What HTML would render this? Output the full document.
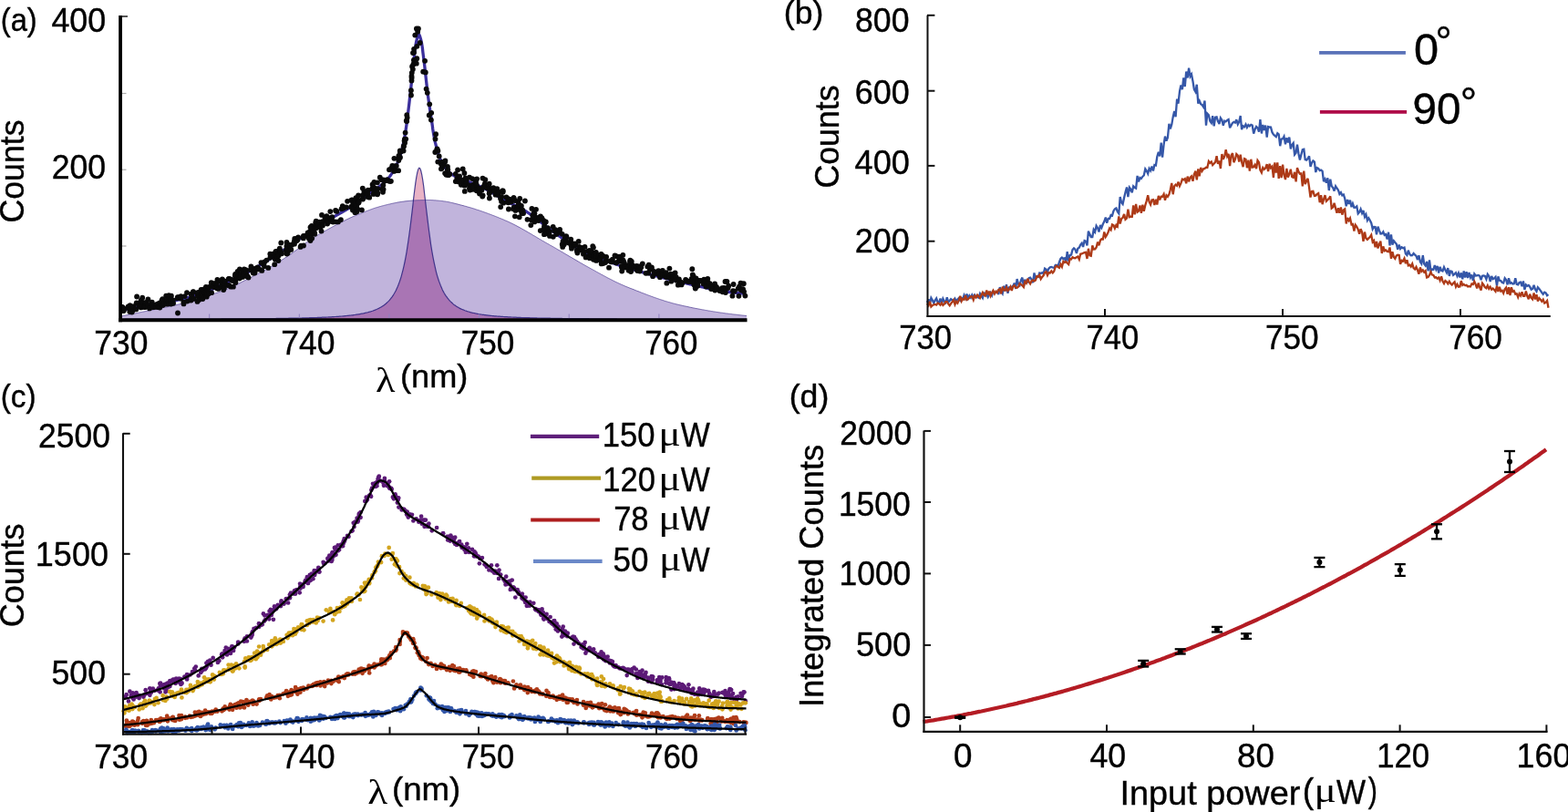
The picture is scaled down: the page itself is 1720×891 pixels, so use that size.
<!DOCTYPE html>
<html><head><meta charset="utf-8"><title>Figure</title>
<style>
html,body{margin:0;padding:0;background:#fff;width:1720px;height:891px;overflow:hidden}
svg{display:block}
text{font-family:'Liberation Sans', Arial, sans-serif;stroke:#000;stroke-width:0.4px;}
</style></head>
<body>
<svg width="1720" height="891" viewBox="0 0 1720 891">
<rect width="1720" height="891" fill="#fff"/>
<path d="M131.0,347.5 L132.0,347.3 L133.0,347.1 L134.0,346.9 L134.9,346.7 L135.9,346.4 L136.9,346.2 L137.9,346.0 L138.9,345.8 L139.9,345.6 L140.8,345.4 L141.8,345.2 L142.8,345.0 L143.8,344.8 L144.8,344.6 L145.8,344.4 L146.7,344.2 L147.7,344.0 L148.7,343.8 L149.7,343.6 L150.7,343.4 L151.7,343.2 L152.7,343.0 L153.6,342.8 L154.6,342.6 L155.6,342.4 L156.6,342.2 L157.6,342.0 L158.6,341.8 L159.5,341.6 L160.5,341.4 L161.5,341.2 L162.5,341.0 L163.5,340.8 L164.5,340.6 L165.4,340.4 L166.4,340.2 L167.4,340.0 L168.4,339.8 L169.4,339.6 L170.4,339.5 L171.4,339.3 L172.3,339.1 L173.3,338.8 L174.3,338.6 L175.3,338.4 L176.3,338.2 L177.3,338.0 L178.2,337.8 L179.2,337.6 L180.2,337.4 L181.2,337.2 L182.2,337.0 L183.2,336.8 L184.2,336.6 L185.1,336.4 L186.1,336.2 L187.1,336.0 L188.1,335.8 L189.1,335.6 L190.1,335.3 L191.0,335.1 L192.0,334.9 L193.0,334.7 L194.0,334.5 L195.0,334.2 L196.0,334.0 L196.9,333.8 L197.9,333.5 L198.9,333.3 L199.9,333.0 L200.9,332.8 L201.9,332.5 L202.9,332.2 L203.8,332.0 L204.8,331.7 L205.8,331.4 L206.8,331.1 L207.8,330.8 L208.8,330.5 L209.7,330.2 L210.7,329.9 L211.7,329.6 L212.7,329.3 L213.7,329.0 L214.7,328.7 L215.6,328.4 L216.6,328.0 L217.6,327.7 L218.6,327.4 L219.6,327.1 L220.6,326.8 L221.6,326.5 L222.5,326.1 L223.5,325.8 L224.5,325.5 L225.5,325.2 L226.5,324.9 L227.5,324.6 L228.4,324.3 L229.4,324.0 L230.4,323.7 L231.4,323.4 L232.4,323.1 L233.4,322.7 L234.3,322.4 L235.3,322.1 L236.3,321.8 L237.3,321.5 L238.3,321.1 L239.3,320.8 L240.3,320.5 L241.2,320.1 L242.2,319.8 L243.2,319.4 L244.2,319.1 L245.2,318.7 L246.2,318.3 L247.1,317.9 L248.1,317.5 L249.1,317.1 L250.1,316.7 L251.1,316.3 L252.1,315.9 L253.0,315.4 L254.0,315.0 L255.0,314.5 L256.0,314.0 L257.0,313.6 L258.0,313.1 L259.0,312.6 L259.9,312.1 L260.9,311.6 L261.9,311.1 L262.9,310.6 L263.9,310.1 L264.9,309.6 L265.8,309.1 L266.8,308.6 L267.8,308.1 L268.8,307.6 L269.8,307.1 L270.8,306.6 L271.7,306.1 L272.7,305.6 L273.7,305.1 L274.7,304.6 L275.7,304.2 L276.7,303.7 L277.7,303.2 L278.6,302.7 L279.6,302.2 L280.6,301.7 L281.6,301.2 L282.6,300.7 L283.6,300.1 L284.5,299.6 L285.5,299.1 L286.5,298.6 L287.5,298.1 L288.5,297.5 L289.5,297.0 L290.5,296.5 L291.4,295.9 L292.4,295.4 L293.4,294.8 L294.4,294.3 L295.4,293.7 L296.4,293.1 L297.3,292.6 L298.3,292.0 L299.3,291.4 L300.3,290.8 L301.3,290.2 L302.3,289.6 L303.2,289.0 L304.2,288.4 L305.2,287.8 L306.2,287.2 L307.2,286.6 L308.2,286.0 L309.2,285.3 L310.1,284.7 L311.1,284.1 L312.1,283.4 L313.1,282.8 L314.1,282.1 L315.1,281.5 L316.0,280.8 L317.0,280.2 L318.0,279.5 L319.0,278.8 L320.0,278.1 L321.0,277.4 L321.9,276.7 L322.9,276.0 L323.9,275.2 L324.9,274.5 L325.9,273.8 L326.9,273.0 L327.9,272.2 L328.8,271.5 L329.8,270.7 L330.8,270.0 L331.8,269.2 L332.8,268.5 L333.8,267.8 L334.7,267.1 L335.7,266.4 L336.7,265.7 L337.7,265.0 L338.7,264.3 L339.7,263.7 L340.6,263.0 L341.6,262.4 L342.6,261.7 L343.6,261.1 L344.6,260.5 L345.6,259.9 L346.6,259.3 L347.5,258.7 L348.5,258.1 L349.5,257.5 L350.5,256.9 L351.5,256.3 L352.5,255.8 L353.4,255.2 L354.4,254.6 L355.4,254.1 L356.4,253.5 L357.4,253.0 L358.4,252.4 L359.3,251.9 L360.3,251.3 L361.3,250.8 L362.3,250.3 L363.3,249.7 L364.3,249.2 L365.3,248.7 L366.2,248.2 L367.2,247.6 L368.2,247.1 L369.2,246.6 L370.2,246.1 L371.2,245.6 L372.1,245.0 L373.1,244.5 L374.1,244.0 L375.1,243.5 L376.1,243.0 L377.1,242.5 L378.1,242.0 L379.0,241.5 L380.0,241.0 L381.0,240.5 L382.0,240.1 L383.0,239.6 L384.0,239.1 L384.9,238.7 L385.9,238.3 L386.9,237.8 L387.9,237.4 L388.9,237.0 L389.9,236.6 L390.8,236.2 L391.8,235.8 L392.8,235.4 L393.8,235.0 L394.8,234.6 L395.8,234.2 L396.8,233.8 L397.7,233.4 L398.7,233.0 L399.7,232.6 L400.7,232.2 L401.7,231.8 L402.7,231.4 L403.6,231.0 L404.6,230.7 L405.6,230.3 L406.6,229.9 L407.6,229.6 L408.6,229.2 L409.5,228.9 L410.5,228.5 L411.5,228.2 L412.5,227.9 L413.5,227.6 L414.5,227.3 L415.5,227.0 L416.4,226.7 L417.4,226.5 L418.4,226.2 L419.4,225.9 L420.4,225.7 L421.4,225.4 L422.3,225.2 L423.3,224.9 L424.3,224.7 L425.3,224.4 L426.3,224.2 L427.3,224.0 L428.2,223.8 L429.2,223.5 L430.2,223.3 L431.2,223.1 L432.2,222.9 L433.2,222.7 L434.2,222.5 L435.1,222.3 L436.1,222.1 L437.1,221.9 L438.1,221.8 L439.1,221.6 L440.1,221.5 L441.0,221.3 L442.0,221.2 L443.0,221.1 L444.0,220.9 L445.0,220.8 L446.0,220.7 L446.9,220.6 L447.9,220.5 L448.9,220.4 L449.9,220.3 L450.9,220.2 L451.9,220.1 L452.9,220.0 L453.8,220.0 L454.8,219.9 L455.8,219.9 L456.8,219.8 L457.8,219.8 L458.8,219.7 L459.7,219.7 L460.7,219.7 L461.7,219.6 L462.7,219.6 L463.7,219.6 L464.7,219.6 L465.6,219.5 L466.6,219.5 L467.6,219.5 L468.6,219.5 L469.6,219.5 L470.6,219.5 L471.6,219.5 L472.5,219.5 L473.5,219.6 L474.5,219.6 L475.5,219.7 L476.5,219.8 L477.5,219.8 L478.4,219.9 L479.4,220.0 L480.4,220.1 L481.4,220.2 L482.4,220.3 L483.4,220.4 L484.4,220.5 L485.3,220.6 L486.3,220.8 L487.3,220.9 L488.3,221.0 L489.3,221.2 L490.3,221.4 L491.2,221.5 L492.2,221.7 L493.2,221.9 L494.2,222.2 L495.2,222.4 L496.2,222.6 L497.1,222.8 L498.1,223.1 L499.1,223.3 L500.1,223.6 L501.1,223.8 L502.1,224.1 L503.1,224.3 L504.0,224.6 L505.0,224.9 L506.0,225.1 L507.0,225.4 L508.0,225.6 L509.0,225.9 L509.9,226.2 L510.9,226.4 L511.9,226.7 L512.9,227.0 L513.9,227.3 L514.9,227.5 L515.8,227.8 L516.8,228.1 L517.8,228.4 L518.8,228.7 L519.8,229.0 L520.8,229.3 L521.8,229.7 L522.7,230.0 L523.7,230.3 L524.7,230.6 L525.7,230.9 L526.7,231.3 L527.7,231.6 L528.6,231.9 L529.6,232.3 L530.6,232.6 L531.6,233.0 L532.6,233.3 L533.6,233.7 L534.5,234.0 L535.5,234.4 L536.5,234.8 L537.5,235.1 L538.5,235.5 L539.5,235.9 L540.5,236.3 L541.4,236.6 L542.4,237.0 L543.4,237.4 L544.4,237.8 L545.4,238.2 L546.4,238.6 L547.3,239.0 L548.3,239.4 L549.3,239.8 L550.3,240.2 L551.3,240.6 L552.3,241.0 L553.2,241.5 L554.2,241.9 L555.2,242.3 L556.2,242.7 L557.2,243.2 L558.2,243.6 L559.2,244.1 L560.1,244.6 L561.1,245.0 L562.1,245.5 L563.1,246.0 L564.1,246.5 L565.1,247.0 L566.0,247.5 L567.0,248.0 L568.0,248.6 L569.0,249.1 L570.0,249.6 L571.0,250.2 L571.9,250.7 L572.9,251.3 L573.9,251.8 L574.9,252.4 L575.9,252.9 L576.9,253.5 L577.9,254.1 L578.8,254.6 L579.8,255.2 L580.8,255.8 L581.8,256.3 L582.8,256.9 L583.8,257.5 L584.7,258.1 L585.7,258.7 L586.7,259.2 L587.7,259.8 L588.7,260.4 L589.7,261.0 L590.7,261.6 L591.6,262.2 L592.6,262.7 L593.6,263.3 L594.6,263.9 L595.6,264.5 L596.6,265.0 L597.5,265.6 L598.5,266.2 L599.5,266.7 L600.5,267.3 L601.5,267.8 L602.5,268.4 L603.4,269.0 L604.4,269.5 L605.4,270.1 L606.4,270.6 L607.4,271.2 L608.4,271.8 L609.4,272.3 L610.3,272.9 L611.3,273.5 L612.3,274.1 L613.3,274.6 L614.3,275.2 L615.3,275.8 L616.2,276.4 L617.2,276.9 L618.2,277.5 L619.2,278.1 L620.2,278.7 L621.2,279.3 L622.1,279.8 L623.1,280.4 L624.1,281.0 L625.1,281.6 L626.1,282.2 L627.1,282.7 L628.1,283.3 L629.0,283.9 L630.0,284.5 L631.0,285.0 L632.0,285.6 L633.0,286.2 L634.0,286.8 L634.9,287.3 L635.9,287.9 L636.9,288.5 L637.9,289.0 L638.9,289.6 L639.9,290.2 L640.8,290.7 L641.8,291.3 L642.8,291.8 L643.8,292.4 L644.8,292.9 L645.8,293.5 L646.8,294.0 L647.7,294.6 L648.7,295.1 L649.7,295.7 L650.7,296.2 L651.7,296.7 L652.7,297.3 L653.6,297.8 L654.6,298.4 L655.6,298.9 L656.6,299.5 L657.6,300.0 L658.6,300.5 L659.5,301.1 L660.5,301.6 L661.5,302.1 L662.5,302.7 L663.5,303.2 L664.5,303.7 L665.5,304.3 L666.4,304.8 L667.4,305.3 L668.4,305.8 L669.4,306.3 L670.4,306.8 L671.4,307.3 L672.3,307.8 L673.3,308.3 L674.3,308.8 L675.3,309.3 L676.3,309.8 L677.3,310.2 L678.3,310.7 L679.2,311.1 L680.2,311.6 L681.2,312.0 L682.2,312.5 L683.2,312.9 L684.2,313.3 L685.1,313.8 L686.1,314.2 L687.1,314.6 L688.1,315.0 L689.1,315.4 L690.1,315.8 L691.0,316.2 L692.0,316.6 L693.0,316.9 L694.0,317.3 L695.0,317.7 L696.0,318.1 L697.0,318.5 L697.9,318.9 L698.9,319.3 L699.9,319.6 L700.9,320.0 L701.9,320.4 L702.9,320.8 L703.8,321.2 L704.8,321.6 L705.8,321.9 L706.8,322.3 L707.8,322.7 L708.8,323.1 L709.7,323.4 L710.7,323.8 L711.7,324.2 L712.7,324.5 L713.7,324.9 L714.7,325.3 L715.7,325.6 L716.6,326.0 L717.6,326.3 L718.6,326.7 L719.6,327.0 L720.6,327.4 L721.6,327.7 L722.5,328.0 L723.5,328.4 L724.5,328.7 L725.5,329.0 L726.5,329.3 L727.5,329.6 L728.4,330.0 L729.4,330.3 L730.4,330.6 L731.4,330.9 L732.4,331.2 L733.4,331.5 L734.4,331.7 L735.3,332.0 L736.3,332.3 L737.3,332.6 L738.3,332.9 L739.3,333.1 L740.3,333.4 L741.2,333.6 L742.2,333.9 L743.2,334.1 L744.2,334.3 L745.2,334.6 L746.2,334.8 L747.1,335.0 L748.1,335.2 L749.1,335.5 L750.1,335.7 L751.1,335.9 L752.1,336.1 L753.1,336.3 L754.0,336.5 L755.0,336.7 L756.0,337.0 L757.0,337.2 L758.0,337.4 L759.0,337.6 L759.9,337.8 L760.9,338.0 L761.9,338.2 L762.9,338.4 L763.9,338.6 L764.9,338.7 L765.8,338.9 L766.8,339.1 L767.8,339.3 L768.8,339.5 L769.8,339.7 L770.8,339.9 L771.8,340.0 L772.7,340.2 L773.7,340.4 L774.7,340.6 L775.7,340.7 L776.7,340.9 L777.7,341.1 L778.6,341.2 L779.6,341.4 L780.6,341.6 L781.6,341.7 L782.6,341.9 L783.6,342.0 L784.6,342.2 L785.5,342.3 L786.5,342.5 L787.5,342.6 L788.5,342.8 L789.5,342.9 L790.5,343.1 L791.4,343.2 L792.4,343.3 L793.4,343.5 L794.4,343.6 L795.4,343.8 L796.4,343.9 L797.3,344.0 L798.3,344.1 L799.3,344.3 L800.3,344.4 L801.3,344.5 L802.3,344.6 L803.3,344.8 L804.2,344.9 L805.2,345.0 L806.2,345.1 L807.2,345.2 L808.2,345.3 L809.2,345.5 L810.1,345.6 L811.1,345.7 L812.1,345.8 L813.1,345.9 L814.1,346.0 L815.1,346.1 L816.0,346.2 L817.0,346.3 L818.0,346.4 L819.0,346.5 L819,350.5 L131,350.5 Z" fill="#c1b4dc" stroke="none"/>
<path d="M131.0,350.3 L132.0,350.3 L133.0,350.3 L134.0,350.3 L134.9,350.3 L135.9,350.3 L136.9,350.3 L137.9,350.2 L138.9,350.2 L139.9,350.2 L140.8,350.2 L141.8,350.2 L142.8,350.2 L143.8,350.2 L144.8,350.2 L145.8,350.2 L146.7,350.2 L147.7,350.2 L148.7,350.2 L149.7,350.2 L150.7,350.2 L151.7,350.2 L152.7,350.2 L153.6,350.2 L154.6,350.2 L155.6,350.2 L156.6,350.2 L157.6,350.2 L158.6,350.2 L159.5,350.2 L160.5,350.2 L161.5,350.2 L162.5,350.2 L163.5,350.2 L164.5,350.2 L165.4,350.2 L166.4,350.2 L167.4,350.2 L168.4,350.2 L169.4,350.2 L170.4,350.2 L171.4,350.2 L172.3,350.2 L173.3,350.2 L174.3,350.2 L175.3,350.2 L176.3,350.2 L177.3,350.2 L178.2,350.2 L179.2,350.2 L180.2,350.2 L181.2,350.2 L182.2,350.2 L183.2,350.2 L184.2,350.2 L185.1,350.2 L186.1,350.2 L187.1,350.2 L188.1,350.1 L189.1,350.1 L190.1,350.1 L191.0,350.1 L192.0,350.1 L193.0,350.1 L194.0,350.1 L195.0,350.1 L196.0,350.1 L196.9,350.1 L197.9,350.1 L198.9,350.1 L199.9,350.1 L200.9,350.1 L201.9,350.1 L202.9,350.1 L203.8,350.1 L204.8,350.1 L205.8,350.1 L206.8,350.1 L207.8,350.1 L208.8,350.1 L209.7,350.1 L210.7,350.1 L211.7,350.1 L212.7,350.1 L213.7,350.1 L214.7,350.1 L215.6,350.1 L216.6,350.1 L217.6,350.1 L218.6,350.1 L219.6,350.1 L220.6,350.0 L221.6,350.0 L222.5,350.0 L223.5,350.0 L224.5,350.0 L225.5,350.0 L226.5,350.0 L227.5,350.0 L228.4,350.0 L229.4,350.0 L230.4,350.0 L231.4,350.0 L232.4,350.0 L233.4,350.0 L234.3,350.0 L235.3,350.0 L236.3,350.0 L237.3,350.0 L238.3,350.0 L239.3,350.0 L240.3,350.0 L241.2,350.0 L242.2,350.0 L243.2,349.9 L244.2,349.9 L245.2,349.9 L246.2,349.9 L247.1,349.9 L248.1,349.9 L249.1,349.9 L250.1,349.9 L251.1,349.9 L252.1,349.9 L253.0,349.9 L254.0,349.9 L255.0,349.9 L256.0,349.9 L257.0,349.9 L258.0,349.9 L259.0,349.9 L259.9,349.9 L260.9,349.8 L261.9,349.8 L262.9,349.8 L263.9,349.8 L264.9,349.8 L265.8,349.8 L266.8,349.8 L267.8,349.8 L268.8,349.8 L269.8,349.8 L270.8,349.8 L271.7,349.8 L272.7,349.8 L273.7,349.8 L274.7,349.7 L275.7,349.7 L276.7,349.7 L277.7,349.7 L278.6,349.7 L279.6,349.7 L280.6,349.7 L281.6,349.7 L282.6,349.7 L283.6,349.7 L284.5,349.7 L285.5,349.7 L286.5,349.6 L287.5,349.6 L288.5,349.6 L289.5,349.6 L290.5,349.6 L291.4,349.6 L292.4,349.6 L293.4,349.6 L294.4,349.6 L295.4,349.5 L296.4,349.5 L297.3,349.5 L298.3,349.5 L299.3,349.5 L300.3,349.5 L301.3,349.5 L302.3,349.5 L303.2,349.4 L304.2,349.4 L305.2,349.4 L306.2,349.4 L307.2,349.4 L308.2,349.4 L309.2,349.4 L310.1,349.4 L311.1,349.3 L312.1,349.3 L313.1,349.3 L314.1,349.3 L315.1,349.3 L316.0,349.3 L317.0,349.2 L318.0,349.2 L319.0,349.2 L320.0,349.2 L321.0,349.2 L321.9,349.1 L322.9,349.1 L323.9,349.1 L324.9,349.1 L325.9,349.1 L326.9,349.0 L327.9,349.0 L328.8,349.0 L329.8,349.0 L330.8,349.0 L331.8,348.9 L332.8,348.9 L333.8,348.9 L334.7,348.9 L335.7,348.8 L336.7,348.8 L337.7,348.8 L338.7,348.8 L339.7,348.7 L340.6,348.7 L341.6,348.7 L342.6,348.6 L343.6,348.6 L344.6,348.6 L345.6,348.5 L346.6,348.5 L347.5,348.5 L348.5,348.4 L349.5,348.4 L350.5,348.4 L351.5,348.3 L352.5,348.3 L353.4,348.2 L354.4,348.2 L355.4,348.2 L356.4,348.1 L357.4,348.1 L358.4,348.0 L359.3,348.0 L360.3,347.9 L361.3,347.9 L362.3,347.8 L363.3,347.8 L364.3,347.7 L365.3,347.7 L366.2,347.6 L367.2,347.5 L368.2,347.5 L369.2,347.4 L370.2,347.3 L371.2,347.3 L372.1,347.2 L373.1,347.1 L374.1,347.0 L375.1,347.0 L376.1,346.9 L377.1,346.8 L378.1,346.7 L379.0,346.6 L380.0,346.5 L381.0,346.4 L382.0,346.3 L383.0,346.2 L384.0,346.1 L384.9,346.0 L385.9,345.9 L386.9,345.8 L387.9,345.6 L388.9,345.5 L389.9,345.4 L390.8,345.2 L391.8,345.1 L392.8,344.9 L393.8,344.8 L394.8,344.6 L395.8,344.4 L396.8,344.2 L397.7,344.1 L398.7,343.9 L399.7,343.6 L400.7,343.4 L401.7,343.2 L402.7,343.0 L403.6,342.7 L404.6,342.4 L405.6,342.2 L406.6,341.9 L407.6,341.5 L408.6,341.2 L409.5,340.9 L410.5,340.5 L411.5,340.1 L412.5,339.7 L413.5,339.3 L414.5,338.8 L415.5,338.4 L416.4,337.8 L417.4,337.3 L418.4,336.7 L419.4,336.1 L420.4,335.4 L421.4,334.7 L422.3,334.0 L423.3,333.2 L424.3,332.3 L425.3,331.4 L426.3,330.4 L427.3,329.3 L428.2,328.2 L429.2,326.9 L430.2,325.6 L431.2,324.1 L432.2,322.5 L433.2,320.8 L434.2,319.0 L435.1,316.9 L436.1,314.7 L437.1,312.3 L438.1,309.6 L439.1,306.7 L440.1,303.6 L441.0,300.1 L442.0,296.3 L443.0,292.1 L444.0,287.5 L445.0,282.4 L446.0,276.9 L446.9,270.9 L447.9,264.4 L448.9,257.3 L449.9,249.8 L450.9,241.9 L451.9,233.6 L452.9,225.1 L453.8,216.6 L454.8,208.5 L455.8,200.9 L456.8,194.4 L457.8,189.2 L458.8,185.7 L459.7,184.2 L460.7,184.7 L461.7,187.2 L462.7,191.5 L463.7,197.4 L464.7,204.4 L465.6,212.3 L466.6,220.7 L467.6,229.2 L468.6,237.6 L469.6,245.7 L470.6,253.5 L471.6,260.8 L472.5,267.6 L473.5,273.8 L474.5,279.6 L475.5,284.9 L476.5,289.7 L477.5,294.1 L478.4,298.1 L479.4,301.8 L480.4,305.1 L481.4,308.2 L482.4,310.9 L483.4,313.5 L484.4,315.8 L485.3,317.9 L486.3,319.9 L487.3,321.7 L488.3,323.3 L489.3,324.8 L490.3,326.2 L491.2,327.5 L492.2,328.7 L493.2,329.8 L494.2,330.9 L495.2,331.8 L496.2,332.7 L497.1,333.6 L498.1,334.4 L499.1,335.1 L500.1,335.8 L501.1,336.4 L502.1,337.0 L503.1,337.6 L504.0,338.1 L505.0,338.6 L506.0,339.1 L507.0,339.5 L508.0,339.9 L509.0,340.3 L509.9,340.7 L510.9,341.0 L511.9,341.4 L512.9,341.7 L513.9,342.0 L514.9,342.3 L515.8,342.6 L516.8,342.8 L517.8,343.1 L518.8,343.3 L519.8,343.5 L520.8,343.7 L521.8,344.0 L522.7,344.1 L523.7,344.3 L524.7,344.5 L525.7,344.7 L526.7,344.8 L527.7,345.0 L528.6,345.2 L529.6,345.3 L530.6,345.4 L531.6,345.6 L532.6,345.7 L533.6,345.8 L534.5,345.9 L535.5,346.1 L536.5,346.2 L537.5,346.3 L538.5,346.4 L539.5,346.5 L540.5,346.6 L541.4,346.7 L542.4,346.8 L543.4,346.8 L544.4,346.9 L545.4,347.0 L546.4,347.1 L547.3,347.2 L548.3,347.2 L549.3,347.3 L550.3,347.4 L551.3,347.4 L552.3,347.5 L553.2,347.6 L554.2,347.6 L555.2,347.7 L556.2,347.7 L557.2,347.8 L558.2,347.8 L559.2,347.9 L560.1,347.9 L561.1,348.0 L562.1,348.0 L563.1,348.1 L564.1,348.1 L565.1,348.2 L566.0,348.2 L567.0,348.3 L568.0,348.3 L569.0,348.3 L570.0,348.4 L571.0,348.4 L571.9,348.5 L572.9,348.5 L573.9,348.5 L574.9,348.6 L575.9,348.6 L576.9,348.6 L577.9,348.6 L578.8,348.7 L579.8,348.7 L580.8,348.7 L581.8,348.8 L582.8,348.8 L583.8,348.8 L584.7,348.8 L585.7,348.9 L586.7,348.9 L587.7,348.9 L588.7,348.9 L589.7,349.0 L590.7,349.0 L591.6,349.0 L592.6,349.0 L593.6,349.1 L594.6,349.1 L595.6,349.1 L596.6,349.1 L597.5,349.1 L598.5,349.2 L599.5,349.2 L600.5,349.2 L601.5,349.2 L602.5,349.2 L603.4,349.2 L604.4,349.3 L605.4,349.3 L606.4,349.3 L607.4,349.3 L608.4,349.3 L609.4,349.3 L610.3,349.4 L611.3,349.4 L612.3,349.4 L613.3,349.4 L614.3,349.4 L615.3,349.4 L616.2,349.4 L617.2,349.5 L618.2,349.5 L619.2,349.5 L620.2,349.5 L621.2,349.5 L622.1,349.5 L623.1,349.5 L624.1,349.5 L625.1,349.6 L626.1,349.6 L627.1,349.6 L628.1,349.6 L629.0,349.6 L630.0,349.6 L631.0,349.6 L632.0,349.6 L633.0,349.6 L634.0,349.6 L634.9,349.7 L635.9,349.7 L636.9,349.7 L637.9,349.7 L638.9,349.7 L639.9,349.7 L640.8,349.7 L641.8,349.7 L642.8,349.7 L643.8,349.7 L644.8,349.7 L645.8,349.7 L646.8,349.8 L647.7,349.8 L648.7,349.8 L649.7,349.8 L650.7,349.8 L651.7,349.8 L652.7,349.8 L653.6,349.8 L654.6,349.8 L655.6,349.8 L656.6,349.8 L657.6,349.8 L658.6,349.8 L659.5,349.8 L660.5,349.9 L661.5,349.9 L662.5,349.9 L663.5,349.9 L664.5,349.9 L665.5,349.9 L666.4,349.9 L667.4,349.9 L668.4,349.9 L669.4,349.9 L670.4,349.9 L671.4,349.9 L672.3,349.9 L673.3,349.9 L674.3,349.9 L675.3,349.9 L676.3,349.9 L677.3,350.0 L678.3,350.0 L679.2,350.0 L680.2,350.0 L681.2,350.0 L682.2,350.0 L683.2,350.0 L684.2,350.0 L685.1,350.0 L686.1,350.0 L687.1,350.0 L688.1,350.0 L689.1,350.0 L690.1,350.0 L691.0,350.0 L692.0,350.0 L693.0,350.0 L694.0,350.0 L695.0,350.0 L696.0,350.0 L697.0,350.0 L697.9,350.0 L698.9,350.0 L699.9,350.0 L700.9,350.1 L701.9,350.1 L702.9,350.1 L703.8,350.1 L704.8,350.1 L705.8,350.1 L706.8,350.1 L707.8,350.1 L708.8,350.1 L709.7,350.1 L710.7,350.1 L711.7,350.1 L712.7,350.1 L713.7,350.1 L714.7,350.1 L715.7,350.1 L716.6,350.1 L717.6,350.1 L718.6,350.1 L719.6,350.1 L720.6,350.1 L721.6,350.1 L722.5,350.1 L723.5,350.1 L724.5,350.1 L725.5,350.1 L726.5,350.1 L727.5,350.1 L728.4,350.1 L729.4,350.1 L730.4,350.1 L731.4,350.1 L732.4,350.2 L733.4,350.2 L734.4,350.2 L735.3,350.2 L736.3,350.2 L737.3,350.2 L738.3,350.2 L739.3,350.2 L740.3,350.2 L741.2,350.2 L742.2,350.2 L743.2,350.2 L744.2,350.2 L745.2,350.2 L746.2,350.2 L747.1,350.2 L748.1,350.2 L749.1,350.2 L750.1,350.2 L751.1,350.2 L752.1,350.2 L753.1,350.2 L754.0,350.2 L755.0,350.2 L756.0,350.2 L757.0,350.2 L758.0,350.2 L759.0,350.2 L759.9,350.2 L760.9,350.2 L761.9,350.2 L762.9,350.2 L763.9,350.2 L764.9,350.2 L765.8,350.2 L766.8,350.2 L767.8,350.2 L768.8,350.2 L769.8,350.2 L770.8,350.2 L771.8,350.2 L772.7,350.2 L773.7,350.2 L774.7,350.2 L775.7,350.2 L776.7,350.2 L777.7,350.2 L778.6,350.2 L779.6,350.2 L780.6,350.2 L781.6,350.2 L782.6,350.3 L783.6,350.3 L784.6,350.3 L785.5,350.3 L786.5,350.3 L787.5,350.3 L788.5,350.3 L789.5,350.3 L790.5,350.3 L791.4,350.3 L792.4,350.3 L793.4,350.3 L794.4,350.3 L795.4,350.3 L796.4,350.3 L797.3,350.3 L798.3,350.3 L799.3,350.3 L800.3,350.3 L801.3,350.3 L802.3,350.3 L803.3,350.3 L804.2,350.3 L805.2,350.3 L806.2,350.3 L807.2,350.3 L808.2,350.3 L809.2,350.3 L810.1,350.3 L811.1,350.3 L812.1,350.3 L813.1,350.3 L814.1,350.3 L815.1,350.3 L816.0,350.3 L817.0,350.3 L818.0,350.3 L819.0,350.3 L819,350.5 L131,350.5 Z" fill="#e9b3c6" stroke="none"/>
<path d="M131.0,350.3 L132.0,350.3 L133.0,350.3 L134.0,350.3 L134.9,350.3 L135.9,350.3 L136.9,350.3 L137.9,350.2 L138.9,350.2 L139.9,350.2 L140.8,350.2 L141.8,350.2 L142.8,350.2 L143.8,350.2 L144.8,350.2 L145.8,350.2 L146.7,350.2 L147.7,350.2 L148.7,350.2 L149.7,350.2 L150.7,350.2 L151.7,350.2 L152.7,350.2 L153.6,350.2 L154.6,350.2 L155.6,350.2 L156.6,350.2 L157.6,350.2 L158.6,350.2 L159.5,350.2 L160.5,350.2 L161.5,350.2 L162.5,350.2 L163.5,350.2 L164.5,350.2 L165.4,350.2 L166.4,350.2 L167.4,350.2 L168.4,350.2 L169.4,350.2 L170.4,350.2 L171.4,350.2 L172.3,350.2 L173.3,350.2 L174.3,350.2 L175.3,350.2 L176.3,350.2 L177.3,350.2 L178.2,350.2 L179.2,350.2 L180.2,350.2 L181.2,350.2 L182.2,350.2 L183.2,350.2 L184.2,350.2 L185.1,350.2 L186.1,350.2 L187.1,350.2 L188.1,350.1 L189.1,350.1 L190.1,350.1 L191.0,350.1 L192.0,350.1 L193.0,350.1 L194.0,350.1 L195.0,350.1 L196.0,350.1 L196.9,350.1 L197.9,350.1 L198.9,350.1 L199.9,350.1 L200.9,350.1 L201.9,350.1 L202.9,350.1 L203.8,350.1 L204.8,350.1 L205.8,350.1 L206.8,350.1 L207.8,350.1 L208.8,350.1 L209.7,350.1 L210.7,350.1 L211.7,350.1 L212.7,350.1 L213.7,350.1 L214.7,350.1 L215.6,350.1 L216.6,350.1 L217.6,350.1 L218.6,350.1 L219.6,350.1 L220.6,350.0 L221.6,350.0 L222.5,350.0 L223.5,350.0 L224.5,350.0 L225.5,350.0 L226.5,350.0 L227.5,350.0 L228.4,350.0 L229.4,350.0 L230.4,350.0 L231.4,350.0 L232.4,350.0 L233.4,350.0 L234.3,350.0 L235.3,350.0 L236.3,350.0 L237.3,350.0 L238.3,350.0 L239.3,350.0 L240.3,350.0 L241.2,350.0 L242.2,350.0 L243.2,349.9 L244.2,349.9 L245.2,349.9 L246.2,349.9 L247.1,349.9 L248.1,349.9 L249.1,349.9 L250.1,349.9 L251.1,349.9 L252.1,349.9 L253.0,349.9 L254.0,349.9 L255.0,349.9 L256.0,349.9 L257.0,349.9 L258.0,349.9 L259.0,349.9 L259.9,349.9 L260.9,349.8 L261.9,349.8 L262.9,349.8 L263.9,349.8 L264.9,349.8 L265.8,349.8 L266.8,349.8 L267.8,349.8 L268.8,349.8 L269.8,349.8 L270.8,349.8 L271.7,349.8 L272.7,349.8 L273.7,349.8 L274.7,349.7 L275.7,349.7 L276.7,349.7 L277.7,349.7 L278.6,349.7 L279.6,349.7 L280.6,349.7 L281.6,349.7 L282.6,349.7 L283.6,349.7 L284.5,349.7 L285.5,349.7 L286.5,349.6 L287.5,349.6 L288.5,349.6 L289.5,349.6 L290.5,349.6 L291.4,349.6 L292.4,349.6 L293.4,349.6 L294.4,349.6 L295.4,349.5 L296.4,349.5 L297.3,349.5 L298.3,349.5 L299.3,349.5 L300.3,349.5 L301.3,349.5 L302.3,349.5 L303.2,349.4 L304.2,349.4 L305.2,349.4 L306.2,349.4 L307.2,349.4 L308.2,349.4 L309.2,349.4 L310.1,349.4 L311.1,349.3 L312.1,349.3 L313.1,349.3 L314.1,349.3 L315.1,349.3 L316.0,349.3 L317.0,349.2 L318.0,349.2 L319.0,349.2 L320.0,349.2 L321.0,349.2 L321.9,349.1 L322.9,349.1 L323.9,349.1 L324.9,349.1 L325.9,349.1 L326.9,349.0 L327.9,349.0 L328.8,349.0 L329.8,349.0 L330.8,349.0 L331.8,348.9 L332.8,348.9 L333.8,348.9 L334.7,348.9 L335.7,348.8 L336.7,348.8 L337.7,348.8 L338.7,348.8 L339.7,348.7 L340.6,348.7 L341.6,348.7 L342.6,348.6 L343.6,348.6 L344.6,348.6 L345.6,348.5 L346.6,348.5 L347.5,348.5 L348.5,348.4 L349.5,348.4 L350.5,348.4 L351.5,348.3 L352.5,348.3 L353.4,348.2 L354.4,348.2 L355.4,348.2 L356.4,348.1 L357.4,348.1 L358.4,348.0 L359.3,348.0 L360.3,347.9 L361.3,347.9 L362.3,347.8 L363.3,347.8 L364.3,347.7 L365.3,347.7 L366.2,347.6 L367.2,347.5 L368.2,347.5 L369.2,347.4 L370.2,347.3 L371.2,347.3 L372.1,347.2 L373.1,347.1 L374.1,347.0 L375.1,347.0 L376.1,346.9 L377.1,346.8 L378.1,346.7 L379.0,346.6 L380.0,346.5 L381.0,346.4 L382.0,346.3 L383.0,346.2 L384.0,346.1 L384.9,346.0 L385.9,345.9 L386.9,345.8 L387.9,345.6 L388.9,345.5 L389.9,345.4 L390.8,345.2 L391.8,345.1 L392.8,344.9 L393.8,344.8 L394.8,344.6 L395.8,344.4 L396.8,344.2 L397.7,344.1 L398.7,343.9 L399.7,343.6 L400.7,343.4 L401.7,343.2 L402.7,343.0 L403.6,342.7 L404.6,342.4 L405.6,342.2 L406.6,341.9 L407.6,341.5 L408.6,341.2 L409.5,340.9 L410.5,340.5 L411.5,340.1 L412.5,339.7 L413.5,339.3 L414.5,338.8 L415.5,338.4 L416.4,337.8 L417.4,337.3 L418.4,336.7 L419.4,336.1 L420.4,335.4 L421.4,334.7 L422.3,334.0 L423.3,333.2 L424.3,332.3 L425.3,331.4 L426.3,330.4 L427.3,329.3 L428.2,328.2 L429.2,326.9 L430.2,325.6 L431.2,324.1 L432.2,322.5 L433.2,320.8 L434.2,319.0 L435.1,316.9 L436.1,314.7 L437.1,312.3 L438.1,309.6 L439.1,306.7 L440.1,303.6 L441.0,300.1 L442.0,296.3 L443.0,292.1 L444.0,287.5 L445.0,282.4 L446.0,276.9 L446.9,270.9 L447.9,264.4 L448.9,257.3 L449.9,249.8 L450.9,241.9 L451.9,233.6 L452.9,225.1 L453.8,220.0 L454.8,219.9 L455.8,219.9 L456.8,219.8 L457.8,219.8 L458.8,219.7 L459.7,219.7 L460.7,219.7 L461.7,219.6 L462.7,219.6 L463.7,219.6 L464.7,219.6 L465.6,219.5 L466.6,220.7 L467.6,229.2 L468.6,237.6 L469.6,245.7 L470.6,253.5 L471.6,260.8 L472.5,267.6 L473.5,273.8 L474.5,279.6 L475.5,284.9 L476.5,289.7 L477.5,294.1 L478.4,298.1 L479.4,301.8 L480.4,305.1 L481.4,308.2 L482.4,310.9 L483.4,313.5 L484.4,315.8 L485.3,317.9 L486.3,319.9 L487.3,321.7 L488.3,323.3 L489.3,324.8 L490.3,326.2 L491.2,327.5 L492.2,328.7 L493.2,329.8 L494.2,330.9 L495.2,331.8 L496.2,332.7 L497.1,333.6 L498.1,334.4 L499.1,335.1 L500.1,335.8 L501.1,336.4 L502.1,337.0 L503.1,337.6 L504.0,338.1 L505.0,338.6 L506.0,339.1 L507.0,339.5 L508.0,339.9 L509.0,340.3 L509.9,340.7 L510.9,341.0 L511.9,341.4 L512.9,341.7 L513.9,342.0 L514.9,342.3 L515.8,342.6 L516.8,342.8 L517.8,343.1 L518.8,343.3 L519.8,343.5 L520.8,343.7 L521.8,344.0 L522.7,344.1 L523.7,344.3 L524.7,344.5 L525.7,344.7 L526.7,344.8 L527.7,345.0 L528.6,345.2 L529.6,345.3 L530.6,345.4 L531.6,345.6 L532.6,345.7 L533.6,345.8 L534.5,345.9 L535.5,346.1 L536.5,346.2 L537.5,346.3 L538.5,346.4 L539.5,346.5 L540.5,346.6 L541.4,346.7 L542.4,346.8 L543.4,346.8 L544.4,346.9 L545.4,347.0 L546.4,347.1 L547.3,347.2 L548.3,347.2 L549.3,347.3 L550.3,347.4 L551.3,347.4 L552.3,347.5 L553.2,347.6 L554.2,347.6 L555.2,347.7 L556.2,347.7 L557.2,347.8 L558.2,347.8 L559.2,347.9 L560.1,347.9 L561.1,348.0 L562.1,348.0 L563.1,348.1 L564.1,348.1 L565.1,348.2 L566.0,348.2 L567.0,348.3 L568.0,348.3 L569.0,348.3 L570.0,348.4 L571.0,348.4 L571.9,348.5 L572.9,348.5 L573.9,348.5 L574.9,348.6 L575.9,348.6 L576.9,348.6 L577.9,348.6 L578.8,348.7 L579.8,348.7 L580.8,348.7 L581.8,348.8 L582.8,348.8 L583.8,348.8 L584.7,348.8 L585.7,348.9 L586.7,348.9 L587.7,348.9 L588.7,348.9 L589.7,349.0 L590.7,349.0 L591.6,349.0 L592.6,349.0 L593.6,349.1 L594.6,349.1 L595.6,349.1 L596.6,349.1 L597.5,349.1 L598.5,349.2 L599.5,349.2 L600.5,349.2 L601.5,349.2 L602.5,349.2 L603.4,349.2 L604.4,349.3 L605.4,349.3 L606.4,349.3 L607.4,349.3 L608.4,349.3 L609.4,349.3 L610.3,349.4 L611.3,349.4 L612.3,349.4 L613.3,349.4 L614.3,349.4 L615.3,349.4 L616.2,349.4 L617.2,349.5 L618.2,349.5 L619.2,349.5 L620.2,349.5 L621.2,349.5 L622.1,349.5 L623.1,349.5 L624.1,349.5 L625.1,349.6 L626.1,349.6 L627.1,349.6 L628.1,349.6 L629.0,349.6 L630.0,349.6 L631.0,349.6 L632.0,349.6 L633.0,349.6 L634.0,349.6 L634.9,349.7 L635.9,349.7 L636.9,349.7 L637.9,349.7 L638.9,349.7 L639.9,349.7 L640.8,349.7 L641.8,349.7 L642.8,349.7 L643.8,349.7 L644.8,349.7 L645.8,349.7 L646.8,349.8 L647.7,349.8 L648.7,349.8 L649.7,349.8 L650.7,349.8 L651.7,349.8 L652.7,349.8 L653.6,349.8 L654.6,349.8 L655.6,349.8 L656.6,349.8 L657.6,349.8 L658.6,349.8 L659.5,349.8 L660.5,349.9 L661.5,349.9 L662.5,349.9 L663.5,349.9 L664.5,349.9 L665.5,349.9 L666.4,349.9 L667.4,349.9 L668.4,349.9 L669.4,349.9 L670.4,349.9 L671.4,349.9 L672.3,349.9 L673.3,349.9 L674.3,349.9 L675.3,349.9 L676.3,349.9 L677.3,350.0 L678.3,350.0 L679.2,350.0 L680.2,350.0 L681.2,350.0 L682.2,350.0 L683.2,350.0 L684.2,350.0 L685.1,350.0 L686.1,350.0 L687.1,350.0 L688.1,350.0 L689.1,350.0 L690.1,350.0 L691.0,350.0 L692.0,350.0 L693.0,350.0 L694.0,350.0 L695.0,350.0 L696.0,350.0 L697.0,350.0 L697.9,350.0 L698.9,350.0 L699.9,350.0 L700.9,350.1 L701.9,350.1 L702.9,350.1 L703.8,350.1 L704.8,350.1 L705.8,350.1 L706.8,350.1 L707.8,350.1 L708.8,350.1 L709.7,350.1 L710.7,350.1 L711.7,350.1 L712.7,350.1 L713.7,350.1 L714.7,350.1 L715.7,350.1 L716.6,350.1 L717.6,350.1 L718.6,350.1 L719.6,350.1 L720.6,350.1 L721.6,350.1 L722.5,350.1 L723.5,350.1 L724.5,350.1 L725.5,350.1 L726.5,350.1 L727.5,350.1 L728.4,350.1 L729.4,350.1 L730.4,350.1 L731.4,350.1 L732.4,350.2 L733.4,350.2 L734.4,350.2 L735.3,350.2 L736.3,350.2 L737.3,350.2 L738.3,350.2 L739.3,350.2 L740.3,350.2 L741.2,350.2 L742.2,350.2 L743.2,350.2 L744.2,350.2 L745.2,350.2 L746.2,350.2 L747.1,350.2 L748.1,350.2 L749.1,350.2 L750.1,350.2 L751.1,350.2 L752.1,350.2 L753.1,350.2 L754.0,350.2 L755.0,350.2 L756.0,350.2 L757.0,350.2 L758.0,350.2 L759.0,350.2 L759.9,350.2 L760.9,350.2 L761.9,350.2 L762.9,350.2 L763.9,350.2 L764.9,350.2 L765.8,350.2 L766.8,350.2 L767.8,350.2 L768.8,350.2 L769.8,350.2 L770.8,350.2 L771.8,350.2 L772.7,350.2 L773.7,350.2 L774.7,350.2 L775.7,350.2 L776.7,350.2 L777.7,350.2 L778.6,350.2 L779.6,350.2 L780.6,350.2 L781.6,350.2 L782.6,350.3 L783.6,350.3 L784.6,350.3 L785.5,350.3 L786.5,350.3 L787.5,350.3 L788.5,350.3 L789.5,350.3 L790.5,350.3 L791.4,350.3 L792.4,350.3 L793.4,350.3 L794.4,350.3 L795.4,350.3 L796.4,350.3 L797.3,350.3 L798.3,350.3 L799.3,350.3 L800.3,350.3 L801.3,350.3 L802.3,350.3 L803.3,350.3 L804.2,350.3 L805.2,350.3 L806.2,350.3 L807.2,350.3 L808.2,350.3 L809.2,350.3 L810.1,350.3 L811.1,350.3 L812.1,350.3 L813.1,350.3 L814.1,350.3 L815.1,350.3 L816.0,350.3 L817.0,350.3 L818.0,350.3 L819.0,350.3 L819,350.5 L131,350.5 Z" fill="#a975b4" stroke="none"/>
<path d="M131.0,347.5 L132.0,347.3 L133.0,347.1 L134.0,346.9 L134.9,346.7 L135.9,346.4 L136.9,346.2 L137.9,346.0 L138.9,345.8 L139.9,345.6 L140.8,345.4 L141.8,345.2 L142.8,345.0 L143.8,344.8 L144.8,344.6 L145.8,344.4 L146.7,344.2 L147.7,344.0 L148.7,343.8 L149.7,343.6 L150.7,343.4 L151.7,343.2 L152.7,343.0 L153.6,342.8 L154.6,342.6 L155.6,342.4 L156.6,342.2 L157.6,342.0 L158.6,341.8 L159.5,341.6 L160.5,341.4 L161.5,341.2 L162.5,341.0 L163.5,340.8 L164.5,340.6 L165.4,340.4 L166.4,340.2 L167.4,340.0 L168.4,339.8 L169.4,339.6 L170.4,339.5 L171.4,339.3 L172.3,339.1 L173.3,338.8 L174.3,338.6 L175.3,338.4 L176.3,338.2 L177.3,338.0 L178.2,337.8 L179.2,337.6 L180.2,337.4 L181.2,337.2 L182.2,337.0 L183.2,336.8 L184.2,336.6 L185.1,336.4 L186.1,336.2 L187.1,336.0 L188.1,335.8 L189.1,335.6 L190.1,335.3 L191.0,335.1 L192.0,334.9 L193.0,334.7 L194.0,334.5 L195.0,334.2 L196.0,334.0 L196.9,333.8 L197.9,333.5 L198.9,333.3 L199.9,333.0 L200.9,332.8 L201.9,332.5 L202.9,332.2 L203.8,332.0 L204.8,331.7 L205.8,331.4 L206.8,331.1 L207.8,330.8 L208.8,330.5 L209.7,330.2 L210.7,329.9 L211.7,329.6 L212.7,329.3 L213.7,329.0 L214.7,328.7 L215.6,328.4 L216.6,328.0 L217.6,327.7 L218.6,327.4 L219.6,327.1 L220.6,326.8 L221.6,326.5 L222.5,326.1 L223.5,325.8 L224.5,325.5 L225.5,325.2 L226.5,324.9 L227.5,324.6 L228.4,324.3 L229.4,324.0 L230.4,323.7 L231.4,323.4 L232.4,323.1 L233.4,322.7 L234.3,322.4 L235.3,322.1 L236.3,321.8 L237.3,321.5 L238.3,321.1 L239.3,320.8 L240.3,320.5 L241.2,320.1 L242.2,319.8 L243.2,319.4 L244.2,319.1 L245.2,318.7 L246.2,318.3 L247.1,317.9 L248.1,317.5 L249.1,317.1 L250.1,316.7 L251.1,316.3 L252.1,315.9 L253.0,315.4 L254.0,315.0 L255.0,314.5 L256.0,314.0 L257.0,313.6 L258.0,313.1 L259.0,312.6 L259.9,312.1 L260.9,311.6 L261.9,311.1 L262.9,310.6 L263.9,310.1 L264.9,309.6 L265.8,309.1 L266.8,308.6 L267.8,308.1 L268.8,307.6 L269.8,307.1 L270.8,306.6 L271.7,306.1 L272.7,305.6 L273.7,305.1 L274.7,304.6 L275.7,304.2 L276.7,303.7 L277.7,303.2 L278.6,302.7 L279.6,302.2 L280.6,301.7 L281.6,301.2 L282.6,300.7 L283.6,300.1 L284.5,299.6 L285.5,299.1 L286.5,298.6 L287.5,298.1 L288.5,297.5 L289.5,297.0 L290.5,296.5 L291.4,295.9 L292.4,295.4 L293.4,294.8 L294.4,294.3 L295.4,293.7 L296.4,293.1 L297.3,292.6 L298.3,292.0 L299.3,291.4 L300.3,290.8 L301.3,290.2 L302.3,289.6 L303.2,289.0 L304.2,288.4 L305.2,287.8 L306.2,287.2 L307.2,286.6 L308.2,286.0 L309.2,285.3 L310.1,284.7 L311.1,284.1 L312.1,283.4 L313.1,282.8 L314.1,282.1 L315.1,281.5 L316.0,280.8 L317.0,280.2 L318.0,279.5 L319.0,278.8 L320.0,278.1 L321.0,277.4 L321.9,276.7 L322.9,276.0 L323.9,275.2 L324.9,274.5 L325.9,273.8 L326.9,273.0 L327.9,272.2 L328.8,271.5 L329.8,270.7 L330.8,270.0 L331.8,269.2 L332.8,268.5 L333.8,267.8 L334.7,267.1 L335.7,266.4 L336.7,265.7 L337.7,265.0 L338.7,264.3 L339.7,263.7 L340.6,263.0 L341.6,262.4 L342.6,261.7 L343.6,261.1 L344.6,260.5 L345.6,259.9 L346.6,259.3 L347.5,258.7 L348.5,258.1 L349.5,257.5 L350.5,256.9 L351.5,256.3 L352.5,255.8 L353.4,255.2 L354.4,254.6 L355.4,254.1 L356.4,253.5 L357.4,253.0 L358.4,252.4 L359.3,251.9 L360.3,251.3 L361.3,250.8 L362.3,250.3 L363.3,249.7 L364.3,249.2 L365.3,248.7 L366.2,248.2 L367.2,247.6 L368.2,247.1 L369.2,246.6 L370.2,246.1 L371.2,245.6 L372.1,245.0 L373.1,244.5 L374.1,244.0 L375.1,243.5 L376.1,243.0 L377.1,242.5 L378.1,242.0 L379.0,241.5 L380.0,241.0 L381.0,240.5 L382.0,240.1 L383.0,239.6 L384.0,239.1 L384.9,238.7 L385.9,238.3 L386.9,237.8 L387.9,237.4 L388.9,237.0 L389.9,236.6 L390.8,236.2 L391.8,235.8 L392.8,235.4 L393.8,235.0 L394.8,234.6 L395.8,234.2 L396.8,233.8 L397.7,233.4 L398.7,233.0 L399.7,232.6 L400.7,232.2 L401.7,231.8 L402.7,231.4 L403.6,231.0 L404.6,230.7 L405.6,230.3 L406.6,229.9 L407.6,229.6 L408.6,229.2 L409.5,228.9 L410.5,228.5 L411.5,228.2 L412.5,227.9 L413.5,227.6 L414.5,227.3 L415.5,227.0 L416.4,226.7 L417.4,226.5 L418.4,226.2 L419.4,225.9 L420.4,225.7 L421.4,225.4 L422.3,225.2 L423.3,224.9 L424.3,224.7 L425.3,224.4 L426.3,224.2 L427.3,224.0 L428.2,223.8 L429.2,223.5 L430.2,223.3 L431.2,223.1 L432.2,222.9 L433.2,222.7 L434.2,222.5 L435.1,222.3 L436.1,222.1 L437.1,221.9 L438.1,221.8 L439.1,221.6 L440.1,221.5 L441.0,221.3 L442.0,221.2 L443.0,221.1 L444.0,220.9 L445.0,220.8 L446.0,220.7 L446.9,220.6 L447.9,220.5 L448.9,220.4 L449.9,220.3 L450.9,220.2 L451.9,220.1 L452.9,220.0 L453.8,220.0 L454.8,219.9 L455.8,219.9 L456.8,219.8 L457.8,219.8 L458.8,219.7 L459.7,219.7 L460.7,219.7 L461.7,219.6 L462.7,219.6 L463.7,219.6 L464.7,219.6 L465.6,219.5 L466.6,219.5 L467.6,219.5 L468.6,219.5 L469.6,219.5 L470.6,219.5 L471.6,219.5 L472.5,219.5 L473.5,219.6 L474.5,219.6 L475.5,219.7 L476.5,219.8 L477.5,219.8 L478.4,219.9 L479.4,220.0 L480.4,220.1 L481.4,220.2 L482.4,220.3 L483.4,220.4 L484.4,220.5 L485.3,220.6 L486.3,220.8 L487.3,220.9 L488.3,221.0 L489.3,221.2 L490.3,221.4 L491.2,221.5 L492.2,221.7 L493.2,221.9 L494.2,222.2 L495.2,222.4 L496.2,222.6 L497.1,222.8 L498.1,223.1 L499.1,223.3 L500.1,223.6 L501.1,223.8 L502.1,224.1 L503.1,224.3 L504.0,224.6 L505.0,224.9 L506.0,225.1 L507.0,225.4 L508.0,225.6 L509.0,225.9 L509.9,226.2 L510.9,226.4 L511.9,226.7 L512.9,227.0 L513.9,227.3 L514.9,227.5 L515.8,227.8 L516.8,228.1 L517.8,228.4 L518.8,228.7 L519.8,229.0 L520.8,229.3 L521.8,229.7 L522.7,230.0 L523.7,230.3 L524.7,230.6 L525.7,230.9 L526.7,231.3 L527.7,231.6 L528.6,231.9 L529.6,232.3 L530.6,232.6 L531.6,233.0 L532.6,233.3 L533.6,233.7 L534.5,234.0 L535.5,234.4 L536.5,234.8 L537.5,235.1 L538.5,235.5 L539.5,235.9 L540.5,236.3 L541.4,236.6 L542.4,237.0 L543.4,237.4 L544.4,237.8 L545.4,238.2 L546.4,238.6 L547.3,239.0 L548.3,239.4 L549.3,239.8 L550.3,240.2 L551.3,240.6 L552.3,241.0 L553.2,241.5 L554.2,241.9 L555.2,242.3 L556.2,242.7 L557.2,243.2 L558.2,243.6 L559.2,244.1 L560.1,244.6 L561.1,245.0 L562.1,245.5 L563.1,246.0 L564.1,246.5 L565.1,247.0 L566.0,247.5 L567.0,248.0 L568.0,248.6 L569.0,249.1 L570.0,249.6 L571.0,250.2 L571.9,250.7 L572.9,251.3 L573.9,251.8 L574.9,252.4 L575.9,252.9 L576.9,253.5 L577.9,254.1 L578.8,254.6 L579.8,255.2 L580.8,255.8 L581.8,256.3 L582.8,256.9 L583.8,257.5 L584.7,258.1 L585.7,258.7 L586.7,259.2 L587.7,259.8 L588.7,260.4 L589.7,261.0 L590.7,261.6 L591.6,262.2 L592.6,262.7 L593.6,263.3 L594.6,263.9 L595.6,264.5 L596.6,265.0 L597.5,265.6 L598.5,266.2 L599.5,266.7 L600.5,267.3 L601.5,267.8 L602.5,268.4 L603.4,269.0 L604.4,269.5 L605.4,270.1 L606.4,270.6 L607.4,271.2 L608.4,271.8 L609.4,272.3 L610.3,272.9 L611.3,273.5 L612.3,274.1 L613.3,274.6 L614.3,275.2 L615.3,275.8 L616.2,276.4 L617.2,276.9 L618.2,277.5 L619.2,278.1 L620.2,278.7 L621.2,279.3 L622.1,279.8 L623.1,280.4 L624.1,281.0 L625.1,281.6 L626.1,282.2 L627.1,282.7 L628.1,283.3 L629.0,283.9 L630.0,284.5 L631.0,285.0 L632.0,285.6 L633.0,286.2 L634.0,286.8 L634.9,287.3 L635.9,287.9 L636.9,288.5 L637.9,289.0 L638.9,289.6 L639.9,290.2 L640.8,290.7 L641.8,291.3 L642.8,291.8 L643.8,292.4 L644.8,292.9 L645.8,293.5 L646.8,294.0 L647.7,294.6 L648.7,295.1 L649.7,295.7 L650.7,296.2 L651.7,296.7 L652.7,297.3 L653.6,297.8 L654.6,298.4 L655.6,298.9 L656.6,299.5 L657.6,300.0 L658.6,300.5 L659.5,301.1 L660.5,301.6 L661.5,302.1 L662.5,302.7 L663.5,303.2 L664.5,303.7 L665.5,304.3 L666.4,304.8 L667.4,305.3 L668.4,305.8 L669.4,306.3 L670.4,306.8 L671.4,307.3 L672.3,307.8 L673.3,308.3 L674.3,308.8 L675.3,309.3 L676.3,309.8 L677.3,310.2 L678.3,310.7 L679.2,311.1 L680.2,311.6 L681.2,312.0 L682.2,312.5 L683.2,312.9 L684.2,313.3 L685.1,313.8 L686.1,314.2 L687.1,314.6 L688.1,315.0 L689.1,315.4 L690.1,315.8 L691.0,316.2 L692.0,316.6 L693.0,316.9 L694.0,317.3 L695.0,317.7 L696.0,318.1 L697.0,318.5 L697.9,318.9 L698.9,319.3 L699.9,319.6 L700.9,320.0 L701.9,320.4 L702.9,320.8 L703.8,321.2 L704.8,321.6 L705.8,321.9 L706.8,322.3 L707.8,322.7 L708.8,323.1 L709.7,323.4 L710.7,323.8 L711.7,324.2 L712.7,324.5 L713.7,324.9 L714.7,325.3 L715.7,325.6 L716.6,326.0 L717.6,326.3 L718.6,326.7 L719.6,327.0 L720.6,327.4 L721.6,327.7 L722.5,328.0 L723.5,328.4 L724.5,328.7 L725.5,329.0 L726.5,329.3 L727.5,329.6 L728.4,330.0 L729.4,330.3 L730.4,330.6 L731.4,330.9 L732.4,331.2 L733.4,331.5 L734.4,331.7 L735.3,332.0 L736.3,332.3 L737.3,332.6 L738.3,332.9 L739.3,333.1 L740.3,333.4 L741.2,333.6 L742.2,333.9 L743.2,334.1 L744.2,334.3 L745.2,334.6 L746.2,334.8 L747.1,335.0 L748.1,335.2 L749.1,335.5 L750.1,335.7 L751.1,335.9 L752.1,336.1 L753.1,336.3 L754.0,336.5 L755.0,336.7 L756.0,337.0 L757.0,337.2 L758.0,337.4 L759.0,337.6 L759.9,337.8 L760.9,338.0 L761.9,338.2 L762.9,338.4 L763.9,338.6 L764.9,338.7 L765.8,338.9 L766.8,339.1 L767.8,339.3 L768.8,339.5 L769.8,339.7 L770.8,339.9 L771.8,340.0 L772.7,340.2 L773.7,340.4 L774.7,340.6 L775.7,340.7 L776.7,340.9 L777.7,341.1 L778.6,341.2 L779.6,341.4 L780.6,341.6 L781.6,341.7 L782.6,341.9 L783.6,342.0 L784.6,342.2 L785.5,342.3 L786.5,342.5 L787.5,342.6 L788.5,342.8 L789.5,342.9 L790.5,343.1 L791.4,343.2 L792.4,343.3 L793.4,343.5 L794.4,343.6 L795.4,343.8 L796.4,343.9 L797.3,344.0 L798.3,344.1 L799.3,344.3 L800.3,344.4 L801.3,344.5 L802.3,344.6 L803.3,344.8 L804.2,344.9 L805.2,345.0 L806.2,345.1 L807.2,345.2 L808.2,345.3 L809.2,345.5 L810.1,345.6 L811.1,345.7 L812.1,345.8 L813.1,345.9 L814.1,346.0 L815.1,346.1 L816.0,346.2 L817.0,346.3 L818.0,346.4 L819.0,346.5" fill="none" stroke="#5a4a9a" stroke-width="1" opacity="0.8"/>
<path d="M131.0,350.3 L132.0,350.3 L133.0,350.3 L134.0,350.3 L134.9,350.3 L135.9,350.3 L136.9,350.3 L137.9,350.2 L138.9,350.2 L139.9,350.2 L140.8,350.2 L141.8,350.2 L142.8,350.2 L143.8,350.2 L144.8,350.2 L145.8,350.2 L146.7,350.2 L147.7,350.2 L148.7,350.2 L149.7,350.2 L150.7,350.2 L151.7,350.2 L152.7,350.2 L153.6,350.2 L154.6,350.2 L155.6,350.2 L156.6,350.2 L157.6,350.2 L158.6,350.2 L159.5,350.2 L160.5,350.2 L161.5,350.2 L162.5,350.2 L163.5,350.2 L164.5,350.2 L165.4,350.2 L166.4,350.2 L167.4,350.2 L168.4,350.2 L169.4,350.2 L170.4,350.2 L171.4,350.2 L172.3,350.2 L173.3,350.2 L174.3,350.2 L175.3,350.2 L176.3,350.2 L177.3,350.2 L178.2,350.2 L179.2,350.2 L180.2,350.2 L181.2,350.2 L182.2,350.2 L183.2,350.2 L184.2,350.2 L185.1,350.2 L186.1,350.2 L187.1,350.2 L188.1,350.1 L189.1,350.1 L190.1,350.1 L191.0,350.1 L192.0,350.1 L193.0,350.1 L194.0,350.1 L195.0,350.1 L196.0,350.1 L196.9,350.1 L197.9,350.1 L198.9,350.1 L199.9,350.1 L200.9,350.1 L201.9,350.1 L202.9,350.1 L203.8,350.1 L204.8,350.1 L205.8,350.1 L206.8,350.1 L207.8,350.1 L208.8,350.1 L209.7,350.1 L210.7,350.1 L211.7,350.1 L212.7,350.1 L213.7,350.1 L214.7,350.1 L215.6,350.1 L216.6,350.1 L217.6,350.1 L218.6,350.1 L219.6,350.1 L220.6,350.0 L221.6,350.0 L222.5,350.0 L223.5,350.0 L224.5,350.0 L225.5,350.0 L226.5,350.0 L227.5,350.0 L228.4,350.0 L229.4,350.0 L230.4,350.0 L231.4,350.0 L232.4,350.0 L233.4,350.0 L234.3,350.0 L235.3,350.0 L236.3,350.0 L237.3,350.0 L238.3,350.0 L239.3,350.0 L240.3,350.0 L241.2,350.0 L242.2,350.0 L243.2,349.9 L244.2,349.9 L245.2,349.9 L246.2,349.9 L247.1,349.9 L248.1,349.9 L249.1,349.9 L250.1,349.9 L251.1,349.9 L252.1,349.9 L253.0,349.9 L254.0,349.9 L255.0,349.9 L256.0,349.9 L257.0,349.9 L258.0,349.9 L259.0,349.9 L259.9,349.9 L260.9,349.8 L261.9,349.8 L262.9,349.8 L263.9,349.8 L264.9,349.8 L265.8,349.8 L266.8,349.8 L267.8,349.8 L268.8,349.8 L269.8,349.8 L270.8,349.8 L271.7,349.8 L272.7,349.8 L273.7,349.8 L274.7,349.7 L275.7,349.7 L276.7,349.7 L277.7,349.7 L278.6,349.7 L279.6,349.7 L280.6,349.7 L281.6,349.7 L282.6,349.7 L283.6,349.7 L284.5,349.7 L285.5,349.7 L286.5,349.6 L287.5,349.6 L288.5,349.6 L289.5,349.6 L290.5,349.6 L291.4,349.6 L292.4,349.6 L293.4,349.6 L294.4,349.6 L295.4,349.5 L296.4,349.5 L297.3,349.5 L298.3,349.5 L299.3,349.5 L300.3,349.5 L301.3,349.5 L302.3,349.5 L303.2,349.4 L304.2,349.4 L305.2,349.4 L306.2,349.4 L307.2,349.4 L308.2,349.4 L309.2,349.4 L310.1,349.4 L311.1,349.3 L312.1,349.3 L313.1,349.3 L314.1,349.3 L315.1,349.3 L316.0,349.3 L317.0,349.2 L318.0,349.2 L319.0,349.2 L320.0,349.2 L321.0,349.2 L321.9,349.1 L322.9,349.1 L323.9,349.1 L324.9,349.1 L325.9,349.1 L326.9,349.0 L327.9,349.0 L328.8,349.0 L329.8,349.0 L330.8,349.0 L331.8,348.9 L332.8,348.9 L333.8,348.9 L334.7,348.9 L335.7,348.8 L336.7,348.8 L337.7,348.8 L338.7,348.8 L339.7,348.7 L340.6,348.7 L341.6,348.7 L342.6,348.6 L343.6,348.6 L344.6,348.6 L345.6,348.5 L346.6,348.5 L347.5,348.5 L348.5,348.4 L349.5,348.4 L350.5,348.4 L351.5,348.3 L352.5,348.3 L353.4,348.2 L354.4,348.2 L355.4,348.2 L356.4,348.1 L357.4,348.1 L358.4,348.0 L359.3,348.0 L360.3,347.9 L361.3,347.9 L362.3,347.8 L363.3,347.8 L364.3,347.7 L365.3,347.7 L366.2,347.6 L367.2,347.5 L368.2,347.5 L369.2,347.4 L370.2,347.3 L371.2,347.3 L372.1,347.2 L373.1,347.1 L374.1,347.0 L375.1,347.0 L376.1,346.9 L377.1,346.8 L378.1,346.7 L379.0,346.6 L380.0,346.5 L381.0,346.4 L382.0,346.3 L383.0,346.2 L384.0,346.1 L384.9,346.0 L385.9,345.9 L386.9,345.8 L387.9,345.6 L388.9,345.5 L389.9,345.4 L390.8,345.2 L391.8,345.1 L392.8,344.9 L393.8,344.8 L394.8,344.6 L395.8,344.4 L396.8,344.2 L397.7,344.1 L398.7,343.9 L399.7,343.6 L400.7,343.4 L401.7,343.2 L402.7,343.0 L403.6,342.7 L404.6,342.4 L405.6,342.2 L406.6,341.9 L407.6,341.5 L408.6,341.2 L409.5,340.9 L410.5,340.5 L411.5,340.1 L412.5,339.7 L413.5,339.3 L414.5,338.8 L415.5,338.4 L416.4,337.8 L417.4,337.3 L418.4,336.7 L419.4,336.1 L420.4,335.4 L421.4,334.7 L422.3,334.0 L423.3,333.2 L424.3,332.3 L425.3,331.4 L426.3,330.4 L427.3,329.3 L428.2,328.2 L429.2,326.9 L430.2,325.6 L431.2,324.1 L432.2,322.5 L433.2,320.8 L434.2,319.0 L435.1,316.9 L436.1,314.7 L437.1,312.3 L438.1,309.6 L439.1,306.7 L440.1,303.6 L441.0,300.1 L442.0,296.3 L443.0,292.1 L444.0,287.5 L445.0,282.4 L446.0,276.9 L446.9,270.9 L447.9,264.4 L448.9,257.3 L449.9,249.8 L450.9,241.9 L451.9,233.6 L452.9,225.1 L453.8,216.6 L454.8,208.5 L455.8,200.9 L456.8,194.4 L457.8,189.2 L458.8,185.7 L459.7,184.2 L460.7,184.7 L461.7,187.2 L462.7,191.5 L463.7,197.4 L464.7,204.4 L465.6,212.3 L466.6,220.7 L467.6,229.2 L468.6,237.6 L469.6,245.7 L470.6,253.5 L471.6,260.8 L472.5,267.6 L473.5,273.8 L474.5,279.6 L475.5,284.9 L476.5,289.7 L477.5,294.1 L478.4,298.1 L479.4,301.8 L480.4,305.1 L481.4,308.2 L482.4,310.9 L483.4,313.5 L484.4,315.8 L485.3,317.9 L486.3,319.9 L487.3,321.7 L488.3,323.3 L489.3,324.8 L490.3,326.2 L491.2,327.5 L492.2,328.7 L493.2,329.8 L494.2,330.9 L495.2,331.8 L496.2,332.7 L497.1,333.6 L498.1,334.4 L499.1,335.1 L500.1,335.8 L501.1,336.4 L502.1,337.0 L503.1,337.6 L504.0,338.1 L505.0,338.6 L506.0,339.1 L507.0,339.5 L508.0,339.9 L509.0,340.3 L509.9,340.7 L510.9,341.0 L511.9,341.4 L512.9,341.7 L513.9,342.0 L514.9,342.3 L515.8,342.6 L516.8,342.8 L517.8,343.1 L518.8,343.3 L519.8,343.5 L520.8,343.7 L521.8,344.0 L522.7,344.1 L523.7,344.3 L524.7,344.5 L525.7,344.7 L526.7,344.8 L527.7,345.0 L528.6,345.2 L529.6,345.3 L530.6,345.4 L531.6,345.6 L532.6,345.7 L533.6,345.8 L534.5,345.9 L535.5,346.1 L536.5,346.2 L537.5,346.3 L538.5,346.4 L539.5,346.5 L540.5,346.6 L541.4,346.7 L542.4,346.8 L543.4,346.8 L544.4,346.9 L545.4,347.0 L546.4,347.1 L547.3,347.2 L548.3,347.2 L549.3,347.3 L550.3,347.4 L551.3,347.4 L552.3,347.5 L553.2,347.6 L554.2,347.6 L555.2,347.7 L556.2,347.7 L557.2,347.8 L558.2,347.8 L559.2,347.9 L560.1,347.9 L561.1,348.0 L562.1,348.0 L563.1,348.1 L564.1,348.1 L565.1,348.2 L566.0,348.2 L567.0,348.3 L568.0,348.3 L569.0,348.3 L570.0,348.4 L571.0,348.4 L571.9,348.5 L572.9,348.5 L573.9,348.5 L574.9,348.6 L575.9,348.6 L576.9,348.6 L577.9,348.6 L578.8,348.7 L579.8,348.7 L580.8,348.7 L581.8,348.8 L582.8,348.8 L583.8,348.8 L584.7,348.8 L585.7,348.9 L586.7,348.9 L587.7,348.9 L588.7,348.9 L589.7,349.0 L590.7,349.0 L591.6,349.0 L592.6,349.0 L593.6,349.1 L594.6,349.1 L595.6,349.1 L596.6,349.1 L597.5,349.1 L598.5,349.2 L599.5,349.2 L600.5,349.2 L601.5,349.2 L602.5,349.2 L603.4,349.2 L604.4,349.3 L605.4,349.3 L606.4,349.3 L607.4,349.3 L608.4,349.3 L609.4,349.3 L610.3,349.4 L611.3,349.4 L612.3,349.4 L613.3,349.4 L614.3,349.4 L615.3,349.4 L616.2,349.4 L617.2,349.5 L618.2,349.5 L619.2,349.5 L620.2,349.5 L621.2,349.5 L622.1,349.5 L623.1,349.5 L624.1,349.5 L625.1,349.6 L626.1,349.6 L627.1,349.6 L628.1,349.6 L629.0,349.6 L630.0,349.6 L631.0,349.6 L632.0,349.6 L633.0,349.6 L634.0,349.6 L634.9,349.7 L635.9,349.7 L636.9,349.7 L637.9,349.7 L638.9,349.7 L639.9,349.7 L640.8,349.7 L641.8,349.7 L642.8,349.7 L643.8,349.7 L644.8,349.7 L645.8,349.7 L646.8,349.8 L647.7,349.8 L648.7,349.8 L649.7,349.8 L650.7,349.8 L651.7,349.8 L652.7,349.8 L653.6,349.8 L654.6,349.8 L655.6,349.8 L656.6,349.8 L657.6,349.8 L658.6,349.8 L659.5,349.8 L660.5,349.9 L661.5,349.9 L662.5,349.9 L663.5,349.9 L664.5,349.9 L665.5,349.9 L666.4,349.9 L667.4,349.9 L668.4,349.9 L669.4,349.9 L670.4,349.9 L671.4,349.9 L672.3,349.9 L673.3,349.9 L674.3,349.9 L675.3,349.9 L676.3,349.9 L677.3,350.0 L678.3,350.0 L679.2,350.0 L680.2,350.0 L681.2,350.0 L682.2,350.0 L683.2,350.0 L684.2,350.0 L685.1,350.0 L686.1,350.0 L687.1,350.0 L688.1,350.0 L689.1,350.0 L690.1,350.0 L691.0,350.0 L692.0,350.0 L693.0,350.0 L694.0,350.0 L695.0,350.0 L696.0,350.0 L697.0,350.0 L697.9,350.0 L698.9,350.0 L699.9,350.0 L700.9,350.1 L701.9,350.1 L702.9,350.1 L703.8,350.1 L704.8,350.1 L705.8,350.1 L706.8,350.1 L707.8,350.1 L708.8,350.1 L709.7,350.1 L710.7,350.1 L711.7,350.1 L712.7,350.1 L713.7,350.1 L714.7,350.1 L715.7,350.1 L716.6,350.1 L717.6,350.1 L718.6,350.1 L719.6,350.1 L720.6,350.1 L721.6,350.1 L722.5,350.1 L723.5,350.1 L724.5,350.1 L725.5,350.1 L726.5,350.1 L727.5,350.1 L728.4,350.1 L729.4,350.1 L730.4,350.1 L731.4,350.1 L732.4,350.2 L733.4,350.2 L734.4,350.2 L735.3,350.2 L736.3,350.2 L737.3,350.2 L738.3,350.2 L739.3,350.2 L740.3,350.2 L741.2,350.2 L742.2,350.2 L743.2,350.2 L744.2,350.2 L745.2,350.2 L746.2,350.2 L747.1,350.2 L748.1,350.2 L749.1,350.2 L750.1,350.2 L751.1,350.2 L752.1,350.2 L753.1,350.2 L754.0,350.2 L755.0,350.2 L756.0,350.2 L757.0,350.2 L758.0,350.2 L759.0,350.2 L759.9,350.2 L760.9,350.2 L761.9,350.2 L762.9,350.2 L763.9,350.2 L764.9,350.2 L765.8,350.2 L766.8,350.2 L767.8,350.2 L768.8,350.2 L769.8,350.2 L770.8,350.2 L771.8,350.2 L772.7,350.2 L773.7,350.2 L774.7,350.2 L775.7,350.2 L776.7,350.2 L777.7,350.2 L778.6,350.2 L779.6,350.2 L780.6,350.2 L781.6,350.2 L782.6,350.3 L783.6,350.3 L784.6,350.3 L785.5,350.3 L786.5,350.3 L787.5,350.3 L788.5,350.3 L789.5,350.3 L790.5,350.3 L791.4,350.3 L792.4,350.3 L793.4,350.3 L794.4,350.3 L795.4,350.3 L796.4,350.3 L797.3,350.3 L798.3,350.3 L799.3,350.3 L800.3,350.3 L801.3,350.3 L802.3,350.3 L803.3,350.3 L804.2,350.3 L805.2,350.3 L806.2,350.3 L807.2,350.3 L808.2,350.3 L809.2,350.3 L810.1,350.3 L811.1,350.3 L812.1,350.3 L813.1,350.3 L814.1,350.3 L815.1,350.3 L816.0,350.3 L817.0,350.3 L818.0,350.3 L819.0,350.3" fill="none" stroke="#2a2280" stroke-width="1.2" opacity="0.85"/>
<line x1="229.7" y1="349.5" x2="229.7" y2="344.5" stroke="#8e80c0" stroke-width="1"/>
<line x1="328.3" y1="349.5" x2="328.3" y2="344.5" stroke="#8e80c0" stroke-width="1"/>
<line x1="426.9" y1="349.5" x2="426.9" y2="344.5" stroke="#8e80c0" stroke-width="1"/>
<line x1="525.6" y1="349.5" x2="525.6" y2="344.5" stroke="#8e80c0" stroke-width="1"/>
<line x1="624.2" y1="349.5" x2="624.2" y2="344.5" stroke="#8e80c0" stroke-width="1"/>
<line x1="722.9" y1="349.5" x2="722.9" y2="344.5" stroke="#8e80c0" stroke-width="1"/>
<path d="M131.0,341.5 L131.5,341.4 L132.0,341.2 L132.5,341.1 L133.0,340.9 L133.5,340.8 L133.9,340.7 L134.4,340.5 L134.9,340.4 L135.4,340.3 L135.9,340.1 L136.4,340.0 L136.9,339.9 L137.4,339.8 L137.9,339.6 L138.4,339.5 L138.9,339.4 L139.3,339.3 L139.8,339.1 L140.3,339.0 L140.8,338.9 L141.3,338.8 L141.8,338.6 L142.3,338.5 L142.8,338.4 L143.3,338.3 L143.8,338.2 L144.3,338.1 L144.7,337.9 L145.2,337.8 L145.7,337.7 L146.2,337.6 L146.7,337.5 L147.2,337.4 L147.7,337.3 L148.2,337.2 L148.7,337.1 L149.2,337.0 L149.7,336.9 L150.2,336.8 L150.6,336.7 L151.1,336.6 L151.6,336.5 L152.1,336.4 L152.6,336.3 L153.1,336.2 L153.6,336.1 L154.1,336.0 L154.6,335.9 L155.1,335.8 L155.6,335.8 L156.0,335.7 L156.5,335.6 L157.0,335.5 L157.5,335.4 L158.0,335.4 L158.5,335.3 L159.0,335.2 L159.5,335.1 L160.0,335.1 L160.5,335.0 L161.0,334.9 L161.4,334.8 L161.9,334.8 L162.4,334.7 L162.9,334.6 L163.4,334.6 L163.9,334.5 L164.4,334.4 L164.9,334.4 L165.4,334.3 L165.9,334.2 L166.4,334.2 L166.8,334.1 L167.3,334.0 L167.8,334.0 L168.3,333.9 L168.8,333.8 L169.3,333.8 L169.8,333.7 L170.3,333.6 L170.8,333.6 L171.3,333.5 L171.8,333.4 L172.2,333.4 L172.7,333.3 L173.2,333.2 L173.7,333.1 L174.2,333.1 L174.7,333.0 L175.2,332.9 L175.7,332.8 L176.2,332.8 L176.7,332.7 L177.2,332.6 L177.7,332.5 L178.1,332.4 L178.6,332.3 L179.1,332.3 L179.6,332.2 L180.1,332.1 L180.6,332.0 L181.1,331.9 L181.6,331.8 L182.1,331.7 L182.6,331.6 L183.1,331.6 L183.5,331.5 L184.0,331.4 L184.5,331.3 L185.0,331.2 L185.5,331.1 L186.0,331.0 L186.5,330.9 L187.0,330.8 L187.5,330.7 L188.0,330.6 L188.5,330.5 L188.9,330.4 L189.4,330.3 L189.9,330.3 L190.4,330.2 L190.9,330.1 L191.4,330.0 L191.9,329.9 L192.4,329.8 L192.9,329.7 L193.4,329.5 L193.9,329.4 L194.3,329.3 L194.8,329.2 L195.3,329.1 L195.8,329.0 L196.3,328.9 L196.8,328.8 L197.3,328.7 L197.8,328.6 L198.3,328.5 L198.8,328.4 L199.3,328.2 L199.7,328.1 L200.2,328.0 L200.7,327.9 L201.2,327.8 L201.7,327.7 L202.2,327.5 L202.7,327.4 L203.2,327.3 L203.7,327.2 L204.2,327.0 L204.7,326.9 L205.2,326.8 L205.6,326.7 L206.1,326.5 L206.6,326.4 L207.1,326.3 L207.6,326.1 L208.1,326.0 L208.6,325.8 L209.1,325.7 L209.6,325.6 L210.1,325.4 L210.6,325.3 L211.0,325.1 L211.5,325.0 L212.0,324.9 L212.5,324.7 L213.0,324.6 L213.5,324.4 L214.0,324.3 L214.5,324.1 L215.0,323.9 L215.5,323.8 L216.0,323.6 L216.4,323.5 L216.9,323.3 L217.4,323.2 L217.9,323.0 L218.4,322.8 L218.9,322.7 L219.4,322.5 L219.9,322.3 L220.4,322.2 L220.9,322.0 L221.4,321.8 L221.8,321.7 L222.3,321.5 L222.8,321.3 L223.3,321.2 L223.8,321.0 L224.3,320.8 L224.8,320.6 L225.3,320.4 L225.8,320.3 L226.3,320.1 L226.8,319.9 L227.2,319.7 L227.7,319.5 L228.2,319.3 L228.7,319.1 L229.2,318.9 L229.7,318.7 L230.2,318.5 L230.7,318.2 L231.2,318.0 L231.7,317.8 L232.2,317.6 L232.7,317.4 L233.1,317.1 L233.6,316.9 L234.1,316.7 L234.6,316.5 L235.1,316.2 L235.6,316.0 L236.1,315.8 L236.6,315.5 L237.1,315.3 L237.6,315.1 L238.1,314.8 L238.5,314.6 L239.0,314.4 L239.5,314.1 L240.0,313.9 L240.5,313.7 L241.0,313.4 L241.5,313.2 L242.0,313.0 L242.5,312.7 L243.0,312.5 L243.5,312.3 L243.9,312.0 L244.4,311.8 L244.9,311.5 L245.4,311.3 L245.9,311.1 L246.4,310.9 L246.9,310.6 L247.4,310.4 L247.9,310.2 L248.4,309.9 L248.9,309.7 L249.3,309.5 L249.8,309.3 L250.3,309.0 L250.8,308.8 L251.3,308.6 L251.8,308.4 L252.3,308.1 L252.8,307.9 L253.3,307.7 L253.8,307.5 L254.3,307.2 L254.7,307.0 L255.2,306.8 L255.7,306.6 L256.2,306.3 L256.7,306.1 L257.2,305.9 L257.7,305.7 L258.2,305.4 L258.7,305.2 L259.2,305.0 L259.7,304.8 L260.2,304.5 L260.6,304.3 L261.1,304.1 L261.6,303.8 L262.1,303.6 L262.6,303.4 L263.1,303.2 L263.6,302.9 L264.1,302.7 L264.6,302.4 L265.1,302.2 L265.6,302.0 L266.0,301.7 L266.5,301.5 L267.0,301.2 L267.5,301.0 L268.0,300.7 L268.5,300.5 L269.0,300.3 L269.5,300.0 L270.0,299.7 L270.5,299.5 L271.0,299.2 L271.4,299.0 L271.9,298.7 L272.4,298.5 L272.9,298.2 L273.4,297.9 L273.9,297.7 L274.4,297.4 L274.9,297.1 L275.4,296.8 L275.9,296.6 L276.4,296.3 L276.8,296.0 L277.3,295.7 L277.8,295.4 L278.3,295.2 L278.8,294.9 L279.3,294.6 L279.8,294.3 L280.3,294.0 L280.8,293.7 L281.3,293.4 L281.8,293.1 L282.2,292.8 L282.7,292.5 L283.2,292.2 L283.7,291.9 L284.2,291.6 L284.7,291.3 L285.2,291.0 L285.7,290.7 L286.2,290.4 L286.7,290.1 L287.2,289.8 L287.6,289.5 L288.1,289.2 L288.6,288.9 L289.1,288.6 L289.6,288.3 L290.1,288.0 L290.6,287.7 L291.1,287.4 L291.6,287.1 L292.1,286.8 L292.6,286.5 L293.1,286.2 L293.5,285.9 L294.0,285.5 L294.5,285.2 L295.0,284.9 L295.5,284.6 L296.0,284.3 L296.5,284.0 L297.0,283.7 L297.5,283.4 L298.0,283.1 L298.5,282.7 L298.9,282.4 L299.4,282.1 L299.9,281.8 L300.4,281.5 L300.9,281.1 L301.4,280.8 L301.9,280.5 L302.4,280.2 L302.9,279.8 L303.4,279.5 L303.9,279.2 L304.3,278.9 L304.8,278.5 L305.3,278.2 L305.8,277.9 L306.3,277.6 L306.8,277.2 L307.3,276.9 L307.8,276.6 L308.3,276.2 L308.8,275.9 L309.3,275.6 L309.7,275.3 L310.2,274.9 L310.7,274.6 L311.2,274.3 L311.7,273.9 L312.2,273.6 L312.7,273.3 L313.2,272.9 L313.7,272.6 L314.2,272.3 L314.7,271.9 L315.1,271.6 L315.6,271.3 L316.1,270.9 L316.6,270.6 L317.1,270.3 L317.6,269.9 L318.1,269.6 L318.6,269.2 L319.1,268.9 L319.6,268.6 L320.1,268.2 L320.6,267.9 L321.0,267.5 L321.5,267.2 L322.0,266.8 L322.5,266.5 L323.0,266.2 L323.5,265.8 L324.0,265.5 L324.5,265.1 L325.0,264.8 L325.5,264.4 L326.0,264.1 L326.4,263.7 L326.9,263.4 L327.4,263.0 L327.9,262.7 L328.4,262.3 L328.9,262.0 L329.4,261.6 L329.9,261.3 L330.4,260.9 L330.9,260.6 L331.4,260.2 L331.8,259.9 L332.3,259.5 L332.8,259.2 L333.3,258.8 L333.8,258.5 L334.3,258.1 L334.8,257.8 L335.3,257.4 L335.8,257.1 L336.3,256.7 L336.8,256.4 L337.2,256.0 L337.7,255.7 L338.2,255.4 L338.7,255.0 L339.2,254.7 L339.7,254.3 L340.2,254.0 L340.7,253.7 L341.2,253.3 L341.7,253.0 L342.2,252.7 L342.6,252.3 L343.1,252.0 L343.6,251.7 L344.1,251.3 L344.6,251.0 L345.1,250.7 L345.6,250.4 L346.1,250.0 L346.6,249.7 L347.1,249.4 L347.6,249.1 L348.1,248.8 L348.5,248.4 L349.0,248.1 L349.5,247.8 L350.0,247.5 L350.5,247.2 L351.0,246.9 L351.5,246.6 L352.0,246.3 L352.5,246.0 L353.0,245.7 L353.5,245.4 L353.9,245.1 L354.4,244.8 L354.9,244.5 L355.4,244.2 L355.9,243.9 L356.4,243.6 L356.9,243.3 L357.4,243.0 L357.9,242.7 L358.4,242.4 L358.9,242.2 L359.3,241.9 L359.8,241.6 L360.3,241.3 L360.8,241.0 L361.3,240.7 L361.8,240.4 L362.3,240.1 L362.8,239.8 L363.3,239.6 L363.8,239.3 L364.3,239.0 L364.7,238.7 L365.2,238.4 L365.7,238.1 L366.2,237.9 L366.7,237.6 L367.2,237.3 L367.7,237.0 L368.2,236.7 L368.7,236.5 L369.2,236.2 L369.7,235.9 L370.1,235.6 L370.6,235.4 L371.1,235.1 L371.6,234.8 L372.1,234.5 L372.6,234.3 L373.1,234.0 L373.6,233.7 L374.1,233.4 L374.6,233.2 L375.1,232.9 L375.6,232.6 L376.0,232.3 L376.5,232.0 L377.0,231.8 L377.5,231.5 L378.0,231.2 L378.5,230.9 L379.0,230.6 L379.5,230.3 L380.0,230.0 L380.5,229.7 L381.0,229.4 L381.4,229.1 L381.9,228.8 L382.4,228.5 L382.9,228.2 L383.4,227.9 L383.9,227.5 L384.4,227.2 L384.9,226.9 L385.4,226.6 L385.9,226.3 L386.4,225.9 L386.8,225.6 L387.3,225.3 L387.8,224.9 L388.3,224.6 L388.8,224.3 L389.3,223.9 L389.8,223.6 L390.3,223.3 L390.8,222.9 L391.3,222.6 L391.8,222.2 L392.2,221.9 L392.7,221.5 L393.2,221.2 L393.7,220.8 L394.2,220.5 L394.7,220.1 L395.2,219.8 L395.7,219.4 L396.2,219.1 L396.7,218.7 L397.2,218.4 L397.6,218.0 L398.1,217.6 L398.6,217.3 L399.1,216.9 L399.6,216.6 L400.1,216.2 L400.6,215.8 L401.1,215.5 L401.6,215.1 L402.1,214.7 L402.6,214.4 L403.1,214.0 L403.5,213.6 L404.0,213.3 L404.5,212.9 L405.0,212.6 L405.5,212.2 L406.0,211.8 L406.5,211.5 L407.0,211.1 L407.5,210.8 L408.0,210.5 L408.5,210.1 L408.9,209.8 L409.4,209.4 L409.9,209.1 L410.4,208.7 L410.9,208.4 L411.4,208.1 L411.9,207.7 L412.4,207.4 L412.9,207.0 L413.4,206.7 L413.9,206.3 L414.3,206.0 L414.8,205.6 L415.3,205.3 L415.8,204.9 L416.3,204.5 L416.8,204.1 L417.3,203.8 L417.8,203.4 L418.3,203.0 L418.8,202.6 L419.3,202.2 L419.7,201.8 L420.2,201.3 L420.7,200.9 L421.2,200.5 L421.7,200.0 L422.2,199.6 L422.7,199.1 L423.2,198.6 L423.7,198.1 L424.2,197.6 L424.7,197.1 L425.1,196.6 L425.6,196.1 L426.1,195.5 L426.6,194.9 L427.1,194.3 L427.6,193.6 L428.1,192.9 L428.6,192.1 L429.1,191.4 L429.6,190.6 L430.1,189.7 L430.5,188.9 L431.0,188.1 L431.5,187.2 L432.0,186.4 L432.5,185.5 L433.0,184.6 L433.5,183.7 L434.0,182.7 L434.5,181.7 L435.0,180.7 L435.5,179.7 L436.0,178.6 L436.4,177.4 L436.9,176.2 L437.4,175.0 L437.9,173.7 L438.4,172.3 L438.9,170.9 L439.4,169.3 L439.9,167.6 L440.4,165.9 L440.9,164.0 L441.4,162.0 L441.8,159.9 L442.3,157.8 L442.8,155.5 L443.3,153.1 L443.8,150.6 L444.3,147.9 L444.8,144.8 L445.3,141.5 L445.8,138.0 L446.3,134.4 L446.8,130.7 L447.2,126.9 L447.7,123.0 L448.2,118.9 L448.7,114.7 L449.2,110.3 L449.7,105.9 L450.2,101.5 L450.7,97.0 L451.2,92.2 L451.7,87.3 L452.2,82.3 L452.6,77.4 L453.1,72.7 L453.6,68.3 L454.1,64.2 L454.6,60.0 L455.1,55.9 L455.6,52.1 L456.1,48.7 L456.6,46.0 L457.1,43.9 L457.6,42.0 L458.0,40.3 L458.5,38.9 L459.0,38.0 L459.5,37.8 L460.0,38.4 L460.5,39.5 L461.0,41.1 L461.5,43.0 L462.0,44.9 L462.5,47.2 L463.0,50.2 L463.5,53.6 L463.9,57.4 L464.4,61.4 L464.9,65.3 L465.4,69.3 L465.9,73.5 L466.4,78.0 L466.9,82.6 L467.4,87.2 L467.9,91.7 L468.4,96.0 L468.9,100.0 L469.3,103.8 L469.8,107.5 L470.3,111.1 L470.8,114.6 L471.3,118.1 L471.8,121.4 L472.3,124.8 L472.8,128.0 L473.3,131.3 L473.8,134.6 L474.3,137.9 L474.7,141.2 L475.2,144.4 L475.7,147.5 L476.2,150.3 L476.7,152.9 L477.2,155.3 L477.7,157.3 L478.2,159.3 L478.7,161.3 L479.2,163.1 L479.7,164.9 L480.1,166.6 L480.6,168.2 L481.1,169.8 L481.6,171.2 L482.1,172.6 L482.6,173.9 L483.1,175.0 L483.6,176.1 L484.1,177.1 L484.6,177.9 L485.1,178.8 L485.5,179.7 L486.0,180.5 L486.5,181.2 L487.0,182.0 L487.5,182.7 L488.0,183.4 L488.5,184.1 L489.0,184.8 L489.5,185.4 L490.0,186.0 L490.5,186.6 L491.0,187.1 L491.4,187.6 L491.9,188.2 L492.4,188.6 L492.9,189.1 L493.4,189.5 L493.9,189.9 L494.4,190.3 L494.9,190.7 L495.4,191.0 L495.9,191.4 L496.4,191.7 L496.8,192.0 L497.3,192.3 L497.8,192.6 L498.3,192.9 L498.8,193.2 L499.3,193.5 L499.8,193.7 L500.3,194.0 L500.8,194.3 L501.3,194.5 L501.8,194.7 L502.2,195.0 L502.7,195.2 L503.2,195.4 L503.7,195.6 L504.2,195.9 L504.7,196.1 L505.2,196.3 L505.7,196.5 L506.2,196.7 L506.7,196.9 L507.2,197.0 L507.6,197.2 L508.1,197.4 L508.6,197.6 L509.1,197.8 L509.6,198.0 L510.1,198.1 L510.6,198.3 L511.1,198.5 L511.6,198.7 L512.1,198.9 L512.6,199.0 L513.0,199.2 L513.5,199.4 L514.0,199.6 L514.5,199.8 L515.0,199.9 L515.5,200.1 L516.0,200.3 L516.5,200.5 L517.0,200.7 L517.5,200.9 L518.0,201.1 L518.5,201.3 L518.9,201.5 L519.4,201.7 L519.9,201.9 L520.4,202.1 L520.9,202.3 L521.4,202.5 L521.9,202.7 L522.4,202.9 L522.9,203.1 L523.4,203.3 L523.9,203.5 L524.3,203.7 L524.8,203.9 L525.3,204.1 L525.8,204.3 L526.3,204.5 L526.8,204.7 L527.3,204.9 L527.8,205.1 L528.3,205.4 L528.8,205.6 L529.3,205.8 L529.7,206.0 L530.2,206.2 L530.7,206.5 L531.2,206.7 L531.7,206.9 L532.2,207.2 L532.7,207.4 L533.2,207.7 L533.7,207.9 L534.2,208.2 L534.7,208.5 L535.1,208.7 L535.6,209.0 L536.1,209.3 L536.6,209.5 L537.1,209.8 L537.6,210.1 L538.1,210.4 L538.6,210.7 L539.1,211.0 L539.6,211.2 L540.1,211.5 L540.5,211.8 L541.0,212.1 L541.5,212.4 L542.0,212.7 L542.5,213.0 L543.0,213.3 L543.5,213.6 L544.0,213.9 L544.5,214.2 L545.0,214.5 L545.5,214.8 L545.9,215.1 L546.4,215.4 L546.9,215.7 L547.4,216.0 L547.9,216.3 L548.4,216.6 L548.9,216.9 L549.4,217.2 L549.9,217.5 L550.4,217.7 L550.9,218.0 L551.4,218.3 L551.8,218.6 L552.3,218.9 L552.8,219.2 L553.3,219.5 L553.8,219.7 L554.3,220.0 L554.8,220.3 L555.3,220.5 L555.8,220.8 L556.3,221.1 L556.8,221.3 L557.2,221.6 L557.7,221.8 L558.2,222.1 L558.7,222.4 L559.2,222.6 L559.7,222.9 L560.2,223.1 L560.7,223.4 L561.2,223.6 L561.7,223.8 L562.2,224.1 L562.6,224.3 L563.1,224.6 L563.6,224.8 L564.1,225.1 L564.6,225.3 L565.1,225.6 L565.6,225.8 L566.1,226.1 L566.6,226.3 L567.1,226.6 L567.6,226.8 L568.0,227.1 L568.5,227.3 L569.0,227.6 L569.5,227.8 L570.0,228.1 L570.5,228.3 L571.0,228.6 L571.5,228.9 L572.0,229.1 L572.5,229.4 L573.0,229.7 L573.4,229.9 L573.9,230.2 L574.4,230.5 L574.9,230.8 L575.4,231.1 L575.9,231.4 L576.4,231.6 L576.9,231.9 L577.4,232.2 L577.9,232.5 L578.4,232.9 L578.9,233.2 L579.3,233.5 L579.8,233.8 L580.3,234.1 L580.8,234.5 L581.3,234.8 L581.8,235.1 L582.3,235.5 L582.8,235.8 L583.3,236.2 L583.8,236.5 L584.3,236.9 L584.7,237.2 L585.2,237.6 L585.7,238.0 L586.2,238.3 L586.7,238.7 L587.2,239.1 L587.7,239.5 L588.2,239.8 L588.7,240.2 L589.2,240.6 L589.7,241.0 L590.1,241.4 L590.6,241.7 L591.1,242.1 L591.6,242.5 L592.1,242.9 L592.6,243.3 L593.1,243.7 L593.6,244.0 L594.1,244.4 L594.6,244.8 L595.1,245.2 L595.5,245.6 L596.0,246.0 L596.5,246.3 L597.0,246.7 L597.5,247.1 L598.0,247.5 L598.5,247.8 L599.0,248.2 L599.5,248.6 L600.0,248.9 L600.5,249.3 L600.9,249.7 L601.4,250.0 L601.9,250.4 L602.4,250.7 L602.9,251.1 L603.4,251.5 L603.9,251.8 L604.4,252.2 L604.9,252.6 L605.4,252.9 L605.9,253.3 L606.4,253.7 L606.8,254.0 L607.3,254.4 L607.8,254.8 L608.3,255.1 L608.8,255.5 L609.3,255.9 L609.8,256.2 L610.3,256.6 L610.8,257.0 L611.3,257.3 L611.8,257.7 L612.2,258.0 L612.7,258.4 L613.2,258.8 L613.7,259.1 L614.2,259.5 L614.7,259.8 L615.2,260.2 L615.7,260.6 L616.2,260.9 L616.7,261.3 L617.2,261.6 L617.6,261.9 L618.1,262.3 L618.6,262.6 L619.1,263.0 L619.6,263.3 L620.1,263.6 L620.6,264.0 L621.1,264.4 L621.6,264.7 L622.1,265.0 L622.6,265.4 L623.0,265.7 L623.5,266.1 L624.0,266.4 L624.5,266.7 L625.0,267.1 L625.5,267.4 L626.0,267.7 L626.5,268.0 L627.0,268.4 L627.5,268.7 L628.0,269.0 L628.4,269.3 L628.9,269.6 L629.4,270.0 L629.9,270.3 L630.4,270.6 L630.9,270.9 L631.4,271.2 L631.9,271.5 L632.4,271.9 L632.9,272.2 L633.4,272.5 L633.9,272.8 L634.3,273.1 L634.8,273.4 L635.3,273.7 L635.8,274.0 L636.3,274.3 L636.8,274.6 L637.3,274.9 L637.8,275.2 L638.3,275.5 L638.8,275.7 L639.3,276.0 L639.7,276.3 L640.2,276.6 L640.7,276.9 L641.2,277.1 L641.7,277.4 L642.2,277.7 L642.7,277.9 L643.2,278.2 L643.7,278.4 L644.2,278.7 L644.7,278.9 L645.1,279.1 L645.6,279.4 L646.1,279.6 L646.6,279.8 L647.1,280.1 L647.6,280.3 L648.1,280.5 L648.6,280.7 L649.1,280.9 L649.6,281.1 L650.1,281.3 L650.5,281.5 L651.0,281.7 L651.5,281.9 L652.0,282.0 L652.5,282.2 L653.0,282.4 L653.5,282.6 L654.0,282.8 L654.5,282.9 L655.0,283.1 L655.5,283.3 L655.9,283.4 L656.4,283.6 L656.9,283.7 L657.4,283.9 L657.9,284.1 L658.4,284.2 L658.9,284.4 L659.4,284.5 L659.9,284.7 L660.4,284.8 L660.9,285.0 L661.4,285.1 L661.8,285.3 L662.3,285.4 L662.8,285.6 L663.3,285.7 L663.8,285.9 L664.3,286.0 L664.8,286.2 L665.3,286.3 L665.8,286.5 L666.3,286.6 L666.8,286.8 L667.2,286.9 L667.7,287.1 L668.2,287.3 L668.7,287.4 L669.2,287.6 L669.7,287.7 L670.2,287.9 L670.7,288.1 L671.2,288.2 L671.7,288.4 L672.2,288.6 L672.6,288.7 L673.1,288.9 L673.6,289.1 L674.1,289.2 L674.6,289.4 L675.1,289.6 L675.6,289.8 L676.1,289.9 L676.6,290.1 L677.1,290.3 L677.6,290.5 L678.0,290.6 L678.5,290.8 L679.0,291.0 L679.5,291.2 L680.0,291.4 L680.5,291.5 L681.0,291.7 L681.5,291.8 L682.0,292.0 L682.5,292.1 L683.0,292.3 L683.4,292.4 L683.9,292.6 L684.4,292.7 L684.9,292.9 L685.4,293.0 L685.9,293.2 L686.4,293.3 L686.9,293.5 L687.4,293.6 L687.9,293.8 L688.4,293.9 L688.8,294.1 L689.3,294.2 L689.8,294.4 L690.3,294.5 L690.8,294.7 L691.3,294.8 L691.8,294.9 L692.3,295.1 L692.8,295.2 L693.3,295.4 L693.8,295.5 L694.3,295.7 L694.7,295.8 L695.2,296.0 L695.7,296.1 L696.2,296.2 L696.7,296.4 L697.2,296.5 L697.7,296.7 L698.2,296.8 L698.7,297.0 L699.2,297.1 L699.7,297.2 L700.1,297.4 L700.6,297.5 L701.1,297.7 L701.6,297.8 L702.1,297.9 L702.6,298.1 L703.1,298.2 L703.6,298.4 L704.1,298.5 L704.6,298.7 L705.1,298.8 L705.5,298.9 L706.0,299.1 L706.5,299.2 L707.0,299.3 L707.5,299.5 L708.0,299.6 L708.5,299.8 L709.0,299.9 L709.5,300.0 L710.0,300.2 L710.5,300.3 L710.9,300.4 L711.4,300.6 L711.9,300.7 L712.4,300.9 L712.9,301.0 L713.4,301.1 L713.9,301.3 L714.4,301.4 L714.9,301.5 L715.4,301.7 L715.9,301.8 L716.3,301.9 L716.8,302.0 L717.3,302.2 L717.8,302.3 L718.3,302.4 L718.8,302.6 L719.3,302.7 L719.8,302.8 L720.3,303.0 L720.8,303.1 L721.3,303.2 L721.8,303.3 L722.2,303.5 L722.7,303.6 L723.2,303.7 L723.7,303.8 L724.2,304.0 L724.7,304.1 L725.2,304.2 L725.7,304.3 L726.2,304.5 L726.7,304.6 L727.2,304.7 L727.6,304.8 L728.1,304.9 L728.6,305.1 L729.1,305.2 L729.6,305.3 L730.1,305.4 L730.6,305.6 L731.1,305.7 L731.6,305.8 L732.1,305.9 L732.6,306.0 L733.0,306.2 L733.5,306.3 L734.0,306.4 L734.5,306.5 L735.0,306.6 L735.5,306.7 L736.0,306.9 L736.5,307.0 L737.0,307.1 L737.5,307.2 L738.0,307.3 L738.4,307.5 L738.9,307.6 L739.4,307.7 L739.9,307.8 L740.4,307.9 L740.9,308.0 L741.4,308.2 L741.9,308.3 L742.4,308.4 L742.9,308.5 L743.4,308.6 L743.8,308.8 L744.3,308.9 L744.8,309.0 L745.3,309.1 L745.8,309.2 L746.3,309.3 L746.8,309.5 L747.3,309.6 L747.8,309.7 L748.3,309.8 L748.8,309.9 L749.3,310.0 L749.7,310.2 L750.2,310.3 L750.7,310.4 L751.2,310.5 L751.7,310.6 L752.2,310.7 L752.7,310.9 L753.2,311.0 L753.7,311.1 L754.2,311.2 L754.7,311.3 L755.1,311.4 L755.6,311.5 L756.1,311.7 L756.6,311.8 L757.1,311.9 L757.6,312.0 L758.1,312.1 L758.6,312.2 L759.1,312.3 L759.6,312.5 L760.1,312.6 L760.5,312.7 L761.0,312.8 L761.5,312.9 L762.0,313.0 L762.5,313.1 L763.0,313.2 L763.5,313.3 L764.0,313.5 L764.5,313.6 L765.0,313.7 L765.5,313.8 L765.9,313.9 L766.4,314.0 L766.9,314.1 L767.4,314.2 L767.9,314.3 L768.4,314.5 L768.9,314.6 L769.4,314.7 L769.9,314.8 L770.4,314.9 L770.9,315.0 L771.3,315.1 L771.8,315.2 L772.3,315.4 L772.8,315.5 L773.3,315.6 L773.8,315.7 L774.3,315.8 L774.8,315.9 L775.3,316.0 L775.8,316.2 L776.3,316.3 L776.8,316.4 L777.2,316.5 L777.7,316.6 L778.2,316.7 L778.7,316.8 L779.2,316.9 L779.7,317.0 L780.2,317.1 L780.7,317.3 L781.2,317.4 L781.7,317.5 L782.2,317.6 L782.6,317.7 L783.1,317.8 L783.6,317.9 L784.1,318.0 L784.6,318.1 L785.1,318.2 L785.6,318.2 L786.1,318.3 L786.6,318.4 L787.1,318.5 L787.6,318.6 L788.0,318.7 L788.5,318.8 L789.0,318.8 L789.5,318.9 L790.0,319.0 L790.5,319.1 L791.0,319.2 L791.5,319.2 L792.0,319.3 L792.5,319.4 L793.0,319.4 L793.4,319.5 L793.9,319.6 L794.4,319.7 L794.9,319.7 L795.4,319.8 L795.9,319.9 L796.4,319.9 L796.9,320.0 L797.4,320.1 L797.9,320.1 L798.4,320.2 L798.8,320.3 L799.3,320.3 L799.8,320.4 L800.3,320.5 L800.8,320.5 L801.3,320.6 L801.8,320.7 L802.3,320.7 L802.8,320.8 L803.3,320.9 L803.8,320.9 L804.3,321.0 L804.7,321.0 L805.2,321.1 L805.7,321.1 L806.2,321.2 L806.7,321.3 L807.2,321.3 L807.7,321.4 L808.2,321.4 L808.7,321.5 L809.2,321.5 L809.7,321.6 L810.1,321.6 L810.6,321.7 L811.1,321.7 L811.6,321.8 L812.1,321.8 L812.6,321.9 L813.1,321.9 L813.6,321.9 L814.1,322.0 L814.6,322.0 L815.1,322.1 L815.5,322.1 L816.0,322.1 L816.5,322.2 L817.0,322.2 L817.5,322.3 L818.0,322.3" fill="none" stroke="#3b2f9c" stroke-width="3.3"/>
<g fill="#0a0a0a"><circle cx="134.2" cy="336.8" r="2.9"/><circle cx="134.6" cy="337.7" r="2.9"/><circle cx="135.6" cy="341.1" r="2.9"/><circle cx="135.6" cy="340.7" r="2.9"/><circle cx="135.9" cy="339.0" r="2.9"/><circle cx="140.1" cy="337.3" r="2.9"/><circle cx="140.7" cy="336.4" r="2.9"/><circle cx="141.8" cy="338.5" r="2.9"/><circle cx="142.3" cy="342.1" r="2.9"/><circle cx="142.6" cy="335.2" r="2.9"/><circle cx="144.8" cy="342.6" r="2.9"/><circle cx="145.9" cy="340.3" r="2.9"/><circle cx="146.5" cy="336.2" r="2.9"/><circle cx="149.3" cy="339.4" r="2.9"/><circle cx="149.7" cy="332.3" r="2.9"/><circle cx="150.1" cy="325.5" r="2.9"/><circle cx="150.3" cy="332.8" r="2.9"/><circle cx="152.8" cy="335.0" r="2.9"/><circle cx="152.8" cy="335.2" r="2.9"/><circle cx="154.3" cy="334.4" r="2.9"/><circle cx="154.3" cy="336.3" r="2.9"/><circle cx="154.7" cy="329.3" r="2.9"/><circle cx="154.7" cy="337.4" r="2.9"/><circle cx="154.9" cy="331.5" r="2.9"/><circle cx="155.3" cy="333.8" r="2.9"/><circle cx="155.4" cy="334.5" r="2.9"/><circle cx="155.6" cy="332.2" r="2.9"/><circle cx="156.2" cy="326.7" r="2.9"/><circle cx="156.5" cy="332.5" r="2.9"/><circle cx="158.1" cy="335.3" r="2.9"/><circle cx="158.7" cy="337.1" r="2.9"/><circle cx="159.2" cy="336.9" r="2.9"/><circle cx="159.2" cy="332.1" r="2.9"/><circle cx="159.8" cy="332.6" r="2.9"/><circle cx="160.6" cy="332.1" r="2.9"/><circle cx="162.1" cy="336.2" r="2.9"/><circle cx="162.4" cy="328.3" r="2.9"/><circle cx="164.0" cy="338.4" r="2.9"/><circle cx="165.9" cy="332.7" r="2.9"/><circle cx="166.8" cy="331.7" r="2.9"/><circle cx="166.8" cy="335.2" r="2.9"/><circle cx="167.9" cy="337.2" r="2.9"/><circle cx="170.9" cy="334.6" r="2.9"/><circle cx="170.9" cy="336.9" r="2.9"/><circle cx="172.6" cy="333.7" r="2.9"/><circle cx="173.9" cy="337.0" r="2.9"/><circle cx="174.4" cy="337.0" r="2.9"/><circle cx="174.8" cy="332.7" r="2.9"/><circle cx="175.3" cy="337.5" r="2.9"/><circle cx="176.0" cy="333.3" r="2.9"/><circle cx="176.8" cy="332.9" r="2.9"/><circle cx="177.5" cy="329.6" r="2.9"/><circle cx="177.7" cy="331.6" r="2.9"/><circle cx="178.0" cy="334.9" r="2.9"/><circle cx="178.3" cy="328.2" r="2.9"/><circle cx="178.4" cy="334.4" r="2.9"/><circle cx="179.1" cy="334.5" r="2.9"/><circle cx="180.1" cy="333.0" r="2.9"/><circle cx="182.2" cy="324.7" r="2.9"/><circle cx="182.3" cy="331.4" r="2.9"/><circle cx="182.9" cy="333.7" r="2.9"/><circle cx="183.5" cy="329.0" r="2.9"/><circle cx="184.8" cy="331.5" r="2.9"/><circle cx="185.2" cy="324.1" r="2.9"/><circle cx="185.2" cy="333.3" r="2.9"/><circle cx="186.9" cy="328.7" r="2.9"/><circle cx="187.7" cy="333.5" r="2.9"/><circle cx="187.9" cy="324.7" r="2.9"/><circle cx="188.2" cy="332.8" r="2.9"/><circle cx="189.9" cy="329.5" r="2.9"/><circle cx="190.1" cy="332.8" r="2.9"/><circle cx="194.8" cy="326.2" r="2.9"/><circle cx="194.8" cy="327.2" r="2.9"/><circle cx="195.0" cy="343.5" r="2.9"/><circle cx="195.6" cy="326.4" r="2.9"/><circle cx="198.0" cy="326.2" r="2.9"/><circle cx="198.3" cy="327.6" r="2.9"/><circle cx="198.4" cy="325.1" r="2.9"/><circle cx="201.4" cy="331.6" r="2.9"/><circle cx="201.5" cy="333.4" r="2.9"/><circle cx="202.7" cy="325.1" r="2.9"/><circle cx="205.0" cy="321.1" r="2.9"/><circle cx="205.4" cy="330.6" r="2.9"/><circle cx="209.1" cy="329.4" r="2.9"/><circle cx="209.3" cy="328.4" r="2.9"/><circle cx="209.6" cy="329.4" r="2.9"/><circle cx="209.7" cy="322.7" r="2.9"/><circle cx="210.4" cy="324.8" r="2.9"/><circle cx="211.8" cy="320.3" r="2.9"/><circle cx="212.1" cy="320.1" r="2.9"/><circle cx="212.7" cy="327.9" r="2.9"/><circle cx="216.3" cy="321.3" r="2.9"/><circle cx="216.5" cy="330.9" r="2.9"/><circle cx="216.6" cy="323.7" r="2.9"/><circle cx="217.7" cy="320.9" r="2.9"/><circle cx="217.7" cy="325.8" r="2.9"/><circle cx="218.3" cy="329.0" r="2.9"/><circle cx="220.4" cy="323.8" r="2.9"/><circle cx="220.6" cy="318.0" r="2.9"/><circle cx="220.9" cy="323.3" r="2.9"/><circle cx="221.3" cy="326.6" r="2.9"/><circle cx="221.6" cy="320.1" r="2.9"/><circle cx="221.9" cy="319.0" r="2.9"/><circle cx="222.3" cy="328.1" r="2.9"/><circle cx="222.4" cy="322.0" r="2.9"/><circle cx="222.7" cy="317.6" r="2.9"/><circle cx="223.4" cy="319.8" r="2.9"/><circle cx="223.7" cy="318.4" r="2.9"/><circle cx="224.7" cy="321.7" r="2.9"/><circle cx="225.1" cy="320.9" r="2.9"/><circle cx="225.5" cy="324.3" r="2.9"/><circle cx="225.8" cy="322.7" r="2.9"/><circle cx="225.9" cy="314.8" r="2.9"/><circle cx="226.5" cy="321.4" r="2.9"/><circle cx="226.7" cy="325.7" r="2.9"/><circle cx="227.4" cy="321.2" r="2.9"/><circle cx="227.7" cy="323.1" r="2.9"/><circle cx="227.9" cy="317.5" r="2.9"/><circle cx="228.8" cy="315.7" r="2.9"/><circle cx="229.2" cy="322.1" r="2.9"/><circle cx="229.7" cy="314.9" r="2.9"/><circle cx="231.8" cy="310.2" r="2.9"/><circle cx="232.1" cy="321.2" r="2.9"/><circle cx="233.5" cy="314.4" r="2.9"/><circle cx="235.0" cy="315.2" r="2.9"/><circle cx="235.4" cy="311.1" r="2.9"/><circle cx="235.6" cy="311.3" r="2.9"/><circle cx="237.2" cy="311.1" r="2.9"/><circle cx="237.8" cy="313.7" r="2.9"/><circle cx="238.0" cy="316.2" r="2.9"/><circle cx="238.4" cy="306.8" r="2.9"/><circle cx="239.5" cy="316.9" r="2.9"/><circle cx="241.9" cy="308.7" r="2.9"/><circle cx="242.4" cy="308.9" r="2.9"/><circle cx="242.8" cy="315.0" r="2.9"/><circle cx="243.3" cy="312.0" r="2.9"/><circle cx="243.8" cy="306.5" r="2.9"/><circle cx="245.2" cy="318.1" r="2.9"/><circle cx="245.5" cy="308.2" r="2.9"/><circle cx="245.8" cy="312.1" r="2.9"/><circle cx="245.8" cy="311.8" r="2.9"/><circle cx="245.9" cy="316.2" r="2.9"/><circle cx="247.0" cy="308.9" r="2.9"/><circle cx="249.5" cy="313.1" r="2.9"/><circle cx="250.7" cy="306.1" r="2.9"/><circle cx="251.1" cy="312.8" r="2.9"/><circle cx="251.2" cy="305.8" r="2.9"/><circle cx="252.9" cy="306.5" r="2.9"/><circle cx="253.3" cy="314.7" r="2.9"/><circle cx="255.0" cy="308.1" r="2.9"/><circle cx="255.1" cy="307.3" r="2.9"/><circle cx="255.9" cy="314.7" r="2.9"/><circle cx="257.9" cy="307.0" r="2.9"/><circle cx="258.0" cy="302.5" r="2.9"/><circle cx="258.0" cy="308.3" r="2.9"/><circle cx="258.1" cy="301.0" r="2.9"/><circle cx="258.3" cy="309.7" r="2.9"/><circle cx="258.4" cy="309.9" r="2.9"/><circle cx="258.4" cy="303.2" r="2.9"/><circle cx="258.5" cy="302.9" r="2.9"/><circle cx="260.0" cy="305.3" r="2.9"/><circle cx="260.4" cy="304.5" r="2.9"/><circle cx="260.6" cy="298.0" r="2.9"/><circle cx="262.7" cy="305.5" r="2.9"/><circle cx="262.9" cy="295.5" r="2.9"/><circle cx="263.2" cy="301.5" r="2.9"/><circle cx="264.0" cy="301.2" r="2.9"/><circle cx="264.0" cy="301.7" r="2.9"/><circle cx="264.1" cy="303.9" r="2.9"/><circle cx="266.1" cy="297.0" r="2.9"/><circle cx="266.2" cy="303.9" r="2.9"/><circle cx="267.3" cy="300.4" r="2.9"/><circle cx="267.7" cy="298.4" r="2.9"/><circle cx="267.8" cy="295.5" r="2.9"/><circle cx="267.9" cy="296.2" r="2.9"/><circle cx="268.2" cy="302.1" r="2.9"/><circle cx="269.6" cy="296.2" r="2.9"/><circle cx="270.1" cy="299.9" r="2.9"/><circle cx="271.2" cy="303.3" r="2.9"/><circle cx="271.4" cy="303.0" r="2.9"/><circle cx="272.5" cy="304.6" r="2.9"/><circle cx="274.6" cy="296.1" r="2.9"/><circle cx="275.4" cy="292.5" r="2.9"/><circle cx="277.7" cy="299.6" r="2.9"/><circle cx="278.1" cy="296.5" r="2.9"/><circle cx="278.7" cy="299.4" r="2.9"/><circle cx="279.1" cy="294.8" r="2.9"/><circle cx="279.3" cy="299.4" r="2.9"/><circle cx="279.5" cy="297.9" r="2.9"/><circle cx="279.5" cy="299.1" r="2.9"/><circle cx="279.7" cy="296.4" r="2.9"/><circle cx="280.5" cy="295.4" r="2.9"/><circle cx="281.0" cy="294.5" r="2.9"/><circle cx="282.6" cy="293.5" r="2.9"/><circle cx="284.4" cy="295.5" r="2.9"/><circle cx="286.5" cy="288.2" r="2.9"/><circle cx="287.3" cy="296.9" r="2.9"/><circle cx="287.8" cy="289.0" r="2.9"/><circle cx="289.9" cy="292.2" r="2.9"/><circle cx="290.2" cy="287.5" r="2.9"/><circle cx="292.4" cy="285.6" r="2.9"/><circle cx="294.3" cy="293.9" r="2.9"/><circle cx="296.3" cy="282.8" r="2.9"/><circle cx="296.3" cy="278.7" r="2.9"/><circle cx="300.4" cy="278.4" r="2.9"/><circle cx="300.9" cy="279.8" r="2.9"/><circle cx="301.2" cy="290.2" r="2.9"/><circle cx="301.7" cy="281.5" r="2.9"/><circle cx="301.8" cy="284.6" r="2.9"/><circle cx="302.5" cy="275.8" r="2.9"/><circle cx="303.2" cy="281.2" r="2.9"/><circle cx="304.2" cy="281.9" r="2.9"/><circle cx="305.4" cy="286.0" r="2.9"/><circle cx="305.4" cy="275.1" r="2.9"/><circle cx="305.6" cy="280.6" r="2.9"/><circle cx="305.8" cy="279.2" r="2.9"/><circle cx="306.8" cy="272.7" r="2.9"/><circle cx="307.5" cy="276.7" r="2.9"/><circle cx="307.8" cy="275.4" r="2.9"/><circle cx="308.3" cy="266.5" r="2.9"/><circle cx="309.1" cy="278.3" r="2.9"/><circle cx="313.7" cy="275.0" r="2.9"/><circle cx="314.4" cy="270.1" r="2.9"/><circle cx="314.5" cy="266.0" r="2.9"/><circle cx="314.6" cy="278.6" r="2.9"/><circle cx="315.1" cy="272.8" r="2.9"/><circle cx="315.6" cy="275.9" r="2.9"/><circle cx="315.6" cy="277.7" r="2.9"/><circle cx="316.2" cy="268.5" r="2.9"/><circle cx="316.7" cy="274.2" r="2.9"/><circle cx="317.0" cy="269.3" r="2.9"/><circle cx="317.3" cy="269.9" r="2.9"/><circle cx="318.0" cy="269.3" r="2.9"/><circle cx="318.3" cy="269.5" r="2.9"/><circle cx="319.3" cy="273.9" r="2.9"/><circle cx="320.1" cy="268.7" r="2.9"/><circle cx="322.6" cy="265.7" r="2.9"/><circle cx="323.0" cy="264.9" r="2.9"/><circle cx="323.0" cy="267.7" r="2.9"/><circle cx="323.2" cy="261.9" r="2.9"/><circle cx="324.7" cy="262.6" r="2.9"/><circle cx="325.4" cy="264.2" r="2.9"/><circle cx="326.1" cy="261.3" r="2.9"/><circle cx="326.4" cy="263.2" r="2.9"/><circle cx="327.2" cy="260.3" r="2.9"/><circle cx="329.6" cy="270.9" r="2.9"/><circle cx="330.3" cy="269.6" r="2.9"/><circle cx="332.8" cy="261.4" r="2.9"/><circle cx="332.9" cy="258.8" r="2.9"/><circle cx="333.0" cy="269.5" r="2.9"/><circle cx="335.3" cy="259.0" r="2.9"/><circle cx="337.6" cy="255.4" r="2.9"/><circle cx="337.9" cy="257.0" r="2.9"/><circle cx="338.1" cy="256.9" r="2.9"/><circle cx="338.9" cy="261.7" r="2.9"/><circle cx="339.9" cy="254.1" r="2.9"/><circle cx="340.5" cy="264.1" r="2.9"/><circle cx="340.5" cy="249.5" r="2.9"/><circle cx="341.6" cy="256.5" r="2.9"/><circle cx="341.9" cy="247.9" r="2.9"/><circle cx="342.2" cy="261.6" r="2.9"/><circle cx="342.4" cy="250.9" r="2.9"/><circle cx="345.0" cy="250.4" r="2.9"/><circle cx="345.1" cy="255.3" r="2.9"/><circle cx="345.3" cy="256.8" r="2.9"/><circle cx="346.2" cy="244.4" r="2.9"/><circle cx="346.6" cy="248.0" r="2.9"/><circle cx="346.7" cy="242.7" r="2.9"/><circle cx="347.2" cy="250.0" r="2.9"/><circle cx="347.3" cy="248.7" r="2.9"/><circle cx="348.2" cy="246.9" r="2.9"/><circle cx="348.3" cy="245.2" r="2.9"/><circle cx="349.2" cy="246.1" r="2.9"/><circle cx="350.2" cy="243.7" r="2.9"/><circle cx="351.4" cy="249.3" r="2.9"/><circle cx="352.5" cy="253.6" r="2.9"/><circle cx="353.0" cy="235.9" r="2.9"/><circle cx="353.6" cy="244.7" r="2.9"/><circle cx="353.7" cy="243.1" r="2.9"/><circle cx="354.0" cy="247.5" r="2.9"/><circle cx="356.4" cy="238.7" r="2.9"/><circle cx="358.0" cy="241.9" r="2.9"/><circle cx="358.3" cy="237.2" r="2.9"/><circle cx="359.1" cy="245.6" r="2.9"/><circle cx="359.4" cy="242.3" r="2.9"/><circle cx="360.0" cy="240.4" r="2.9"/><circle cx="360.2" cy="243.3" r="2.9"/><circle cx="361.9" cy="239.1" r="2.9"/><circle cx="362.3" cy="232.1" r="2.9"/><circle cx="363.0" cy="242.8" r="2.9"/><circle cx="363.9" cy="240.7" r="2.9"/><circle cx="364.3" cy="238.1" r="2.9"/><circle cx="365.3" cy="243.5" r="2.9"/><circle cx="367.9" cy="243.3" r="2.9"/><circle cx="368.1" cy="231.0" r="2.9"/><circle cx="369.4" cy="231.9" r="2.9"/><circle cx="370.9" cy="243.4" r="2.9"/><circle cx="373.9" cy="241.1" r="2.9"/><circle cx="374.6" cy="229.2" r="2.9"/><circle cx="375.8" cy="226.1" r="2.9"/><circle cx="376.6" cy="228.6" r="2.9"/><circle cx="379.8" cy="227.4" r="2.9"/><circle cx="381.1" cy="220.8" r="2.9"/><circle cx="385.1" cy="226.9" r="2.9"/><circle cx="385.5" cy="219.6" r="2.9"/><circle cx="386.3" cy="219.4" r="2.9"/><circle cx="386.9" cy="230.5" r="2.9"/><circle cx="387.0" cy="221.8" r="2.9"/><circle cx="387.3" cy="224.9" r="2.9"/><circle cx="387.4" cy="228.6" r="2.9"/><circle cx="387.8" cy="229.4" r="2.9"/><circle cx="388.1" cy="222.9" r="2.9"/><circle cx="388.7" cy="224.6" r="2.9"/><circle cx="389.1" cy="219.6" r="2.9"/><circle cx="389.5" cy="233.2" r="2.9"/><circle cx="390.1" cy="226.9" r="2.9"/><circle cx="390.4" cy="217.2" r="2.9"/><circle cx="390.5" cy="223.1" r="2.9"/><circle cx="390.7" cy="226.8" r="2.9"/><circle cx="391.4" cy="225.0" r="2.9"/><circle cx="391.5" cy="232.3" r="2.9"/><circle cx="392.2" cy="229.3" r="2.9"/><circle cx="392.3" cy="218.9" r="2.9"/><circle cx="393.0" cy="220.9" r="2.9"/><circle cx="393.1" cy="214.4" r="2.9"/><circle cx="393.3" cy="222.5" r="2.9"/><circle cx="393.7" cy="221.7" r="2.9"/><circle cx="396.9" cy="230.4" r="2.9"/><circle cx="397.8" cy="218.4" r="2.9"/><circle cx="397.8" cy="206.6" r="2.9"/><circle cx="397.8" cy="214.2" r="2.9"/><circle cx="397.9" cy="218.4" r="2.9"/><circle cx="399.4" cy="209.9" r="2.9"/><circle cx="401.0" cy="210.8" r="2.9"/><circle cx="402.4" cy="212.6" r="2.9"/><circle cx="403.0" cy="215.9" r="2.9"/><circle cx="403.4" cy="212.9" r="2.9"/><circle cx="403.7" cy="208.7" r="2.9"/><circle cx="405.2" cy="216.7" r="2.9"/><circle cx="408.1" cy="207.4" r="2.9"/><circle cx="408.5" cy="207.4" r="2.9"/><circle cx="408.6" cy="202.5" r="2.9"/><circle cx="409.4" cy="205.2" r="2.9"/><circle cx="409.5" cy="212.9" r="2.9"/><circle cx="410.4" cy="200.0" r="2.9"/><circle cx="410.6" cy="208.2" r="2.9"/><circle cx="410.7" cy="212.4" r="2.9"/><circle cx="411.0" cy="206.3" r="2.9"/><circle cx="412.6" cy="208.5" r="2.9"/><circle cx="413.9" cy="200.3" r="2.9"/><circle cx="414.0" cy="213.3" r="2.9"/><circle cx="414.3" cy="212.0" r="2.9"/><circle cx="414.4" cy="207.2" r="2.9"/><circle cx="416.8" cy="194.7" r="2.9"/><circle cx="418.5" cy="197.2" r="2.9"/><circle cx="419.4" cy="207.4" r="2.9"/><circle cx="420.0" cy="210.8" r="2.9"/><circle cx="420.3" cy="203.2" r="2.9"/><circle cx="420.6" cy="207.8" r="2.9"/><circle cx="420.8" cy="197.5" r="2.9"/><circle cx="422.1" cy="198.6" r="2.9"/><circle cx="424.7" cy="197.1" r="2.9"/><circle cx="425.8" cy="198.2" r="2.9"/><circle cx="427.0" cy="186.2" r="2.9"/><circle cx="427.5" cy="198.9" r="2.9"/><circle cx="428.9" cy="198.8" r="2.9"/><circle cx="429.4" cy="184.7" r="2.9"/><circle cx="430.3" cy="182.0" r="2.9"/><circle cx="432.2" cy="187.9" r="2.9"/><circle cx="432.3" cy="182.4" r="2.9"/><circle cx="432.4" cy="173.8" r="2.9"/><circle cx="434.1" cy="187.0" r="2.9"/><circle cx="434.8" cy="182.0" r="2.9"/><circle cx="436.9" cy="173.7" r="2.9"/><circle cx="437.1" cy="187.2" r="2.9"/><circle cx="437.3" cy="176.0" r="2.9"/><circle cx="437.4" cy="171.0" r="2.9"/><circle cx="438.1" cy="173.6" r="2.9"/><circle cx="438.8" cy="165.4" r="2.9"/><circle cx="438.9" cy="166.7" r="2.9"/><circle cx="439.0" cy="172.7" r="2.9"/><circle cx="439.4" cy="166.3" r="2.9"/><circle cx="439.5" cy="166.6" r="2.9"/><circle cx="442.6" cy="165.5" r="2.9"/><circle cx="442.7" cy="160.7" r="2.9"/><circle cx="442.9" cy="160.5" r="2.9"/><circle cx="443.6" cy="154.4" r="2.9"/><circle cx="443.9" cy="152.6" r="2.9"/><circle cx="444.1" cy="156.8" r="2.9"/><circle cx="444.6" cy="145.6" r="2.9"/><circle cx="445.2" cy="152.6" r="2.9"/><circle cx="445.8" cy="132.5" r="2.9"/><circle cx="446.2" cy="133.1" r="2.9"/><circle cx="446.3" cy="126.2" r="2.9"/><circle cx="446.7" cy="128.9" r="2.9"/><circle cx="450.9" cy="99.2" r="2.9"/><circle cx="451.0" cy="104.5" r="2.9"/><circle cx="451.5" cy="83.4" r="2.9"/><circle cx="451.5" cy="88.5" r="2.9"/><circle cx="451.6" cy="85.5" r="2.9"/><circle cx="451.8" cy="79.8" r="2.9"/><circle cx="452.1" cy="73.0" r="2.9"/><circle cx="452.9" cy="75.9" r="2.9"/><circle cx="453.0" cy="58.1" r="2.9"/><circle cx="453.5" cy="70.5" r="2.9"/><circle cx="453.9" cy="66.0" r="2.9"/><circle cx="454.1" cy="57.6" r="2.9"/><circle cx="454.1" cy="53.8" r="2.9"/><circle cx="455.3" cy="38.6" r="2.9"/><circle cx="456.8" cy="69.7" r="2.9"/><circle cx="456.9" cy="31.5" r="2.9"/><circle cx="457.3" cy="64.2" r="2.9"/><circle cx="457.4" cy="50.8" r="2.9"/><circle cx="458.2" cy="34.8" r="2.9"/><circle cx="458.9" cy="31.5" r="2.9"/><circle cx="460.7" cy="47.0" r="2.9"/><circle cx="464.2" cy="78.7" r="2.9"/><circle cx="466.1" cy="66.8" r="2.9"/><circle cx="466.8" cy="79.4" r="2.9"/><circle cx="467.6" cy="97.6" r="2.9"/><circle cx="468.8" cy="101.8" r="2.9"/><circle cx="470.8" cy="126.5" r="2.9"/><circle cx="471.2" cy="114.3" r="2.9"/><circle cx="472.9" cy="131.6" r="2.9"/><circle cx="473.2" cy="123.8" r="2.9"/><circle cx="477.3" cy="167.0" r="2.9"/><circle cx="477.5" cy="152.6" r="2.9"/><circle cx="478.1" cy="147.2" r="2.9"/><circle cx="479.4" cy="163.5" r="2.9"/><circle cx="479.6" cy="164.0" r="2.9"/><circle cx="480.3" cy="177.6" r="2.9"/><circle cx="480.4" cy="165.6" r="2.9"/><circle cx="481.7" cy="171.4" r="2.9"/><circle cx="483.8" cy="179.8" r="2.9"/><circle cx="483.9" cy="185.3" r="2.9"/><circle cx="484.7" cy="177.8" r="2.9"/><circle cx="484.9" cy="184.2" r="2.9"/><circle cx="485.2" cy="181.9" r="2.9"/><circle cx="485.6" cy="178.2" r="2.9"/><circle cx="486.0" cy="180.8" r="2.9"/><circle cx="486.1" cy="180.7" r="2.9"/><circle cx="487.9" cy="178.3" r="2.9"/><circle cx="488.1" cy="190.1" r="2.9"/><circle cx="488.4" cy="176.5" r="2.9"/><circle cx="489.5" cy="191.8" r="2.9"/><circle cx="489.9" cy="191.1" r="2.9"/><circle cx="491.0" cy="186.6" r="2.9"/><circle cx="491.0" cy="183.0" r="2.9"/><circle cx="491.3" cy="186.3" r="2.9"/><circle cx="491.5" cy="190.2" r="2.9"/><circle cx="491.9" cy="192.2" r="2.9"/><circle cx="493.5" cy="191.1" r="2.9"/><circle cx="499.8" cy="199.1" r="2.9"/><circle cx="499.8" cy="190.8" r="2.9"/><circle cx="501.3" cy="195.8" r="2.9"/><circle cx="502.1" cy="186.4" r="2.9"/><circle cx="503.2" cy="199.5" r="2.9"/><circle cx="503.6" cy="196.4" r="2.9"/><circle cx="504.1" cy="193.5" r="2.9"/><circle cx="505.8" cy="202.8" r="2.9"/><circle cx="506.5" cy="200.5" r="2.9"/><circle cx="507.7" cy="185.4" r="2.9"/><circle cx="507.9" cy="197.6" r="2.9"/><circle cx="509.4" cy="190.0" r="2.9"/><circle cx="509.6" cy="203.7" r="2.9"/><circle cx="509.8" cy="209.9" r="2.9"/><circle cx="510.5" cy="195.5" r="2.9"/><circle cx="510.9" cy="198.8" r="2.9"/><circle cx="511.7" cy="197.4" r="2.9"/><circle cx="511.7" cy="200.6" r="2.9"/><circle cx="514.7" cy="203.3" r="2.9"/><circle cx="514.9" cy="206.8" r="2.9"/><circle cx="515.0" cy="194.6" r="2.9"/><circle cx="515.6" cy="208.6" r="2.9"/><circle cx="518.1" cy="196.1" r="2.9"/><circle cx="518.7" cy="202.9" r="2.9"/><circle cx="518.9" cy="207.8" r="2.9"/><circle cx="519.2" cy="205.5" r="2.9"/><circle cx="521.0" cy="197.3" r="2.9"/><circle cx="521.6" cy="198.8" r="2.9"/><circle cx="522.1" cy="200.3" r="2.9"/><circle cx="522.8" cy="202.8" r="2.9"/><circle cx="522.8" cy="209.3" r="2.9"/><circle cx="523.1" cy="196.3" r="2.9"/><circle cx="523.8" cy="206.0" r="2.9"/><circle cx="524.6" cy="207.1" r="2.9"/><circle cx="525.3" cy="207.1" r="2.9"/><circle cx="525.5" cy="206.7" r="2.9"/><circle cx="526.0" cy="212.6" r="2.9"/><circle cx="526.4" cy="207.2" r="2.9"/><circle cx="526.7" cy="209.3" r="2.9"/><circle cx="528.5" cy="208.5" r="2.9"/><circle cx="529.2" cy="215.5" r="2.9"/><circle cx="529.5" cy="195.6" r="2.9"/><circle cx="529.6" cy="214.3" r="2.9"/><circle cx="530.3" cy="204.9" r="2.9"/><circle cx="530.9" cy="205.0" r="2.9"/><circle cx="531.8" cy="201.7" r="2.9"/><circle cx="532.3" cy="197.2" r="2.9"/><circle cx="534.6" cy="206.4" r="2.9"/><circle cx="536.2" cy="205.6" r="2.9"/><circle cx="536.7" cy="212.2" r="2.9"/><circle cx="536.7" cy="201.7" r="2.9"/><circle cx="536.9" cy="217.5" r="2.9"/><circle cx="537.0" cy="211.2" r="2.9"/><circle cx="539.0" cy="209.5" r="2.9"/><circle cx="540.0" cy="207.6" r="2.9"/><circle cx="540.0" cy="207.3" r="2.9"/><circle cx="541.3" cy="206.2" r="2.9"/><circle cx="542.4" cy="210.0" r="2.9"/><circle cx="543.6" cy="213.7" r="2.9"/><circle cx="543.8" cy="212.9" r="2.9"/><circle cx="545.3" cy="207.1" r="2.9"/><circle cx="546.2" cy="213.8" r="2.9"/><circle cx="547.1" cy="210.9" r="2.9"/><circle cx="549.0" cy="217.8" r="2.9"/><circle cx="549.2" cy="227.1" r="2.9"/><circle cx="550.0" cy="220.9" r="2.9"/><circle cx="550.2" cy="215.9" r="2.9"/><circle cx="551.0" cy="209.3" r="2.9"/><circle cx="551.6" cy="210.8" r="2.9"/><circle cx="551.8" cy="209.5" r="2.9"/><circle cx="552.2" cy="222.7" r="2.9"/><circle cx="555.4" cy="216.4" r="2.9"/><circle cx="556.7" cy="221.7" r="2.9"/><circle cx="557.3" cy="218.2" r="2.9"/><circle cx="557.6" cy="222.3" r="2.9"/><circle cx="557.9" cy="229.5" r="2.9"/><circle cx="558.8" cy="218.7" r="2.9"/><circle cx="560.8" cy="221.6" r="2.9"/><circle cx="561.9" cy="219.6" r="2.9"/><circle cx="562.9" cy="229.2" r="2.9"/><circle cx="563.1" cy="219.0" r="2.9"/><circle cx="563.2" cy="218.5" r="2.9"/><circle cx="563.4" cy="217.2" r="2.9"/><circle cx="563.6" cy="217.2" r="2.9"/><circle cx="563.9" cy="227.5" r="2.9"/><circle cx="564.9" cy="237.3" r="2.9"/><circle cx="564.9" cy="220.1" r="2.9"/><circle cx="565.5" cy="230.9" r="2.9"/><circle cx="567.8" cy="228.3" r="2.9"/><circle cx="568.1" cy="221.1" r="2.9"/><circle cx="568.3" cy="225.7" r="2.9"/><circle cx="568.5" cy="226.0" r="2.9"/><circle cx="569.1" cy="223.9" r="2.9"/><circle cx="569.7" cy="238.3" r="2.9"/><circle cx="570.2" cy="217.9" r="2.9"/><circle cx="570.8" cy="230.6" r="2.9"/><circle cx="570.9" cy="230.4" r="2.9"/><circle cx="571.9" cy="226.0" r="2.9"/><circle cx="572.1" cy="230.0" r="2.9"/><circle cx="572.3" cy="234.0" r="2.9"/><circle cx="573.3" cy="230.7" r="2.9"/><circle cx="573.6" cy="232.3" r="2.9"/><circle cx="574.1" cy="234.1" r="2.9"/><circle cx="575.9" cy="220.5" r="2.9"/><circle cx="578.5" cy="240.8" r="2.9"/><circle cx="582.3" cy="247.1" r="2.9"/><circle cx="582.9" cy="241.1" r="2.9"/><circle cx="583.2" cy="241.5" r="2.9"/><circle cx="583.4" cy="228.9" r="2.9"/><circle cx="584.3" cy="236.3" r="2.9"/><circle cx="585.6" cy="233.6" r="2.9"/><circle cx="586.0" cy="235.1" r="2.9"/><circle cx="586.3" cy="243.4" r="2.9"/><circle cx="586.4" cy="234.3" r="2.9"/><circle cx="587.0" cy="238.3" r="2.9"/><circle cx="588.0" cy="229.8" r="2.9"/><circle cx="588.9" cy="239.5" r="2.9"/><circle cx="590.5" cy="242.1" r="2.9"/><circle cx="591.4" cy="238.7" r="2.9"/><circle cx="591.5" cy="238.7" r="2.9"/><circle cx="592.8" cy="253.1" r="2.9"/><circle cx="592.9" cy="237.3" r="2.9"/><circle cx="594.5" cy="239.4" r="2.9"/><circle cx="596.0" cy="241.9" r="2.9"/><circle cx="596.1" cy="252.0" r="2.9"/><circle cx="596.9" cy="257.2" r="2.9"/><circle cx="597.0" cy="248.4" r="2.9"/><circle cx="597.2" cy="243.2" r="2.9"/><circle cx="597.4" cy="244.8" r="2.9"/><circle cx="597.5" cy="252.5" r="2.9"/><circle cx="598.8" cy="243.5" r="2.9"/><circle cx="599.5" cy="255.9" r="2.9"/><circle cx="600.5" cy="256.4" r="2.9"/><circle cx="601.0" cy="250.1" r="2.9"/><circle cx="602.3" cy="253.8" r="2.9"/><circle cx="602.8" cy="254.7" r="2.9"/><circle cx="603.0" cy="258.9" r="2.9"/><circle cx="606.7" cy="248.8" r="2.9"/><circle cx="606.8" cy="259.8" r="2.9"/><circle cx="608.0" cy="253.1" r="2.9"/><circle cx="609.3" cy="252.1" r="2.9"/><circle cx="610.2" cy="257.1" r="2.9"/><circle cx="611.1" cy="256.2" r="2.9"/><circle cx="613.9" cy="254.5" r="2.9"/><circle cx="614.1" cy="251.8" r="2.9"/><circle cx="616.7" cy="256.8" r="2.9"/><circle cx="616.7" cy="268.1" r="2.9"/><circle cx="617.2" cy="270.9" r="2.9"/><circle cx="617.5" cy="264.9" r="2.9"/><circle cx="618.8" cy="268.3" r="2.9"/><circle cx="619.7" cy="260.9" r="2.9"/><circle cx="620.7" cy="263.7" r="2.9"/><circle cx="620.9" cy="265.5" r="2.9"/><circle cx="621.0" cy="259.2" r="2.9"/><circle cx="621.5" cy="260.0" r="2.9"/><circle cx="623.9" cy="266.6" r="2.9"/><circle cx="625.7" cy="265.7" r="2.9"/><circle cx="626.2" cy="262.6" r="2.9"/><circle cx="626.6" cy="269.5" r="2.9"/><circle cx="626.8" cy="266.6" r="2.9"/><circle cx="627.0" cy="272.7" r="2.9"/><circle cx="627.3" cy="268.1" r="2.9"/><circle cx="628.8" cy="267.6" r="2.9"/><circle cx="629.3" cy="269.9" r="2.9"/><circle cx="629.9" cy="268.9" r="2.9"/><circle cx="630.9" cy="267.3" r="2.9"/><circle cx="631.3" cy="268.7" r="2.9"/><circle cx="632.8" cy="274.7" r="2.9"/><circle cx="633.3" cy="275.9" r="2.9"/><circle cx="633.4" cy="277.5" r="2.9"/><circle cx="634.7" cy="264.9" r="2.9"/><circle cx="635.3" cy="271.0" r="2.9"/><circle cx="636.7" cy="271.7" r="2.9"/><circle cx="636.9" cy="274.4" r="2.9"/><circle cx="637.7" cy="272.1" r="2.9"/><circle cx="638.8" cy="272.4" r="2.9"/><circle cx="639.9" cy="278.7" r="2.9"/><circle cx="640.9" cy="276.5" r="2.9"/><circle cx="641.5" cy="270.9" r="2.9"/><circle cx="642.6" cy="282.4" r="2.9"/><circle cx="643.4" cy="281.3" r="2.9"/><circle cx="645.4" cy="275.3" r="2.9"/><circle cx="646.7" cy="281.9" r="2.9"/><circle cx="646.7" cy="275.1" r="2.9"/><circle cx="646.8" cy="283.2" r="2.9"/><circle cx="647.0" cy="277.5" r="2.9"/><circle cx="647.4" cy="275.1" r="2.9"/><circle cx="648.0" cy="277.2" r="2.9"/><circle cx="648.4" cy="275.6" r="2.9"/><circle cx="648.5" cy="279.8" r="2.9"/><circle cx="649.2" cy="280.0" r="2.9"/><circle cx="649.9" cy="279.6" r="2.9"/><circle cx="650.1" cy="277.1" r="2.9"/><circle cx="650.2" cy="270.1" r="2.9"/><circle cx="650.3" cy="280.0" r="2.9"/><circle cx="650.9" cy="271.6" r="2.9"/><circle cx="651.0" cy="280.9" r="2.9"/><circle cx="651.0" cy="284.8" r="2.9"/><circle cx="651.6" cy="281.2" r="2.9"/><circle cx="651.8" cy="278.4" r="2.9"/><circle cx="651.8" cy="279.3" r="2.9"/><circle cx="653.0" cy="279.9" r="2.9"/><circle cx="653.4" cy="278.2" r="2.9"/><circle cx="653.6" cy="278.2" r="2.9"/><circle cx="653.8" cy="276.8" r="2.9"/><circle cx="654.0" cy="285.9" r="2.9"/><circle cx="654.1" cy="280.7" r="2.9"/><circle cx="655.5" cy="285.3" r="2.9"/><circle cx="656.1" cy="280.3" r="2.9"/><circle cx="656.6" cy="281.8" r="2.9"/><circle cx="657.0" cy="280.9" r="2.9"/><circle cx="658.1" cy="283.9" r="2.9"/><circle cx="658.6" cy="285.6" r="2.9"/><circle cx="658.8" cy="283.1" r="2.9"/><circle cx="659.0" cy="279.3" r="2.9"/><circle cx="659.6" cy="279.0" r="2.9"/><circle cx="659.7" cy="289.4" r="2.9"/><circle cx="660.6" cy="281.3" r="2.9"/><circle cx="661.5" cy="280.9" r="2.9"/><circle cx="661.7" cy="289.1" r="2.9"/><circle cx="664.1" cy="288.0" r="2.9"/><circle cx="664.7" cy="285.8" r="2.9"/><circle cx="665.1" cy="282.0" r="2.9"/><circle cx="668.0" cy="293.7" r="2.9"/><circle cx="669.3" cy="286.4" r="2.9"/><circle cx="670.7" cy="287.4" r="2.9"/><circle cx="671.9" cy="284.7" r="2.9"/><circle cx="674.5" cy="280.3" r="2.9"/><circle cx="675.6" cy="281.0" r="2.9"/><circle cx="675.8" cy="288.3" r="2.9"/><circle cx="676.0" cy="288.3" r="2.9"/><circle cx="678.8" cy="286.5" r="2.9"/><circle cx="678.8" cy="282.6" r="2.9"/><circle cx="679.1" cy="281.6" r="2.9"/><circle cx="680.5" cy="286.6" r="2.9"/><circle cx="680.5" cy="282.0" r="2.9"/><circle cx="681.9" cy="292.2" r="2.9"/><circle cx="682.0" cy="293.2" r="2.9"/><circle cx="682.2" cy="297.6" r="2.9"/><circle cx="682.4" cy="292.2" r="2.9"/><circle cx="682.7" cy="286.2" r="2.9"/><circle cx="683.2" cy="285.2" r="2.9"/><circle cx="683.3" cy="279.8" r="2.9"/><circle cx="684.0" cy="286.6" r="2.9"/><circle cx="684.9" cy="288.6" r="2.9"/><circle cx="685.6" cy="293.6" r="2.9"/><circle cx="686.4" cy="292.3" r="2.9"/><circle cx="688.0" cy="292.7" r="2.9"/><circle cx="688.7" cy="291.4" r="2.9"/><circle cx="689.5" cy="293.4" r="2.9"/><circle cx="689.6" cy="296.7" r="2.9"/><circle cx="691.1" cy="286.9" r="2.9"/><circle cx="691.2" cy="289.4" r="2.9"/><circle cx="691.3" cy="285.6" r="2.9"/><circle cx="692.0" cy="298.1" r="2.9"/><circle cx="692.4" cy="296.9" r="2.9"/><circle cx="692.4" cy="294.7" r="2.9"/><circle cx="692.8" cy="286.9" r="2.9"/><circle cx="693.1" cy="292.5" r="2.9"/><circle cx="693.8" cy="291.1" r="2.9"/><circle cx="695.4" cy="292.8" r="2.9"/><circle cx="697.2" cy="292.3" r="2.9"/><circle cx="698.2" cy="295.4" r="2.9"/><circle cx="698.5" cy="291.8" r="2.9"/><circle cx="699.2" cy="297.0" r="2.9"/><circle cx="699.7" cy="294.7" r="2.9"/><circle cx="700.0" cy="292.7" r="2.9"/><circle cx="700.7" cy="293.6" r="2.9"/><circle cx="701.4" cy="292.5" r="2.9"/><circle cx="701.8" cy="297.6" r="2.9"/><circle cx="701.8" cy="293.3" r="2.9"/><circle cx="702.0" cy="295.6" r="2.9"/><circle cx="703.3" cy="293.2" r="2.9"/><circle cx="704.8" cy="289.3" r="2.9"/><circle cx="708.4" cy="299.8" r="2.9"/><circle cx="710.3" cy="292.6" r="2.9"/><circle cx="711.2" cy="299.7" r="2.9"/><circle cx="711.5" cy="298.8" r="2.9"/><circle cx="711.7" cy="290.6" r="2.9"/><circle cx="712.8" cy="293.7" r="2.9"/><circle cx="713.1" cy="295.5" r="2.9"/><circle cx="714.5" cy="294.7" r="2.9"/><circle cx="714.9" cy="293.4" r="2.9"/><circle cx="716.1" cy="303.2" r="2.9"/><circle cx="717.5" cy="297.8" r="2.9"/><circle cx="717.9" cy="300.3" r="2.9"/><circle cx="721.9" cy="298.2" r="2.9"/><circle cx="722.2" cy="301.1" r="2.9"/><circle cx="722.3" cy="297.1" r="2.9"/><circle cx="723.6" cy="300.2" r="2.9"/><circle cx="723.9" cy="304.2" r="2.9"/><circle cx="725.6" cy="301.0" r="2.9"/><circle cx="726.5" cy="299.3" r="2.9"/><circle cx="726.8" cy="296.9" r="2.9"/><circle cx="726.9" cy="301.8" r="2.9"/><circle cx="729.7" cy="303.2" r="2.9"/><circle cx="729.7" cy="300.9" r="2.9"/><circle cx="730.7" cy="299.1" r="2.9"/><circle cx="731.2" cy="304.3" r="2.9"/><circle cx="731.3" cy="310.7" r="2.9"/><circle cx="731.6" cy="301.1" r="2.9"/><circle cx="733.1" cy="304.0" r="2.9"/><circle cx="734.1" cy="304.3" r="2.9"/><circle cx="734.4" cy="294.6" r="2.9"/><circle cx="734.8" cy="303.5" r="2.9"/><circle cx="735.9" cy="300.7" r="2.9"/><circle cx="736.3" cy="308.7" r="2.9"/><circle cx="737.5" cy="302.8" r="2.9"/><circle cx="738.4" cy="301.0" r="2.9"/><circle cx="738.5" cy="303.1" r="2.9"/><circle cx="738.7" cy="304.6" r="2.9"/><circle cx="739.0" cy="302.0" r="2.9"/><circle cx="739.9" cy="304.1" r="2.9"/><circle cx="740.6" cy="299.3" r="2.9"/><circle cx="741.6" cy="303.9" r="2.9"/><circle cx="741.9" cy="307.7" r="2.9"/><circle cx="743.8" cy="312.7" r="2.9"/><circle cx="744.6" cy="308.1" r="2.9"/><circle cx="744.9" cy="306.5" r="2.9"/><circle cx="747.0" cy="310.5" r="2.9"/><circle cx="747.1" cy="309.8" r="2.9"/><circle cx="747.5" cy="312.4" r="2.9"/><circle cx="748.4" cy="310.4" r="2.9"/><circle cx="752.1" cy="306.8" r="2.9"/><circle cx="753.3" cy="308.5" r="2.9"/><circle cx="753.8" cy="308.3" r="2.9"/><circle cx="755.7" cy="309.2" r="2.9"/><circle cx="756.5" cy="309.0" r="2.9"/><circle cx="758.6" cy="305.8" r="2.9"/><circle cx="759.3" cy="295.2" r="2.9"/><circle cx="759.7" cy="306.5" r="2.9"/><circle cx="759.8" cy="301.5" r="2.9"/><circle cx="760.0" cy="309.3" r="2.9"/><circle cx="760.1" cy="309.1" r="2.9"/><circle cx="760.6" cy="303.0" r="2.9"/><circle cx="761.2" cy="311.9" r="2.9"/><circle cx="761.8" cy="312.7" r="2.9"/><circle cx="761.9" cy="309.8" r="2.9"/><circle cx="762.7" cy="315.8" r="2.9"/><circle cx="762.8" cy="316.6" r="2.9"/><circle cx="763.5" cy="305.4" r="2.9"/><circle cx="764.2" cy="313.8" r="2.9"/><circle cx="764.9" cy="311.8" r="2.9"/><circle cx="765.0" cy="311.7" r="2.9"/><circle cx="765.3" cy="313.7" r="2.9"/><circle cx="765.7" cy="307.7" r="2.9"/><circle cx="765.8" cy="308.2" r="2.9"/><circle cx="768.5" cy="308.0" r="2.9"/><circle cx="768.6" cy="308.2" r="2.9"/><circle cx="771.4" cy="311.3" r="2.9"/><circle cx="772.3" cy="306.6" r="2.9"/><circle cx="773.8" cy="308.4" r="2.9"/><circle cx="774.5" cy="314.5" r="2.9"/><circle cx="775.4" cy="312.3" r="2.9"/><circle cx="775.7" cy="314.0" r="2.9"/><circle cx="776.3" cy="306.0" r="2.9"/><circle cx="776.3" cy="309.9" r="2.9"/><circle cx="777.0" cy="310.9" r="2.9"/><circle cx="777.9" cy="313.3" r="2.9"/><circle cx="778.7" cy="311.2" r="2.9"/><circle cx="780.1" cy="317.0" r="2.9"/><circle cx="780.2" cy="313.4" r="2.9"/><circle cx="780.8" cy="313.8" r="2.9"/><circle cx="782.3" cy="314.1" r="2.9"/><circle cx="782.4" cy="316.7" r="2.9"/><circle cx="784.1" cy="311.4" r="2.9"/><circle cx="784.3" cy="318.5" r="2.9"/><circle cx="785.1" cy="316.3" r="2.9"/><circle cx="785.4" cy="315.3" r="2.9"/><circle cx="786.0" cy="315.0" r="2.9"/><circle cx="786.2" cy="316.7" r="2.9"/><circle cx="789.4" cy="319.0" r="2.9"/><circle cx="790.6" cy="318.9" r="2.9"/><circle cx="791.5" cy="317.1" r="2.9"/><circle cx="791.7" cy="318.9" r="2.9"/><circle cx="792.0" cy="316.2" r="2.9"/><circle cx="792.6" cy="320.3" r="2.9"/><circle cx="794.3" cy="316.0" r="2.9"/><circle cx="795.5" cy="309.0" r="2.9"/><circle cx="795.9" cy="321.1" r="2.9"/><circle cx="796.4" cy="316.8" r="2.9"/><circle cx="797.4" cy="309.0" r="2.9"/><circle cx="798.5" cy="316.0" r="2.9"/><circle cx="799.2" cy="313.7" r="2.9"/><circle cx="803.4" cy="324.7" r="2.9"/><circle cx="804.0" cy="319.2" r="2.9"/><circle cx="804.6" cy="312.0" r="2.9"/><circle cx="805.7" cy="319.6" r="2.9"/><circle cx="809.7" cy="316.7" r="2.9"/><circle cx="810.4" cy="324.8" r="2.9"/><circle cx="811.0" cy="314.5" r="2.9"/><circle cx="812.5" cy="310.7" r="2.9"/><circle cx="813.2" cy="318.6" r="2.9"/><circle cx="814.8" cy="317.3" r="2.9"/><circle cx="814.9" cy="317.1" r="2.9"/><circle cx="815.8" cy="311.2" r="2.9"/><circle cx="816.1" cy="320.1" r="2.9"/><circle cx="817.4" cy="324.6" r="2.9"/></g>
<line x1="132.1" y1="17" x2="132.1" y2="353.3" stroke="#000" stroke-width="3.8"/>
<line x1="130.2" y1="351.3" x2="819.5" y2="351.3" stroke="#000" stroke-width="4"/>
<line x1="134" y1="18" x2="140" y2="18" stroke="#555" stroke-width="2"/>
<line x1="134" y1="102.5" x2="138.5" y2="102.5" stroke="#aaa" stroke-width="1.2"/>
<line x1="134" y1="186.2" x2="138.5" y2="186.2" stroke="#aaa" stroke-width="1.2"/>
<line x1="134" y1="270" x2="138.5" y2="270" stroke="#aaa" stroke-width="1.2"/>
<path d="M1017.0,332.1 L1018.5,328.4 L1019.9,333.6 L1021.4,326.9 L1022.8,329.4 L1024.3,332.4 L1025.7,329.7 L1027.2,327.4 L1028.6,331.7 L1030.1,331.8 L1031.5,327.5 L1033.0,333.1 L1034.4,327.8 L1035.9,330.8 L1037.3,332.1 L1038.8,326.2 L1040.2,331.6 L1041.7,329.9 L1043.1,328.1 L1044.6,329.3 L1046.0,330.4 L1047.5,327.8 L1048.9,330.7 L1050.4,328.4 L1051.8,327.1 L1053.3,329.5 L1054.7,327.1 L1056.2,327.8 L1057.6,323.8 L1059.1,327.0 L1060.5,322.5 L1062.0,327.4 L1063.4,324.4 L1064.9,326.7 L1066.3,323.5 L1067.8,326.1 L1069.2,323.6 L1070.7,325.6 L1072.1,325.9 L1073.6,326.6 L1075.0,322.1 L1076.5,324.9 L1077.9,326.9 L1079.4,320.7 L1080.8,323.9 L1082.3,323.2 L1083.7,326.0 L1085.2,322.9 L1086.6,321.0 L1088.1,324.1 L1089.5,319.7 L1091.0,321.2 L1092.4,320.9 L1093.9,319.8 L1095.3,323.1 L1096.8,315.2 L1098.2,319.7 L1099.7,322.1 L1101.1,313.8 L1102.6,319.4 L1104.0,312.2 L1105.5,321.8 L1106.9,315.4 L1108.4,315.4 L1109.8,314.9 L1111.3,313.8 L1112.7,310.6 L1114.2,316.9 L1115.6,306.1 L1117.1,311.7 L1118.5,313.2 L1120.0,307.3 L1121.4,304.6 L1122.9,314.4 L1124.3,306.7 L1125.8,309.8 L1127.2,309.6 L1128.7,305.1 L1130.1,304.6 L1131.6,306.7 L1133.0,310.2 L1134.5,299.5 L1135.9,306.0 L1137.4,303.3 L1138.8,303.9 L1140.3,299.5 L1141.7,300.0 L1143.2,299.2 L1144.6,300.3 L1146.1,294.6 L1147.5,295.5 L1149.0,297.8 L1150.4,294.7 L1151.9,293.4 L1153.3,293.0 L1154.8,293.5 L1156.2,293.9 L1157.7,290.9 L1159.1,291.0 L1160.6,292.0 L1162.0,287.5 L1163.5,283.8 L1164.9,282.6 L1166.4,284.0 L1167.8,283.3 L1169.3,287.6 L1170.7,276.2 L1172.2,286.6 L1173.6,280.1 L1175.1,279.6 L1176.5,274.0 L1178.0,272.4 L1179.4,273.6 L1180.9,277.9 L1182.3,272.8 L1183.8,271.7 L1185.2,268.6 L1186.7,266.8 L1188.1,271.0 L1189.6,264.1 L1191.0,264.7 L1192.5,269.5 L1193.9,253.6 L1195.4,257.1 L1196.8,260.1 L1198.3,260.1 L1199.7,252.0 L1201.2,254.4 L1202.6,247.8 L1204.1,250.2 L1205.5,254.5 L1207.0,247.0 L1208.4,249.9 L1209.9,245.8 L1211.3,243.1 L1212.8,238.6 L1214.2,244.7 L1215.7,239.9 L1217.1,239.8 L1218.6,236.0 L1220.0,236.6 L1221.5,231.4 L1222.9,229.4 L1224.4,228.4 L1225.8,232.2 L1227.3,234.3 L1228.7,216.0 L1230.2,222.2 L1231.6,223.9 L1233.1,216.9 L1234.5,211.0 L1236.0,205.5 L1237.4,216.1 L1238.9,205.8 L1240.3,207.7 L1241.8,211.2 L1243.2,204.3 L1244.7,205.8 L1246.1,206.6 L1247.6,193.0 L1249.0,199.3 L1250.5,195.0 L1251.9,195.9 L1253.4,193.7 L1254.8,192.5 L1256.3,185.3 L1257.7,187.3 L1259.2,190.5 L1260.6,184.9 L1262.1,187.3 L1263.5,182.5 L1265.0,187.5 L1266.4,181.0 L1267.9,181.5 L1269.3,172.0 L1270.8,166.8 L1272.2,171.3 L1273.7,156.5 L1275.1,172.7 L1276.6,158.6 L1278.0,149.7 L1279.5,154.6 L1280.9,150.9 L1282.4,135.9 L1283.8,141.3 L1285.3,136.6 L1286.7,128.4 L1288.2,122.0 L1289.6,128.2 L1291.1,108.5 L1292.5,113.7 L1294.0,100.1 L1295.4,93.6 L1296.9,98.1 L1298.3,85.5 L1299.8,95.0 L1301.2,78.5 L1302.7,85.4 L1304.1,74.6 L1305.6,83.9 L1307.0,81.5 L1308.5,89.2 L1309.9,98.2 L1311.4,100.8 L1312.8,92.8 L1314.3,113.6 L1315.7,110.6 L1317.2,114.2 L1318.6,115.1 L1320.1,117.4 L1321.5,110.6 L1323.0,137.7 L1324.4,124.6 L1325.9,126.2 L1327.3,132.7 L1328.8,134.9 L1330.2,127.1 L1331.7,138.4 L1333.1,128.6 L1334.6,128.3 L1336.0,133.0 L1337.5,136.1 L1338.9,129.4 L1340.4,131.6 L1341.8,137.8 L1343.3,132.6 L1344.7,133.4 L1346.2,131.9 L1347.6,131.1 L1349.1,140.2 L1350.5,137.6 L1352.0,134.9 L1353.4,133.8 L1354.9,134.7 L1356.3,131.3 L1357.8,136.4 L1359.2,133.6 L1360.7,127.0 L1362.1,142.2 L1363.6,138.4 L1365.0,139.4 L1366.5,136.4 L1367.9,139.8 L1369.4,137.1 L1370.8,138.4 L1372.3,136.8 L1373.7,137.5 L1375.2,146.6 L1376.6,141.9 L1378.1,138.9 L1379.5,140.3 L1381.0,144.6 L1382.4,131.1 L1383.9,146.5 L1385.3,137.0 L1386.8,142.9 L1388.2,137.6 L1389.7,150.6 L1391.1,139.0 L1392.6,139.5 L1394.0,139.6 L1395.5,145.2 L1396.9,147.5 L1398.4,148.9 L1399.8,150.1 L1401.3,146.2 L1402.7,147.4 L1404.2,160.2 L1405.6,152.6 L1407.1,152.2 L1408.5,149.7 L1410.0,158.4 L1411.4,151.3 L1412.9,156.3 L1414.3,150.6 L1415.8,163.4 L1417.2,159.0 L1418.7,157.0 L1420.1,169.6 L1421.6,167.8 L1423.0,158.6 L1424.5,169.0 L1425.9,175.5 L1427.4,169.4 L1428.8,164.2 L1430.3,163.8 L1431.7,175.2 L1433.2,175.7 L1434.6,173.9 L1436.1,171.3 L1437.5,182.9 L1439.0,178.6 L1440.4,176.5 L1441.9,177.6 L1443.3,189.0 L1444.8,184.2 L1446.2,184.9 L1447.7,187.1 L1449.1,186.5 L1450.6,187.8 L1452.0,199.1 L1453.5,196.5 L1454.9,200.6 L1456.4,195.4 L1457.8,209.0 L1459.3,196.7 L1460.7,204.1 L1462.2,206.1 L1463.6,209.5 L1465.1,204.3 L1466.5,206.5 L1468.0,208.7 L1469.4,212.9 L1470.9,211.2 L1472.3,214.4 L1473.8,213.5 L1475.2,217.8 L1476.7,226.3 L1478.1,219.0 L1479.6,223.8 L1481.0,219.7 L1482.5,227.2 L1483.9,223.4 L1485.4,227.7 L1486.8,227.6 L1488.3,226.4 L1489.7,234.4 L1491.2,232.6 L1492.6,229.4 L1494.1,234.0 L1495.5,231.1 L1497.0,238.0 L1498.4,235.3 L1499.9,241.8 L1501.3,239.3 L1502.8,241.9 L1504.2,244.6 L1505.7,251.3 L1507.1,248.9 L1508.6,249.0 L1510.0,257.2 L1511.5,248.7 L1512.9,252.6 L1514.4,256.5 L1515.8,256.4 L1517.3,254.3 L1518.7,257.9 L1520.2,257.2 L1521.6,262.4 L1523.1,254.8 L1524.5,269.5 L1526.0,257.3 L1527.4,268.6 L1528.9,264.4 L1530.3,266.1 L1531.8,267.7 L1533.2,273.8 L1534.7,268.5 L1536.1,273.0 L1537.6,271.2 L1539.0,272.2 L1540.5,271.6 L1541.9,278.5 L1543.4,280.0 L1544.8,274.7 L1546.3,278.8 L1547.7,280.2 L1549.2,280.1 L1550.6,278.1 L1552.1,279.6 L1553.5,280.8 L1555.0,285.0 L1556.4,280.3 L1557.9,287.2 L1559.3,289.4 L1560.8,280.1 L1562.2,289.5 L1563.7,291.5 L1565.1,287.0 L1566.6,297.3 L1568.0,285.4 L1569.5,297.4 L1570.9,295.6 L1572.4,295.8 L1573.8,291.1 L1575.3,295.6 L1576.7,292.0 L1578.2,299.6 L1579.6,292.8 L1581.1,296.9 L1582.5,297.5 L1584.0,293.1 L1585.4,296.2 L1586.9,299.1 L1588.3,294.1 L1589.8,302.9 L1591.2,297.5 L1592.7,298.0 L1594.1,301.8 L1595.6,300.6 L1597.0,299.2 L1598.5,303.0 L1599.9,299.7 L1601.4,304.5 L1602.8,299.4 L1604.3,306.2 L1605.7,297.5 L1607.2,304.5 L1608.6,298.2 L1610.1,305.0 L1611.5,299.0 L1613.0,304.4 L1614.4,301.4 L1615.9,308.1 L1617.3,300.5 L1618.8,302.5 L1620.2,302.4 L1621.7,302.0 L1623.1,302.8 L1624.6,307.2 L1626.0,302.7 L1627.5,302.4 L1628.9,303.0 L1630.4,306.3 L1631.8,300.9 L1633.3,303.0 L1634.7,309.0 L1636.2,302.9 L1637.6,306.2 L1639.1,305.4 L1640.5,304.0 L1642.0,313.6 L1643.4,303.3 L1644.9,307.8 L1646.3,308.0 L1647.8,310.1 L1649.2,310.6 L1650.7,305.2 L1652.1,307.0 L1653.6,312.4 L1655.0,305.3 L1656.5,310.8 L1657.9,310.1 L1659.4,311.5 L1660.8,311.3 L1662.3,305.3 L1663.7,311.8 L1665.2,312.3 L1666.6,310.0 L1668.1,309.7 L1669.5,314.2 L1671.0,308.5 L1672.4,317.9 L1673.9,312.5 L1675.3,313.9 L1676.8,313.0 L1678.2,314.7 L1679.7,317.7 L1681.1,317.0 L1682.6,312.9 L1684.0,317.4 L1685.5,319.6 L1686.9,315.3 L1688.4,316.9 L1689.8,318.8 L1691.3,321.0 L1692.7,322.8 L1694.2,320.7 L1695.6,321.4 L1697.1,324.2 L1698.5,323.1" fill="none" stroke="#3557a8" stroke-width="2.3" stroke-linejoin="miter" stroke-miterlimit="3"/>
<path d="M1017.0,332.8 L1018.5,335.1 L1019.9,330.8 L1021.4,336.5 L1022.8,335.1 L1024.3,334.3 L1025.7,334.0 L1027.2,334.6 L1028.6,332.6 L1030.1,333.2 L1031.5,334.7 L1033.0,332.4 L1034.4,334.9 L1035.9,333.5 L1037.3,331.1 L1038.8,331.1 L1040.2,333.4 L1041.7,335.3 L1043.1,333.1 L1044.6,331.3 L1046.0,329.2 L1047.5,334.1 L1048.9,330.7 L1050.4,332.6 L1051.8,329.7 L1053.3,324.8 L1054.7,330.5 L1056.2,328.0 L1057.6,328.7 L1059.1,324.2 L1060.5,329.1 L1062.0,328.2 L1063.4,326.7 L1064.9,325.3 L1066.3,325.3 L1067.8,329.0 L1069.2,324.6 L1070.7,326.4 L1072.1,323.7 L1073.6,325.1 L1075.0,327.0 L1076.5,323.8 L1077.9,321.0 L1079.4,323.6 L1080.8,324.6 L1082.3,318.5 L1083.7,323.3 L1085.2,319.6 L1086.6,324.6 L1088.1,321.4 L1089.5,318.9 L1091.0,322.3 L1092.4,319.7 L1093.9,321.0 L1095.3,317.9 L1096.8,317.3 L1098.2,322.4 L1099.7,314.7 L1101.1,318.3 L1102.6,318.6 L1104.0,315.2 L1105.5,318.9 L1106.9,317.6 L1108.4,314.7 L1109.8,318.9 L1111.3,314.4 L1112.7,313.2 L1114.2,315.5 L1115.6,315.7 L1117.1,314.6 L1118.5,311.1 L1120.0,312.2 L1121.4,313.3 L1122.9,315.0 L1124.3,309.1 L1125.8,310.7 L1127.2,305.7 L1128.7,309.3 L1130.1,311.4 L1131.6,308.3 L1133.0,307.4 L1134.5,308.3 L1135.9,307.5 L1137.4,303.2 L1138.8,303.6 L1140.3,301.8 L1141.7,306.2 L1143.2,303.9 L1144.6,302.4 L1146.1,299.0 L1147.5,298.2 L1149.0,302.0 L1150.4,299.0 L1151.9,299.4 L1153.3,297.4 L1154.8,299.4 L1156.2,297.8 L1157.7,293.0 L1159.1,291.8 L1160.6,293.0 L1162.0,293.9 L1163.5,290.1 L1164.9,292.8 L1166.4,286.9 L1167.8,288.1 L1169.3,287.1 L1170.7,288.7 L1172.2,290.1 L1173.6,284.2 L1175.1,284.5 L1176.5,282.2 L1178.0,283.1 L1179.4,283.2 L1180.9,282.2 L1182.3,281.6 L1183.8,284.6 L1185.2,278.8 L1186.7,278.5 L1188.1,277.8 L1189.6,277.1 L1191.0,276.8 L1192.5,283.9 L1193.9,272.8 L1195.4,280.3 L1196.8,280.8 L1198.3,269.5 L1199.7,273.5 L1201.2,273.4 L1202.6,271.5 L1204.1,265.6 L1205.5,269.3 L1207.0,263.7 L1208.4,262.3 L1209.9,262.5 L1211.3,254.5 L1212.8,259.9 L1214.2,257.7 L1215.7,254.5 L1217.1,250.5 L1218.6,252.3 L1220.0,246.5 L1221.5,247.2 L1222.9,250.5 L1224.4,246.9 L1225.8,248.4 L1227.3,237.4 L1228.7,245.5 L1230.2,239.9 L1231.6,238.9 L1233.1,235.0 L1234.5,240.8 L1236.0,239.4 L1237.4,229.7 L1238.9,238.1 L1240.3,237.6 L1241.8,237.7 L1243.2,225.4 L1244.7,235.3 L1246.1,224.0 L1247.6,232.6 L1249.0,231.5 L1250.5,225.4 L1251.9,233.8 L1253.4,224.8 L1254.8,231.7 L1256.3,225.2 L1257.7,220.5 L1259.2,214.3 L1260.6,221.5 L1262.1,224.6 L1263.5,219.5 L1265.0,219.1 L1266.4,224.9 L1267.9,218.8 L1269.3,224.6 L1270.8,214.8 L1272.2,219.4 L1273.7,215.6 L1275.1,215.7 L1276.6,213.0 L1278.0,219.7 L1279.5,214.3 L1280.9,215.8 L1282.4,213.3 L1283.8,208.2 L1285.3,200.9 L1286.7,213.2 L1288.2,204.2 L1289.6,202.6 L1291.1,203.8 L1292.5,199.5 L1294.0,204.2 L1295.4,201.2 L1296.9,196.6 L1298.3,197.2 L1299.8,196.1 L1301.2,201.3 L1302.7,193.6 L1304.1,199.3 L1305.6,194.6 L1307.0,193.4 L1308.5,198.8 L1309.9,191.3 L1311.4,187.6 L1312.8,197.3 L1314.3,185.5 L1315.7,193.3 L1317.2,183.9 L1318.6,187.7 L1320.1,185.3 L1321.5,184.9 L1323.0,183.6 L1324.4,183.8 L1325.9,177.0 L1327.3,178.9 L1328.8,177.5 L1330.2,181.2 L1331.7,179.6 L1333.1,177.9 L1334.6,171.2 L1336.0,179.8 L1337.5,176.4 L1338.9,185.0 L1340.4,169.0 L1341.8,174.8 L1343.3,171.5 L1344.7,164.2 L1346.2,171.5 L1347.6,168.8 L1349.1,182.2 L1350.5,170.7 L1352.0,168.2 L1353.4,178.2 L1354.9,174.8 L1356.3,169.1 L1357.8,170.6 L1359.2,177.6 L1360.7,169.6 L1362.1,177.7 L1363.6,183.1 L1365.0,174.1 L1366.5,174.7 L1367.9,184.2 L1369.4,175.6 L1370.8,187.7 L1372.3,174.8 L1373.7,183.6 L1375.2,183.2 L1376.6,180.9 L1378.1,185.0 L1379.5,176.0 L1381.0,178.2 L1382.4,186.5 L1383.9,189.3 L1385.3,183.9 L1386.8,185.7 L1388.2,184.3 L1389.7,180.1 L1391.1,188.1 L1392.6,179.8 L1394.0,184.3 L1395.5,182.6 L1396.9,194.9 L1398.4,178.4 L1399.8,189.5 L1401.3,178.4 L1402.7,195.9 L1404.2,182.1 L1405.6,195.1 L1407.1,180.6 L1408.5,191.8 L1410.0,197.0 L1411.4,185.0 L1412.9,194.5 L1414.3,191.0 L1415.8,185.7 L1417.2,193.9 L1418.7,194.7 L1420.1,188.8 L1421.6,199.4 L1423.0,184.2 L1424.5,188.4 L1425.9,190.6 L1427.4,190.3 L1428.8,204.5 L1430.3,187.6 L1431.7,202.1 L1433.2,198.6 L1434.6,195.8 L1436.1,205.8 L1437.5,216.6 L1439.0,210.1 L1440.4,209.9 L1441.9,214.9 L1443.3,214.6 L1444.8,212.8 L1446.2,212.0 L1447.7,222.2 L1449.1,214.1 L1450.6,224.2 L1452.0,218.6 L1453.5,214.2 L1454.9,220.7 L1456.4,219.3 L1457.8,217.8 L1459.3,215.3 L1460.7,228.5 L1462.2,227.3 L1463.6,222.9 L1465.1,228.6 L1466.5,233.8 L1468.0,228.3 L1469.4,233.7 L1470.9,227.5 L1472.3,235.6 L1473.8,230.4 L1475.2,229.4 L1476.7,245.5 L1478.1,239.1 L1479.6,242.1 L1481.0,239.5 L1482.5,246.3 L1483.9,245.9 L1485.4,253.4 L1486.8,246.7 L1488.3,248.8 L1489.7,251.7 L1491.2,256.8 L1492.6,251.2 L1494.1,254.7 L1495.5,264.8 L1497.0,254.6 L1498.4,261.4 L1499.9,262.9 L1501.3,261.4 L1502.8,260.1 L1504.2,257.8 L1505.7,265.5 L1507.1,263.9 L1508.6,271.2 L1510.0,264.9 L1511.5,272.4 L1512.9,267.9 L1514.4,264.7 L1515.8,278.0 L1517.3,270.4 L1518.7,275.3 L1520.2,274.5 L1521.6,276.0 L1523.1,276.2 L1524.5,271.5 L1526.0,283.8 L1527.4,276.3 L1528.9,282.0 L1530.3,283.8 L1531.8,280.6 L1533.2,279.7 L1534.7,280.0 L1536.1,289.8 L1537.6,285.8 L1539.0,286.5 L1540.5,283.6 L1541.9,289.2 L1543.4,285.3 L1544.8,291.3 L1546.3,290.6 L1547.7,292.6 L1549.2,289.5 L1550.6,294.1 L1552.1,295.5 L1553.5,292.9 L1555.0,296.5 L1556.4,300.7 L1557.9,293.4 L1559.3,297.8 L1560.8,296.4 L1562.2,298.7 L1563.7,297.2 L1565.1,304.4 L1566.6,303.9 L1568.0,302.0 L1569.5,298.4 L1570.9,301.6 L1572.4,301.9 L1573.8,304.5 L1575.3,304.3 L1576.7,305.7 L1578.2,304.5 L1579.6,307.8 L1581.1,303.4 L1582.5,308.5 L1584.0,311.0 L1585.4,308.1 L1586.9,309.4 L1588.3,311.3 L1589.8,308.7 L1591.2,311.0 L1592.7,312.6 L1594.1,310.8 L1595.6,309.4 L1597.0,314.7 L1598.5,311.9 L1599.9,314.7 L1601.4,314.5 L1602.8,308.2 L1604.3,312.9 L1605.7,312.0 L1607.2,313.3 L1608.6,312.9 L1610.1,314.4 L1611.5,314.1 L1613.0,314.5 L1614.4,311.4 L1615.9,312.0 L1617.3,308.9 L1618.8,312.3 L1620.2,316.5 L1621.7,310.5 L1623.1,315.0 L1624.6,318.6 L1626.0,310.7 L1627.5,312.7 L1628.9,315.3 L1630.4,316.3 L1631.8,313.3 L1633.3,316.8 L1634.7,314.7 L1636.2,317.7 L1637.6,316.6 L1639.1,318.0 L1640.5,319.7 L1642.0,313.7 L1643.4,319.9 L1644.9,314.9 L1646.3,319.6 L1647.8,318.8 L1649.2,321.7 L1650.7,317.2 L1652.1,315.5 L1653.6,322.8 L1655.0,315.3 L1656.5,324.0 L1657.9,315.3 L1659.4,320.0 L1660.8,319.1 L1662.3,322.8 L1663.7,322.2 L1665.2,326.1 L1666.6,322.2 L1668.1,324.4 L1669.5,320.3 L1671.0,324.8 L1672.4,324.9 L1673.9,319.6 L1675.3,324.8 L1676.8,328.2 L1678.2,322.7 L1679.7,326.8 L1681.1,328.3 L1682.6,321.6 L1684.0,328.4 L1685.5,323.3 L1686.9,330.6 L1688.4,327.1 L1689.8,328.6 L1691.3,330.8 L1692.7,328.7 L1694.2,332.7 L1695.6,331.9 L1697.1,330.0 L1698.5,337.8" fill="none" stroke="#ad3a17" stroke-width="2.3" stroke-linejoin="miter" stroke-miterlimit="3"/>
<line x1="1017.5" y1="16.8" x2="1017.5" y2="348" stroke="#111" stroke-width="2"/>
<line x1="1016.5" y1="347" x2="1700.8" y2="347" stroke="#111" stroke-width="2"/>
<line x1="1017" y1="16.8" x2="1025.4" y2="16.8" stroke="#111" stroke-width="2"/>
<line x1="1017" y1="99.7" x2="1025.4" y2="99.7" stroke="#111" stroke-width="2"/>
<line x1="1017" y1="181.9" x2="1025.4" y2="181.9" stroke="#111" stroke-width="2"/>
<line x1="1017" y1="264.7" x2="1025.4" y2="264.7" stroke="#111" stroke-width="2"/>
<line x1="1212" y1="347" x2="1212" y2="339" stroke="#111" stroke-width="2"/>
<line x1="1407" y1="347" x2="1407" y2="339" stroke="#111" stroke-width="2"/>
<line x1="1602" y1="347" x2="1602" y2="339" stroke="#111" stroke-width="2"/>
<line x1="1447.1" y1="57.9" x2="1541.9" y2="57.9" stroke="#5a72b8" stroke-width="3.6"/>
<line x1="1447.9" y1="122.9" x2="1543.1" y2="122.9" stroke="#ae0848" stroke-width="3.6"/>
<g fill="#5c1a77"><circle cx="136.6" cy="765.2" r="2.35"/><circle cx="137.1" cy="765.7" r="2.35"/><circle cx="137.9" cy="764.9" r="2.35"/><circle cx="138.7" cy="762.2" r="2.35"/><circle cx="141.0" cy="769.4" r="2.35"/><circle cx="142.4" cy="758.7" r="2.35"/><circle cx="143.7" cy="763.0" r="2.35"/><circle cx="145.6" cy="765.8" r="2.35"/><circle cx="145.7" cy="760.4" r="2.35"/><circle cx="146.2" cy="765.7" r="2.35"/><circle cx="146.6" cy="767.4" r="2.35"/><circle cx="148.0" cy="761.3" r="2.35"/><circle cx="148.3" cy="764.1" r="2.35"/><circle cx="149.6" cy="760.2" r="2.35"/><circle cx="149.7" cy="764.6" r="2.35"/><circle cx="150.8" cy="763.1" r="2.35"/><circle cx="152.6" cy="763.0" r="2.35"/><circle cx="152.6" cy="766.1" r="2.35"/><circle cx="153.5" cy="763.4" r="2.35"/><circle cx="157.4" cy="764.7" r="2.35"/><circle cx="158.3" cy="762.6" r="2.35"/><circle cx="159.7" cy="757.2" r="2.35"/><circle cx="160.1" cy="761.1" r="2.35"/><circle cx="163.0" cy="760.9" r="2.35"/><circle cx="164.3" cy="755.3" r="2.35"/><circle cx="164.4" cy="762.8" r="2.35"/><circle cx="165.0" cy="759.1" r="2.35"/><circle cx="166.0" cy="759.7" r="2.35"/><circle cx="167.8" cy="755.7" r="2.35"/><circle cx="169.6" cy="757.8" r="2.35"/><circle cx="172.9" cy="757.3" r="2.35"/><circle cx="173.9" cy="755.3" r="2.35"/><circle cx="174.3" cy="756.2" r="2.35"/><circle cx="175.3" cy="750.0" r="2.35"/><circle cx="175.6" cy="759.3" r="2.35"/><circle cx="176.0" cy="752.4" r="2.35"/><circle cx="176.1" cy="749.5" r="2.35"/><circle cx="178.9" cy="751.8" r="2.35"/><circle cx="179.4" cy="752.0" r="2.35"/><circle cx="180.1" cy="755.4" r="2.35"/><circle cx="180.2" cy="751.4" r="2.35"/><circle cx="180.8" cy="754.4" r="2.35"/><circle cx="181.2" cy="750.9" r="2.35"/><circle cx="181.5" cy="759.3" r="2.35"/><circle cx="181.9" cy="754.7" r="2.35"/><circle cx="182.9" cy="758.1" r="2.35"/><circle cx="183.4" cy="749.8" r="2.35"/><circle cx="183.8" cy="754.2" r="2.35"/><circle cx="184.3" cy="749.6" r="2.35"/><circle cx="184.8" cy="753.6" r="2.35"/><circle cx="186.4" cy="753.1" r="2.35"/><circle cx="186.4" cy="747.0" r="2.35"/><circle cx="186.7" cy="748.1" r="2.35"/><circle cx="189.1" cy="746.9" r="2.35"/><circle cx="189.5" cy="745.8" r="2.35"/><circle cx="190.0" cy="747.7" r="2.35"/><circle cx="190.3" cy="746.9" r="2.35"/><circle cx="190.5" cy="745.5" r="2.35"/><circle cx="191.6" cy="749.1" r="2.35"/><circle cx="192.7" cy="749.8" r="2.35"/><circle cx="193.2" cy="744.6" r="2.35"/><circle cx="193.3" cy="746.5" r="2.35"/><circle cx="193.5" cy="748.0" r="2.35"/><circle cx="193.6" cy="747.3" r="2.35"/><circle cx="196.4" cy="744.7" r="2.35"/><circle cx="196.6" cy="748.7" r="2.35"/><circle cx="197.8" cy="748.2" r="2.35"/><circle cx="198.1" cy="747.6" r="2.35"/><circle cx="198.1" cy="745.2" r="2.35"/><circle cx="198.4" cy="750.9" r="2.35"/><circle cx="199.6" cy="749.7" r="2.35"/><circle cx="202.4" cy="742.5" r="2.35"/><circle cx="203.0" cy="742.9" r="2.35"/><circle cx="205.1" cy="745.4" r="2.35"/><circle cx="205.1" cy="740.0" r="2.35"/><circle cx="205.2" cy="743.2" r="2.35"/><circle cx="208.5" cy="740.5" r="2.35"/><circle cx="211.0" cy="737.1" r="2.35"/><circle cx="211.5" cy="738.1" r="2.35"/><circle cx="213.3" cy="733.5" r="2.35"/><circle cx="214.2" cy="735.8" r="2.35"/><circle cx="214.8" cy="731.5" r="2.35"/><circle cx="217.7" cy="741.4" r="2.35"/><circle cx="220.2" cy="737.9" r="2.35"/><circle cx="221.1" cy="736.6" r="2.35"/><circle cx="221.3" cy="733.9" r="2.35"/><circle cx="222.0" cy="735.4" r="2.35"/><circle cx="224.8" cy="734.5" r="2.35"/><circle cx="225.4" cy="733.4" r="2.35"/><circle cx="226.2" cy="732.7" r="2.35"/><circle cx="226.4" cy="727.6" r="2.35"/><circle cx="227.1" cy="730.8" r="2.35"/><circle cx="227.4" cy="728.1" r="2.35"/><circle cx="228.1" cy="725.9" r="2.35"/><circle cx="230.4" cy="724.6" r="2.35"/><circle cx="230.8" cy="728.6" r="2.35"/><circle cx="231.5" cy="729.7" r="2.35"/><circle cx="233.7" cy="721.9" r="2.35"/><circle cx="238.9" cy="726.9" r="2.35"/><circle cx="240.4" cy="725.1" r="2.35"/><circle cx="243.2" cy="718.2" r="2.35"/><circle cx="243.7" cy="717.7" r="2.35"/><circle cx="243.7" cy="718.7" r="2.35"/><circle cx="244.1" cy="721.3" r="2.35"/><circle cx="244.2" cy="717.6" r="2.35"/><circle cx="246.5" cy="714.0" r="2.35"/><circle cx="247.1" cy="717.5" r="2.35"/><circle cx="247.8" cy="710.5" r="2.35"/><circle cx="248.6" cy="716.0" r="2.35"/><circle cx="249.0" cy="718.4" r="2.35"/><circle cx="249.5" cy="715.8" r="2.35"/><circle cx="249.6" cy="716.9" r="2.35"/><circle cx="249.8" cy="716.1" r="2.35"/><circle cx="250.3" cy="716.3" r="2.35"/><circle cx="250.5" cy="714.6" r="2.35"/><circle cx="250.6" cy="711.9" r="2.35"/><circle cx="251.5" cy="713.0" r="2.35"/><circle cx="251.8" cy="713.1" r="2.35"/><circle cx="252.8" cy="716.0" r="2.35"/><circle cx="252.9" cy="717.0" r="2.35"/><circle cx="254.2" cy="712.8" r="2.35"/><circle cx="254.5" cy="709.4" r="2.35"/><circle cx="254.5" cy="709.4" r="2.35"/><circle cx="255.4" cy="710.2" r="2.35"/><circle cx="256.1" cy="714.0" r="2.35"/><circle cx="257.0" cy="710.5" r="2.35"/><circle cx="261.2" cy="706.4" r="2.35"/><circle cx="261.2" cy="704.5" r="2.35"/><circle cx="267.8" cy="703.8" r="2.35"/><circle cx="268.0" cy="702.1" r="2.35"/><circle cx="268.5" cy="700.7" r="2.35"/><circle cx="269.1" cy="700.7" r="2.35"/><circle cx="270.9" cy="703.5" r="2.35"/><circle cx="271.0" cy="698.4" r="2.35"/><circle cx="275.3" cy="699.6" r="2.35"/><circle cx="276.2" cy="697.6" r="2.35"/><circle cx="276.6" cy="694.0" r="2.35"/><circle cx="276.7" cy="696.1" r="2.35"/><circle cx="277.1" cy="693.1" r="2.35"/><circle cx="278.5" cy="689.8" r="2.35"/><circle cx="281.0" cy="688.9" r="2.35"/><circle cx="284.0" cy="684.2" r="2.35"/><circle cx="284.2" cy="687.8" r="2.35"/><circle cx="285.6" cy="685.1" r="2.35"/><circle cx="286.5" cy="685.7" r="2.35"/><circle cx="287.7" cy="685.2" r="2.35"/><circle cx="288.9" cy="673.4" r="2.35"/><circle cx="289.9" cy="681.6" r="2.35"/><circle cx="290.4" cy="675.4" r="2.35"/><circle cx="291.1" cy="680.1" r="2.35"/><circle cx="293.4" cy="674.9" r="2.35"/><circle cx="294.3" cy="676.7" r="2.35"/><circle cx="295.2" cy="679.3" r="2.35"/><circle cx="295.6" cy="670.6" r="2.35"/><circle cx="295.7" cy="675.7" r="2.35"/><circle cx="296.0" cy="674.6" r="2.35"/><circle cx="296.9" cy="668.9" r="2.35"/><circle cx="297.8" cy="674.9" r="2.35"/><circle cx="298.3" cy="672.8" r="2.35"/><circle cx="298.4" cy="671.2" r="2.35"/><circle cx="298.9" cy="670.2" r="2.35"/><circle cx="299.9" cy="679.8" r="2.35"/><circle cx="300.0" cy="670.0" r="2.35"/><circle cx="301.0" cy="665.3" r="2.35"/><circle cx="301.3" cy="667.3" r="2.35"/><circle cx="301.6" cy="668.6" r="2.35"/><circle cx="301.8" cy="668.3" r="2.35"/><circle cx="303.2" cy="667.9" r="2.35"/><circle cx="304.7" cy="663.8" r="2.35"/><circle cx="308.0" cy="665.1" r="2.35"/><circle cx="308.6" cy="661.7" r="2.35"/><circle cx="308.6" cy="659.3" r="2.35"/><circle cx="308.8" cy="660.6" r="2.35"/><circle cx="309.3" cy="661.3" r="2.35"/><circle cx="311.3" cy="662.7" r="2.35"/><circle cx="311.7" cy="661.4" r="2.35"/><circle cx="313.8" cy="657.2" r="2.35"/><circle cx="314.7" cy="657.3" r="2.35"/><circle cx="315.7" cy="656.9" r="2.35"/><circle cx="316.1" cy="661.5" r="2.35"/><circle cx="317.9" cy="652.6" r="2.35"/><circle cx="318.0" cy="655.4" r="2.35"/><circle cx="318.0" cy="656.1" r="2.35"/><circle cx="319.0" cy="650.7" r="2.35"/><circle cx="321.6" cy="651.3" r="2.35"/><circle cx="322.0" cy="650.9" r="2.35"/><circle cx="322.9" cy="648.3" r="2.35"/><circle cx="323.7" cy="650.3" r="2.35"/><circle cx="323.7" cy="651.5" r="2.35"/><circle cx="324.0" cy="651.5" r="2.35"/><circle cx="324.3" cy="647.7" r="2.35"/><circle cx="325.9" cy="647.2" r="2.35"/><circle cx="328.7" cy="650.3" r="2.35"/><circle cx="329.1" cy="640.6" r="2.35"/><circle cx="329.2" cy="644.2" r="2.35"/><circle cx="329.6" cy="645.6" r="2.35"/><circle cx="330.0" cy="643.2" r="2.35"/><circle cx="331.8" cy="642.9" r="2.35"/><circle cx="331.9" cy="641.4" r="2.35"/><circle cx="332.4" cy="642.6" r="2.35"/><circle cx="332.5" cy="643.9" r="2.35"/><circle cx="334.7" cy="637.8" r="2.35"/><circle cx="334.7" cy="638.9" r="2.35"/><circle cx="335.1" cy="637.8" r="2.35"/><circle cx="335.3" cy="636.7" r="2.35"/><circle cx="335.6" cy="637.5" r="2.35"/><circle cx="336.9" cy="633.2" r="2.35"/><circle cx="337.5" cy="637.7" r="2.35"/><circle cx="337.9" cy="639.9" r="2.35"/><circle cx="338.0" cy="639.8" r="2.35"/><circle cx="339.6" cy="637.2" r="2.35"/><circle cx="339.8" cy="630.9" r="2.35"/><circle cx="340.9" cy="636.6" r="2.35"/><circle cx="341.9" cy="629.6" r="2.35"/><circle cx="343.3" cy="630.1" r="2.35"/><circle cx="343.4" cy="635.2" r="2.35"/><circle cx="344.7" cy="626.2" r="2.35"/><circle cx="345.2" cy="630.9" r="2.35"/><circle cx="345.3" cy="629.3" r="2.35"/><circle cx="347.6" cy="626.2" r="2.35"/><circle cx="349.3" cy="622.8" r="2.35"/><circle cx="349.6" cy="626.0" r="2.35"/><circle cx="349.6" cy="623.6" r="2.35"/><circle cx="350.0" cy="627.4" r="2.35"/><circle cx="350.4" cy="627.5" r="2.35"/><circle cx="354.6" cy="616.8" r="2.35"/><circle cx="355.2" cy="618.6" r="2.35"/><circle cx="356.4" cy="618.1" r="2.35"/><circle cx="359.4" cy="612.9" r="2.35"/><circle cx="359.9" cy="612.6" r="2.35"/><circle cx="360.3" cy="615.4" r="2.35"/><circle cx="361.2" cy="613.7" r="2.35"/><circle cx="361.3" cy="609.7" r="2.35"/><circle cx="361.8" cy="612.2" r="2.35"/><circle cx="362.1" cy="614.8" r="2.35"/><circle cx="362.2" cy="610.0" r="2.35"/><circle cx="362.6" cy="610.3" r="2.35"/><circle cx="363.6" cy="616.0" r="2.35"/><circle cx="364.3" cy="614.4" r="2.35"/><circle cx="364.6" cy="606.2" r="2.35"/><circle cx="364.7" cy="606.8" r="2.35"/><circle cx="364.8" cy="611.4" r="2.35"/><circle cx="364.8" cy="607.2" r="2.35"/><circle cx="365.2" cy="609.2" r="2.35"/><circle cx="365.9" cy="607.9" r="2.35"/><circle cx="366.9" cy="609.4" r="2.35"/><circle cx="366.9" cy="601.1" r="2.35"/><circle cx="367.9" cy="600.7" r="2.35"/><circle cx="367.9" cy="603.4" r="2.35"/><circle cx="368.5" cy="608.7" r="2.35"/><circle cx="370.5" cy="603.0" r="2.35"/><circle cx="370.7" cy="598.4" r="2.35"/><circle cx="370.8" cy="604.3" r="2.35"/><circle cx="372.0" cy="603.2" r="2.35"/><circle cx="373.9" cy="598.2" r="2.35"/><circle cx="374.2" cy="597.6" r="2.35"/><circle cx="374.5" cy="599.3" r="2.35"/><circle cx="376.0" cy="599.2" r="2.35"/><circle cx="376.4" cy="595.8" r="2.35"/><circle cx="376.6" cy="596.5" r="2.35"/><circle cx="376.9" cy="594.6" r="2.35"/><circle cx="376.9" cy="593.6" r="2.35"/><circle cx="377.7" cy="591.0" r="2.35"/><circle cx="378.0" cy="593.8" r="2.35"/><circle cx="378.9" cy="591.0" r="2.35"/><circle cx="381.1" cy="587.8" r="2.35"/><circle cx="382.5" cy="588.8" r="2.35"/><circle cx="385.5" cy="583.0" r="2.35"/><circle cx="386.6" cy="582.2" r="2.35"/><circle cx="387.7" cy="573.8" r="2.35"/><circle cx="388.5" cy="578.1" r="2.35"/><circle cx="389.6" cy="573.2" r="2.35"/><circle cx="389.6" cy="572.5" r="2.35"/><circle cx="391.6" cy="568.7" r="2.35"/><circle cx="392.5" cy="572.6" r="2.35"/><circle cx="392.9" cy="570.9" r="2.35"/><circle cx="393.8" cy="565.0" r="2.35"/><circle cx="393.9" cy="563.7" r="2.35"/><circle cx="394.0" cy="566.6" r="2.35"/><circle cx="395.6" cy="562.1" r="2.35"/><circle cx="395.6" cy="567.8" r="2.35"/><circle cx="400.3" cy="549.9" r="2.35"/><circle cx="401.7" cy="545.7" r="2.35"/><circle cx="402.0" cy="549.5" r="2.35"/><circle cx="402.8" cy="548.3" r="2.35"/><circle cx="404.8" cy="544.0" r="2.35"/><circle cx="406.1" cy="543.1" r="2.35"/><circle cx="407.1" cy="544.8" r="2.35"/><circle cx="407.3" cy="537.8" r="2.35"/><circle cx="408.1" cy="535.7" r="2.35"/><circle cx="409.0" cy="530.8" r="2.35"/><circle cx="410.3" cy="533.9" r="2.35"/><circle cx="411.8" cy="533.1" r="2.35"/><circle cx="411.9" cy="530.0" r="2.35"/><circle cx="412.0" cy="533.8" r="2.35"/><circle cx="413.4" cy="529.2" r="2.35"/><circle cx="413.4" cy="533.2" r="2.35"/><circle cx="413.8" cy="529.7" r="2.35"/><circle cx="414.7" cy="525.3" r="2.35"/><circle cx="415.0" cy="526.2" r="2.35"/><circle cx="415.3" cy="523.5" r="2.35"/><circle cx="415.8" cy="522.7" r="2.35"/><circle cx="417.2" cy="527.6" r="2.35"/><circle cx="420.4" cy="529.7" r="2.35"/><circle cx="421.0" cy="532.8" r="2.35"/><circle cx="421.7" cy="527.6" r="2.35"/><circle cx="421.7" cy="527.2" r="2.35"/><circle cx="421.9" cy="524.9" r="2.35"/><circle cx="424.7" cy="532.9" r="2.35"/><circle cx="425.2" cy="531.8" r="2.35"/><circle cx="425.7" cy="529.8" r="2.35"/><circle cx="426.0" cy="533.6" r="2.35"/><circle cx="427.0" cy="534.7" r="2.35"/><circle cx="427.1" cy="528.3" r="2.35"/><circle cx="427.4" cy="535.8" r="2.35"/><circle cx="428.4" cy="535.9" r="2.35"/><circle cx="429.1" cy="535.8" r="2.35"/><circle cx="429.7" cy="536.9" r="2.35"/><circle cx="431.0" cy="545.3" r="2.35"/><circle cx="431.8" cy="546.3" r="2.35"/><circle cx="432.0" cy="547.3" r="2.35"/><circle cx="433.6" cy="542.3" r="2.35"/><circle cx="434.4" cy="545.0" r="2.35"/><circle cx="435.9" cy="551.6" r="2.35"/><circle cx="436.2" cy="546.4" r="2.35"/><circle cx="436.7" cy="548.5" r="2.35"/><circle cx="437.2" cy="546.3" r="2.35"/><circle cx="437.4" cy="556.6" r="2.35"/><circle cx="440.7" cy="559.5" r="2.35"/><circle cx="441.3" cy="558.8" r="2.35"/><circle cx="441.7" cy="558.7" r="2.35"/><circle cx="443.3" cy="558.9" r="2.35"/><circle cx="444.7" cy="560.5" r="2.35"/><circle cx="446.1" cy="564.6" r="2.35"/><circle cx="446.7" cy="561.5" r="2.35"/><circle cx="447.8" cy="567.6" r="2.35"/><circle cx="449.6" cy="564.3" r="2.35"/><circle cx="452.0" cy="564.8" r="2.35"/><circle cx="453.4" cy="571.5" r="2.35"/><circle cx="456.6" cy="569.4" r="2.35"/><circle cx="459.3" cy="572.7" r="2.35"/><circle cx="460.9" cy="570.9" r="2.35"/><circle cx="462.1" cy="566.7" r="2.35"/><circle cx="462.8" cy="574.7" r="2.35"/><circle cx="464.3" cy="570.5" r="2.35"/><circle cx="465.6" cy="577.8" r="2.35"/><circle cx="465.8" cy="570.8" r="2.35"/><circle cx="466.9" cy="570.6" r="2.35"/><circle cx="467.1" cy="576.6" r="2.35"/><circle cx="468.4" cy="577.7" r="2.35"/><circle cx="470.0" cy="577.9" r="2.35"/><circle cx="470.4" cy="574.5" r="2.35"/><circle cx="473.8" cy="582.3" r="2.35"/><circle cx="479.1" cy="579.0" r="2.35"/><circle cx="485.7" cy="585.7" r="2.35"/><circle cx="486.2" cy="585.2" r="2.35"/><circle cx="490.4" cy="588.8" r="2.35"/><circle cx="491.2" cy="592.5" r="2.35"/><circle cx="491.8" cy="588.9" r="2.35"/><circle cx="492.3" cy="592.4" r="2.35"/><circle cx="493.8" cy="593.6" r="2.35"/><circle cx="494.4" cy="587.5" r="2.35"/><circle cx="495.9" cy="589.8" r="2.35"/><circle cx="496.0" cy="592.0" r="2.35"/><circle cx="497.9" cy="592.5" r="2.35"/><circle cx="498.1" cy="595.1" r="2.35"/><circle cx="499.2" cy="589.7" r="2.35"/><circle cx="499.3" cy="596.9" r="2.35"/><circle cx="501.0" cy="597.9" r="2.35"/><circle cx="501.8" cy="595.9" r="2.35"/><circle cx="504.1" cy="594.1" r="2.35"/><circle cx="506.1" cy="599.1" r="2.35"/><circle cx="506.3" cy="597.7" r="2.35"/><circle cx="506.8" cy="601.0" r="2.35"/><circle cx="508.5" cy="600.3" r="2.35"/><circle cx="509.4" cy="603.1" r="2.35"/><circle cx="510.2" cy="600.5" r="2.35"/><circle cx="510.9" cy="606.0" r="2.35"/><circle cx="512.3" cy="596.8" r="2.35"/><circle cx="514.0" cy="601.4" r="2.35"/><circle cx="514.5" cy="605.8" r="2.35"/><circle cx="518.0" cy="602.8" r="2.35"/><circle cx="520.1" cy="610.3" r="2.35"/><circle cx="520.5" cy="605.3" r="2.35"/><circle cx="520.7" cy="609.0" r="2.35"/><circle cx="521.6" cy="606.9" r="2.35"/><circle cx="522.3" cy="608.7" r="2.35"/><circle cx="522.5" cy="610.5" r="2.35"/><circle cx="522.9" cy="610.0" r="2.35"/><circle cx="524.8" cy="610.7" r="2.35"/><circle cx="525.9" cy="618.3" r="2.35"/><circle cx="526.5" cy="612.9" r="2.35"/><circle cx="528.9" cy="612.1" r="2.35"/><circle cx="531.6" cy="619.3" r="2.35"/><circle cx="533.4" cy="620.5" r="2.35"/><circle cx="533.9" cy="621.9" r="2.35"/><circle cx="536.4" cy="625.5" r="2.35"/><circle cx="539.0" cy="620.3" r="2.35"/><circle cx="539.9" cy="626.5" r="2.35"/><circle cx="542.1" cy="628.6" r="2.35"/><circle cx="543.2" cy="626.6" r="2.35"/><circle cx="545.1" cy="628.9" r="2.35"/><circle cx="545.3" cy="620.3" r="2.35"/><circle cx="546.7" cy="628.1" r="2.35"/><circle cx="547.1" cy="634.9" r="2.35"/><circle cx="547.5" cy="625.6" r="2.35"/><circle cx="549.2" cy="630.6" r="2.35"/><circle cx="552.2" cy="635.5" r="2.35"/><circle cx="553.7" cy="637.7" r="2.35"/><circle cx="554.6" cy="641.4" r="2.35"/><circle cx="555.2" cy="632.7" r="2.35"/><circle cx="555.9" cy="638.3" r="2.35"/><circle cx="556.2" cy="640.8" r="2.35"/><circle cx="559.1" cy="637.6" r="2.35"/><circle cx="559.5" cy="641.4" r="2.35"/><circle cx="559.8" cy="646.9" r="2.35"/><circle cx="560.4" cy="646.0" r="2.35"/><circle cx="561.4" cy="644.8" r="2.35"/><circle cx="561.7" cy="636.6" r="2.35"/><circle cx="562.9" cy="644.4" r="2.35"/><circle cx="563.4" cy="646.4" r="2.35"/><circle cx="563.7" cy="644.8" r="2.35"/><circle cx="564.5" cy="646.3" r="2.35"/><circle cx="565.3" cy="655.5" r="2.35"/><circle cx="567.4" cy="648.8" r="2.35"/><circle cx="567.7" cy="647.1" r="2.35"/><circle cx="568.8" cy="651.4" r="2.35"/><circle cx="568.8" cy="649.9" r="2.35"/><circle cx="568.8" cy="650.0" r="2.35"/><circle cx="570.3" cy="652.0" r="2.35"/><circle cx="572.6" cy="656.6" r="2.35"/><circle cx="572.8" cy="655.4" r="2.35"/><circle cx="572.8" cy="651.5" r="2.35"/><circle cx="573.3" cy="654.9" r="2.35"/><circle cx="574.7" cy="657.9" r="2.35"/><circle cx="575.4" cy="656.0" r="2.35"/><circle cx="576.2" cy="661.0" r="2.35"/><circle cx="576.3" cy="660.2" r="2.35"/><circle cx="576.6" cy="655.6" r="2.35"/><circle cx="577.8" cy="660.3" r="2.35"/><circle cx="577.8" cy="664.8" r="2.35"/><circle cx="578.9" cy="664.6" r="2.35"/><circle cx="581.0" cy="662.0" r="2.35"/><circle cx="581.1" cy="664.6" r="2.35"/><circle cx="581.4" cy="660.6" r="2.35"/><circle cx="585.3" cy="661.8" r="2.35"/><circle cx="587.1" cy="668.6" r="2.35"/><circle cx="587.4" cy="668.0" r="2.35"/><circle cx="588.2" cy="669.4" r="2.35"/><circle cx="589.5" cy="669.0" r="2.35"/><circle cx="590.7" cy="671.0" r="2.35"/><circle cx="591.5" cy="669.3" r="2.35"/><circle cx="593.1" cy="673.3" r="2.35"/><circle cx="593.5" cy="674.6" r="2.35"/><circle cx="593.9" cy="672.4" r="2.35"/><circle cx="594.0" cy="674.9" r="2.35"/><circle cx="594.6" cy="668.4" r="2.35"/><circle cx="595.8" cy="672.1" r="2.35"/><circle cx="596.2" cy="678.4" r="2.35"/><circle cx="596.6" cy="679.6" r="2.35"/><circle cx="597.1" cy="675.9" r="2.35"/><circle cx="598.2" cy="675.9" r="2.35"/><circle cx="599.6" cy="673.9" r="2.35"/><circle cx="600.1" cy="678.8" r="2.35"/><circle cx="602.5" cy="682.0" r="2.35"/><circle cx="603.6" cy="677.0" r="2.35"/><circle cx="604.7" cy="683.4" r="2.35"/><circle cx="605.7" cy="684.2" r="2.35"/><circle cx="606.6" cy="684.9" r="2.35"/><circle cx="607.4" cy="681.4" r="2.35"/><circle cx="608.2" cy="686.7" r="2.35"/><circle cx="608.2" cy="681.2" r="2.35"/><circle cx="609.7" cy="690.6" r="2.35"/><circle cx="609.7" cy="687.0" r="2.35"/><circle cx="610.7" cy="684.4" r="2.35"/><circle cx="612.0" cy="692.4" r="2.35"/><circle cx="612.1" cy="692.0" r="2.35"/><circle cx="612.7" cy="687.7" r="2.35"/><circle cx="616.3" cy="698.6" r="2.35"/><circle cx="616.7" cy="690.2" r="2.35"/><circle cx="617.4" cy="694.3" r="2.35"/><circle cx="617.5" cy="696.8" r="2.35"/><circle cx="617.7" cy="687.7" r="2.35"/><circle cx="618.5" cy="697.2" r="2.35"/><circle cx="619.3" cy="694.9" r="2.35"/><circle cx="619.8" cy="695.4" r="2.35"/><circle cx="619.9" cy="692.7" r="2.35"/><circle cx="622.2" cy="698.2" r="2.35"/><circle cx="622.5" cy="694.5" r="2.35"/><circle cx="622.6" cy="695.0" r="2.35"/><circle cx="627.3" cy="699.7" r="2.35"/><circle cx="628.7" cy="698.6" r="2.35"/><circle cx="629.5" cy="706.6" r="2.35"/><circle cx="630.1" cy="699.2" r="2.35"/><circle cx="631.6" cy="701.7" r="2.35"/><circle cx="633.1" cy="703.9" r="2.35"/><circle cx="634.7" cy="705.8" r="2.35"/><circle cx="637.6" cy="710.0" r="2.35"/><circle cx="638.4" cy="710.5" r="2.35"/><circle cx="638.6" cy="707.7" r="2.35"/><circle cx="638.9" cy="707.6" r="2.35"/><circle cx="639.1" cy="708.9" r="2.35"/><circle cx="639.9" cy="711.5" r="2.35"/><circle cx="640.2" cy="711.4" r="2.35"/><circle cx="640.6" cy="708.4" r="2.35"/><circle cx="641.7" cy="704.9" r="2.35"/><circle cx="642.4" cy="716.7" r="2.35"/><circle cx="643.4" cy="714.1" r="2.35"/><circle cx="644.6" cy="713.0" r="2.35"/><circle cx="645.1" cy="713.5" r="2.35"/><circle cx="646.2" cy="711.8" r="2.35"/><circle cx="646.7" cy="710.9" r="2.35"/><circle cx="647.5" cy="713.2" r="2.35"/><circle cx="648.7" cy="714.2" r="2.35"/><circle cx="649.9" cy="713.8" r="2.35"/><circle cx="651.1" cy="712.3" r="2.35"/><circle cx="652.8" cy="716.4" r="2.35"/><circle cx="656.4" cy="720.8" r="2.35"/><circle cx="656.8" cy="718.1" r="2.35"/><circle cx="658.6" cy="720.5" r="2.35"/><circle cx="659.6" cy="715.4" r="2.35"/><circle cx="659.9" cy="720.6" r="2.35"/><circle cx="660.0" cy="720.8" r="2.35"/><circle cx="661.4" cy="718.6" r="2.35"/><circle cx="661.7" cy="717.4" r="2.35"/><circle cx="662.1" cy="723.4" r="2.35"/><circle cx="663.3" cy="720.7" r="2.35"/><circle cx="663.9" cy="724.5" r="2.35"/><circle cx="664.3" cy="722.3" r="2.35"/><circle cx="664.5" cy="725.2" r="2.35"/><circle cx="664.8" cy="722.8" r="2.35"/><circle cx="666.6" cy="720.5" r="2.35"/><circle cx="667.2" cy="724.6" r="2.35"/><circle cx="668.8" cy="724.8" r="2.35"/><circle cx="668.9" cy="727.5" r="2.35"/><circle cx="670.6" cy="725.3" r="2.35"/><circle cx="671.9" cy="726.1" r="2.35"/><circle cx="672.3" cy="729.7" r="2.35"/><circle cx="673.6" cy="731.2" r="2.35"/><circle cx="675.3" cy="730.9" r="2.35"/><circle cx="675.4" cy="731.7" r="2.35"/><circle cx="675.5" cy="730.1" r="2.35"/><circle cx="678.3" cy="732.3" r="2.35"/><circle cx="680.0" cy="733.4" r="2.35"/><circle cx="682.3" cy="733.2" r="2.35"/><circle cx="683.6" cy="732.9" r="2.35"/><circle cx="684.9" cy="733.8" r="2.35"/><circle cx="687.7" cy="741.1" r="2.35"/><circle cx="688.0" cy="734.8" r="2.35"/><circle cx="688.8" cy="734.5" r="2.35"/><circle cx="690.2" cy="734.8" r="2.35"/><circle cx="691.8" cy="736.4" r="2.35"/><circle cx="693.4" cy="737.8" r="2.35"/><circle cx="693.6" cy="734.1" r="2.35"/><circle cx="695.6" cy="732.7" r="2.35"/><circle cx="697.6" cy="739.6" r="2.35"/><circle cx="697.8" cy="734.5" r="2.35"/><circle cx="697.9" cy="739.6" r="2.35"/><circle cx="698.5" cy="739.5" r="2.35"/><circle cx="699.4" cy="742.6" r="2.35"/><circle cx="699.4" cy="744.0" r="2.35"/><circle cx="700.2" cy="740.8" r="2.35"/><circle cx="701.0" cy="738.6" r="2.35"/><circle cx="701.7" cy="737.2" r="2.35"/><circle cx="702.7" cy="738.6" r="2.35"/><circle cx="703.4" cy="741.1" r="2.35"/><circle cx="704.5" cy="735.7" r="2.35"/><circle cx="704.7" cy="741.6" r="2.35"/><circle cx="704.8" cy="741.4" r="2.35"/><circle cx="706.3" cy="743.7" r="2.35"/><circle cx="706.6" cy="741.2" r="2.35"/><circle cx="707.0" cy="742.5" r="2.35"/><circle cx="707.1" cy="740.2" r="2.35"/><circle cx="707.6" cy="741.2" r="2.35"/><circle cx="708.5" cy="737.9" r="2.35"/><circle cx="710.6" cy="743.7" r="2.35"/><circle cx="711.1" cy="747.7" r="2.35"/><circle cx="711.1" cy="744.0" r="2.35"/><circle cx="711.6" cy="744.7" r="2.35"/><circle cx="714.7" cy="742.0" r="2.35"/><circle cx="714.8" cy="748.5" r="2.35"/><circle cx="714.9" cy="742.6" r="2.35"/><circle cx="715.3" cy="747.0" r="2.35"/><circle cx="716.0" cy="745.3" r="2.35"/><circle cx="716.2" cy="742.5" r="2.35"/><circle cx="720.7" cy="749.1" r="2.35"/><circle cx="720.8" cy="746.4" r="2.35"/><circle cx="721.8" cy="747.1" r="2.35"/><circle cx="721.9" cy="747.9" r="2.35"/><circle cx="721.9" cy="746.6" r="2.35"/><circle cx="722.4" cy="745.8" r="2.35"/><circle cx="722.5" cy="748.1" r="2.35"/><circle cx="722.5" cy="745.8" r="2.35"/><circle cx="722.8" cy="747.1" r="2.35"/><circle cx="723.0" cy="745.2" r="2.35"/><circle cx="723.2" cy="743.0" r="2.35"/><circle cx="723.9" cy="745.5" r="2.35"/><circle cx="724.2" cy="746.0" r="2.35"/><circle cx="724.5" cy="747.5" r="2.35"/><circle cx="725.9" cy="751.1" r="2.35"/><circle cx="726.3" cy="743.4" r="2.35"/><circle cx="730.5" cy="749.5" r="2.35"/><circle cx="730.7" cy="743.2" r="2.35"/><circle cx="730.7" cy="746.4" r="2.35"/><circle cx="731.7" cy="748.1" r="2.35"/><circle cx="733.8" cy="744.0" r="2.35"/><circle cx="734.2" cy="745.1" r="2.35"/><circle cx="734.2" cy="750.6" r="2.35"/><circle cx="735.2" cy="750.7" r="2.35"/><circle cx="736.1" cy="750.4" r="2.35"/><circle cx="736.2" cy="748.5" r="2.35"/><circle cx="736.4" cy="756.6" r="2.35"/><circle cx="736.5" cy="750.4" r="2.35"/><circle cx="739.1" cy="749.1" r="2.35"/><circle cx="739.7" cy="756.2" r="2.35"/><circle cx="739.7" cy="753.3" r="2.35"/><circle cx="739.9" cy="750.7" r="2.35"/><circle cx="740.4" cy="755.0" r="2.35"/><circle cx="741.1" cy="752.4" r="2.35"/><circle cx="741.9" cy="753.9" r="2.35"/><circle cx="743.6" cy="753.3" r="2.35"/><circle cx="744.9" cy="750.2" r="2.35"/><circle cx="746.3" cy="755.9" r="2.35"/><circle cx="747.6" cy="754.0" r="2.35"/><circle cx="748.2" cy="751.0" r="2.35"/><circle cx="749.3" cy="752.0" r="2.35"/><circle cx="750.5" cy="756.9" r="2.35"/><circle cx="750.6" cy="753.3" r="2.35"/><circle cx="751.2" cy="754.6" r="2.35"/><circle cx="753.5" cy="756.8" r="2.35"/><circle cx="754.9" cy="755.6" r="2.35"/><circle cx="755.4" cy="751.3" r="2.35"/><circle cx="755.7" cy="757.2" r="2.35"/><circle cx="755.9" cy="758.0" r="2.35"/><circle cx="756.6" cy="758.0" r="2.35"/><circle cx="758.4" cy="760.4" r="2.35"/><circle cx="758.9" cy="757.1" r="2.35"/><circle cx="759.7" cy="758.4" r="2.35"/><circle cx="760.0" cy="760.7" r="2.35"/><circle cx="760.4" cy="755.7" r="2.35"/><circle cx="761.6" cy="761.4" r="2.35"/><circle cx="762.4" cy="761.6" r="2.35"/><circle cx="765.2" cy="759.6" r="2.35"/><circle cx="765.8" cy="762.5" r="2.35"/><circle cx="766.1" cy="759.9" r="2.35"/><circle cx="767.2" cy="755.4" r="2.35"/><circle cx="767.3" cy="760.9" r="2.35"/><circle cx="767.6" cy="758.8" r="2.35"/><circle cx="769.6" cy="759.4" r="2.35"/><circle cx="769.6" cy="758.7" r="2.35"/><circle cx="770.1" cy="762.0" r="2.35"/><circle cx="770.7" cy="759.9" r="2.35"/><circle cx="771.1" cy="756.6" r="2.35"/><circle cx="771.3" cy="759.8" r="2.35"/><circle cx="772.2" cy="760.6" r="2.35"/><circle cx="772.9" cy="756.8" r="2.35"/><circle cx="774.3" cy="757.8" r="2.35"/><circle cx="774.6" cy="758.0" r="2.35"/><circle cx="777.1" cy="757.8" r="2.35"/><circle cx="778.0" cy="760.5" r="2.35"/><circle cx="778.5" cy="762.4" r="2.35"/><circle cx="779.7" cy="764.9" r="2.35"/><circle cx="781.0" cy="763.2" r="2.35"/><circle cx="781.7" cy="762.8" r="2.35"/><circle cx="782.0" cy="763.2" r="2.35"/><circle cx="782.5" cy="763.8" r="2.35"/><circle cx="783.3" cy="759.2" r="2.35"/><circle cx="784.5" cy="762.3" r="2.35"/><circle cx="787.5" cy="761.6" r="2.35"/><circle cx="788.6" cy="760.5" r="2.35"/><circle cx="792.3" cy="760.0" r="2.35"/><circle cx="792.8" cy="759.9" r="2.35"/><circle cx="794.3" cy="760.7" r="2.35"/><circle cx="795.5" cy="758.2" r="2.35"/><circle cx="795.8" cy="762.9" r="2.35"/><circle cx="796.2" cy="761.5" r="2.35"/><circle cx="797.5" cy="762.0" r="2.35"/><circle cx="798.0" cy="762.6" r="2.35"/><circle cx="798.6" cy="763.7" r="2.35"/><circle cx="799.0" cy="760.2" r="2.35"/><circle cx="799.4" cy="761.6" r="2.35"/><circle cx="800.4" cy="757.6" r="2.35"/><circle cx="800.6" cy="756.0" r="2.35"/><circle cx="801.2" cy="756.7" r="2.35"/><circle cx="801.8" cy="766.2" r="2.35"/><circle cx="802.2" cy="757.1" r="2.35"/><circle cx="802.4" cy="763.4" r="2.35"/><circle cx="803.9" cy="766.2" r="2.35"/><circle cx="804.0" cy="761.0" r="2.35"/><circle cx="805.5" cy="766.7" r="2.35"/><circle cx="805.7" cy="767.3" r="2.35"/><circle cx="807.5" cy="765.0" r="2.35"/><circle cx="807.8" cy="768.9" r="2.35"/><circle cx="809.7" cy="764.3" r="2.35"/><circle cx="812.6" cy="760.8" r="2.35"/><circle cx="813.8" cy="764.2" r="2.35"/><circle cx="814.5" cy="761.7" r="2.35"/><circle cx="815.7" cy="759.4" r="2.35"/><circle cx="816.5" cy="759.5" r="2.35"/><circle cx="817.8" cy="769.2" r="2.35"/></g>
<g fill="#d3a51f"><circle cx="135.7" cy="780.3" r="2.35"/><circle cx="136.4" cy="782.5" r="2.35"/><circle cx="137.1" cy="775.3" r="2.35"/><circle cx="138.4" cy="779.1" r="2.35"/><circle cx="138.8" cy="777.2" r="2.35"/><circle cx="140.9" cy="776.5" r="2.35"/><circle cx="141.5" cy="779.7" r="2.35"/><circle cx="141.6" cy="778.9" r="2.35"/><circle cx="142.1" cy="774.2" r="2.35"/><circle cx="142.7" cy="775.9" r="2.35"/><circle cx="143.4" cy="777.0" r="2.35"/><circle cx="144.5" cy="772.6" r="2.35"/><circle cx="145.3" cy="778.1" r="2.35"/><circle cx="146.6" cy="775.4" r="2.35"/><circle cx="147.1" cy="775.9" r="2.35"/><circle cx="147.8" cy="776.1" r="2.35"/><circle cx="152.7" cy="778.4" r="2.35"/><circle cx="152.9" cy="774.0" r="2.35"/><circle cx="154.3" cy="772.6" r="2.35"/><circle cx="156.5" cy="777.2" r="2.35"/><circle cx="157.6" cy="771.4" r="2.35"/><circle cx="158.0" cy="771.2" r="2.35"/><circle cx="159.0" cy="768.8" r="2.35"/><circle cx="159.9" cy="774.6" r="2.35"/><circle cx="161.1" cy="772.2" r="2.35"/><circle cx="161.4" cy="772.7" r="2.35"/><circle cx="163.2" cy="771.4" r="2.35"/><circle cx="163.7" cy="770.5" r="2.35"/><circle cx="163.7" cy="768.8" r="2.35"/><circle cx="164.0" cy="768.8" r="2.35"/><circle cx="165.1" cy="771.5" r="2.35"/><circle cx="166.5" cy="770.2" r="2.35"/><circle cx="169.4" cy="773.1" r="2.35"/><circle cx="169.9" cy="767.0" r="2.35"/><circle cx="170.9" cy="767.4" r="2.35"/><circle cx="171.6" cy="765.9" r="2.35"/><circle cx="173.5" cy="771.2" r="2.35"/><circle cx="178.7" cy="763.2" r="2.35"/><circle cx="178.9" cy="768.1" r="2.35"/><circle cx="181.4" cy="769.0" r="2.35"/><circle cx="182.8" cy="764.7" r="2.35"/><circle cx="183.4" cy="766.7" r="2.35"/><circle cx="186.1" cy="758.9" r="2.35"/><circle cx="188.0" cy="762.7" r="2.35"/><circle cx="188.8" cy="759.3" r="2.35"/><circle cx="189.3" cy="763.7" r="2.35"/><circle cx="189.7" cy="763.2" r="2.35"/><circle cx="189.8" cy="761.2" r="2.35"/><circle cx="191.6" cy="764.9" r="2.35"/><circle cx="191.8" cy="763.4" r="2.35"/><circle cx="194.2" cy="760.5" r="2.35"/><circle cx="196.4" cy="759.8" r="2.35"/><circle cx="199.0" cy="756.6" r="2.35"/><circle cx="199.3" cy="759.7" r="2.35"/><circle cx="199.4" cy="765.4" r="2.35"/><circle cx="199.4" cy="758.3" r="2.35"/><circle cx="202.8" cy="759.9" r="2.35"/><circle cx="204.4" cy="756.9" r="2.35"/><circle cx="204.7" cy="760.1" r="2.35"/><circle cx="206.8" cy="758.3" r="2.35"/><circle cx="207.0" cy="756.6" r="2.35"/><circle cx="208.9" cy="751.9" r="2.35"/><circle cx="209.1" cy="755.0" r="2.35"/><circle cx="211.5" cy="758.1" r="2.35"/><circle cx="211.9" cy="754.4" r="2.35"/><circle cx="212.2" cy="756.4" r="2.35"/><circle cx="214.1" cy="752.8" r="2.35"/><circle cx="216.8" cy="748.1" r="2.35"/><circle cx="216.8" cy="753.7" r="2.35"/><circle cx="216.9" cy="753.4" r="2.35"/><circle cx="217.2" cy="751.0" r="2.35"/><circle cx="217.7" cy="751.3" r="2.35"/><circle cx="218.8" cy="752.4" r="2.35"/><circle cx="220.4" cy="749.5" r="2.35"/><circle cx="221.6" cy="751.2" r="2.35"/><circle cx="223.5" cy="748.9" r="2.35"/><circle cx="224.1" cy="743.3" r="2.35"/><circle cx="224.2" cy="748.7" r="2.35"/><circle cx="224.3" cy="747.5" r="2.35"/><circle cx="226.9" cy="745.6" r="2.35"/><circle cx="228.2" cy="747.9" r="2.35"/><circle cx="229.1" cy="745.3" r="2.35"/><circle cx="230.7" cy="747.0" r="2.35"/><circle cx="230.7" cy="748.3" r="2.35"/><circle cx="233.1" cy="744.6" r="2.35"/><circle cx="233.1" cy="740.4" r="2.35"/><circle cx="234.7" cy="741.6" r="2.35"/><circle cx="234.8" cy="745.6" r="2.35"/><circle cx="235.7" cy="742.2" r="2.35"/><circle cx="240.9" cy="737.8" r="2.35"/><circle cx="242.0" cy="739.0" r="2.35"/><circle cx="242.7" cy="740.0" r="2.35"/><circle cx="244.6" cy="738.4" r="2.35"/><circle cx="244.7" cy="739.3" r="2.35"/><circle cx="245.3" cy="735.3" r="2.35"/><circle cx="246.9" cy="735.9" r="2.35"/><circle cx="247.0" cy="735.9" r="2.35"/><circle cx="250.4" cy="734.7" r="2.35"/><circle cx="250.6" cy="729.5" r="2.35"/><circle cx="251.0" cy="733.8" r="2.35"/><circle cx="253.8" cy="729.7" r="2.35"/><circle cx="254.9" cy="736.0" r="2.35"/><circle cx="254.9" cy="736.3" r="2.35"/><circle cx="255.5" cy="736.4" r="2.35"/><circle cx="255.9" cy="734.0" r="2.35"/><circle cx="256.7" cy="730.4" r="2.35"/><circle cx="258.3" cy="733.3" r="2.35"/><circle cx="258.5" cy="730.3" r="2.35"/><circle cx="258.7" cy="732.2" r="2.35"/><circle cx="259.0" cy="728.3" r="2.35"/><circle cx="259.3" cy="729.0" r="2.35"/><circle cx="259.4" cy="731.5" r="2.35"/><circle cx="262.3" cy="733.3" r="2.35"/><circle cx="267.9" cy="726.1" r="2.35"/><circle cx="268.7" cy="731.4" r="2.35"/><circle cx="268.7" cy="732.6" r="2.35"/><circle cx="269.3" cy="722.3" r="2.35"/><circle cx="271.0" cy="724.5" r="2.35"/><circle cx="272.8" cy="721.3" r="2.35"/><circle cx="273.4" cy="722.9" r="2.35"/><circle cx="273.7" cy="721.7" r="2.35"/><circle cx="273.8" cy="722.8" r="2.35"/><circle cx="274.7" cy="724.9" r="2.35"/><circle cx="275.9" cy="724.1" r="2.35"/><circle cx="276.1" cy="722.3" r="2.35"/><circle cx="276.2" cy="721.6" r="2.35"/><circle cx="276.7" cy="721.6" r="2.35"/><circle cx="277.1" cy="721.4" r="2.35"/><circle cx="277.3" cy="722.4" r="2.35"/><circle cx="277.5" cy="720.9" r="2.35"/><circle cx="278.5" cy="721.5" r="2.35"/><circle cx="279.2" cy="716.6" r="2.35"/><circle cx="279.8" cy="721.5" r="2.35"/><circle cx="280.7" cy="723.2" r="2.35"/><circle cx="282.1" cy="718.5" r="2.35"/><circle cx="282.1" cy="714.6" r="2.35"/><circle cx="282.4" cy="721.2" r="2.35"/><circle cx="283.0" cy="716.7" r="2.35"/><circle cx="284.1" cy="709.5" r="2.35"/><circle cx="284.1" cy="716.3" r="2.35"/><circle cx="284.9" cy="717.9" r="2.35"/><circle cx="285.0" cy="717.2" r="2.35"/><circle cx="286.0" cy="718.7" r="2.35"/><circle cx="286.0" cy="717.2" r="2.35"/><circle cx="288.3" cy="714.5" r="2.35"/><circle cx="288.7" cy="709.1" r="2.35"/><circle cx="289.0" cy="711.1" r="2.35"/><circle cx="289.2" cy="714.1" r="2.35"/><circle cx="293.1" cy="712.9" r="2.35"/><circle cx="295.2" cy="707.4" r="2.35"/><circle cx="297.4" cy="707.2" r="2.35"/><circle cx="298.2" cy="709.3" r="2.35"/><circle cx="298.2" cy="703.4" r="2.35"/><circle cx="298.4" cy="703.3" r="2.35"/><circle cx="300.6" cy="706.2" r="2.35"/><circle cx="301.4" cy="706.9" r="2.35"/><circle cx="301.7" cy="704.9" r="2.35"/><circle cx="301.8" cy="700.4" r="2.35"/><circle cx="302.5" cy="705.6" r="2.35"/><circle cx="302.6" cy="702.3" r="2.35"/><circle cx="303.2" cy="706.8" r="2.35"/><circle cx="304.0" cy="704.5" r="2.35"/><circle cx="304.0" cy="705.4" r="2.35"/><circle cx="304.5" cy="706.0" r="2.35"/><circle cx="307.3" cy="701.5" r="2.35"/><circle cx="307.7" cy="704.6" r="2.35"/><circle cx="307.8" cy="705.6" r="2.35"/><circle cx="310.1" cy="702.0" r="2.35"/><circle cx="310.8" cy="704.0" r="2.35"/><circle cx="314.6" cy="696.8" r="2.35"/><circle cx="315.4" cy="700.2" r="2.35"/><circle cx="316.8" cy="697.7" r="2.35"/><circle cx="316.9" cy="694.6" r="2.35"/><circle cx="317.9" cy="696.2" r="2.35"/><circle cx="318.3" cy="694.9" r="2.35"/><circle cx="318.7" cy="694.6" r="2.35"/><circle cx="320.9" cy="694.9" r="2.35"/><circle cx="320.9" cy="697.2" r="2.35"/><circle cx="321.4" cy="693.5" r="2.35"/><circle cx="321.5" cy="694.6" r="2.35"/><circle cx="322.4" cy="690.0" r="2.35"/><circle cx="323.2" cy="693.5" r="2.35"/><circle cx="323.8" cy="695.7" r="2.35"/><circle cx="324.3" cy="694.5" r="2.35"/><circle cx="325.4" cy="693.0" r="2.35"/><circle cx="326.0" cy="690.1" r="2.35"/><circle cx="327.1" cy="688.4" r="2.35"/><circle cx="330.2" cy="688.6" r="2.35"/><circle cx="330.8" cy="685.1" r="2.35"/><circle cx="330.9" cy="685.4" r="2.35"/><circle cx="330.9" cy="690.8" r="2.35"/><circle cx="331.5" cy="685.7" r="2.35"/><circle cx="333.4" cy="691.3" r="2.35"/><circle cx="336.8" cy="681.3" r="2.35"/><circle cx="336.8" cy="685.9" r="2.35"/><circle cx="339.0" cy="680.7" r="2.35"/><circle cx="339.3" cy="683.9" r="2.35"/><circle cx="340.6" cy="680.2" r="2.35"/><circle cx="342.0" cy="682.1" r="2.35"/><circle cx="343.6" cy="680.8" r="2.35"/><circle cx="343.6" cy="680.0" r="2.35"/><circle cx="343.6" cy="682.4" r="2.35"/><circle cx="346.7" cy="683.4" r="2.35"/><circle cx="348.0" cy="677.6" r="2.35"/><circle cx="348.6" cy="681.0" r="2.35"/><circle cx="348.8" cy="678.9" r="2.35"/><circle cx="350.2" cy="678.0" r="2.35"/><circle cx="354.6" cy="681.6" r="2.35"/><circle cx="357.8" cy="669.3" r="2.35"/><circle cx="361.0" cy="671.4" r="2.35"/><circle cx="362.4" cy="667.9" r="2.35"/><circle cx="362.5" cy="671.5" r="2.35"/><circle cx="363.1" cy="671.4" r="2.35"/><circle cx="365.1" cy="680.4" r="2.35"/><circle cx="366.1" cy="671.3" r="2.35"/><circle cx="367.2" cy="674.2" r="2.35"/><circle cx="369.8" cy="671.6" r="2.35"/><circle cx="369.9" cy="667.2" r="2.35"/><circle cx="370.5" cy="669.1" r="2.35"/><circle cx="372.4" cy="671.0" r="2.35"/><circle cx="373.4" cy="666.7" r="2.35"/><circle cx="373.4" cy="666.8" r="2.35"/><circle cx="373.9" cy="667.2" r="2.35"/><circle cx="375.6" cy="661.3" r="2.35"/><circle cx="376.3" cy="662.5" r="2.35"/><circle cx="376.6" cy="665.2" r="2.35"/><circle cx="376.7" cy="665.7" r="2.35"/><circle cx="376.9" cy="661.9" r="2.35"/><circle cx="377.1" cy="663.2" r="2.35"/><circle cx="377.3" cy="663.6" r="2.35"/><circle cx="378.1" cy="663.0" r="2.35"/><circle cx="378.4" cy="664.9" r="2.35"/><circle cx="378.5" cy="663.4" r="2.35"/><circle cx="379.5" cy="662.9" r="2.35"/><circle cx="380.4" cy="658.4" r="2.35"/><circle cx="380.6" cy="659.2" r="2.35"/><circle cx="381.0" cy="662.4" r="2.35"/><circle cx="383.0" cy="656.3" r="2.35"/><circle cx="384.6" cy="659.7" r="2.35"/><circle cx="384.8" cy="657.3" r="2.35"/><circle cx="385.6" cy="656.4" r="2.35"/><circle cx="385.9" cy="659.8" r="2.35"/><circle cx="391.6" cy="652.3" r="2.35"/><circle cx="391.9" cy="651.6" r="2.35"/><circle cx="392.1" cy="651.9" r="2.35"/><circle cx="393.4" cy="652.7" r="2.35"/><circle cx="394.9" cy="658.0" r="2.35"/><circle cx="396.4" cy="644.4" r="2.35"/><circle cx="397.3" cy="648.8" r="2.35"/><circle cx="397.7" cy="647.8" r="2.35"/><circle cx="399.1" cy="649.2" r="2.35"/><circle cx="399.8" cy="645.0" r="2.35"/><circle cx="400.0" cy="639.6" r="2.35"/><circle cx="400.3" cy="648.6" r="2.35"/><circle cx="400.9" cy="641.8" r="2.35"/><circle cx="401.3" cy="643.8" r="2.35"/><circle cx="401.8" cy="639.7" r="2.35"/><circle cx="404.7" cy="635.9" r="2.35"/><circle cx="404.7" cy="637.3" r="2.35"/><circle cx="404.8" cy="640.5" r="2.35"/><circle cx="405.3" cy="639.7" r="2.35"/><circle cx="405.3" cy="636.1" r="2.35"/><circle cx="408.0" cy="634.2" r="2.35"/><circle cx="408.4" cy="631.2" r="2.35"/><circle cx="410.7" cy="627.9" r="2.35"/><circle cx="411.0" cy="627.2" r="2.35"/><circle cx="411.9" cy="626.5" r="2.35"/><circle cx="412.2" cy="622.9" r="2.35"/><circle cx="413.5" cy="621.3" r="2.35"/><circle cx="413.9" cy="621.3" r="2.35"/><circle cx="414.9" cy="619.1" r="2.35"/><circle cx="415.0" cy="616.6" r="2.35"/><circle cx="418.1" cy="617.1" r="2.35"/><circle cx="418.9" cy="610.2" r="2.35"/><circle cx="421.5" cy="609.9" r="2.35"/><circle cx="422.4" cy="607.7" r="2.35"/><circle cx="425.9" cy="609.0" r="2.35"/><circle cx="426.7" cy="600.9" r="2.35"/><circle cx="429.7" cy="613.7" r="2.35"/><circle cx="430.2" cy="608.7" r="2.35"/><circle cx="430.8" cy="607.0" r="2.35"/><circle cx="432.5" cy="613.2" r="2.35"/><circle cx="432.9" cy="619.3" r="2.35"/><circle cx="434.1" cy="617.0" r="2.35"/><circle cx="434.5" cy="613.4" r="2.35"/><circle cx="434.5" cy="615.4" r="2.35"/><circle cx="435.3" cy="621.1" r="2.35"/><circle cx="435.9" cy="615.4" r="2.35"/><circle cx="437.8" cy="622.1" r="2.35"/><circle cx="438.0" cy="622.2" r="2.35"/><circle cx="438.4" cy="629.1" r="2.35"/><circle cx="440.5" cy="626.9" r="2.35"/><circle cx="442.8" cy="634.5" r="2.35"/><circle cx="442.9" cy="629.6" r="2.35"/><circle cx="445.2" cy="632.0" r="2.35"/><circle cx="445.4" cy="636.7" r="2.35"/><circle cx="449.4" cy="639.5" r="2.35"/><circle cx="449.4" cy="633.7" r="2.35"/><circle cx="449.9" cy="640.0" r="2.35"/><circle cx="451.2" cy="641.1" r="2.35"/><circle cx="453.8" cy="639.9" r="2.35"/><circle cx="453.9" cy="642.0" r="2.35"/><circle cx="456.0" cy="643.4" r="2.35"/><circle cx="457.0" cy="642.1" r="2.35"/><circle cx="457.1" cy="641.9" r="2.35"/><circle cx="457.4" cy="641.8" r="2.35"/><circle cx="457.6" cy="642.9" r="2.35"/><circle cx="463.8" cy="642.8" r="2.35"/><circle cx="464.3" cy="646.2" r="2.35"/><circle cx="465.8" cy="643.1" r="2.35"/><circle cx="465.8" cy="647.0" r="2.35"/><circle cx="466.7" cy="646.9" r="2.35"/><circle cx="467.0" cy="644.6" r="2.35"/><circle cx="467.4" cy="649.4" r="2.35"/><circle cx="467.5" cy="652.1" r="2.35"/><circle cx="468.6" cy="651.0" r="2.35"/><circle cx="469.9" cy="644.7" r="2.35"/><circle cx="473.4" cy="652.5" r="2.35"/><circle cx="478.2" cy="651.8" r="2.35"/><circle cx="478.5" cy="651.3" r="2.35"/><circle cx="478.7" cy="650.0" r="2.35"/><circle cx="479.7" cy="651.9" r="2.35"/><circle cx="480.5" cy="655.7" r="2.35"/><circle cx="480.7" cy="653.7" r="2.35"/><circle cx="481.6" cy="651.7" r="2.35"/><circle cx="481.9" cy="651.2" r="2.35"/><circle cx="482.3" cy="652.0" r="2.35"/><circle cx="482.9" cy="654.7" r="2.35"/><circle cx="483.4" cy="658.1" r="2.35"/><circle cx="485.2" cy="651.7" r="2.35"/><circle cx="485.5" cy="654.5" r="2.35"/><circle cx="486.8" cy="654.1" r="2.35"/><circle cx="488.2" cy="653.8" r="2.35"/><circle cx="488.8" cy="656.9" r="2.35"/><circle cx="488.8" cy="657.3" r="2.35"/><circle cx="489.4" cy="652.7" r="2.35"/><circle cx="490.4" cy="654.1" r="2.35"/><circle cx="492.1" cy="660.4" r="2.35"/><circle cx="492.5" cy="658.4" r="2.35"/><circle cx="493.2" cy="659.3" r="2.35"/><circle cx="494.2" cy="657.2" r="2.35"/><circle cx="494.4" cy="657.6" r="2.35"/><circle cx="495.1" cy="660.0" r="2.35"/><circle cx="496.4" cy="658.2" r="2.35"/><circle cx="496.5" cy="656.8" r="2.35"/><circle cx="498.4" cy="660.4" r="2.35"/><circle cx="500.1" cy="663.5" r="2.35"/><circle cx="500.6" cy="658.9" r="2.35"/><circle cx="500.7" cy="664.2" r="2.35"/><circle cx="504.3" cy="665.0" r="2.35"/><circle cx="505.8" cy="661.9" r="2.35"/><circle cx="512.0" cy="667.1" r="2.35"/><circle cx="512.5" cy="667.2" r="2.35"/><circle cx="514.1" cy="669.8" r="2.35"/><circle cx="514.3" cy="669.9" r="2.35"/><circle cx="515.3" cy="665.5" r="2.35"/><circle cx="515.4" cy="665.5" r="2.35"/><circle cx="515.6" cy="671.5" r="2.35"/><circle cx="515.9" cy="669.4" r="2.35"/><circle cx="516.5" cy="670.4" r="2.35"/><circle cx="516.8" cy="670.4" r="2.35"/><circle cx="516.8" cy="673.3" r="2.35"/><circle cx="517.0" cy="666.7" r="2.35"/><circle cx="519.3" cy="673.5" r="2.35"/><circle cx="519.5" cy="668.9" r="2.35"/><circle cx="519.7" cy="672.9" r="2.35"/><circle cx="519.9" cy="674.5" r="2.35"/><circle cx="519.9" cy="667.7" r="2.35"/><circle cx="520.1" cy="672.3" r="2.35"/><circle cx="521.2" cy="671.2" r="2.35"/><circle cx="521.3" cy="671.2" r="2.35"/><circle cx="521.4" cy="672.1" r="2.35"/><circle cx="521.5" cy="669.4" r="2.35"/><circle cx="521.9" cy="669.9" r="2.35"/><circle cx="522.1" cy="673.9" r="2.35"/><circle cx="522.4" cy="674.6" r="2.35"/><circle cx="522.7" cy="671.2" r="2.35"/><circle cx="522.9" cy="669.2" r="2.35"/><circle cx="523.2" cy="678.6" r="2.35"/><circle cx="523.7" cy="675.9" r="2.35"/><circle cx="524.6" cy="674.6" r="2.35"/><circle cx="525.2" cy="671.5" r="2.35"/><circle cx="525.8" cy="672.9" r="2.35"/><circle cx="526.4" cy="675.3" r="2.35"/><circle cx="531.1" cy="674.9" r="2.35"/><circle cx="531.5" cy="681.5" r="2.35"/><circle cx="533.1" cy="678.8" r="2.35"/><circle cx="536.5" cy="681.3" r="2.35"/><circle cx="536.8" cy="678.0" r="2.35"/><circle cx="539.1" cy="679.6" r="2.35"/><circle cx="539.6" cy="680.2" r="2.35"/><circle cx="539.8" cy="682.9" r="2.35"/><circle cx="540.2" cy="681.8" r="2.35"/><circle cx="540.4" cy="681.9" r="2.35"/><circle cx="541.0" cy="683.7" r="2.35"/><circle cx="542.0" cy="684.1" r="2.35"/><circle cx="543.5" cy="688.1" r="2.35"/><circle cx="544.1" cy="684.3" r="2.35"/><circle cx="544.8" cy="682.6" r="2.35"/><circle cx="544.9" cy="685.2" r="2.35"/><circle cx="549.5" cy="691.6" r="2.35"/><circle cx="550.0" cy="687.0" r="2.35"/><circle cx="550.1" cy="688.5" r="2.35"/><circle cx="550.4" cy="687.7" r="2.35"/><circle cx="550.6" cy="689.7" r="2.35"/><circle cx="550.6" cy="689.3" r="2.35"/><circle cx="551.9" cy="687.5" r="2.35"/><circle cx="552.3" cy="689.2" r="2.35"/><circle cx="552.9" cy="692.4" r="2.35"/><circle cx="553.0" cy="692.9" r="2.35"/><circle cx="554.2" cy="693.2" r="2.35"/><circle cx="554.8" cy="693.4" r="2.35"/><circle cx="555.2" cy="690.8" r="2.35"/><circle cx="555.4" cy="690.7" r="2.35"/><circle cx="555.8" cy="694.2" r="2.35"/><circle cx="555.8" cy="689.0" r="2.35"/><circle cx="557.0" cy="692.5" r="2.35"/><circle cx="557.7" cy="688.5" r="2.35"/><circle cx="558.9" cy="692.9" r="2.35"/><circle cx="560.1" cy="692.8" r="2.35"/><circle cx="562.3" cy="692.9" r="2.35"/><circle cx="562.4" cy="697.3" r="2.35"/><circle cx="564.7" cy="695.4" r="2.35"/><circle cx="566.5" cy="697.4" r="2.35"/><circle cx="567.0" cy="697.9" r="2.35"/><circle cx="569.5" cy="698.1" r="2.35"/><circle cx="569.6" cy="703.5" r="2.35"/><circle cx="569.7" cy="698.8" r="2.35"/><circle cx="571.6" cy="701.6" r="2.35"/><circle cx="571.7" cy="698.0" r="2.35"/><circle cx="571.7" cy="700.0" r="2.35"/><circle cx="572.1" cy="700.6" r="2.35"/><circle cx="572.6" cy="700.9" r="2.35"/><circle cx="573.2" cy="700.6" r="2.35"/><circle cx="573.9" cy="702.7" r="2.35"/><circle cx="575.1" cy="706.9" r="2.35"/><circle cx="577.1" cy="703.8" r="2.35"/><circle cx="577.7" cy="704.1" r="2.35"/><circle cx="578.2" cy="703.7" r="2.35"/><circle cx="578.9" cy="711.3" r="2.35"/><circle cx="578.9" cy="709.1" r="2.35"/><circle cx="579.1" cy="706.6" r="2.35"/><circle cx="580.3" cy="707.6" r="2.35"/><circle cx="580.7" cy="704.3" r="2.35"/><circle cx="581.5" cy="706.1" r="2.35"/><circle cx="581.9" cy="707.2" r="2.35"/><circle cx="581.9" cy="707.0" r="2.35"/><circle cx="582.1" cy="704.7" r="2.35"/><circle cx="582.2" cy="705.0" r="2.35"/><circle cx="582.3" cy="708.2" r="2.35"/><circle cx="582.7" cy="707.9" r="2.35"/><circle cx="584.2" cy="702.8" r="2.35"/><circle cx="584.7" cy="708.4" r="2.35"/><circle cx="585.1" cy="711.6" r="2.35"/><circle cx="586.5" cy="707.6" r="2.35"/><circle cx="587.0" cy="710.1" r="2.35"/><circle cx="587.3" cy="706.1" r="2.35"/><circle cx="588.3" cy="712.2" r="2.35"/><circle cx="591.7" cy="709.3" r="2.35"/><circle cx="592.4" cy="709.3" r="2.35"/><circle cx="592.4" cy="711.6" r="2.35"/><circle cx="592.6" cy="718.3" r="2.35"/><circle cx="592.9" cy="711.2" r="2.35"/><circle cx="592.9" cy="709.6" r="2.35"/><circle cx="594.3" cy="714.6" r="2.35"/><circle cx="595.5" cy="714.7" r="2.35"/><circle cx="596.2" cy="718.5" r="2.35"/><circle cx="596.4" cy="711.5" r="2.35"/><circle cx="596.4" cy="710.7" r="2.35"/><circle cx="596.7" cy="714.0" r="2.35"/><circle cx="598.0" cy="716.4" r="2.35"/><circle cx="598.5" cy="716.6" r="2.35"/><circle cx="600.0" cy="719.2" r="2.35"/><circle cx="601.0" cy="713.5" r="2.35"/><circle cx="601.2" cy="715.2" r="2.35"/><circle cx="601.4" cy="717.0" r="2.35"/><circle cx="602.0" cy="719.7" r="2.35"/><circle cx="603.5" cy="719.6" r="2.35"/><circle cx="604.3" cy="717.9" r="2.35"/><circle cx="605.1" cy="716.9" r="2.35"/><circle cx="605.4" cy="721.7" r="2.35"/><circle cx="607.5" cy="723.0" r="2.35"/><circle cx="608.0" cy="727.6" r="2.35"/><circle cx="609.7" cy="721.5" r="2.35"/><circle cx="610.5" cy="726.3" r="2.35"/><circle cx="610.9" cy="719.6" r="2.35"/><circle cx="611.3" cy="721.5" r="2.35"/><circle cx="611.3" cy="721.2" r="2.35"/><circle cx="612.5" cy="722.4" r="2.35"/><circle cx="613.3" cy="721.8" r="2.35"/><circle cx="613.4" cy="722.7" r="2.35"/><circle cx="613.5" cy="723.9" r="2.35"/><circle cx="614.3" cy="723.4" r="2.35"/><circle cx="614.4" cy="726.2" r="2.35"/><circle cx="618.1" cy="726.4" r="2.35"/><circle cx="618.1" cy="726.7" r="2.35"/><circle cx="618.6" cy="730.5" r="2.35"/><circle cx="619.3" cy="728.1" r="2.35"/><circle cx="619.5" cy="727.9" r="2.35"/><circle cx="619.6" cy="727.5" r="2.35"/><circle cx="619.6" cy="727.7" r="2.35"/><circle cx="621.1" cy="729.8" r="2.35"/><circle cx="623.5" cy="727.9" r="2.35"/><circle cx="623.9" cy="732.9" r="2.35"/><circle cx="624.3" cy="734.2" r="2.35"/><circle cx="624.6" cy="733.4" r="2.35"/><circle cx="624.7" cy="729.4" r="2.35"/><circle cx="624.9" cy="726.9" r="2.35"/><circle cx="625.5" cy="730.0" r="2.35"/><circle cx="626.0" cy="731.8" r="2.35"/><circle cx="626.1" cy="733.5" r="2.35"/><circle cx="626.4" cy="731.2" r="2.35"/><circle cx="627.3" cy="731.4" r="2.35"/><circle cx="627.4" cy="736.0" r="2.35"/><circle cx="627.8" cy="730.9" r="2.35"/><circle cx="629.7" cy="736.3" r="2.35"/><circle cx="631.2" cy="736.9" r="2.35"/><circle cx="631.9" cy="731.8" r="2.35"/><circle cx="634.7" cy="737.4" r="2.35"/><circle cx="634.9" cy="735.5" r="2.35"/><circle cx="635.1" cy="734.7" r="2.35"/><circle cx="635.3" cy="732.6" r="2.35"/><circle cx="635.9" cy="733.6" r="2.35"/><circle cx="637.5" cy="739.4" r="2.35"/><circle cx="641.3" cy="739.4" r="2.35"/><circle cx="644.3" cy="742.5" r="2.35"/><circle cx="644.7" cy="739.4" r="2.35"/><circle cx="646.8" cy="742.2" r="2.35"/><circle cx="648.4" cy="743.1" r="2.35"/><circle cx="648.8" cy="740.2" r="2.35"/><circle cx="649.0" cy="740.0" r="2.35"/><circle cx="649.4" cy="745.3" r="2.35"/><circle cx="650.1" cy="744.9" r="2.35"/><circle cx="650.2" cy="742.3" r="2.35"/><circle cx="652.8" cy="745.5" r="2.35"/><circle cx="654.6" cy="748.2" r="2.35"/><circle cx="654.7" cy="751.1" r="2.35"/><circle cx="655.1" cy="744.6" r="2.35"/><circle cx="655.1" cy="748.3" r="2.35"/><circle cx="655.2" cy="752.0" r="2.35"/><circle cx="658.6" cy="748.4" r="2.35"/><circle cx="659.7" cy="752.3" r="2.35"/><circle cx="659.8" cy="742.4" r="2.35"/><circle cx="660.2" cy="752.4" r="2.35"/><circle cx="660.3" cy="748.9" r="2.35"/><circle cx="662.0" cy="745.0" r="2.35"/><circle cx="662.4" cy="751.7" r="2.35"/><circle cx="662.6" cy="752.4" r="2.35"/><circle cx="663.5" cy="753.1" r="2.35"/><circle cx="663.8" cy="753.2" r="2.35"/><circle cx="664.3" cy="750.4" r="2.35"/><circle cx="669.0" cy="750.4" r="2.35"/><circle cx="669.0" cy="751.1" r="2.35"/><circle cx="669.7" cy="752.4" r="2.35"/><circle cx="672.6" cy="754.5" r="2.35"/><circle cx="672.6" cy="752.3" r="2.35"/><circle cx="677.7" cy="755.3" r="2.35"/><circle cx="677.9" cy="757.3" r="2.35"/><circle cx="678.3" cy="756.1" r="2.35"/><circle cx="680.0" cy="761.5" r="2.35"/><circle cx="680.4" cy="761.2" r="2.35"/><circle cx="680.7" cy="753.2" r="2.35"/><circle cx="683.9" cy="755.5" r="2.35"/><circle cx="684.8" cy="754.0" r="2.35"/><circle cx="689.9" cy="755.7" r="2.35"/><circle cx="689.9" cy="759.9" r="2.35"/><circle cx="691.1" cy="756.4" r="2.35"/><circle cx="691.3" cy="756.3" r="2.35"/><circle cx="692.3" cy="758.5" r="2.35"/><circle cx="692.8" cy="761.2" r="2.35"/><circle cx="693.3" cy="758.5" r="2.35"/><circle cx="693.9" cy="758.6" r="2.35"/><circle cx="695.4" cy="762.2" r="2.35"/><circle cx="697.4" cy="761.5" r="2.35"/><circle cx="697.8" cy="761.6" r="2.35"/><circle cx="698.6" cy="763.0" r="2.35"/><circle cx="701.6" cy="758.8" r="2.35"/><circle cx="704.3" cy="762.4" r="2.35"/><circle cx="704.4" cy="760.4" r="2.35"/><circle cx="704.7" cy="764.5" r="2.35"/><circle cx="706.3" cy="764.4" r="2.35"/><circle cx="707.1" cy="760.0" r="2.35"/><circle cx="707.2" cy="765.8" r="2.35"/><circle cx="707.3" cy="759.7" r="2.35"/><circle cx="707.6" cy="765.5" r="2.35"/><circle cx="710.4" cy="763.7" r="2.35"/><circle cx="711.4" cy="761.3" r="2.35"/><circle cx="712.2" cy="760.8" r="2.35"/><circle cx="714.9" cy="763.3" r="2.35"/><circle cx="716.1" cy="764.2" r="2.35"/><circle cx="716.6" cy="762.6" r="2.35"/><circle cx="716.6" cy="765.8" r="2.35"/><circle cx="717.7" cy="761.2" r="2.35"/><circle cx="718.1" cy="764.7" r="2.35"/><circle cx="719.2" cy="764.9" r="2.35"/><circle cx="721.2" cy="760.7" r="2.35"/><circle cx="721.3" cy="766.0" r="2.35"/><circle cx="723.3" cy="762.6" r="2.35"/><circle cx="723.7" cy="759.6" r="2.35"/><circle cx="724.0" cy="764.3" r="2.35"/><circle cx="724.1" cy="765.3" r="2.35"/><circle cx="724.2" cy="768.1" r="2.35"/><circle cx="724.5" cy="764.7" r="2.35"/><circle cx="725.2" cy="769.7" r="2.35"/><circle cx="725.5" cy="769.7" r="2.35"/><circle cx="725.5" cy="768.8" r="2.35"/><circle cx="726.3" cy="769.5" r="2.35"/><circle cx="732.1" cy="768.2" r="2.35"/><circle cx="734.3" cy="766.4" r="2.35"/><circle cx="735.2" cy="769.5" r="2.35"/><circle cx="735.9" cy="770.4" r="2.35"/><circle cx="739.6" cy="769.2" r="2.35"/><circle cx="744.4" cy="768.8" r="2.35"/><circle cx="745.0" cy="765.6" r="2.35"/><circle cx="746.6" cy="771.4" r="2.35"/><circle cx="746.6" cy="770.6" r="2.35"/><circle cx="748.1" cy="766.7" r="2.35"/><circle cx="748.4" cy="770.2" r="2.35"/><circle cx="749.6" cy="771.9" r="2.35"/><circle cx="750.5" cy="770.0" r="2.35"/><circle cx="750.6" cy="772.2" r="2.35"/><circle cx="751.1" cy="772.2" r="2.35"/><circle cx="753.1" cy="766.9" r="2.35"/><circle cx="756.0" cy="770.2" r="2.35"/><circle cx="756.0" cy="772.1" r="2.35"/><circle cx="757.0" cy="773.3" r="2.35"/><circle cx="757.5" cy="774.6" r="2.35"/><circle cx="758.2" cy="766.4" r="2.35"/><circle cx="758.3" cy="771.0" r="2.35"/><circle cx="758.4" cy="772.9" r="2.35"/><circle cx="758.5" cy="774.2" r="2.35"/><circle cx="759.3" cy="775.4" r="2.35"/><circle cx="759.4" cy="769.0" r="2.35"/><circle cx="759.6" cy="770.4" r="2.35"/><circle cx="761.0" cy="768.9" r="2.35"/><circle cx="761.2" cy="773.5" r="2.35"/><circle cx="762.1" cy="768.3" r="2.35"/><circle cx="762.2" cy="774.5" r="2.35"/><circle cx="763.4" cy="774.0" r="2.35"/><circle cx="764.3" cy="773.0" r="2.35"/><circle cx="765.1" cy="766.5" r="2.35"/><circle cx="765.3" cy="770.2" r="2.35"/><circle cx="765.6" cy="773.8" r="2.35"/><circle cx="766.1" cy="768.4" r="2.35"/><circle cx="767.4" cy="771.5" r="2.35"/><circle cx="767.6" cy="771.8" r="2.35"/><circle cx="768.0" cy="774.3" r="2.35"/><circle cx="770.6" cy="773.0" r="2.35"/><circle cx="771.6" cy="773.1" r="2.35"/><circle cx="771.6" cy="771.3" r="2.35"/><circle cx="772.4" cy="772.5" r="2.35"/><circle cx="774.0" cy="772.3" r="2.35"/><circle cx="774.7" cy="774.4" r="2.35"/><circle cx="775.4" cy="772.3" r="2.35"/><circle cx="776.2" cy="775.3" r="2.35"/><circle cx="777.7" cy="768.7" r="2.35"/><circle cx="778.2" cy="775.9" r="2.35"/><circle cx="781.1" cy="772.7" r="2.35"/><circle cx="781.3" cy="775.9" r="2.35"/><circle cx="781.4" cy="773.3" r="2.35"/><circle cx="781.7" cy="775.3" r="2.35"/><circle cx="782.7" cy="776.9" r="2.35"/><circle cx="782.8" cy="771.8" r="2.35"/><circle cx="783.4" cy="773.4" r="2.35"/><circle cx="783.7" cy="772.8" r="2.35"/><circle cx="784.7" cy="773.8" r="2.35"/><circle cx="785.2" cy="769.3" r="2.35"/><circle cx="785.2" cy="772.9" r="2.35"/><circle cx="785.6" cy="772.8" r="2.35"/><circle cx="785.8" cy="771.4" r="2.35"/><circle cx="787.1" cy="773.0" r="2.35"/><circle cx="788.6" cy="769.7" r="2.35"/><circle cx="789.0" cy="777.0" r="2.35"/><circle cx="792.1" cy="774.8" r="2.35"/><circle cx="792.4" cy="778.3" r="2.35"/><circle cx="793.0" cy="771.5" r="2.35"/><circle cx="797.2" cy="771.0" r="2.35"/><circle cx="797.5" cy="774.6" r="2.35"/><circle cx="797.9" cy="769.8" r="2.35"/><circle cx="798.6" cy="774.5" r="2.35"/><circle cx="798.8" cy="772.2" r="2.35"/><circle cx="799.6" cy="773.1" r="2.35"/><circle cx="799.8" cy="774.6" r="2.35"/><circle cx="800.4" cy="774.1" r="2.35"/><circle cx="801.6" cy="778.6" r="2.35"/><circle cx="802.2" cy="775.6" r="2.35"/><circle cx="802.2" cy="770.8" r="2.35"/><circle cx="803.8" cy="776.5" r="2.35"/><circle cx="805.4" cy="770.8" r="2.35"/><circle cx="807.7" cy="774.4" r="2.35"/><circle cx="808.0" cy="771.1" r="2.35"/><circle cx="808.2" cy="772.1" r="2.35"/><circle cx="809.6" cy="777.4" r="2.35"/><circle cx="810.7" cy="772.8" r="2.35"/><circle cx="810.8" cy="772.6" r="2.35"/><circle cx="811.4" cy="772.8" r="2.35"/><circle cx="812.4" cy="773.5" r="2.35"/><circle cx="813.4" cy="777.8" r="2.35"/><circle cx="815.1" cy="771.4" r="2.35"/><circle cx="817.8" cy="771.3" r="2.35"/></g>
<g fill="#b03d1a"><circle cx="137.9" cy="796.6" r="2.35"/><circle cx="138.6" cy="796.9" r="2.35"/><circle cx="138.6" cy="797.3" r="2.35"/><circle cx="138.9" cy="790.7" r="2.35"/><circle cx="139.1" cy="793.5" r="2.35"/><circle cx="140.2" cy="794.4" r="2.35"/><circle cx="141.2" cy="793.7" r="2.35"/><circle cx="141.7" cy="796.9" r="2.35"/><circle cx="141.8" cy="793.2" r="2.35"/><circle cx="142.5" cy="796.6" r="2.35"/><circle cx="144.7" cy="795.2" r="2.35"/><circle cx="145.2" cy="791.5" r="2.35"/><circle cx="146.3" cy="792.2" r="2.35"/><circle cx="146.6" cy="793.1" r="2.35"/><circle cx="147.2" cy="794.1" r="2.35"/><circle cx="147.6" cy="795.7" r="2.35"/><circle cx="149.8" cy="793.3" r="2.35"/><circle cx="151.1" cy="795.2" r="2.35"/><circle cx="151.2" cy="790.7" r="2.35"/><circle cx="151.7" cy="788.0" r="2.35"/><circle cx="156.0" cy="792.4" r="2.35"/><circle cx="156.1" cy="793.8" r="2.35"/><circle cx="156.3" cy="792.3" r="2.35"/><circle cx="157.3" cy="791.0" r="2.35"/><circle cx="160.0" cy="793.3" r="2.35"/><circle cx="160.1" cy="796.0" r="2.35"/><circle cx="160.3" cy="792.3" r="2.35"/><circle cx="160.6" cy="791.1" r="2.35"/><circle cx="160.9" cy="790.9" r="2.35"/><circle cx="161.7" cy="795.8" r="2.35"/><circle cx="161.7" cy="792.2" r="2.35"/><circle cx="162.5" cy="793.3" r="2.35"/><circle cx="164.0" cy="794.2" r="2.35"/><circle cx="165.5" cy="793.8" r="2.35"/><circle cx="165.8" cy="790.1" r="2.35"/><circle cx="166.4" cy="793.4" r="2.35"/><circle cx="167.3" cy="793.1" r="2.35"/><circle cx="168.1" cy="792.4" r="2.35"/><circle cx="168.8" cy="793.2" r="2.35"/><circle cx="171.1" cy="790.1" r="2.35"/><circle cx="173.0" cy="790.7" r="2.35"/><circle cx="173.9" cy="789.8" r="2.35"/><circle cx="175.0" cy="791.9" r="2.35"/><circle cx="176.4" cy="789.2" r="2.35"/><circle cx="176.4" cy="791.1" r="2.35"/><circle cx="176.4" cy="788.4" r="2.35"/><circle cx="178.1" cy="789.9" r="2.35"/><circle cx="179.3" cy="789.3" r="2.35"/><circle cx="179.5" cy="789.8" r="2.35"/><circle cx="179.9" cy="790.2" r="2.35"/><circle cx="180.3" cy="789.5" r="2.35"/><circle cx="182.6" cy="789.1" r="2.35"/><circle cx="183.2" cy="785.7" r="2.35"/><circle cx="183.9" cy="791.3" r="2.35"/><circle cx="184.3" cy="788.1" r="2.35"/><circle cx="188.1" cy="788.2" r="2.35"/><circle cx="189.4" cy="787.0" r="2.35"/><circle cx="189.5" cy="790.2" r="2.35"/><circle cx="189.7" cy="786.8" r="2.35"/><circle cx="190.1" cy="789.3" r="2.35"/><circle cx="191.6" cy="790.2" r="2.35"/><circle cx="192.1" cy="791.0" r="2.35"/><circle cx="192.5" cy="790.1" r="2.35"/><circle cx="196.2" cy="788.4" r="2.35"/><circle cx="196.5" cy="785.1" r="2.35"/><circle cx="196.7" cy="789.6" r="2.35"/><circle cx="197.1" cy="789.3" r="2.35"/><circle cx="197.3" cy="788.7" r="2.35"/><circle cx="197.9" cy="788.5" r="2.35"/><circle cx="198.2" cy="787.1" r="2.35"/><circle cx="198.3" cy="786.0" r="2.35"/><circle cx="198.7" cy="788.8" r="2.35"/><circle cx="198.8" cy="789.2" r="2.35"/><circle cx="199.0" cy="785.0" r="2.35"/><circle cx="203.1" cy="787.8" r="2.35"/><circle cx="203.2" cy="786.5" r="2.35"/><circle cx="205.5" cy="787.3" r="2.35"/><circle cx="208.0" cy="785.7" r="2.35"/><circle cx="209.4" cy="787.0" r="2.35"/><circle cx="211.4" cy="786.4" r="2.35"/><circle cx="212.5" cy="786.0" r="2.35"/><circle cx="213.9" cy="781.6" r="2.35"/><circle cx="214.2" cy="785.5" r="2.35"/><circle cx="214.3" cy="784.1" r="2.35"/><circle cx="217.0" cy="781.5" r="2.35"/><circle cx="217.6" cy="784.7" r="2.35"/><circle cx="218.3" cy="780.8" r="2.35"/><circle cx="218.4" cy="784.9" r="2.35"/><circle cx="220.0" cy="786.0" r="2.35"/><circle cx="221.3" cy="781.8" r="2.35"/><circle cx="222.1" cy="784.2" r="2.35"/><circle cx="222.3" cy="783.3" r="2.35"/><circle cx="224.4" cy="783.3" r="2.35"/><circle cx="225.1" cy="779.5" r="2.35"/><circle cx="225.2" cy="783.0" r="2.35"/><circle cx="225.3" cy="782.2" r="2.35"/><circle cx="226.2" cy="783.1" r="2.35"/><circle cx="227.9" cy="781.4" r="2.35"/><circle cx="230.4" cy="782.8" r="2.35"/><circle cx="230.7" cy="781.3" r="2.35"/><circle cx="231.6" cy="781.9" r="2.35"/><circle cx="232.0" cy="783.0" r="2.35"/><circle cx="232.7" cy="780.7" r="2.35"/><circle cx="232.8" cy="782.2" r="2.35"/><circle cx="235.9" cy="780.1" r="2.35"/><circle cx="236.1" cy="780.6" r="2.35"/><circle cx="236.7" cy="778.6" r="2.35"/><circle cx="238.5" cy="780.6" r="2.35"/><circle cx="243.4" cy="780.3" r="2.35"/><circle cx="244.7" cy="777.6" r="2.35"/><circle cx="245.1" cy="779.1" r="2.35"/><circle cx="246.4" cy="778.2" r="2.35"/><circle cx="246.7" cy="775.4" r="2.35"/><circle cx="250.0" cy="777.2" r="2.35"/><circle cx="251.6" cy="778.6" r="2.35"/><circle cx="252.1" cy="775.2" r="2.35"/><circle cx="252.8" cy="772.8" r="2.35"/><circle cx="253.1" cy="776.2" r="2.35"/><circle cx="254.4" cy="774.4" r="2.35"/><circle cx="255.1" cy="778.8" r="2.35"/><circle cx="255.9" cy="775.1" r="2.35"/><circle cx="256.7" cy="775.0" r="2.35"/><circle cx="257.1" cy="773.8" r="2.35"/><circle cx="257.7" cy="775.2" r="2.35"/><circle cx="258.0" cy="773.7" r="2.35"/><circle cx="258.1" cy="773.1" r="2.35"/><circle cx="258.9" cy="774.4" r="2.35"/><circle cx="259.1" cy="773.0" r="2.35"/><circle cx="259.4" cy="776.7" r="2.35"/><circle cx="260.3" cy="772.1" r="2.35"/><circle cx="260.5" cy="774.0" r="2.35"/><circle cx="261.3" cy="772.7" r="2.35"/><circle cx="261.8" cy="771.4" r="2.35"/><circle cx="263.2" cy="776.4" r="2.35"/><circle cx="264.2" cy="769.6" r="2.35"/><circle cx="265.9" cy="775.4" r="2.35"/><circle cx="266.7" cy="770.2" r="2.35"/><circle cx="267.5" cy="772.6" r="2.35"/><circle cx="268.0" cy="776.4" r="2.35"/><circle cx="270.4" cy="768.0" r="2.35"/><circle cx="270.7" cy="769.3" r="2.35"/><circle cx="272.2" cy="773.7" r="2.35"/><circle cx="272.3" cy="771.7" r="2.35"/><circle cx="274.5" cy="769.9" r="2.35"/><circle cx="275.6" cy="770.5" r="2.35"/><circle cx="277.0" cy="768.5" r="2.35"/><circle cx="277.4" cy="770.3" r="2.35"/><circle cx="277.6" cy="772.7" r="2.35"/><circle cx="277.9" cy="769.3" r="2.35"/><circle cx="278.4" cy="770.2" r="2.35"/><circle cx="278.5" cy="772.0" r="2.35"/><circle cx="281.6" cy="772.6" r="2.35"/><circle cx="284.1" cy="767.5" r="2.35"/><circle cx="284.3" cy="769.0" r="2.35"/><circle cx="284.7" cy="767.4" r="2.35"/><circle cx="285.7" cy="767.0" r="2.35"/><circle cx="286.0" cy="767.4" r="2.35"/><circle cx="292.3" cy="765.4" r="2.35"/><circle cx="293.2" cy="763.3" r="2.35"/><circle cx="295.6" cy="762.2" r="2.35"/><circle cx="295.8" cy="764.4" r="2.35"/><circle cx="295.9" cy="765.9" r="2.35"/><circle cx="297.3" cy="767.4" r="2.35"/><circle cx="297.9" cy="764.2" r="2.35"/><circle cx="298.5" cy="764.7" r="2.35"/><circle cx="300.7" cy="765.6" r="2.35"/><circle cx="302.8" cy="765.2" r="2.35"/><circle cx="304.7" cy="763.2" r="2.35"/><circle cx="306.6" cy="762.8" r="2.35"/><circle cx="306.8" cy="766.2" r="2.35"/><circle cx="310.6" cy="761.3" r="2.35"/><circle cx="312.8" cy="760.4" r="2.35"/><circle cx="314.1" cy="758.1" r="2.35"/><circle cx="315.8" cy="761.3" r="2.35"/><circle cx="315.9" cy="760.0" r="2.35"/><circle cx="315.9" cy="763.8" r="2.35"/><circle cx="317.3" cy="759.5" r="2.35"/><circle cx="317.4" cy="761.5" r="2.35"/><circle cx="318.5" cy="761.4" r="2.35"/><circle cx="318.5" cy="762.7" r="2.35"/><circle cx="319.6" cy="757.2" r="2.35"/><circle cx="320.0" cy="762.1" r="2.35"/><circle cx="320.4" cy="759.3" r="2.35"/><circle cx="321.1" cy="758.9" r="2.35"/><circle cx="322.2" cy="758.2" r="2.35"/><circle cx="323.9" cy="757.5" r="2.35"/><circle cx="324.0" cy="757.6" r="2.35"/><circle cx="324.1" cy="754.1" r="2.35"/><circle cx="324.2" cy="759.1" r="2.35"/><circle cx="325.6" cy="757.9" r="2.35"/><circle cx="325.8" cy="756.0" r="2.35"/><circle cx="326.3" cy="757.4" r="2.35"/><circle cx="326.4" cy="761.6" r="2.35"/><circle cx="326.9" cy="758.1" r="2.35"/><circle cx="327.8" cy="756.4" r="2.35"/><circle cx="329.4" cy="759.7" r="2.35"/><circle cx="330.2" cy="755.0" r="2.35"/><circle cx="331.2" cy="755.9" r="2.35"/><circle cx="332.7" cy="754.7" r="2.35"/><circle cx="332.9" cy="755.2" r="2.35"/><circle cx="333.2" cy="756.8" r="2.35"/><circle cx="336.7" cy="755.5" r="2.35"/><circle cx="338.4" cy="752.7" r="2.35"/><circle cx="339.0" cy="753.5" r="2.35"/><circle cx="342.1" cy="753.0" r="2.35"/><circle cx="342.4" cy="752.0" r="2.35"/><circle cx="343.2" cy="752.4" r="2.35"/><circle cx="343.9" cy="751.0" r="2.35"/><circle cx="344.5" cy="750.8" r="2.35"/><circle cx="346.3" cy="751.6" r="2.35"/><circle cx="346.6" cy="749.6" r="2.35"/><circle cx="347.3" cy="751.9" r="2.35"/><circle cx="347.9" cy="750.7" r="2.35"/><circle cx="348.6" cy="749.2" r="2.35"/><circle cx="348.7" cy="749.7" r="2.35"/><circle cx="348.8" cy="749.9" r="2.35"/><circle cx="349.2" cy="750.3" r="2.35"/><circle cx="349.4" cy="750.7" r="2.35"/><circle cx="349.4" cy="750.2" r="2.35"/><circle cx="351.4" cy="748.4" r="2.35"/><circle cx="351.5" cy="752.4" r="2.35"/><circle cx="352.2" cy="751.2" r="2.35"/><circle cx="354.2" cy="749.2" r="2.35"/><circle cx="354.4" cy="750.6" r="2.35"/><circle cx="355.4" cy="749.2" r="2.35"/><circle cx="355.4" cy="748.2" r="2.35"/><circle cx="355.6" cy="748.7" r="2.35"/><circle cx="356.2" cy="753.1" r="2.35"/><circle cx="358.3" cy="749.5" r="2.35"/><circle cx="359.3" cy="749.2" r="2.35"/><circle cx="360.0" cy="746.5" r="2.35"/><circle cx="360.4" cy="748.1" r="2.35"/><circle cx="363.4" cy="750.1" r="2.35"/><circle cx="363.4" cy="746.9" r="2.35"/><circle cx="365.1" cy="747.5" r="2.35"/><circle cx="365.7" cy="747.6" r="2.35"/><circle cx="367.8" cy="745.9" r="2.35"/><circle cx="370.2" cy="746.8" r="2.35"/><circle cx="370.6" cy="744.3" r="2.35"/><circle cx="371.2" cy="744.6" r="2.35"/><circle cx="371.3" cy="742.6" r="2.35"/><circle cx="371.8" cy="748.1" r="2.35"/><circle cx="374.6" cy="743.2" r="2.35"/><circle cx="376.7" cy="742.2" r="2.35"/><circle cx="377.8" cy="744.1" r="2.35"/><circle cx="379.6" cy="740.3" r="2.35"/><circle cx="380.5" cy="740.8" r="2.35"/><circle cx="381.0" cy="739.3" r="2.35"/><circle cx="382.1" cy="740.4" r="2.35"/><circle cx="382.6" cy="739.5" r="2.35"/><circle cx="386.9" cy="739.7" r="2.35"/><circle cx="387.5" cy="738.4" r="2.35"/><circle cx="387.6" cy="737.5" r="2.35"/><circle cx="388.0" cy="737.9" r="2.35"/><circle cx="388.4" cy="738.1" r="2.35"/><circle cx="389.5" cy="737.1" r="2.35"/><circle cx="389.5" cy="739.6" r="2.35"/><circle cx="391.5" cy="738.5" r="2.35"/><circle cx="393.4" cy="736.9" r="2.35"/><circle cx="393.7" cy="734.5" r="2.35"/><circle cx="394.3" cy="737.3" r="2.35"/><circle cx="396.0" cy="733.6" r="2.35"/><circle cx="396.1" cy="736.1" r="2.35"/><circle cx="396.2" cy="735.8" r="2.35"/><circle cx="397.0" cy="734.4" r="2.35"/><circle cx="397.1" cy="734.0" r="2.35"/><circle cx="397.3" cy="734.2" r="2.35"/><circle cx="397.6" cy="738.8" r="2.35"/><circle cx="397.7" cy="734.8" r="2.35"/><circle cx="399.2" cy="734.4" r="2.35"/><circle cx="399.8" cy="736.2" r="2.35"/><circle cx="403.3" cy="734.1" r="2.35"/><circle cx="404.7" cy="734.7" r="2.35"/><circle cx="404.7" cy="730.7" r="2.35"/><circle cx="404.8" cy="730.9" r="2.35"/><circle cx="405.2" cy="738.5" r="2.35"/><circle cx="407.2" cy="731.9" r="2.35"/><circle cx="408.6" cy="731.0" r="2.35"/><circle cx="409.8" cy="731.3" r="2.35"/><circle cx="410.6" cy="732.4" r="2.35"/><circle cx="410.6" cy="728.6" r="2.35"/><circle cx="412.2" cy="730.6" r="2.35"/><circle cx="414.1" cy="729.3" r="2.35"/><circle cx="417.5" cy="729.2" r="2.35"/><circle cx="417.8" cy="728.2" r="2.35"/><circle cx="417.8" cy="727.0" r="2.35"/><circle cx="418.3" cy="726.1" r="2.35"/><circle cx="418.3" cy="723.4" r="2.35"/><circle cx="418.7" cy="729.2" r="2.35"/><circle cx="420.9" cy="723.6" r="2.35"/><circle cx="421.8" cy="724.8" r="2.35"/><circle cx="422.3" cy="728.0" r="2.35"/><circle cx="422.7" cy="724.0" r="2.35"/><circle cx="424.2" cy="724.4" r="2.35"/><circle cx="424.7" cy="722.5" r="2.35"/><circle cx="425.1" cy="723.7" r="2.35"/><circle cx="427.0" cy="720.6" r="2.35"/><circle cx="427.2" cy="719.4" r="2.35"/><circle cx="427.8" cy="722.1" r="2.35"/><circle cx="428.9" cy="718.2" r="2.35"/><circle cx="428.9" cy="716.4" r="2.35"/><circle cx="432.0" cy="714.6" r="2.35"/><circle cx="433.8" cy="713.7" r="2.35"/><circle cx="434.2" cy="710.2" r="2.35"/><circle cx="434.2" cy="713.5" r="2.35"/><circle cx="434.7" cy="712.6" r="2.35"/><circle cx="438.6" cy="707.0" r="2.35"/><circle cx="438.6" cy="702.1" r="2.35"/><circle cx="438.8" cy="704.1" r="2.35"/><circle cx="442.0" cy="693.4" r="2.35"/><circle cx="442.0" cy="695.5" r="2.35"/><circle cx="443.4" cy="694.4" r="2.35"/><circle cx="445.1" cy="694.8" r="2.35"/><circle cx="445.7" cy="694.5" r="2.35"/><circle cx="446.4" cy="695.1" r="2.35"/><circle cx="446.8" cy="694.7" r="2.35"/><circle cx="446.8" cy="695.0" r="2.35"/><circle cx="448.1" cy="697.7" r="2.35"/><circle cx="448.3" cy="698.4" r="2.35"/><circle cx="449.8" cy="700.2" r="2.35"/><circle cx="450.8" cy="702.1" r="2.35"/><circle cx="453.0" cy="705.8" r="2.35"/><circle cx="453.3" cy="701.2" r="2.35"/><circle cx="453.5" cy="703.7" r="2.35"/><circle cx="453.8" cy="704.9" r="2.35"/><circle cx="454.6" cy="705.8" r="2.35"/><circle cx="455.7" cy="711.1" r="2.35"/><circle cx="455.7" cy="710.6" r="2.35"/><circle cx="456.3" cy="710.5" r="2.35"/><circle cx="456.5" cy="711.3" r="2.35"/><circle cx="457.9" cy="716.2" r="2.35"/><circle cx="458.8" cy="715.2" r="2.35"/><circle cx="459.3" cy="716.3" r="2.35"/><circle cx="459.6" cy="718.9" r="2.35"/><circle cx="460.5" cy="719.7" r="2.35"/><circle cx="461.3" cy="722.4" r="2.35"/><circle cx="461.9" cy="721.4" r="2.35"/><circle cx="462.9" cy="723.3" r="2.35"/><circle cx="463.0" cy="721.2" r="2.35"/><circle cx="464.3" cy="722.0" r="2.35"/><circle cx="467.2" cy="725.8" r="2.35"/><circle cx="468.6" cy="722.0" r="2.35"/><circle cx="469.9" cy="727.9" r="2.35"/><circle cx="470.3" cy="729.1" r="2.35"/><circle cx="472.5" cy="728.4" r="2.35"/><circle cx="472.5" cy="727.9" r="2.35"/><circle cx="474.6" cy="730.9" r="2.35"/><circle cx="477.3" cy="729.7" r="2.35"/><circle cx="478.9" cy="731.9" r="2.35"/><circle cx="479.0" cy="734.0" r="2.35"/><circle cx="479.3" cy="731.5" r="2.35"/><circle cx="480.0" cy="732.1" r="2.35"/><circle cx="480.2" cy="731.4" r="2.35"/><circle cx="482.1" cy="731.4" r="2.35"/><circle cx="483.3" cy="731.7" r="2.35"/><circle cx="483.6" cy="731.4" r="2.35"/><circle cx="483.7" cy="733.2" r="2.35"/><circle cx="483.8" cy="728.5" r="2.35"/><circle cx="484.5" cy="731.0" r="2.35"/><circle cx="484.6" cy="732.6" r="2.35"/><circle cx="485.1" cy="730.1" r="2.35"/><circle cx="486.8" cy="731.8" r="2.35"/><circle cx="487.1" cy="730.8" r="2.35"/><circle cx="487.7" cy="732.9" r="2.35"/><circle cx="489.9" cy="734.1" r="2.35"/><circle cx="490.1" cy="735.1" r="2.35"/><circle cx="490.8" cy="733.6" r="2.35"/><circle cx="492.9" cy="731.9" r="2.35"/><circle cx="493.6" cy="733.8" r="2.35"/><circle cx="493.7" cy="734.3" r="2.35"/><circle cx="493.7" cy="735.8" r="2.35"/><circle cx="496.3" cy="730.2" r="2.35"/><circle cx="496.4" cy="734.6" r="2.35"/><circle cx="497.9" cy="731.1" r="2.35"/><circle cx="497.9" cy="735.5" r="2.35"/><circle cx="498.3" cy="735.1" r="2.35"/><circle cx="498.6" cy="735.3" r="2.35"/><circle cx="499.5" cy="736.1" r="2.35"/><circle cx="501.3" cy="735.6" r="2.35"/><circle cx="501.7" cy="733.9" r="2.35"/><circle cx="501.9" cy="735.6" r="2.35"/><circle cx="503.2" cy="737.4" r="2.35"/><circle cx="503.8" cy="735.2" r="2.35"/><circle cx="504.0" cy="735.5" r="2.35"/><circle cx="504.2" cy="733.4" r="2.35"/><circle cx="504.4" cy="737.5" r="2.35"/><circle cx="505.5" cy="734.9" r="2.35"/><circle cx="508.0" cy="735.0" r="2.35"/><circle cx="508.2" cy="735.5" r="2.35"/><circle cx="511.3" cy="735.4" r="2.35"/><circle cx="511.6" cy="736.5" r="2.35"/><circle cx="515.2" cy="739.9" r="2.35"/><circle cx="515.2" cy="739.1" r="2.35"/><circle cx="517.1" cy="740.6" r="2.35"/><circle cx="517.5" cy="740.8" r="2.35"/><circle cx="518.2" cy="736.9" r="2.35"/><circle cx="518.4" cy="739.3" r="2.35"/><circle cx="518.6" cy="741.1" r="2.35"/><circle cx="519.4" cy="742.7" r="2.35"/><circle cx="519.7" cy="736.4" r="2.35"/><circle cx="522.0" cy="737.1" r="2.35"/><circle cx="526.6" cy="741.8" r="2.35"/><circle cx="526.8" cy="740.5" r="2.35"/><circle cx="527.8" cy="739.7" r="2.35"/><circle cx="528.2" cy="742.2" r="2.35"/><circle cx="531.5" cy="741.2" r="2.35"/><circle cx="532.4" cy="739.0" r="2.35"/><circle cx="533.1" cy="743.1" r="2.35"/><circle cx="533.4" cy="743.4" r="2.35"/><circle cx="534.8" cy="744.7" r="2.35"/><circle cx="535.2" cy="745.4" r="2.35"/><circle cx="536.0" cy="744.3" r="2.35"/><circle cx="536.9" cy="743.9" r="2.35"/><circle cx="537.1" cy="743.2" r="2.35"/><circle cx="539.2" cy="742.2" r="2.35"/><circle cx="539.8" cy="744.4" r="2.35"/><circle cx="540.2" cy="747.0" r="2.35"/><circle cx="541.2" cy="746.7" r="2.35"/><circle cx="541.4" cy="749.2" r="2.35"/><circle cx="542.5" cy="745.7" r="2.35"/><circle cx="543.3" cy="743.2" r="2.35"/><circle cx="545.1" cy="748.2" r="2.35"/><circle cx="545.3" cy="748.6" r="2.35"/><circle cx="548.0" cy="745.6" r="2.35"/><circle cx="548.7" cy="745.1" r="2.35"/><circle cx="548.9" cy="748.2" r="2.35"/><circle cx="549.1" cy="749.2" r="2.35"/><circle cx="549.9" cy="746.3" r="2.35"/><circle cx="551.0" cy="748.0" r="2.35"/><circle cx="552.2" cy="747.6" r="2.35"/><circle cx="553.0" cy="747.1" r="2.35"/><circle cx="554.0" cy="747.2" r="2.35"/><circle cx="554.1" cy="749.7" r="2.35"/><circle cx="554.8" cy="749.0" r="2.35"/><circle cx="557.4" cy="749.3" r="2.35"/><circle cx="562.9" cy="747.5" r="2.35"/><circle cx="564.1" cy="755.4" r="2.35"/><circle cx="566.5" cy="751.4" r="2.35"/><circle cx="566.6" cy="752.8" r="2.35"/><circle cx="570.4" cy="752.2" r="2.35"/><circle cx="570.5" cy="754.8" r="2.35"/><circle cx="571.0" cy="751.7" r="2.35"/><circle cx="573.2" cy="755.1" r="2.35"/><circle cx="573.6" cy="754.7" r="2.35"/><circle cx="575.3" cy="757.1" r="2.35"/><circle cx="575.3" cy="753.6" r="2.35"/><circle cx="576.1" cy="754.6" r="2.35"/><circle cx="578.0" cy="755.9" r="2.35"/><circle cx="578.8" cy="760.1" r="2.35"/><circle cx="579.1" cy="754.0" r="2.35"/><circle cx="580.1" cy="757.3" r="2.35"/><circle cx="581.9" cy="756.2" r="2.35"/><circle cx="582.9" cy="758.1" r="2.35"/><circle cx="583.3" cy="758.8" r="2.35"/><circle cx="585.7" cy="758.6" r="2.35"/><circle cx="586.3" cy="759.0" r="2.35"/><circle cx="587.0" cy="759.2" r="2.35"/><circle cx="587.2" cy="757.7" r="2.35"/><circle cx="587.6" cy="758.5" r="2.35"/><circle cx="588.9" cy="756.4" r="2.35"/><circle cx="590.2" cy="759.0" r="2.35"/><circle cx="590.5" cy="758.3" r="2.35"/><circle cx="591.7" cy="759.5" r="2.35"/><circle cx="592.2" cy="761.3" r="2.35"/><circle cx="595.2" cy="761.5" r="2.35"/><circle cx="595.3" cy="761.7" r="2.35"/><circle cx="599.2" cy="763.8" r="2.35"/><circle cx="599.5" cy="757.9" r="2.35"/><circle cx="600.3" cy="762.9" r="2.35"/><circle cx="600.8" cy="762.2" r="2.35"/><circle cx="600.8" cy="762.1" r="2.35"/><circle cx="601.5" cy="760.2" r="2.35"/><circle cx="602.9" cy="763.8" r="2.35"/><circle cx="602.9" cy="764.8" r="2.35"/><circle cx="604.2" cy="764.9" r="2.35"/><circle cx="606.6" cy="763.6" r="2.35"/><circle cx="606.9" cy="764.9" r="2.35"/><circle cx="607.8" cy="765.6" r="2.35"/><circle cx="610.7" cy="767.8" r="2.35"/><circle cx="611.3" cy="767.0" r="2.35"/><circle cx="611.5" cy="765.2" r="2.35"/><circle cx="612.5" cy="765.3" r="2.35"/><circle cx="613.2" cy="765.6" r="2.35"/><circle cx="613.3" cy="765.8" r="2.35"/><circle cx="613.8" cy="764.6" r="2.35"/><circle cx="613.8" cy="766.8" r="2.35"/><circle cx="614.0" cy="764.3" r="2.35"/><circle cx="614.1" cy="764.2" r="2.35"/><circle cx="614.8" cy="766.3" r="2.35"/><circle cx="615.5" cy="764.9" r="2.35"/><circle cx="615.7" cy="765.5" r="2.35"/><circle cx="617.1" cy="762.7" r="2.35"/><circle cx="617.5" cy="767.7" r="2.35"/><circle cx="617.5" cy="766.3" r="2.35"/><circle cx="618.0" cy="766.3" r="2.35"/><circle cx="618.4" cy="767.4" r="2.35"/><circle cx="619.0" cy="767.1" r="2.35"/><circle cx="619.9" cy="765.7" r="2.35"/><circle cx="621.7" cy="770.8" r="2.35"/><circle cx="622.0" cy="766.6" r="2.35"/><circle cx="622.4" cy="769.2" r="2.35"/><circle cx="622.9" cy="770.8" r="2.35"/><circle cx="624.9" cy="767.0" r="2.35"/><circle cx="627.1" cy="768.8" r="2.35"/><circle cx="627.8" cy="767.4" r="2.35"/><circle cx="629.5" cy="771.0" r="2.35"/><circle cx="631.8" cy="769.1" r="2.35"/><circle cx="632.9" cy="768.1" r="2.35"/><circle cx="633.5" cy="772.4" r="2.35"/><circle cx="639.9" cy="773.2" r="2.35"/><circle cx="640.0" cy="770.1" r="2.35"/><circle cx="640.1" cy="773.7" r="2.35"/><circle cx="641.7" cy="772.4" r="2.35"/><circle cx="642.7" cy="776.9" r="2.35"/><circle cx="643.1" cy="775.3" r="2.35"/><circle cx="643.7" cy="771.5" r="2.35"/><circle cx="645.0" cy="772.3" r="2.35"/><circle cx="645.0" cy="771.3" r="2.35"/><circle cx="645.9" cy="773.2" r="2.35"/><circle cx="646.3" cy="773.2" r="2.35"/><circle cx="646.8" cy="774.5" r="2.35"/><circle cx="647.7" cy="773.6" r="2.35"/><circle cx="647.9" cy="770.9" r="2.35"/><circle cx="648.2" cy="772.1" r="2.35"/><circle cx="649.8" cy="776.3" r="2.35"/><circle cx="650.4" cy="776.0" r="2.35"/><circle cx="651.2" cy="774.0" r="2.35"/><circle cx="654.0" cy="774.7" r="2.35"/><circle cx="654.1" cy="774.6" r="2.35"/><circle cx="656.2" cy="775.4" r="2.35"/><circle cx="656.6" cy="772.6" r="2.35"/><circle cx="657.3" cy="777.2" r="2.35"/><circle cx="658.3" cy="774.7" r="2.35"/><circle cx="660.2" cy="776.6" r="2.35"/><circle cx="660.2" cy="772.0" r="2.35"/><circle cx="661.4" cy="777.0" r="2.35"/><circle cx="663.3" cy="779.3" r="2.35"/><circle cx="663.9" cy="773.3" r="2.35"/><circle cx="665.6" cy="780.1" r="2.35"/><circle cx="665.6" cy="778.3" r="2.35"/><circle cx="668.2" cy="776.8" r="2.35"/><circle cx="668.9" cy="775.5" r="2.35"/><circle cx="669.3" cy="780.3" r="2.35"/><circle cx="669.3" cy="778.7" r="2.35"/><circle cx="669.9" cy="779.4" r="2.35"/><circle cx="670.4" cy="778.0" r="2.35"/><circle cx="670.9" cy="777.2" r="2.35"/><circle cx="671.7" cy="780.2" r="2.35"/><circle cx="672.9" cy="777.3" r="2.35"/><circle cx="673.0" cy="780.5" r="2.35"/><circle cx="674.4" cy="776.4" r="2.35"/><circle cx="677.1" cy="778.1" r="2.35"/><circle cx="677.7" cy="777.3" r="2.35"/><circle cx="678.0" cy="782.1" r="2.35"/><circle cx="678.9" cy="777.0" r="2.35"/><circle cx="678.9" cy="778.1" r="2.35"/><circle cx="680.2" cy="781.4" r="2.35"/><circle cx="680.5" cy="780.7" r="2.35"/><circle cx="680.6" cy="784.1" r="2.35"/><circle cx="681.2" cy="783.6" r="2.35"/><circle cx="681.8" cy="781.6" r="2.35"/><circle cx="684.5" cy="782.1" r="2.35"/><circle cx="684.7" cy="777.8" r="2.35"/><circle cx="684.9" cy="779.5" r="2.35"/><circle cx="685.5" cy="780.5" r="2.35"/><circle cx="685.6" cy="780.8" r="2.35"/><circle cx="686.4" cy="778.9" r="2.35"/><circle cx="687.3" cy="779.8" r="2.35"/><circle cx="687.6" cy="780.0" r="2.35"/><circle cx="688.8" cy="783.4" r="2.35"/><circle cx="689.4" cy="782.4" r="2.35"/><circle cx="690.2" cy="781.3" r="2.35"/><circle cx="694.4" cy="782.0" r="2.35"/><circle cx="696.3" cy="783.2" r="2.35"/><circle cx="696.5" cy="781.6" r="2.35"/><circle cx="697.3" cy="782.4" r="2.35"/><circle cx="698.1" cy="780.0" r="2.35"/><circle cx="698.2" cy="784.1" r="2.35"/><circle cx="698.4" cy="784.7" r="2.35"/><circle cx="698.5" cy="783.6" r="2.35"/><circle cx="701.6" cy="784.3" r="2.35"/><circle cx="704.0" cy="784.4" r="2.35"/><circle cx="704.5" cy="787.3" r="2.35"/><circle cx="704.5" cy="784.2" r="2.35"/><circle cx="705.7" cy="781.7" r="2.35"/><circle cx="707.8" cy="782.4" r="2.35"/><circle cx="708.1" cy="785.5" r="2.35"/><circle cx="710.4" cy="786.4" r="2.35"/><circle cx="711.7" cy="786.0" r="2.35"/><circle cx="712.4" cy="786.2" r="2.35"/><circle cx="714.3" cy="785.3" r="2.35"/><circle cx="715.0" cy="782.5" r="2.35"/><circle cx="717.7" cy="784.2" r="2.35"/><circle cx="719.7" cy="782.5" r="2.35"/><circle cx="719.7" cy="784.9" r="2.35"/><circle cx="719.9" cy="783.3" r="2.35"/><circle cx="720.2" cy="785.8" r="2.35"/><circle cx="720.4" cy="785.4" r="2.35"/><circle cx="721.1" cy="782.4" r="2.35"/><circle cx="721.8" cy="787.1" r="2.35"/><circle cx="722.1" cy="787.2" r="2.35"/><circle cx="722.3" cy="783.5" r="2.35"/><circle cx="724.3" cy="786.4" r="2.35"/><circle cx="724.7" cy="787.4" r="2.35"/><circle cx="727.5" cy="786.0" r="2.35"/><circle cx="730.5" cy="788.3" r="2.35"/><circle cx="731.6" cy="787.3" r="2.35"/><circle cx="731.8" cy="788.8" r="2.35"/><circle cx="733.8" cy="787.5" r="2.35"/><circle cx="734.2" cy="786.9" r="2.35"/><circle cx="734.3" cy="788.1" r="2.35"/><circle cx="734.5" cy="788.6" r="2.35"/><circle cx="735.6" cy="787.8" r="2.35"/><circle cx="735.9" cy="786.6" r="2.35"/><circle cx="737.5" cy="786.2" r="2.35"/><circle cx="738.3" cy="787.0" r="2.35"/><circle cx="740.5" cy="786.8" r="2.35"/><circle cx="741.9" cy="788.3" r="2.35"/><circle cx="742.2" cy="788.3" r="2.35"/><circle cx="743.6" cy="787.9" r="2.35"/><circle cx="744.7" cy="788.2" r="2.35"/><circle cx="744.7" cy="788.5" r="2.35"/><circle cx="746.1" cy="791.0" r="2.35"/><circle cx="748.2" cy="790.5" r="2.35"/><circle cx="748.5" cy="787.5" r="2.35"/><circle cx="748.9" cy="789.2" r="2.35"/><circle cx="750.6" cy="788.1" r="2.35"/><circle cx="751.3" cy="788.5" r="2.35"/><circle cx="751.6" cy="788.3" r="2.35"/><circle cx="752.4" cy="787.7" r="2.35"/><circle cx="752.5" cy="786.4" r="2.35"/><circle cx="753.9" cy="784.6" r="2.35"/><circle cx="754.3" cy="789.2" r="2.35"/><circle cx="757.1" cy="791.1" r="2.35"/><circle cx="757.2" cy="787.5" r="2.35"/><circle cx="758.0" cy="790.0" r="2.35"/><circle cx="758.5" cy="788.5" r="2.35"/><circle cx="759.0" cy="789.6" r="2.35"/><circle cx="759.1" cy="787.8" r="2.35"/><circle cx="759.2" cy="788.8" r="2.35"/><circle cx="761.7" cy="789.1" r="2.35"/><circle cx="762.0" cy="785.2" r="2.35"/><circle cx="762.2" cy="789.7" r="2.35"/><circle cx="765.2" cy="789.3" r="2.35"/><circle cx="766.8" cy="785.3" r="2.35"/><circle cx="767.1" cy="790.7" r="2.35"/><circle cx="768.4" cy="789.6" r="2.35"/><circle cx="770.0" cy="790.1" r="2.35"/><circle cx="770.0" cy="790.4" r="2.35"/><circle cx="776.2" cy="789.3" r="2.35"/><circle cx="776.3" cy="788.2" r="2.35"/><circle cx="776.4" cy="789.3" r="2.35"/><circle cx="779.6" cy="789.4" r="2.35"/><circle cx="779.6" cy="794.0" r="2.35"/><circle cx="780.4" cy="793.4" r="2.35"/><circle cx="780.6" cy="789.4" r="2.35"/><circle cx="781.8" cy="789.6" r="2.35"/><circle cx="783.1" cy="790.9" r="2.35"/><circle cx="783.4" cy="791.3" r="2.35"/><circle cx="784.0" cy="789.2" r="2.35"/><circle cx="786.1" cy="788.7" r="2.35"/><circle cx="786.1" cy="793.8" r="2.35"/><circle cx="786.3" cy="792.3" r="2.35"/><circle cx="788.1" cy="787.8" r="2.35"/><circle cx="788.5" cy="787.5" r="2.35"/><circle cx="791.0" cy="789.2" r="2.35"/><circle cx="791.2" cy="791.0" r="2.35"/><circle cx="791.5" cy="791.6" r="2.35"/><circle cx="792.0" cy="790.1" r="2.35"/><circle cx="792.2" cy="787.9" r="2.35"/><circle cx="793.8" cy="791.2" r="2.35"/><circle cx="795.6" cy="791.9" r="2.35"/><circle cx="797.6" cy="790.9" r="2.35"/><circle cx="797.7" cy="790.1" r="2.35"/><circle cx="799.1" cy="792.0" r="2.35"/><circle cx="800.5" cy="790.9" r="2.35"/><circle cx="801.5" cy="789.1" r="2.35"/><circle cx="801.5" cy="791.2" r="2.35"/><circle cx="801.7" cy="788.8" r="2.35"/><circle cx="801.7" cy="792.8" r="2.35"/><circle cx="802.0" cy="791.9" r="2.35"/><circle cx="802.7" cy="789.4" r="2.35"/><circle cx="804.0" cy="791.5" r="2.35"/><circle cx="804.3" cy="793.4" r="2.35"/><circle cx="804.5" cy="787.4" r="2.35"/><circle cx="804.6" cy="790.9" r="2.35"/><circle cx="804.8" cy="794.1" r="2.35"/><circle cx="805.0" cy="788.5" r="2.35"/><circle cx="805.3" cy="790.9" r="2.35"/><circle cx="805.9" cy="788.7" r="2.35"/><circle cx="807.2" cy="791.2" r="2.35"/><circle cx="807.4" cy="787.1" r="2.35"/><circle cx="807.9" cy="788.5" r="2.35"/><circle cx="808.4" cy="790.4" r="2.35"/><circle cx="808.9" cy="791.6" r="2.35"/><circle cx="811.2" cy="792.1" r="2.35"/><circle cx="815.6" cy="792.3" r="2.35"/><circle cx="816.1" cy="793.6" r="2.35"/><circle cx="817.2" cy="792.8" r="2.35"/><circle cx="818.4" cy="792.9" r="2.35"/></g>
<g fill="#3357a9"><circle cx="138.4" cy="800.5" r="2.35"/><circle cx="138.6" cy="801.8" r="2.35"/><circle cx="139.7" cy="804.1" r="2.35"/><circle cx="140.3" cy="803.2" r="2.35"/><circle cx="142.4" cy="803.5" r="2.35"/><circle cx="142.4" cy="803.3" r="2.35"/><circle cx="143.0" cy="802.9" r="2.35"/><circle cx="144.1" cy="803.7" r="2.35"/><circle cx="145.2" cy="801.0" r="2.35"/><circle cx="146.3" cy="802.0" r="2.35"/><circle cx="147.5" cy="803.5" r="2.35"/><circle cx="148.1" cy="801.5" r="2.35"/><circle cx="151.9" cy="801.8" r="2.35"/><circle cx="152.8" cy="803.9" r="2.35"/><circle cx="155.3" cy="804.1" r="2.35"/><circle cx="157.1" cy="801.5" r="2.35"/><circle cx="157.1" cy="801.3" r="2.35"/><circle cx="157.3" cy="803.0" r="2.35"/><circle cx="158.0" cy="802.6" r="2.35"/><circle cx="158.6" cy="801.4" r="2.35"/><circle cx="158.8" cy="803.0" r="2.35"/><circle cx="159.0" cy="802.9" r="2.35"/><circle cx="161.2" cy="802.3" r="2.35"/><circle cx="163.0" cy="804.1" r="2.35"/><circle cx="163.9" cy="803.9" r="2.35"/><circle cx="163.9" cy="803.2" r="2.35"/><circle cx="164.5" cy="803.4" r="2.35"/><circle cx="165.6" cy="804.1" r="2.35"/><circle cx="166.6" cy="803.4" r="2.35"/><circle cx="167.0" cy="801.1" r="2.35"/><circle cx="167.6" cy="802.4" r="2.35"/><circle cx="170.2" cy="802.0" r="2.35"/><circle cx="170.4" cy="801.2" r="2.35"/><circle cx="170.8" cy="802.3" r="2.35"/><circle cx="171.3" cy="802.2" r="2.35"/><circle cx="172.5" cy="801.8" r="2.35"/><circle cx="175.7" cy="801.2" r="2.35"/><circle cx="175.9" cy="802.8" r="2.35"/><circle cx="176.0" cy="799.7" r="2.35"/><circle cx="176.2" cy="802.8" r="2.35"/><circle cx="176.2" cy="801.8" r="2.35"/><circle cx="176.3" cy="802.1" r="2.35"/><circle cx="177.5" cy="798.7" r="2.35"/><circle cx="177.7" cy="803.8" r="2.35"/><circle cx="179.5" cy="799.4" r="2.35"/><circle cx="180.1" cy="800.5" r="2.35"/><circle cx="180.8" cy="802.4" r="2.35"/><circle cx="182.1" cy="800.8" r="2.35"/><circle cx="182.6" cy="801.0" r="2.35"/><circle cx="183.7" cy="798.7" r="2.35"/><circle cx="184.1" cy="800.9" r="2.35"/><circle cx="184.1" cy="801.8" r="2.35"/><circle cx="184.3" cy="802.3" r="2.35"/><circle cx="185.3" cy="801.1" r="2.35"/><circle cx="186.0" cy="801.7" r="2.35"/><circle cx="187.5" cy="801.9" r="2.35"/><circle cx="188.0" cy="800.5" r="2.35"/><circle cx="188.0" cy="800.4" r="2.35"/><circle cx="190.0" cy="803.8" r="2.35"/><circle cx="190.7" cy="800.2" r="2.35"/><circle cx="191.6" cy="802.8" r="2.35"/><circle cx="191.7" cy="801.3" r="2.35"/><circle cx="192.6" cy="803.0" r="2.35"/><circle cx="194.3" cy="800.3" r="2.35"/><circle cx="194.3" cy="801.8" r="2.35"/><circle cx="196.0" cy="801.5" r="2.35"/><circle cx="196.2" cy="800.7" r="2.35"/><circle cx="196.6" cy="801.4" r="2.35"/><circle cx="197.9" cy="800.0" r="2.35"/><circle cx="199.1" cy="800.8" r="2.35"/><circle cx="200.0" cy="800.4" r="2.35"/><circle cx="203.5" cy="801.7" r="2.35"/><circle cx="203.7" cy="800.6" r="2.35"/><circle cx="204.8" cy="798.9" r="2.35"/><circle cx="207.6" cy="800.1" r="2.35"/><circle cx="207.9" cy="800.4" r="2.35"/><circle cx="210.2" cy="799.2" r="2.35"/><circle cx="210.3" cy="802.1" r="2.35"/><circle cx="214.1" cy="800.7" r="2.35"/><circle cx="215.0" cy="801.2" r="2.35"/><circle cx="215.8" cy="799.0" r="2.35"/><circle cx="216.0" cy="799.5" r="2.35"/><circle cx="216.1" cy="801.3" r="2.35"/><circle cx="216.8" cy="798.1" r="2.35"/><circle cx="217.4" cy="800.4" r="2.35"/><circle cx="217.9" cy="800.0" r="2.35"/><circle cx="218.3" cy="799.2" r="2.35"/><circle cx="220.3" cy="799.8" r="2.35"/><circle cx="220.7" cy="798.3" r="2.35"/><circle cx="220.8" cy="799.9" r="2.35"/><circle cx="222.9" cy="797.9" r="2.35"/><circle cx="223.4" cy="797.8" r="2.35"/><circle cx="225.5" cy="801.1" r="2.35"/><circle cx="226.7" cy="798.3" r="2.35"/><circle cx="227.3" cy="796.4" r="2.35"/><circle cx="227.7" cy="800.3" r="2.35"/><circle cx="228.0" cy="798.1" r="2.35"/><circle cx="228.1" cy="794.6" r="2.35"/><circle cx="229.1" cy="798.9" r="2.35"/><circle cx="230.0" cy="800.1" r="2.35"/><circle cx="230.3" cy="799.3" r="2.35"/><circle cx="230.7" cy="801.0" r="2.35"/><circle cx="230.7" cy="798.7" r="2.35"/><circle cx="230.8" cy="799.6" r="2.35"/><circle cx="231.9" cy="797.4" r="2.35"/><circle cx="232.0" cy="798.9" r="2.35"/><circle cx="235.7" cy="800.3" r="2.35"/><circle cx="236.1" cy="799.0" r="2.35"/><circle cx="236.6" cy="798.5" r="2.35"/><circle cx="241.8" cy="795.3" r="2.35"/><circle cx="242.1" cy="797.3" r="2.35"/><circle cx="245.9" cy="795.8" r="2.35"/><circle cx="246.7" cy="798.3" r="2.35"/><circle cx="248.5" cy="796.2" r="2.35"/><circle cx="248.6" cy="797.6" r="2.35"/><circle cx="248.8" cy="795.9" r="2.35"/><circle cx="250.3" cy="799.4" r="2.35"/><circle cx="253.1" cy="795.2" r="2.35"/><circle cx="253.4" cy="796.9" r="2.35"/><circle cx="255.2" cy="799.9" r="2.35"/><circle cx="257.6" cy="796.6" r="2.35"/><circle cx="259.9" cy="795.0" r="2.35"/><circle cx="260.6" cy="796.8" r="2.35"/><circle cx="261.4" cy="797.2" r="2.35"/><circle cx="261.5" cy="797.0" r="2.35"/><circle cx="262.2" cy="793.3" r="2.35"/><circle cx="263.1" cy="796.1" r="2.35"/><circle cx="263.8" cy="793.0" r="2.35"/><circle cx="265.0" cy="798.0" r="2.35"/><circle cx="266.2" cy="795.6" r="2.35"/><circle cx="267.1" cy="794.8" r="2.35"/><circle cx="267.2" cy="796.3" r="2.35"/><circle cx="270.2" cy="795.8" r="2.35"/><circle cx="272.9" cy="793.4" r="2.35"/><circle cx="274.2" cy="796.9" r="2.35"/><circle cx="276.4" cy="794.3" r="2.35"/><circle cx="276.7" cy="792.4" r="2.35"/><circle cx="277.3" cy="796.4" r="2.35"/><circle cx="278.6" cy="796.4" r="2.35"/><circle cx="279.5" cy="796.0" r="2.35"/><circle cx="280.6" cy="795.0" r="2.35"/><circle cx="281.5" cy="793.1" r="2.35"/><circle cx="283.0" cy="795.3" r="2.35"/><circle cx="283.2" cy="796.5" r="2.35"/><circle cx="283.9" cy="795.1" r="2.35"/><circle cx="285.1" cy="796.0" r="2.35"/><circle cx="287.9" cy="792.7" r="2.35"/><circle cx="291.4" cy="794.7" r="2.35"/><circle cx="292.0" cy="794.6" r="2.35"/><circle cx="292.4" cy="791.4" r="2.35"/><circle cx="293.1" cy="791.2" r="2.35"/><circle cx="294.2" cy="792.3" r="2.35"/><circle cx="295.2" cy="793.2" r="2.35"/><circle cx="295.6" cy="793.7" r="2.35"/><circle cx="295.9" cy="792.8" r="2.35"/><circle cx="297.8" cy="792.8" r="2.35"/><circle cx="298.5" cy="792.7" r="2.35"/><circle cx="299.7" cy="792.9" r="2.35"/><circle cx="301.0" cy="793.4" r="2.35"/><circle cx="301.8" cy="793.2" r="2.35"/><circle cx="302.3" cy="792.5" r="2.35"/><circle cx="302.9" cy="792.8" r="2.35"/><circle cx="306.4" cy="791.6" r="2.35"/><circle cx="307.5" cy="793.1" r="2.35"/><circle cx="311.8" cy="791.1" r="2.35"/><circle cx="313.4" cy="793.7" r="2.35"/><circle cx="313.8" cy="791.6" r="2.35"/><circle cx="314.6" cy="791.9" r="2.35"/><circle cx="314.7" cy="790.5" r="2.35"/><circle cx="314.7" cy="791.1" r="2.35"/><circle cx="315.2" cy="791.7" r="2.35"/><circle cx="316.0" cy="791.4" r="2.35"/><circle cx="317.1" cy="790.5" r="2.35"/><circle cx="318.5" cy="789.7" r="2.35"/><circle cx="319.6" cy="791.2" r="2.35"/><circle cx="320.0" cy="791.3" r="2.35"/><circle cx="320.1" cy="791.8" r="2.35"/><circle cx="321.3" cy="792.6" r="2.35"/><circle cx="324.5" cy="790.3" r="2.35"/><circle cx="325.7" cy="788.0" r="2.35"/><circle cx="326.3" cy="790.4" r="2.35"/><circle cx="326.5" cy="788.1" r="2.35"/><circle cx="326.7" cy="788.9" r="2.35"/><circle cx="327.4" cy="791.8" r="2.35"/><circle cx="331.0" cy="790.9" r="2.35"/><circle cx="331.2" cy="789.3" r="2.35"/><circle cx="332.1" cy="789.2" r="2.35"/><circle cx="335.7" cy="789.6" r="2.35"/><circle cx="336.4" cy="787.4" r="2.35"/><circle cx="337.5" cy="790.2" r="2.35"/><circle cx="340.0" cy="788.9" r="2.35"/><circle cx="340.8" cy="791.7" r="2.35"/><circle cx="340.8" cy="787.9" r="2.35"/><circle cx="341.0" cy="790.6" r="2.35"/><circle cx="343.2" cy="788.2" r="2.35"/><circle cx="343.7" cy="790.3" r="2.35"/><circle cx="345.1" cy="787.6" r="2.35"/><circle cx="345.2" cy="789.8" r="2.35"/><circle cx="347.4" cy="788.1" r="2.35"/><circle cx="348.4" cy="787.5" r="2.35"/><circle cx="348.5" cy="788.4" r="2.35"/><circle cx="349.3" cy="789.1" r="2.35"/><circle cx="349.8" cy="789.0" r="2.35"/><circle cx="350.2" cy="790.4" r="2.35"/><circle cx="350.9" cy="789.4" r="2.35"/><circle cx="351.0" cy="784.9" r="2.35"/><circle cx="351.1" cy="787.8" r="2.35"/><circle cx="352.5" cy="785.6" r="2.35"/><circle cx="354.2" cy="787.5" r="2.35"/><circle cx="354.7" cy="788.7" r="2.35"/><circle cx="354.7" cy="786.2" r="2.35"/><circle cx="355.8" cy="786.3" r="2.35"/><circle cx="357.7" cy="787.8" r="2.35"/><circle cx="362.4" cy="786.8" r="2.35"/><circle cx="364.1" cy="789.0" r="2.35"/><circle cx="365.7" cy="787.2" r="2.35"/><circle cx="367.3" cy="787.3" r="2.35"/><circle cx="367.3" cy="788.9" r="2.35"/><circle cx="367.7" cy="785.9" r="2.35"/><circle cx="369.0" cy="786.5" r="2.35"/><circle cx="369.2" cy="785.2" r="2.35"/><circle cx="369.2" cy="786.8" r="2.35"/><circle cx="369.8" cy="787.7" r="2.35"/><circle cx="370.4" cy="788.1" r="2.35"/><circle cx="371.0" cy="786.2" r="2.35"/><circle cx="371.7" cy="785.3" r="2.35"/><circle cx="372.1" cy="785.1" r="2.35"/><circle cx="373.2" cy="784.2" r="2.35"/><circle cx="375.7" cy="785.9" r="2.35"/><circle cx="377.2" cy="787.4" r="2.35"/><circle cx="377.3" cy="782.5" r="2.35"/><circle cx="377.4" cy="782.8" r="2.35"/><circle cx="378.2" cy="787.3" r="2.35"/><circle cx="380.4" cy="783.2" r="2.35"/><circle cx="382.6" cy="785.5" r="2.35"/><circle cx="382.9" cy="783.4" r="2.35"/><circle cx="383.0" cy="786.1" r="2.35"/><circle cx="384.6" cy="785.9" r="2.35"/><circle cx="385.3" cy="785.1" r="2.35"/><circle cx="385.6" cy="785.9" r="2.35"/><circle cx="387.2" cy="784.8" r="2.35"/><circle cx="387.2" cy="785.4" r="2.35"/><circle cx="387.3" cy="787.1" r="2.35"/><circle cx="387.4" cy="786.1" r="2.35"/><circle cx="388.1" cy="783.8" r="2.35"/><circle cx="389.6" cy="783.5" r="2.35"/><circle cx="390.1" cy="784.1" r="2.35"/><circle cx="390.7" cy="784.1" r="2.35"/><circle cx="391.3" cy="784.5" r="2.35"/><circle cx="392.5" cy="783.5" r="2.35"/><circle cx="392.8" cy="785.1" r="2.35"/><circle cx="396.2" cy="784.1" r="2.35"/><circle cx="396.4" cy="784.5" r="2.35"/><circle cx="398.0" cy="783.9" r="2.35"/><circle cx="399.9" cy="784.6" r="2.35"/><circle cx="400.6" cy="782.2" r="2.35"/><circle cx="400.9" cy="785.8" r="2.35"/><circle cx="401.6" cy="784.2" r="2.35"/><circle cx="402.3" cy="784.3" r="2.35"/><circle cx="402.9" cy="784.4" r="2.35"/><circle cx="403.0" cy="785.0" r="2.35"/><circle cx="405.0" cy="784.5" r="2.35"/><circle cx="406.1" cy="783.8" r="2.35"/><circle cx="406.6" cy="783.2" r="2.35"/><circle cx="408.0" cy="781.3" r="2.35"/><circle cx="408.3" cy="783.7" r="2.35"/><circle cx="408.8" cy="783.0" r="2.35"/><circle cx="409.1" cy="783.0" r="2.35"/><circle cx="409.3" cy="786.5" r="2.35"/><circle cx="410.0" cy="780.9" r="2.35"/><circle cx="410.4" cy="783.4" r="2.35"/><circle cx="411.0" cy="784.8" r="2.35"/><circle cx="411.5" cy="784.5" r="2.35"/><circle cx="412.5" cy="784.8" r="2.35"/><circle cx="414.2" cy="781.4" r="2.35"/><circle cx="415.4" cy="781.7" r="2.35"/><circle cx="417.4" cy="783.6" r="2.35"/><circle cx="418.7" cy="782.3" r="2.35"/><circle cx="419.0" cy="784.9" r="2.35"/><circle cx="419.4" cy="783.0" r="2.35"/><circle cx="419.8" cy="782.9" r="2.35"/><circle cx="422.0" cy="782.9" r="2.35"/><circle cx="422.6" cy="781.9" r="2.35"/><circle cx="423.9" cy="782.1" r="2.35"/><circle cx="424.3" cy="781.0" r="2.35"/><circle cx="425.4" cy="781.6" r="2.35"/><circle cx="426.4" cy="780.7" r="2.35"/><circle cx="426.9" cy="781.5" r="2.35"/><circle cx="431.5" cy="778.0" r="2.35"/><circle cx="433.6" cy="777.2" r="2.35"/><circle cx="435.4" cy="779.2" r="2.35"/><circle cx="435.7" cy="778.8" r="2.35"/><circle cx="436.8" cy="777.0" r="2.35"/><circle cx="437.8" cy="777.6" r="2.35"/><circle cx="438.2" cy="776.4" r="2.35"/><circle cx="439.1" cy="780.2" r="2.35"/><circle cx="439.7" cy="775.3" r="2.35"/><circle cx="442.9" cy="778.2" r="2.35"/><circle cx="444.7" cy="773.9" r="2.35"/><circle cx="445.5" cy="774.9" r="2.35"/><circle cx="446.7" cy="772.7" r="2.35"/><circle cx="448.8" cy="770.2" r="2.35"/><circle cx="450.0" cy="770.3" r="2.35"/><circle cx="450.0" cy="770.1" r="2.35"/><circle cx="450.4" cy="768.1" r="2.35"/><circle cx="450.5" cy="767.2" r="2.35"/><circle cx="451.1" cy="770.3" r="2.35"/><circle cx="452.3" cy="767.7" r="2.35"/><circle cx="454.1" cy="763.5" r="2.35"/><circle cx="455.9" cy="760.4" r="2.35"/><circle cx="456.2" cy="760.7" r="2.35"/><circle cx="457.2" cy="759.2" r="2.35"/><circle cx="461.3" cy="757.4" r="2.35"/><circle cx="461.4" cy="754.6" r="2.35"/><circle cx="462.3" cy="756.6" r="2.35"/><circle cx="462.5" cy="755.7" r="2.35"/><circle cx="467.8" cy="763.3" r="2.35"/><circle cx="470.5" cy="767.3" r="2.35"/><circle cx="470.8" cy="765.3" r="2.35"/><circle cx="471.1" cy="766.4" r="2.35"/><circle cx="471.7" cy="768.4" r="2.35"/><circle cx="472.0" cy="766.5" r="2.35"/><circle cx="472.1" cy="765.9" r="2.35"/><circle cx="473.3" cy="769.9" r="2.35"/><circle cx="474.1" cy="770.0" r="2.35"/><circle cx="474.7" cy="769.7" r="2.35"/><circle cx="474.9" cy="772.0" r="2.35"/><circle cx="475.3" cy="770.9" r="2.35"/><circle cx="476.0" cy="769.0" r="2.35"/><circle cx="476.6" cy="772.5" r="2.35"/><circle cx="477.5" cy="772.8" r="2.35"/><circle cx="479.8" cy="777.2" r="2.35"/><circle cx="480.1" cy="774.9" r="2.35"/><circle cx="481.1" cy="775.2" r="2.35"/><circle cx="481.5" cy="776.2" r="2.35"/><circle cx="483.3" cy="776.7" r="2.35"/><circle cx="485.0" cy="775.2" r="2.35"/><circle cx="485.5" cy="777.3" r="2.35"/><circle cx="485.5" cy="776.7" r="2.35"/><circle cx="485.8" cy="779.1" r="2.35"/><circle cx="487.5" cy="780.9" r="2.35"/><circle cx="488.0" cy="776.4" r="2.35"/><circle cx="489.0" cy="776.9" r="2.35"/><circle cx="489.1" cy="777.1" r="2.35"/><circle cx="489.7" cy="777.4" r="2.35"/><circle cx="489.7" cy="777.4" r="2.35"/><circle cx="490.0" cy="778.4" r="2.35"/><circle cx="490.0" cy="779.8" r="2.35"/><circle cx="490.2" cy="776.7" r="2.35"/><circle cx="491.4" cy="776.7" r="2.35"/><circle cx="491.9" cy="776.4" r="2.35"/><circle cx="493.7" cy="780.6" r="2.35"/><circle cx="493.9" cy="780.9" r="2.35"/><circle cx="494.1" cy="777.2" r="2.35"/><circle cx="495.1" cy="777.3" r="2.35"/><circle cx="498.7" cy="780.2" r="2.35"/><circle cx="500.5" cy="781.7" r="2.35"/><circle cx="501.0" cy="781.7" r="2.35"/><circle cx="502.1" cy="780.8" r="2.35"/><circle cx="502.1" cy="781.4" r="2.35"/><circle cx="502.6" cy="781.0" r="2.35"/><circle cx="502.7" cy="779.9" r="2.35"/><circle cx="504.4" cy="783.3" r="2.35"/><circle cx="504.5" cy="780.9" r="2.35"/><circle cx="504.7" cy="779.5" r="2.35"/><circle cx="505.3" cy="780.4" r="2.35"/><circle cx="506.2" cy="779.1" r="2.35"/><circle cx="506.8" cy="781.2" r="2.35"/><circle cx="510.9" cy="783.1" r="2.35"/><circle cx="511.0" cy="780.0" r="2.35"/><circle cx="513.6" cy="783.4" r="2.35"/><circle cx="514.6" cy="784.8" r="2.35"/><circle cx="516.7" cy="782.8" r="2.35"/><circle cx="517.4" cy="780.9" r="2.35"/><circle cx="520.2" cy="781.6" r="2.35"/><circle cx="520.4" cy="782.3" r="2.35"/><circle cx="520.5" cy="781.0" r="2.35"/><circle cx="521.0" cy="781.1" r="2.35"/><circle cx="521.9" cy="782.5" r="2.35"/><circle cx="522.1" cy="782.6" r="2.35"/><circle cx="522.3" cy="783.7" r="2.35"/><circle cx="523.5" cy="781.5" r="2.35"/><circle cx="523.9" cy="785.5" r="2.35"/><circle cx="524.1" cy="784.5" r="2.35"/><circle cx="524.8" cy="784.3" r="2.35"/><circle cx="524.9" cy="782.3" r="2.35"/><circle cx="525.2" cy="785.5" r="2.35"/><circle cx="525.3" cy="782.8" r="2.35"/><circle cx="525.9" cy="785.6" r="2.35"/><circle cx="527.7" cy="784.8" r="2.35"/><circle cx="528.2" cy="782.3" r="2.35"/><circle cx="528.5" cy="782.9" r="2.35"/><circle cx="528.8" cy="786.0" r="2.35"/><circle cx="531.0" cy="785.1" r="2.35"/><circle cx="531.5" cy="783.6" r="2.35"/><circle cx="531.9" cy="784.1" r="2.35"/><circle cx="532.7" cy="784.2" r="2.35"/><circle cx="533.2" cy="783.0" r="2.35"/><circle cx="533.4" cy="783.7" r="2.35"/><circle cx="535.8" cy="783.3" r="2.35"/><circle cx="536.1" cy="783.7" r="2.35"/><circle cx="539.0" cy="785.1" r="2.35"/><circle cx="540.2" cy="783.3" r="2.35"/><circle cx="540.5" cy="785.6" r="2.35"/><circle cx="542.4" cy="784.9" r="2.35"/><circle cx="543.4" cy="785.9" r="2.35"/><circle cx="544.1" cy="786.1" r="2.35"/><circle cx="544.4" cy="786.6" r="2.35"/><circle cx="544.7" cy="785.8" r="2.35"/><circle cx="545.7" cy="786.0" r="2.35"/><circle cx="546.9" cy="784.9" r="2.35"/><circle cx="547.0" cy="785.9" r="2.35"/><circle cx="547.5" cy="784.0" r="2.35"/><circle cx="548.4" cy="785.0" r="2.35"/><circle cx="548.5" cy="786.3" r="2.35"/><circle cx="549.2" cy="785.3" r="2.35"/><circle cx="549.5" cy="786.0" r="2.35"/><circle cx="550.3" cy="784.1" r="2.35"/><circle cx="550.4" cy="787.2" r="2.35"/><circle cx="552.0" cy="784.8" r="2.35"/><circle cx="553.2" cy="786.2" r="2.35"/><circle cx="553.3" cy="785.7" r="2.35"/><circle cx="559.1" cy="787.4" r="2.35"/><circle cx="559.2" cy="785.7" r="2.35"/><circle cx="560.4" cy="785.1" r="2.35"/><circle cx="561.5" cy="784.0" r="2.35"/><circle cx="561.6" cy="786.1" r="2.35"/><circle cx="566.4" cy="785.4" r="2.35"/><circle cx="568.2" cy="787.8" r="2.35"/><circle cx="569.1" cy="789.1" r="2.35"/><circle cx="570.3" cy="784.4" r="2.35"/><circle cx="570.5" cy="785.7" r="2.35"/><circle cx="571.0" cy="787.8" r="2.35"/><circle cx="571.2" cy="789.0" r="2.35"/><circle cx="571.6" cy="787.9" r="2.35"/><circle cx="571.7" cy="787.9" r="2.35"/><circle cx="572.1" cy="788.2" r="2.35"/><circle cx="572.1" cy="788.3" r="2.35"/><circle cx="573.3" cy="789.8" r="2.35"/><circle cx="574.6" cy="788.6" r="2.35"/><circle cx="575.1" cy="786.2" r="2.35"/><circle cx="577.8" cy="787.5" r="2.35"/><circle cx="579.1" cy="788.5" r="2.35"/><circle cx="580.2" cy="787.3" r="2.35"/><circle cx="580.3" cy="788.1" r="2.35"/><circle cx="580.7" cy="787.8" r="2.35"/><circle cx="582.1" cy="787.7" r="2.35"/><circle cx="582.3" cy="789.5" r="2.35"/><circle cx="584.7" cy="788.4" r="2.35"/><circle cx="586.1" cy="787.6" r="2.35"/><circle cx="586.6" cy="788.1" r="2.35"/><circle cx="586.8" cy="789.1" r="2.35"/><circle cx="586.9" cy="791.9" r="2.35"/><circle cx="586.9" cy="789.4" r="2.35"/><circle cx="587.0" cy="791.1" r="2.35"/><circle cx="587.1" cy="789.8" r="2.35"/><circle cx="590.5" cy="786.7" r="2.35"/><circle cx="590.5" cy="790.0" r="2.35"/><circle cx="591.0" cy="788.4" r="2.35"/><circle cx="591.7" cy="787.8" r="2.35"/><circle cx="592.1" cy="788.2" r="2.35"/><circle cx="592.8" cy="792.0" r="2.35"/><circle cx="595.7" cy="787.9" r="2.35"/><circle cx="596.8" cy="789.2" r="2.35"/><circle cx="601.2" cy="791.9" r="2.35"/><circle cx="602.1" cy="791.4" r="2.35"/><circle cx="604.9" cy="788.5" r="2.35"/><circle cx="605.2" cy="790.6" r="2.35"/><circle cx="606.1" cy="790.1" r="2.35"/><circle cx="607.8" cy="790.7" r="2.35"/><circle cx="609.5" cy="792.0" r="2.35"/><circle cx="610.7" cy="790.4" r="2.35"/><circle cx="611.0" cy="790.8" r="2.35"/><circle cx="612.0" cy="793.2" r="2.35"/><circle cx="614.6" cy="789.0" r="2.35"/><circle cx="614.9" cy="791.0" r="2.35"/><circle cx="615.1" cy="792.1" r="2.35"/><circle cx="616.0" cy="789.9" r="2.35"/><circle cx="618.3" cy="790.9" r="2.35"/><circle cx="618.8" cy="790.0" r="2.35"/><circle cx="619.0" cy="792.0" r="2.35"/><circle cx="619.9" cy="791.0" r="2.35"/><circle cx="620.4" cy="792.9" r="2.35"/><circle cx="620.6" cy="793.2" r="2.35"/><circle cx="621.4" cy="792.0" r="2.35"/><circle cx="621.7" cy="791.4" r="2.35"/><circle cx="622.8" cy="792.4" r="2.35"/><circle cx="623.3" cy="792.1" r="2.35"/><circle cx="623.4" cy="790.5" r="2.35"/><circle cx="623.5" cy="793.5" r="2.35"/><circle cx="624.6" cy="792.4" r="2.35"/><circle cx="624.6" cy="793.2" r="2.35"/><circle cx="626.3" cy="790.5" r="2.35"/><circle cx="627.2" cy="793.5" r="2.35"/><circle cx="627.9" cy="795.1" r="2.35"/><circle cx="629.5" cy="793.3" r="2.35"/><circle cx="629.8" cy="790.6" r="2.35"/><circle cx="630.4" cy="792.6" r="2.35"/><circle cx="630.6" cy="792.5" r="2.35"/><circle cx="632.1" cy="792.9" r="2.35"/><circle cx="633.5" cy="792.4" r="2.35"/><circle cx="634.5" cy="793.5" r="2.35"/><circle cx="640.3" cy="792.6" r="2.35"/><circle cx="640.5" cy="793.5" r="2.35"/><circle cx="640.5" cy="792.3" r="2.35"/><circle cx="645.2" cy="793.6" r="2.35"/><circle cx="645.9" cy="794.8" r="2.35"/><circle cx="646.8" cy="792.9" r="2.35"/><circle cx="646.9" cy="794.4" r="2.35"/><circle cx="649.0" cy="792.5" r="2.35"/><circle cx="649.9" cy="793.2" r="2.35"/><circle cx="651.2" cy="793.4" r="2.35"/><circle cx="651.2" cy="795.4" r="2.35"/><circle cx="651.5" cy="792.8" r="2.35"/><circle cx="652.1" cy="795.4" r="2.35"/><circle cx="656.0" cy="792.1" r="2.35"/><circle cx="658.0" cy="793.9" r="2.35"/><circle cx="658.4" cy="795.3" r="2.35"/><circle cx="658.8" cy="795.1" r="2.35"/><circle cx="659.0" cy="792.8" r="2.35"/><circle cx="659.2" cy="792.6" r="2.35"/><circle cx="659.9" cy="795.3" r="2.35"/><circle cx="660.0" cy="792.5" r="2.35"/><circle cx="660.5" cy="795.0" r="2.35"/><circle cx="661.6" cy="793.6" r="2.35"/><circle cx="662.8" cy="794.3" r="2.35"/><circle cx="663.6" cy="797.4" r="2.35"/><circle cx="664.1" cy="796.4" r="2.35"/><circle cx="664.4" cy="795.5" r="2.35"/><circle cx="664.9" cy="792.6" r="2.35"/><circle cx="665.2" cy="794.9" r="2.35"/><circle cx="666.5" cy="794.6" r="2.35"/><circle cx="668.1" cy="794.4" r="2.35"/><circle cx="668.1" cy="796.3" r="2.35"/><circle cx="668.3" cy="792.3" r="2.35"/><circle cx="668.5" cy="795.0" r="2.35"/><circle cx="670.5" cy="794.8" r="2.35"/><circle cx="671.1" cy="793.7" r="2.35"/><circle cx="672.4" cy="797.0" r="2.35"/><circle cx="675.7" cy="793.2" r="2.35"/><circle cx="678.5" cy="795.1" r="2.35"/><circle cx="683.7" cy="795.3" r="2.35"/><circle cx="683.9" cy="792.3" r="2.35"/><circle cx="684.0" cy="793.4" r="2.35"/><circle cx="684.0" cy="794.0" r="2.35"/><circle cx="685.9" cy="796.3" r="2.35"/><circle cx="685.9" cy="796.5" r="2.35"/><circle cx="686.2" cy="796.1" r="2.35"/><circle cx="687.8" cy="795.7" r="2.35"/><circle cx="688.4" cy="792.5" r="2.35"/><circle cx="688.5" cy="795.7" r="2.35"/><circle cx="688.8" cy="794.7" r="2.35"/><circle cx="689.2" cy="797.0" r="2.35"/><circle cx="690.3" cy="797.2" r="2.35"/><circle cx="690.8" cy="798.4" r="2.35"/><circle cx="690.9" cy="796.4" r="2.35"/><circle cx="692.7" cy="796.6" r="2.35"/><circle cx="692.8" cy="794.2" r="2.35"/><circle cx="695.2" cy="795.7" r="2.35"/><circle cx="695.3" cy="794.0" r="2.35"/><circle cx="696.9" cy="796.9" r="2.35"/><circle cx="698.2" cy="794.2" r="2.35"/><circle cx="698.8" cy="795.5" r="2.35"/><circle cx="701.6" cy="794.8" r="2.35"/><circle cx="702.8" cy="795.3" r="2.35"/><circle cx="702.8" cy="796.5" r="2.35"/><circle cx="703.6" cy="795.2" r="2.35"/><circle cx="703.8" cy="796.2" r="2.35"/><circle cx="704.3" cy="794.6" r="2.35"/><circle cx="704.9" cy="797.8" r="2.35"/><circle cx="706.1" cy="795.2" r="2.35"/><circle cx="707.8" cy="797.4" r="2.35"/><circle cx="709.0" cy="798.9" r="2.35"/><circle cx="711.6" cy="793.0" r="2.35"/><circle cx="712.0" cy="794.9" r="2.35"/><circle cx="713.7" cy="796.0" r="2.35"/><circle cx="714.2" cy="797.8" r="2.35"/><circle cx="715.7" cy="795.7" r="2.35"/><circle cx="716.7" cy="796.8" r="2.35"/><circle cx="718.2" cy="795.4" r="2.35"/><circle cx="718.3" cy="797.1" r="2.35"/><circle cx="719.4" cy="794.8" r="2.35"/><circle cx="720.8" cy="797.6" r="2.35"/><circle cx="721.4" cy="792.5" r="2.35"/><circle cx="721.6" cy="794.0" r="2.35"/><circle cx="723.5" cy="798.9" r="2.35"/><circle cx="724.2" cy="796.8" r="2.35"/><circle cx="725.1" cy="795.4" r="2.35"/><circle cx="725.5" cy="799.5" r="2.35"/><circle cx="725.5" cy="798.0" r="2.35"/><circle cx="725.8" cy="798.1" r="2.35"/><circle cx="726.7" cy="796.1" r="2.35"/><circle cx="728.5" cy="797.5" r="2.35"/><circle cx="728.9" cy="797.4" r="2.35"/><circle cx="729.8" cy="794.6" r="2.35"/><circle cx="731.8" cy="797.6" r="2.35"/><circle cx="732.2" cy="796.6" r="2.35"/><circle cx="733.1" cy="798.6" r="2.35"/><circle cx="733.6" cy="798.6" r="2.35"/><circle cx="734.8" cy="796.1" r="2.35"/><circle cx="737.1" cy="796.2" r="2.35"/><circle cx="737.3" cy="797.3" r="2.35"/><circle cx="737.4" cy="797.9" r="2.35"/><circle cx="738.2" cy="796.5" r="2.35"/><circle cx="739.3" cy="796.9" r="2.35"/><circle cx="739.7" cy="797.9" r="2.35"/><circle cx="739.8" cy="797.6" r="2.35"/><circle cx="740.2" cy="798.6" r="2.35"/><circle cx="741.2" cy="797.4" r="2.35"/><circle cx="741.4" cy="795.9" r="2.35"/><circle cx="743.0" cy="794.8" r="2.35"/><circle cx="743.2" cy="798.3" r="2.35"/><circle cx="744.3" cy="796.8" r="2.35"/><circle cx="744.5" cy="796.8" r="2.35"/><circle cx="745.2" cy="796.9" r="2.35"/><circle cx="746.5" cy="795.2" r="2.35"/><circle cx="748.4" cy="796.8" r="2.35"/><circle cx="749.4" cy="793.9" r="2.35"/><circle cx="751.8" cy="796.9" r="2.35"/><circle cx="752.0" cy="796.3" r="2.35"/><circle cx="752.9" cy="799.9" r="2.35"/><circle cx="753.4" cy="798.1" r="2.35"/><circle cx="755.0" cy="797.3" r="2.35"/><circle cx="755.1" cy="797.8" r="2.35"/><circle cx="756.7" cy="798.6" r="2.35"/><circle cx="756.7" cy="796.6" r="2.35"/><circle cx="757.0" cy="797.3" r="2.35"/><circle cx="757.1" cy="797.2" r="2.35"/><circle cx="757.5" cy="800.9" r="2.35"/><circle cx="757.6" cy="797.7" r="2.35"/><circle cx="758.9" cy="795.1" r="2.35"/><circle cx="759.6" cy="798.8" r="2.35"/><circle cx="760.6" cy="801.2" r="2.35"/><circle cx="761.4" cy="796.5" r="2.35"/><circle cx="762.4" cy="802.4" r="2.35"/><circle cx="762.7" cy="797.7" r="2.35"/><circle cx="762.7" cy="799.1" r="2.35"/><circle cx="763.0" cy="797.1" r="2.35"/><circle cx="764.0" cy="797.5" r="2.35"/><circle cx="765.0" cy="796.2" r="2.35"/><circle cx="765.1" cy="796.5" r="2.35"/><circle cx="766.2" cy="795.1" r="2.35"/><circle cx="767.1" cy="799.5" r="2.35"/><circle cx="769.4" cy="796.5" r="2.35"/><circle cx="770.0" cy="798.5" r="2.35"/><circle cx="770.3" cy="798.5" r="2.35"/><circle cx="770.6" cy="797.2" r="2.35"/><circle cx="770.7" cy="798.1" r="2.35"/><circle cx="771.1" cy="797.9" r="2.35"/><circle cx="771.2" cy="797.4" r="2.35"/><circle cx="771.3" cy="798.1" r="2.35"/><circle cx="771.7" cy="798.1" r="2.35"/><circle cx="772.8" cy="796.7" r="2.35"/><circle cx="773.4" cy="796.4" r="2.35"/><circle cx="775.1" cy="797.0" r="2.35"/><circle cx="775.2" cy="798.3" r="2.35"/><circle cx="775.8" cy="800.0" r="2.35"/><circle cx="775.9" cy="800.2" r="2.35"/><circle cx="776.9" cy="798.7" r="2.35"/><circle cx="777.3" cy="799.5" r="2.35"/><circle cx="778.4" cy="798.4" r="2.35"/><circle cx="778.5" cy="799.8" r="2.35"/><circle cx="778.6" cy="798.5" r="2.35"/><circle cx="778.8" cy="798.8" r="2.35"/><circle cx="778.9" cy="797.9" r="2.35"/><circle cx="779.5" cy="798.3" r="2.35"/><circle cx="780.4" cy="800.9" r="2.35"/><circle cx="780.7" cy="796.7" r="2.35"/><circle cx="780.8" cy="798.3" r="2.35"/><circle cx="781.7" cy="797.6" r="2.35"/><circle cx="783.1" cy="799.7" r="2.35"/><circle cx="783.6" cy="800.9" r="2.35"/><circle cx="783.9" cy="798.0" r="2.35"/><circle cx="784.1" cy="794.7" r="2.35"/><circle cx="784.5" cy="799.3" r="2.35"/><circle cx="784.7" cy="799.3" r="2.35"/><circle cx="786.0" cy="796.2" r="2.35"/><circle cx="787.5" cy="798.2" r="2.35"/><circle cx="788.8" cy="798.5" r="2.35"/><circle cx="789.2" cy="795.5" r="2.35"/><circle cx="789.8" cy="799.5" r="2.35"/><circle cx="790.0" cy="799.2" r="2.35"/><circle cx="796.7" cy="799.1" r="2.35"/><circle cx="797.9" cy="797.4" r="2.35"/><circle cx="798.5" cy="797.9" r="2.35"/><circle cx="799.5" cy="798.0" r="2.35"/><circle cx="800.5" cy="799.5" r="2.35"/><circle cx="801.3" cy="797.6" r="2.35"/><circle cx="801.3" cy="800.9" r="2.35"/><circle cx="801.4" cy="799.4" r="2.35"/><circle cx="807.0" cy="796.1" r="2.35"/><circle cx="807.7" cy="801.4" r="2.35"/><circle cx="809.6" cy="799.4" r="2.35"/><circle cx="812.6" cy="798.5" r="2.35"/><circle cx="813.2" cy="799.4" r="2.35"/><circle cx="814.9" cy="796.8" r="2.35"/><circle cx="816.4" cy="799.6" r="2.35"/><circle cx="816.9" cy="796.0" r="2.35"/><circle cx="817.2" cy="798.0" r="2.35"/><circle cx="817.5" cy="801.2" r="2.35"/></g>
<path d="M135.0,767.2 L135.8,767.1 L136.5,766.9 L137.3,766.7 L138.0,766.5 L138.8,766.4 L139.6,766.2 L140.3,766.0 L141.1,765.8 L141.8,765.6 L142.6,765.4 L143.4,765.3 L144.1,765.1 L144.9,764.9 L145.6,764.7 L146.4,764.5 L147.2,764.3 L147.9,764.1 L148.7,763.9 L149.4,763.7 L150.2,763.5 L151.0,763.3 L151.7,763.1 L152.5,762.9 L153.2,762.7 L154.0,762.5 L154.8,762.3 L155.5,762.1 L156.3,761.9 L157.0,761.7 L157.8,761.5 L158.6,761.2 L159.3,761.0 L160.1,760.8 L160.8,760.6 L161.6,760.4 L162.4,760.2 L163.1,760.0 L163.9,759.7 L164.7,759.5 L165.4,759.3 L166.2,759.1 L166.9,758.8 L167.7,758.6 L168.5,758.4 L169.2,758.1 L170.0,757.9 L170.7,757.7 L171.5,757.4 L172.3,757.2 L173.0,756.9 L173.8,756.7 L174.5,756.4 L175.3,756.1 L176.1,755.9 L176.8,755.6 L177.6,755.3 L178.3,755.0 L179.1,754.8 L179.9,754.5 L180.6,754.2 L181.4,753.9 L182.1,753.6 L182.9,753.2 L183.7,752.9 L184.4,752.6 L185.2,752.3 L185.9,751.9 L186.7,751.6 L187.5,751.3 L188.2,750.9 L189.0,750.6 L189.7,750.2 L190.5,749.9 L191.3,749.5 L192.0,749.1 L192.8,748.8 L193.5,748.4 L194.3,748.0 L195.1,747.7 L195.8,747.3 L196.6,746.9 L197.3,746.6 L198.1,746.2 L198.9,745.8 L199.6,745.4 L200.4,745.1 L201.1,744.7 L201.9,744.3 L202.7,743.9 L203.4,743.5 L204.2,743.1 L204.9,742.7 L205.7,742.3 L206.5,741.9 L207.2,741.5 L208.0,741.1 L208.7,740.7 L209.5,740.3 L210.3,739.9 L211.0,739.5 L211.8,739.1 L212.5,738.6 L213.3,738.2 L214.1,737.8 L214.8,737.4 L215.6,736.9 L216.4,736.5 L217.1,736.1 L217.9,735.6 L218.6,735.2 L219.4,734.7 L220.2,734.3 L220.9,733.8 L221.7,733.4 L222.4,733.0 L223.2,732.5 L224.0,732.0 L224.7,731.6 L225.5,731.1 L226.2,730.7 L227.0,730.2 L227.8,729.7 L228.5,729.3 L229.3,728.8 L230.0,728.3 L230.8,727.9 L231.6,727.4 L232.3,726.9 L233.1,726.4 L233.8,725.9 L234.6,725.4 L235.4,725.0 L236.1,724.5 L236.9,724.0 L237.6,723.5 L238.4,723.0 L239.2,722.5 L239.9,722.0 L240.7,721.5 L241.4,720.9 L242.2,720.4 L243.0,719.9 L243.7,719.4 L244.5,718.9 L245.2,718.4 L246.0,717.8 L246.8,717.3 L247.5,716.8 L248.3,716.3 L249.0,715.7 L249.8,715.2 L250.6,714.7 L251.3,714.1 L252.1,713.6 L252.8,713.1 L253.6,712.5 L254.4,712.0 L255.1,711.5 L255.9,710.9 L256.6,710.4 L257.4,709.8 L258.2,709.3 L258.9,708.7 L259.7,708.2 L260.4,707.6 L261.2,707.0 L262.0,706.5 L262.7,705.9 L263.5,705.3 L264.2,704.7 L265.0,704.2 L265.8,703.6 L266.5,703.0 L267.3,702.4 L268.1,701.8 L268.8,701.1 L269.6,700.5 L270.3,699.9 L271.1,699.3 L271.9,698.6 L272.6,698.0 L273.4,697.3 L274.1,696.6 L274.9,695.9 L275.7,695.2 L276.4,694.5 L277.2,693.8 L277.9,693.1 L278.7,692.4 L279.5,691.7 L280.2,690.9 L281.0,690.2 L281.7,689.4 L282.5,688.7 L283.3,687.9 L284.0,687.2 L284.8,686.4 L285.5,685.6 L286.3,684.9 L287.1,684.1 L287.8,683.4 L288.6,682.6 L289.3,681.8 L290.1,681.1 L290.9,680.3 L291.6,679.6 L292.4,678.8 L293.1,678.1 L293.9,677.4 L294.7,676.6 L295.4,675.9 L296.2,675.2 L296.9,674.5 L297.7,673.7 L298.5,673.0 L299.2,672.3 L300.0,671.6 L300.7,670.9 L301.5,670.2 L302.3,669.4 L303.0,668.7 L303.8,668.0 L304.5,667.3 L305.3,666.6 L306.1,665.9 L306.8,665.2 L307.6,664.4 L308.3,663.7 L309.1,663.0 L309.9,662.3 L310.6,661.6 L311.4,660.9 L312.1,660.2 L312.9,659.5 L313.7,658.7 L314.4,658.0 L315.2,657.3 L315.9,656.6 L316.7,655.9 L317.5,655.2 L318.2,654.5 L319.0,653.7 L319.8,653.0 L320.5,652.3 L321.3,651.6 L322.0,650.9 L322.8,650.1 L323.6,649.4 L324.3,648.7 L325.1,648.0 L325.8,647.2 L326.6,646.5 L327.4,645.8 L328.1,645.1 L328.9,644.4 L329.6,643.6 L330.4,642.9 L331.2,642.2 L331.9,641.5 L332.7,640.7 L333.4,640.0 L334.2,639.3 L335.0,638.6 L335.7,637.9 L336.5,637.2 L337.2,636.4 L338.0,635.7 L338.8,635.0 L339.5,634.3 L340.3,633.6 L341.0,632.9 L341.8,632.2 L342.6,631.5 L343.3,630.8 L344.1,630.1 L344.8,629.4 L345.6,628.8 L346.4,628.1 L347.1,627.5 L347.9,626.8 L348.6,626.2 L349.4,625.5 L350.2,624.9 L350.9,624.2 L351.7,623.6 L352.4,622.9 L353.2,622.3 L354.0,621.6 L354.7,621.0 L355.5,620.3 L356.2,619.6 L357.0,618.9 L357.8,618.2 L358.5,617.4 L359.3,616.7 L360.0,616.0 L360.8,615.2 L361.6,614.4 L362.3,613.6 L363.1,612.8 L363.8,611.9 L364.6,611.0 L365.4,610.2 L366.1,609.3 L366.9,608.4 L367.6,607.4 L368.4,606.5 L369.2,605.6 L369.9,604.6 L370.7,603.6 L371.4,602.6 L372.2,601.6 L373.0,600.6 L373.7,599.6 L374.5,598.5 L375.3,597.5 L376.0,596.4 L376.8,595.3 L377.5,594.2 L378.3,593.1 L379.1,592.0 L379.8,590.9 L380.6,589.8 L381.3,588.6 L382.1,587.5 L382.9,586.3 L383.6,585.1 L384.4,583.9 L385.1,582.7 L385.9,581.5 L386.7,580.3 L387.4,579.0 L388.2,577.7 L388.9,576.4 L389.7,575.0 L390.5,573.6 L391.2,572.3 L392.0,570.8 L392.7,569.4 L393.5,568.0 L394.3,566.5 L395.0,565.1 L395.8,563.6 L396.5,562.1 L397.3,560.6 L398.1,559.1 L398.8,557.6 L399.6,556.0 L400.3,554.3 L401.1,552.6 L401.9,550.9 L402.6,549.1 L403.4,547.4 L404.1,545.7 L404.9,544.0 L405.7,542.4 L406.4,540.9 L407.2,539.4 L407.9,538.0 L408.7,536.6 L409.5,535.1 L410.2,533.8 L411.0,532.5 L411.7,531.4 L412.5,530.5 L413.3,529.8 L414.0,529.1 L414.8,528.5 L415.5,528.0 L416.3,527.6 L417.1,527.4 L417.8,527.4 L418.6,527.5 L419.3,527.6 L420.1,527.8 L420.9,528.0 L421.6,528.2 L422.4,528.7 L423.1,529.3 L423.9,530.0 L424.7,530.7 L425.4,531.5 L426.2,532.5 L427.0,533.6 L427.7,534.8 L428.5,536.1 L429.2,537.6 L430.0,539.0 L430.8,540.5 L431.5,542.1 L432.3,543.5 L433.0,544.9 L433.8,546.3 L434.6,547.5 L435.3,548.7 L436.1,549.9 L436.8,551.1 L437.6,552.4 L438.4,553.6 L439.1,554.8 L439.9,555.9 L440.6,557.0 L441.4,558.1 L442.2,559.1 L442.9,560.1 L443.7,561.0 L444.4,561.9 L445.2,562.6 L446.0,563.3 L446.7,563.9 L447.5,564.6 L448.2,565.1 L449.0,565.7 L449.8,566.2 L450.5,566.7 L451.3,567.2 L452.0,567.7 L452.8,568.2 L453.6,568.6 L454.3,569.0 L455.1,569.4 L455.8,569.9 L456.6,570.3 L457.4,570.7 L458.1,571.1 L458.9,571.5 L459.6,571.9 L460.4,572.3 L461.2,572.7 L461.9,573.2 L462.7,573.6 L463.4,574.1 L464.2,574.5 L465.0,575.0 L465.7,575.5 L466.5,575.9 L467.2,576.4 L468.0,576.8 L468.8,577.3 L469.5,577.8 L470.3,578.2 L471.0,578.7 L471.8,579.1 L472.6,579.6 L473.3,580.1 L474.1,580.5 L474.8,581.0 L475.6,581.4 L476.4,581.9 L477.1,582.3 L477.9,582.8 L478.7,583.3 L479.4,583.7 L480.2,584.2 L480.9,584.6 L481.7,585.1 L482.5,585.5 L483.2,586.0 L484.0,586.4 L484.7,586.9 L485.5,587.4 L486.3,587.8 L487.0,588.3 L487.8,588.7 L488.5,589.2 L489.3,589.6 L490.1,590.1 L490.8,590.5 L491.6,590.9 L492.3,591.4 L493.1,591.8 L493.9,592.3 L494.6,592.7 L495.4,593.1 L496.1,593.6 L496.9,594.0 L497.7,594.5 L498.4,594.9 L499.2,595.4 L499.9,595.8 L500.7,596.3 L501.5,596.7 L502.2,597.2 L503.0,597.6 L503.7,598.1 L504.5,598.6 L505.3,599.0 L506.0,599.5 L506.8,600.0 L507.5,600.5 L508.3,600.9 L509.1,601.4 L509.8,601.9 L510.6,602.4 L511.3,602.9 L512.1,603.4 L512.9,603.9 L513.6,604.4 L514.4,604.9 L515.1,605.4 L515.9,605.9 L516.7,606.5 L517.4,607.0 L518.2,607.5 L518.9,608.0 L519.7,608.6 L520.5,609.1 L521.2,609.6 L522.0,610.2 L522.7,610.7 L523.5,611.2 L524.3,611.8 L525.0,612.4 L525.8,612.9 L526.5,613.5 L527.3,614.0 L528.1,614.6 L528.8,615.2 L529.6,615.8 L530.4,616.4 L531.1,616.9 L531.9,617.5 L532.6,618.1 L533.4,618.7 L534.2,619.4 L534.9,620.0 L535.7,620.6 L536.4,621.2 L537.2,621.9 L538.0,622.5 L538.7,623.2 L539.5,623.8 L540.2,624.5 L541.0,625.1 L541.8,625.8 L542.5,626.5 L543.3,627.1 L544.0,627.8 L544.8,628.5 L545.6,629.2 L546.3,629.8 L547.1,630.5 L547.8,631.2 L548.6,631.9 L549.4,632.6 L550.1,633.3 L550.9,634.0 L551.6,634.7 L552.4,635.4 L553.2,636.1 L553.9,636.8 L554.7,637.5 L555.4,638.2 L556.2,638.9 L557.0,639.6 L557.7,640.3 L558.5,641.0 L559.2,641.8 L560.0,642.5 L560.8,643.2 L561.5,644.0 L562.3,644.7 L563.0,645.5 L563.8,646.2 L564.6,647.0 L565.3,647.8 L566.1,648.5 L566.8,649.3 L567.6,650.1 L568.4,650.8 L569.1,651.6 L569.9,652.4 L570.6,653.1 L571.4,653.9 L572.2,654.6 L572.9,655.4 L573.7,656.1 L574.4,656.8 L575.2,657.5 L576.0,658.2 L576.7,658.9 L577.5,659.6 L578.2,660.3 L579.0,661.0 L579.8,661.6 L580.5,662.3 L581.3,662.9 L582.1,663.5 L582.8,664.2 L583.6,664.8 L584.3,665.4 L585.1,666.0 L585.9,666.7 L586.6,667.3 L587.4,667.9 L588.1,668.5 L588.9,669.1 L589.7,669.7 L590.4,670.3 L591.2,670.9 L591.9,671.5 L592.7,672.1 L593.5,672.8 L594.2,673.4 L595.0,674.0 L595.7,674.6 L596.5,675.2 L597.3,675.9 L598.0,676.5 L598.8,677.2 L599.5,677.8 L600.3,678.5 L601.1,679.1 L601.8,679.8 L602.6,680.5 L603.3,681.2 L604.1,681.9 L604.9,682.6 L605.6,683.3 L606.4,684.0 L607.1,684.7 L607.9,685.4 L608.7,686.2 L609.4,686.9 L610.2,687.6 L610.9,688.3 L611.7,689.0 L612.5,689.7 L613.2,690.4 L614.0,691.1 L614.7,691.7 L615.5,692.4 L616.3,693.1 L617.0,693.7 L617.8,694.3 L618.5,695.0 L619.3,695.6 L620.1,696.2 L620.8,696.7 L621.6,697.3 L622.3,697.9 L623.1,698.4 L623.9,699.0 L624.6,699.5 L625.4,700.1 L626.1,700.6 L626.9,701.1 L627.7,701.6 L628.4,702.2 L629.2,702.7 L629.9,703.2 L630.7,703.7 L631.5,704.2 L632.2,704.7 L633.0,705.2 L633.7,705.7 L634.5,706.2 L635.3,706.7 L636.0,707.3 L636.8,707.8 L637.6,708.3 L638.3,708.8 L639.1,709.3 L639.8,709.8 L640.6,710.3 L641.4,710.8 L642.1,711.3 L642.9,711.8 L643.6,712.3 L644.4,712.9 L645.2,713.4 L645.9,713.9 L646.7,714.4 L647.4,714.9 L648.2,715.4 L649.0,715.9 L649.7,716.4 L650.5,716.9 L651.2,717.3 L652.0,717.8 L652.8,718.3 L653.5,718.8 L654.3,719.3 L655.0,719.7 L655.8,720.2 L656.6,720.7 L657.3,721.1 L658.1,721.6 L658.8,722.0 L659.6,722.5 L660.4,722.9 L661.1,723.3 L661.9,723.8 L662.6,724.2 L663.4,724.6 L664.2,725.1 L664.9,725.5 L665.7,725.9 L666.4,726.3 L667.2,726.7 L668.0,727.2 L668.7,727.6 L669.5,728.0 L670.2,728.4 L671.0,728.8 L671.8,729.2 L672.5,729.6 L673.3,730.0 L674.0,730.4 L674.8,730.8 L675.6,731.2 L676.3,731.6 L677.1,732.0 L677.8,732.4 L678.6,732.8 L679.4,733.2 L680.1,733.6 L680.9,734.0 L681.6,734.4 L682.4,734.8 L683.2,735.2 L683.9,735.6 L684.7,736.0 L685.4,736.4 L686.2,736.8 L687.0,737.2 L687.7,737.5 L688.5,737.9 L689.3,738.3 L690.0,738.7 L690.8,739.0 L691.5,739.4 L692.3,739.8 L693.1,740.1 L693.8,740.5 L694.6,740.8 L695.3,741.2 L696.1,741.5 L696.9,741.8 L697.6,742.2 L698.4,742.5 L699.1,742.8 L699.9,743.2 L700.7,743.5 L701.4,743.8 L702.2,744.1 L702.9,744.4 L703.7,744.7 L704.5,745.0 L705.2,745.4 L706.0,745.7 L706.7,746.0 L707.5,746.2 L708.3,746.5 L709.0,746.8 L709.8,747.1 L710.5,747.4 L711.3,747.7 L712.1,747.9 L712.8,748.2 L713.6,748.5 L714.3,748.7 L715.1,749.0 L715.9,749.3 L716.6,749.5 L717.4,749.8 L718.1,750.0 L718.9,750.2 L719.7,750.5 L720.4,750.7 L721.2,751.0 L721.9,751.2 L722.7,751.4 L723.5,751.6 L724.2,751.9 L725.0,752.1 L725.7,752.3 L726.5,752.5 L727.3,752.7 L728.0,753.0 L728.8,753.2 L729.5,753.4 L730.3,753.6 L731.1,753.8 L731.8,754.0 L732.6,754.2 L733.3,754.4 L734.1,754.6 L734.9,754.8 L735.6,755.1 L736.4,755.3 L737.1,755.5 L737.9,755.7 L738.7,755.9 L739.4,756.1 L740.2,756.3 L741.0,756.5 L741.7,756.7 L742.5,756.8 L743.2,757.0 L744.0,757.2 L744.8,757.4 L745.5,757.6 L746.3,757.8 L747.0,758.0 L747.8,758.2 L748.6,758.3 L749.3,758.5 L750.1,758.7 L750.8,758.9 L751.6,759.1 L752.4,759.2 L753.1,759.4 L753.9,759.6 L754.6,759.7 L755.4,759.9 L756.2,760.1 L756.9,760.2 L757.7,760.4 L758.4,760.6 L759.2,760.7 L760.0,760.9 L760.7,761.0 L761.5,761.2 L762.2,761.4 L763.0,761.5 L763.8,761.7 L764.5,761.8 L765.3,762.0 L766.0,762.1 L766.8,762.2 L767.6,762.4 L768.3,762.5 L769.1,762.6 L769.8,762.8 L770.6,762.9 L771.4,763.0 L772.1,763.2 L772.9,763.3 L773.6,763.4 L774.4,763.5 L775.2,763.6 L775.9,763.7 L776.7,763.8 L777.4,764.0 L778.2,764.1 L779.0,764.2 L779.7,764.3 L780.5,764.4 L781.2,764.5 L782.0,764.6 L782.8,764.7 L783.5,764.8 L784.3,764.9 L785.0,765.0 L785.8,765.1 L786.6,765.2 L787.3,765.2 L788.1,765.3 L788.8,765.4 L789.6,765.5 L790.4,765.6 L791.1,765.6 L791.9,765.7 L792.7,765.8 L793.4,765.8 L794.2,765.9 L794.9,766.0 L795.7,766.0 L796.5,766.1 L797.2,766.2 L798.0,766.2 L798.7,766.3 L799.5,766.4 L800.3,766.4 L801.0,766.5 L801.8,766.5 L802.5,766.6 L803.3,766.7 L804.1,766.7 L804.8,766.8 L805.6,766.8 L806.3,766.9 L807.1,766.9 L807.9,767.0 L808.6,767.0 L809.4,767.1 L810.1,767.1 L810.9,767.2 L811.7,767.2 L812.4,767.2 L813.2,767.3 L813.9,767.3 L814.7,767.4 L815.5,767.4 L816.2,767.4 L817.0,767.4 L817.7,767.5 L818.5,767.5" fill="none" stroke="#000" stroke-width="2.25"/>
<path d="M135.0,779.0 L135.8,778.9 L136.5,778.7 L137.3,778.5 L138.0,778.3 L138.8,778.1 L139.6,777.9 L140.3,777.7 L141.1,777.6 L141.8,777.4 L142.6,777.2 L143.4,777.0 L144.1,776.8 L144.9,776.6 L145.6,776.4 L146.4,776.2 L147.2,776.0 L147.9,775.8 L148.7,775.6 L149.4,775.4 L150.2,775.2 L151.0,775.0 L151.7,774.8 L152.5,774.6 L153.2,774.4 L154.0,774.2 L154.8,774.0 L155.5,773.8 L156.3,773.6 L157.0,773.3 L157.8,773.1 L158.6,772.9 L159.3,772.7 L160.1,772.5 L160.8,772.2 L161.6,772.0 L162.4,771.8 L163.1,771.5 L163.9,771.3 L164.7,771.1 L165.4,770.9 L166.2,770.6 L166.9,770.4 L167.7,770.2 L168.5,769.9 L169.2,769.7 L170.0,769.5 L170.7,769.2 L171.5,769.0 L172.3,768.8 L173.0,768.5 L173.8,768.3 L174.5,768.1 L175.3,767.8 L176.1,767.6 L176.8,767.4 L177.6,767.2 L178.3,766.9 L179.1,766.7 L179.9,766.5 L180.6,766.3 L181.4,766.1 L182.1,765.8 L182.9,765.6 L183.7,765.4 L184.4,765.2 L185.2,765.0 L185.9,764.8 L186.7,764.6 L187.5,764.3 L188.2,764.1 L189.0,763.9 L189.7,763.7 L190.5,763.5 L191.3,763.2 L192.0,763.0 L192.8,762.8 L193.5,762.6 L194.3,762.3 L195.1,762.1 L195.8,761.9 L196.6,761.6 L197.3,761.4 L198.1,761.1 L198.9,760.8 L199.6,760.6 L200.4,760.3 L201.1,760.0 L201.9,759.8 L202.7,759.5 L203.4,759.2 L204.2,758.9 L204.9,758.6 L205.7,758.3 L206.5,757.9 L207.2,757.6 L208.0,757.3 L208.7,757.0 L209.5,756.6 L210.3,756.3 L211.0,755.9 L211.8,755.6 L212.5,755.3 L213.3,754.9 L214.1,754.5 L214.8,754.2 L215.6,753.8 L216.4,753.5 L217.1,753.1 L217.9,752.7 L218.6,752.3 L219.4,752.0 L220.2,751.6 L220.9,751.2 L221.7,750.9 L222.4,750.5 L223.2,750.1 L224.0,749.7 L224.7,749.3 L225.5,749.0 L226.2,748.6 L227.0,748.2 L227.8,747.8 L228.5,747.4 L229.3,747.0 L230.0,746.5 L230.8,746.1 L231.6,745.7 L232.3,745.3 L233.1,744.8 L233.8,744.4 L234.6,744.0 L235.4,743.5 L236.1,743.1 L236.9,742.7 L237.6,742.2 L238.4,741.8 L239.2,741.4 L239.9,740.9 L240.7,740.5 L241.4,740.1 L242.2,739.6 L243.0,739.2 L243.7,738.8 L244.5,738.4 L245.2,738.0 L246.0,737.6 L246.8,737.1 L247.5,736.7 L248.3,736.3 L249.0,736.0 L249.8,735.6 L250.6,735.2 L251.3,734.8 L252.1,734.4 L252.8,734.1 L253.6,733.7 L254.4,733.3 L255.1,733.0 L255.9,732.6 L256.6,732.2 L257.4,731.9 L258.2,731.5 L258.9,731.1 L259.7,730.8 L260.4,730.4 L261.2,730.0 L262.0,729.7 L262.7,729.3 L263.5,728.9 L264.2,728.6 L265.0,728.2 L265.8,727.8 L266.5,727.4 L267.3,727.1 L268.1,726.7 L268.8,726.3 L269.6,725.9 L270.3,725.5 L271.1,725.1 L271.9,724.7 L272.6,724.2 L273.4,723.8 L274.1,723.4 L274.9,722.9 L275.7,722.5 L276.4,722.1 L277.2,721.6 L277.9,721.1 L278.7,720.7 L279.5,720.2 L280.2,719.8 L281.0,719.3 L281.7,718.8 L282.5,718.4 L283.3,717.9 L284.0,717.4 L284.8,717.0 L285.5,716.5 L286.3,716.0 L287.1,715.5 L287.8,715.1 L288.6,714.6 L289.3,714.1 L290.1,713.6 L290.9,713.2 L291.6,712.7 L292.4,712.2 L293.1,711.8 L293.9,711.3 L294.7,710.8 L295.4,710.4 L296.2,709.9 L296.9,709.5 L297.7,709.0 L298.5,708.6 L299.2,708.1 L300.0,707.7 L300.7,707.2 L301.5,706.7 L302.3,706.3 L303.0,705.8 L303.8,705.4 L304.5,704.9 L305.3,704.5 L306.1,704.0 L306.8,703.6 L307.6,703.1 L308.3,702.7 L309.1,702.2 L309.9,701.8 L310.6,701.3 L311.4,700.8 L312.1,700.4 L312.9,699.9 L313.7,699.5 L314.4,699.0 L315.2,698.6 L315.9,698.1 L316.7,697.7 L317.5,697.2 L318.2,696.8 L319.0,696.3 L319.8,695.8 L320.5,695.4 L321.3,694.9 L322.0,694.5 L322.8,694.0 L323.6,693.5 L324.3,693.0 L325.1,692.6 L325.8,692.1 L326.6,691.6 L327.4,691.1 L328.1,690.7 L328.9,690.2 L329.6,689.7 L330.4,689.2 L331.2,688.8 L331.9,688.3 L332.7,687.8 L333.4,687.4 L334.2,686.9 L335.0,686.5 L335.7,686.0 L336.5,685.6 L337.2,685.1 L338.0,684.7 L338.8,684.3 L339.5,683.8 L340.3,683.4 L341.0,683.0 L341.8,682.6 L342.6,682.2 L343.3,681.8 L344.1,681.4 L344.8,681.1 L345.6,680.7 L346.4,680.3 L347.1,680.0 L347.9,679.6 L348.6,679.3 L349.4,678.9 L350.2,678.6 L350.9,678.3 L351.7,677.9 L352.4,677.6 L353.2,677.3 L354.0,676.9 L354.7,676.6 L355.5,676.2 L356.2,675.9 L357.0,675.5 L357.8,675.2 L358.5,674.8 L359.3,674.5 L360.0,674.1 L360.8,673.7 L361.6,673.3 L362.3,672.9 L363.1,672.5 L363.8,672.1 L364.6,671.7 L365.4,671.3 L366.1,670.9 L366.9,670.5 L367.6,670.1 L368.4,669.7 L369.2,669.2 L369.9,668.8 L370.7,668.4 L371.4,667.9 L372.2,667.5 L373.0,667.1 L373.7,666.6 L374.5,666.2 L375.3,665.7 L376.0,665.2 L376.8,664.8 L377.5,664.3 L378.3,663.8 L379.1,663.3 L379.8,662.8 L380.6,662.3 L381.3,661.8 L382.1,661.3 L382.9,660.8 L383.6,660.3 L384.4,659.8 L385.1,659.2 L385.9,658.7 L386.7,658.2 L387.4,657.6 L388.2,657.1 L388.9,656.5 L389.7,656.0 L390.5,655.4 L391.2,654.8 L392.0,654.2 L392.7,653.6 L393.5,652.9 L394.3,652.3 L395.0,651.6 L395.8,650.9 L396.5,650.1 L397.3,649.4 L398.1,648.6 L398.8,647.7 L399.6,646.8 L400.3,645.8 L401.1,644.8 L401.9,643.7 L402.6,642.5 L403.4,641.3 L404.1,640.1 L404.9,638.8 L405.7,637.5 L406.4,636.2 L407.2,634.9 L407.9,633.6 L408.7,632.1 L409.5,630.6 L410.2,629.1 L411.0,627.5 L411.7,625.9 L412.5,624.3 L413.3,622.7 L414.0,621.1 L414.8,619.6 L415.5,618.1 L416.3,616.7 L417.1,615.3 L417.8,613.8 L418.6,612.4 L419.3,611.1 L420.1,610.0 L420.9,609.1 L421.6,608.5 L422.4,607.8 L423.1,607.3 L423.9,606.9 L424.7,606.6 L425.4,606.5 L426.2,606.7 L427.0,607.0 L427.7,607.5 L428.5,608.1 L429.2,608.8 L430.0,609.5 L430.8,610.5 L431.5,611.7 L432.3,613.0 L433.0,614.4 L433.8,615.8 L434.6,617.1 L435.3,618.5 L436.1,619.9 L436.8,621.3 L437.6,622.8 L438.4,624.3 L439.1,625.7 L439.9,627.1 L440.6,628.5 L441.4,629.7 L442.2,630.9 L442.9,631.9 L443.7,632.8 L444.4,633.7 L445.2,634.5 L446.0,635.3 L446.7,636.1 L447.5,636.8 L448.2,637.6 L449.0,638.3 L449.8,638.9 L450.5,639.5 L451.3,640.2 L452.0,640.7 L452.8,641.3 L453.6,641.8 L454.3,642.3 L455.1,642.8 L455.8,643.2 L456.6,643.6 L457.4,644.0 L458.1,644.4 L458.9,644.8 L459.6,645.1 L460.4,645.4 L461.2,645.7 L461.9,646.0 L462.7,646.3 L463.4,646.6 L464.2,646.8 L465.0,647.1 L465.7,647.3 L466.5,647.6 L467.2,647.8 L468.0,648.1 L468.8,648.3 L469.5,648.6 L470.3,648.8 L471.0,649.1 L471.8,649.3 L472.6,649.6 L473.3,649.9 L474.1,650.2 L474.8,650.5 L475.6,650.8 L476.4,651.1 L477.1,651.4 L477.9,651.7 L478.7,652.0 L479.4,652.4 L480.2,652.7 L480.9,653.0 L481.7,653.3 L482.5,653.7 L483.2,654.0 L484.0,654.4 L484.7,654.7 L485.5,655.0 L486.3,655.4 L487.0,655.7 L487.8,656.1 L488.5,656.4 L489.3,656.8 L490.1,657.1 L490.8,657.5 L491.6,657.8 L492.3,658.2 L493.1,658.5 L493.9,658.9 L494.6,659.2 L495.4,659.6 L496.1,659.9 L496.9,660.3 L497.7,660.7 L498.4,661.0 L499.2,661.4 L499.9,661.7 L500.7,662.1 L501.5,662.5 L502.2,662.8 L503.0,663.2 L503.7,663.6 L504.5,663.9 L505.3,664.3 L506.0,664.7 L506.8,665.1 L507.5,665.4 L508.3,665.8 L509.1,666.2 L509.8,666.6 L510.6,667.0 L511.3,667.3 L512.1,667.7 L512.9,668.1 L513.6,668.5 L514.4,668.9 L515.1,669.3 L515.9,669.7 L516.7,670.1 L517.4,670.5 L518.2,670.9 L518.9,671.3 L519.7,671.7 L520.5,672.1 L521.2,672.5 L522.0,672.9 L522.7,673.3 L523.5,673.7 L524.3,674.1 L525.0,674.5 L525.8,674.9 L526.5,675.3 L527.3,675.8 L528.1,676.2 L528.8,676.6 L529.6,677.0 L530.4,677.4 L531.1,677.9 L531.9,678.3 L532.6,678.7 L533.4,679.2 L534.2,679.6 L534.9,680.0 L535.7,680.5 L536.4,680.9 L537.2,681.3 L538.0,681.8 L538.7,682.2 L539.5,682.6 L540.2,683.1 L541.0,683.5 L541.8,684.0 L542.5,684.4 L543.3,684.8 L544.0,685.3 L544.8,685.8 L545.6,686.2 L546.3,686.7 L547.1,687.1 L547.8,687.6 L548.6,688.1 L549.4,688.5 L550.1,689.0 L550.9,689.5 L551.6,689.9 L552.4,690.4 L553.2,690.9 L553.9,691.3 L554.7,691.8 L555.4,692.3 L556.2,692.7 L557.0,693.2 L557.7,693.7 L558.5,694.1 L559.2,694.6 L560.0,695.1 L560.8,695.5 L561.5,696.0 L562.3,696.4 L563.0,696.9 L563.8,697.3 L564.6,697.7 L565.3,698.2 L566.1,698.6 L566.8,699.0 L567.6,699.5 L568.4,699.9 L569.1,700.3 L569.9,700.7 L570.6,701.2 L571.4,701.6 L572.2,702.0 L572.9,702.4 L573.7,702.8 L574.4,703.3 L575.2,703.7 L576.0,704.1 L576.7,704.5 L577.5,704.9 L578.2,705.3 L579.0,705.7 L579.8,706.1 L580.5,706.6 L581.3,707.0 L582.1,707.4 L582.8,707.8 L583.6,708.2 L584.3,708.6 L585.1,709.0 L585.9,709.4 L586.6,709.8 L587.4,710.3 L588.1,710.7 L588.9,711.1 L589.7,711.5 L590.4,711.9 L591.2,712.3 L591.9,712.7 L592.7,713.1 L593.5,713.6 L594.2,714.0 L595.0,714.4 L595.7,714.8 L596.5,715.2 L597.3,715.6 L598.0,716.1 L598.8,716.5 L599.5,716.9 L600.3,717.3 L601.1,717.7 L601.8,718.2 L602.6,718.6 L603.3,719.0 L604.1,719.4 L604.9,719.8 L605.6,720.2 L606.4,720.7 L607.1,721.1 L607.9,721.5 L608.7,721.9 L609.4,722.3 L610.2,722.8 L610.9,723.2 L611.7,723.6 L612.5,724.0 L613.2,724.5 L614.0,724.9 L614.7,725.3 L615.5,725.7 L616.3,726.2 L617.0,726.6 L617.8,727.0 L618.5,727.5 L619.3,727.9 L620.1,728.4 L620.8,728.8 L621.6,729.3 L622.3,729.7 L623.1,730.2 L623.9,730.7 L624.6,731.1 L625.4,731.6 L626.1,732.1 L626.9,732.5 L627.7,733.0 L628.4,733.5 L629.2,734.0 L629.9,734.4 L630.7,734.9 L631.5,735.4 L632.2,735.8 L633.0,736.3 L633.7,736.8 L634.5,737.2 L635.3,737.6 L636.0,738.1 L636.8,738.5 L637.6,738.9 L638.3,739.4 L639.1,739.8 L639.8,740.2 L640.6,740.6 L641.4,741.0 L642.1,741.4 L642.9,741.8 L643.6,742.2 L644.4,742.6 L645.2,743.0 L645.9,743.4 L646.7,743.8 L647.4,744.1 L648.2,744.5 L649.0,744.9 L649.7,745.3 L650.5,745.6 L651.2,746.0 L652.0,746.4 L652.8,746.7 L653.5,747.1 L654.3,747.4 L655.0,747.8 L655.8,748.1 L656.6,748.5 L657.3,748.8 L658.1,749.1 L658.8,749.5 L659.6,749.8 L660.4,750.1 L661.1,750.5 L661.9,750.8 L662.6,751.1 L663.4,751.4 L664.2,751.8 L664.9,752.1 L665.7,752.4 L666.4,752.7 L667.2,753.0 L668.0,753.3 L668.7,753.6 L669.5,753.9 L670.2,754.2 L671.0,754.5 L671.8,754.8 L672.5,755.0 L673.3,755.3 L674.0,755.6 L674.8,755.9 L675.6,756.1 L676.3,756.4 L677.1,756.7 L677.8,756.9 L678.6,757.2 L679.4,757.4 L680.1,757.7 L680.9,757.9 L681.6,758.2 L682.4,758.4 L683.2,758.7 L683.9,758.9 L684.7,759.1 L685.4,759.4 L686.2,759.6 L687.0,759.8 L687.7,760.0 L688.5,760.3 L689.3,760.5 L690.0,760.7 L690.8,760.9 L691.5,761.1 L692.3,761.3 L693.1,761.6 L693.8,761.8 L694.6,762.0 L695.3,762.2 L696.1,762.4 L696.9,762.6 L697.6,762.8 L698.4,763.0 L699.1,763.2 L699.9,763.4 L700.7,763.6 L701.4,763.8 L702.2,764.0 L702.9,764.2 L703.7,764.4 L704.5,764.6 L705.2,764.7 L706.0,764.9 L706.7,765.1 L707.5,765.3 L708.3,765.5 L709.0,765.7 L709.8,765.8 L710.5,766.0 L711.3,766.2 L712.1,766.4 L712.8,766.5 L713.6,766.7 L714.3,766.9 L715.1,767.0 L715.9,767.2 L716.6,767.4 L717.4,767.5 L718.1,767.7 L718.9,767.9 L719.7,768.0 L720.4,768.2 L721.2,768.3 L721.9,768.5 L722.7,768.6 L723.5,768.8 L724.2,768.9 L725.0,769.1 L725.7,769.2 L726.5,769.4 L727.3,769.5 L728.0,769.7 L728.8,769.8 L729.5,770.0 L730.3,770.1 L731.1,770.3 L731.8,770.4 L732.6,770.5 L733.3,770.7 L734.1,770.8 L734.9,770.9 L735.6,771.0 L736.4,771.2 L737.1,771.3 L737.9,771.4 L738.7,771.6 L739.4,771.7 L740.2,771.8 L741.0,771.9 L741.7,772.0 L742.5,772.2 L743.2,772.3 L744.0,772.4 L744.8,772.5 L745.5,772.6 L746.3,772.7 L747.0,772.9 L747.8,773.0 L748.6,773.1 L749.3,773.2 L750.1,773.3 L750.8,773.4 L751.6,773.5 L752.4,773.6 L753.1,773.6 L753.9,773.7 L754.6,773.8 L755.4,773.9 L756.2,774.0 L756.9,774.1 L757.7,774.2 L758.4,774.3 L759.2,774.3 L760.0,774.4 L760.7,774.5 L761.5,774.6 L762.2,774.7 L763.0,774.7 L763.8,774.8 L764.5,774.9 L765.3,774.9 L766.0,775.0 L766.8,775.1 L767.6,775.2 L768.3,775.2 L769.1,775.3 L769.8,775.3 L770.6,775.4 L771.4,775.5 L772.1,775.5 L772.9,775.6 L773.6,775.6 L774.4,775.7 L775.2,775.8 L775.9,775.8 L776.7,775.9 L777.4,775.9 L778.2,776.0 L779.0,776.0 L779.7,776.1 L780.5,776.1 L781.2,776.2 L782.0,776.2 L782.8,776.3 L783.5,776.3 L784.3,776.4 L785.0,776.4 L785.8,776.5 L786.6,776.5 L787.3,776.5 L788.1,776.6 L788.8,776.6 L789.6,776.6 L790.4,776.7 L791.1,776.7 L791.9,776.7 L792.7,776.8 L793.4,776.8 L794.2,776.8 L794.9,776.8 L795.7,776.9 L796.5,776.9 L797.2,776.9 L798.0,777.0 L798.7,777.0 L799.5,777.0 L800.3,777.0 L801.0,777.1 L801.8,777.1 L802.5,777.1 L803.3,777.1 L804.1,777.1 L804.8,777.2 L805.6,777.2 L806.3,777.2 L807.1,777.2 L807.9,777.2 L808.6,777.3 L809.4,777.3 L810.1,777.3 L810.9,777.3 L811.7,777.3 L812.4,777.3 L813.2,777.4 L813.9,777.4 L814.7,777.4 L815.5,777.4 L816.2,777.4 L817.0,777.4 L817.7,777.4 L818.5,777.4" fill="none" stroke="#000" stroke-width="2.25"/>
<path d="M135.0,795.6 L135.8,795.5 L136.5,795.4 L137.3,795.4 L138.0,795.3 L138.8,795.2 L139.6,795.2 L140.3,795.1 L141.1,795.0 L141.8,795.0 L142.6,794.9 L143.4,794.8 L144.1,794.7 L144.9,794.7 L145.6,794.6 L146.4,794.5 L147.2,794.4 L147.9,794.4 L148.7,794.3 L149.4,794.2 L150.2,794.1 L151.0,794.0 L151.7,793.9 L152.5,793.9 L153.2,793.8 L154.0,793.7 L154.8,793.6 L155.5,793.5 L156.3,793.4 L157.0,793.3 L157.8,793.3 L158.6,793.2 L159.3,793.1 L160.1,793.0 L160.8,792.9 L161.6,792.8 L162.4,792.7 L163.1,792.6 L163.9,792.5 L164.7,792.4 L165.4,792.3 L166.2,792.2 L166.9,792.1 L167.7,792.0 L168.5,791.9 L169.2,791.9 L170.0,791.8 L170.7,791.7 L171.5,791.6 L172.3,791.5 L173.0,791.4 L173.8,791.2 L174.5,791.1 L175.3,791.0 L176.1,790.9 L176.8,790.8 L177.6,790.7 L178.3,790.6 L179.1,790.5 L179.9,790.4 L180.6,790.3 L181.4,790.2 L182.1,790.1 L182.9,790.0 L183.7,789.9 L184.4,789.7 L185.2,789.6 L185.9,789.5 L186.7,789.4 L187.5,789.3 L188.2,789.2 L189.0,789.0 L189.7,788.9 L190.5,788.8 L191.3,788.7 L192.0,788.5 L192.8,788.4 L193.5,788.3 L194.3,788.2 L195.1,788.0 L195.8,787.9 L196.6,787.8 L197.3,787.6 L198.1,787.5 L198.9,787.4 L199.6,787.2 L200.4,787.1 L201.1,787.0 L201.9,786.8 L202.7,786.7 L203.4,786.6 L204.2,786.4 L204.9,786.3 L205.7,786.1 L206.5,786.0 L207.2,785.9 L208.0,785.7 L208.7,785.6 L209.5,785.4 L210.3,785.3 L211.0,785.1 L211.8,785.0 L212.5,784.9 L213.3,784.7 L214.1,784.6 L214.8,784.4 L215.6,784.3 L216.4,784.1 L217.1,784.0 L217.9,783.8 L218.6,783.7 L219.4,783.5 L220.2,783.4 L220.9,783.2 L221.7,783.1 L222.4,782.9 L223.2,782.8 L224.0,782.6 L224.7,782.5 L225.5,782.3 L226.2,782.2 L227.0,782.0 L227.8,781.9 L228.5,781.7 L229.3,781.6 L230.0,781.4 L230.8,781.3 L231.6,781.1 L232.3,780.9 L233.1,780.8 L233.8,780.6 L234.6,780.5 L235.4,780.3 L236.1,780.1 L236.9,780.0 L237.6,779.8 L238.4,779.6 L239.2,779.5 L239.9,779.3 L240.7,779.1 L241.4,779.0 L242.2,778.8 L243.0,778.6 L243.7,778.5 L244.5,778.3 L245.2,778.1 L246.0,777.9 L246.8,777.8 L247.5,777.6 L248.3,777.4 L249.0,777.3 L249.8,777.1 L250.6,776.9 L251.3,776.7 L252.1,776.6 L252.8,776.4 L253.6,776.2 L254.4,776.0 L255.1,775.8 L255.9,775.7 L256.6,775.5 L257.4,775.3 L258.2,775.1 L258.9,775.0 L259.7,774.8 L260.4,774.6 L261.2,774.4 L262.0,774.2 L262.7,774.1 L263.5,773.9 L264.2,773.7 L265.0,773.5 L265.8,773.3 L266.5,773.2 L267.3,773.0 L268.1,772.8 L268.8,772.6 L269.6,772.4 L270.3,772.3 L271.1,772.1 L271.9,771.9 L272.6,771.7 L273.4,771.5 L274.1,771.4 L274.9,771.2 L275.7,771.0 L276.4,770.8 L277.2,770.6 L277.9,770.4 L278.7,770.3 L279.5,770.1 L280.2,769.9 L281.0,769.7 L281.7,769.5 L282.5,769.4 L283.3,769.2 L284.0,769.0 L284.8,768.8 L285.5,768.6 L286.3,768.4 L287.1,768.3 L287.8,768.1 L288.6,767.9 L289.3,767.7 L290.1,767.5 L290.9,767.3 L291.6,767.1 L292.4,767.0 L293.1,766.8 L293.9,766.6 L294.7,766.4 L295.4,766.2 L296.2,766.0 L296.9,765.8 L297.7,765.6 L298.5,765.4 L299.2,765.3 L300.0,765.1 L300.7,764.9 L301.5,764.7 L302.3,764.5 L303.0,764.3 L303.8,764.1 L304.5,763.9 L305.3,763.7 L306.1,763.5 L306.8,763.3 L307.6,763.1 L308.3,762.9 L309.1,762.7 L309.9,762.5 L310.6,762.3 L311.4,762.1 L312.1,761.9 L312.9,761.7 L313.7,761.5 L314.4,761.3 L315.2,761.1 L315.9,760.9 L316.7,760.7 L317.5,760.5 L318.2,760.3 L319.0,760.1 L319.8,759.9 L320.5,759.6 L321.3,759.4 L322.0,759.2 L322.8,759.0 L323.6,758.8 L324.3,758.6 L325.1,758.4 L325.8,758.1 L326.6,757.9 L327.4,757.7 L328.1,757.5 L328.9,757.2 L329.6,757.0 L330.4,756.8 L331.2,756.6 L331.9,756.3 L332.7,756.1 L333.4,755.9 L334.2,755.7 L335.0,755.4 L335.7,755.2 L336.5,755.0 L337.2,754.7 L338.0,754.5 L338.8,754.3 L339.5,754.0 L340.3,753.8 L341.0,753.6 L341.8,753.3 L342.6,753.1 L343.3,752.9 L344.1,752.6 L344.8,752.4 L345.6,752.2 L346.4,751.9 L347.1,751.7 L347.9,751.4 L348.6,751.2 L349.4,751.0 L350.2,750.7 L350.9,750.5 L351.7,750.3 L352.4,750.0 L353.2,749.8 L354.0,749.5 L354.7,749.3 L355.5,749.1 L356.2,748.8 L357.0,748.6 L357.8,748.3 L358.5,748.1 L359.3,747.9 L360.0,747.6 L360.8,747.4 L361.6,747.2 L362.3,746.9 L363.1,746.7 L363.8,746.4 L364.6,746.2 L365.4,746.0 L366.1,745.7 L366.9,745.5 L367.6,745.3 L368.4,745.0 L369.2,744.8 L369.9,744.6 L370.7,744.3 L371.4,744.1 L372.2,743.9 L373.0,743.6 L373.7,743.4 L374.5,743.1 L375.3,742.9 L376.0,742.7 L376.8,742.4 L377.5,742.2 L378.3,742.0 L379.1,741.7 L379.8,741.5 L380.6,741.3 L381.3,741.0 L382.1,740.8 L382.9,740.5 L383.6,740.3 L384.4,740.1 L385.1,739.8 L385.9,739.6 L386.7,739.3 L387.4,739.1 L388.2,738.8 L388.9,738.6 L389.7,738.3 L390.5,738.1 L391.2,737.9 L392.0,737.6 L392.7,737.4 L393.5,737.1 L394.3,736.8 L395.0,736.6 L395.8,736.3 L396.5,736.1 L397.3,735.8 L398.1,735.6 L398.8,735.3 L399.6,735.1 L400.3,734.8 L401.1,734.6 L401.9,734.3 L402.6,734.0 L403.4,733.8 L404.1,733.5 L404.9,733.2 L405.7,733.0 L406.4,732.7 L407.2,732.4 L407.9,732.2 L408.7,731.9 L409.5,731.6 L410.2,731.3 L411.0,731.0 L411.7,730.7 L412.5,730.4 L413.3,730.1 L414.0,729.9 L414.8,729.6 L415.5,729.3 L416.3,729.0 L417.1,728.7 L417.8,728.3 L418.6,728.0 L419.3,727.6 L420.1,727.1 L420.9,726.6 L421.6,726.1 L422.4,725.5 L423.1,724.8 L423.9,724.1 L424.7,723.3 L425.4,722.6 L426.2,721.8 L427.0,721.0 L427.7,720.3 L428.5,719.5 L429.2,718.8 L430.0,718.0 L430.8,717.2 L431.5,716.3 L432.3,715.4 L433.0,714.4 L433.8,713.3 L434.6,712.0 L435.3,710.6 L436.1,709.1 L436.8,707.5 L437.6,705.9 L438.4,704.3 L439.1,702.6 L439.9,700.8 L440.6,699.1 L441.4,697.7 L442.2,696.5 L442.9,695.3 L443.7,694.5 L444.4,694.2 L445.2,694.6 L446.0,695.3 L446.7,696.1 L447.5,697.0 L448.2,697.8 L449.0,698.6 L449.8,699.5 L450.5,700.4 L451.3,701.4 L452.0,702.5 L452.8,703.7 L453.6,705.2 L454.3,706.8 L455.1,708.5 L455.8,710.1 L456.6,711.7 L457.4,713.3 L458.1,714.9 L458.9,716.4 L459.6,717.9 L460.4,719.1 L461.2,720.2 L461.9,721.2 L462.7,722.2 L463.4,723.1 L464.2,724.0 L465.0,724.7 L465.7,725.3 L466.5,725.8 L467.2,726.3 L468.0,726.7 L468.8,727.1 L469.5,727.5 L470.3,727.8 L471.0,728.2 L471.8,728.5 L472.6,728.7 L473.3,729.0 L474.1,729.3 L474.8,729.5 L475.6,729.7 L476.4,730.0 L477.1,730.2 L477.9,730.4 L478.7,730.6 L479.4,730.8 L480.2,731.0 L480.9,731.1 L481.7,731.3 L482.5,731.5 L483.2,731.6 L484.0,731.8 L484.7,732.0 L485.5,732.1 L486.3,732.3 L487.0,732.4 L487.8,732.6 L488.5,732.7 L489.3,732.9 L490.1,733.0 L490.8,733.2 L491.6,733.4 L492.3,733.5 L493.1,733.7 L493.9,733.8 L494.6,734.0 L495.4,734.2 L496.1,734.3 L496.9,734.5 L497.7,734.7 L498.4,734.8 L499.2,735.0 L499.9,735.1 L500.7,735.3 L501.5,735.4 L502.2,735.6 L503.0,735.7 L503.7,735.9 L504.5,736.0 L505.3,736.2 L506.0,736.3 L506.8,736.4 L507.5,736.6 L508.3,736.7 L509.1,736.9 L509.8,737.1 L510.6,737.2 L511.3,737.4 L512.1,737.5 L512.9,737.7 L513.6,737.8 L514.4,738.0 L515.1,738.2 L515.9,738.4 L516.7,738.5 L517.4,738.7 L518.2,738.9 L518.9,739.1 L519.7,739.3 L520.5,739.5 L521.2,739.7 L522.0,740.0 L522.7,740.2 L523.5,740.4 L524.3,740.7 L525.0,740.9 L525.8,741.2 L526.5,741.5 L527.3,741.7 L528.1,742.0 L528.8,742.2 L529.6,742.5 L530.4,742.7 L531.1,742.9 L531.9,743.2 L532.6,743.4 L533.4,743.6 L534.2,743.9 L534.9,744.1 L535.7,744.4 L536.4,744.6 L537.2,744.8 L538.0,745.1 L538.7,745.3 L539.5,745.5 L540.2,745.8 L541.0,746.0 L541.8,746.2 L542.5,746.5 L543.3,746.7 L544.0,746.9 L544.8,747.1 L545.6,747.4 L546.3,747.6 L547.1,747.8 L547.8,748.1 L548.6,748.3 L549.4,748.5 L550.1,748.7 L550.9,749.0 L551.6,749.2 L552.4,749.4 L553.2,749.6 L553.9,749.9 L554.7,750.1 L555.4,750.3 L556.2,750.5 L557.0,750.8 L557.7,751.0 L558.5,751.2 L559.2,751.4 L560.0,751.7 L560.8,751.9 L561.5,752.1 L562.3,752.3 L563.0,752.5 L563.8,752.7 L564.6,753.0 L565.3,753.2 L566.1,753.4 L566.8,753.6 L567.6,753.8 L568.4,754.0 L569.1,754.3 L569.9,754.5 L570.6,754.7 L571.4,754.9 L572.2,755.1 L572.9,755.3 L573.7,755.5 L574.4,755.8 L575.2,756.0 L576.0,756.2 L576.7,756.4 L577.5,756.6 L578.2,756.8 L579.0,757.0 L579.8,757.2 L580.5,757.4 L581.3,757.6 L582.1,757.8 L582.8,758.1 L583.6,758.3 L584.3,758.5 L585.1,758.7 L585.9,758.9 L586.6,759.1 L587.4,759.3 L588.1,759.5 L588.9,759.7 L589.7,759.9 L590.4,760.1 L591.2,760.3 L591.9,760.5 L592.7,760.7 L593.5,760.9 L594.2,761.1 L595.0,761.3 L595.7,761.5 L596.5,761.7 L597.3,761.9 L598.0,762.1 L598.8,762.3 L599.5,762.4 L600.3,762.6 L601.1,762.8 L601.8,763.0 L602.6,763.2 L603.3,763.4 L604.1,763.6 L604.9,763.8 L605.6,764.0 L606.4,764.2 L607.1,764.3 L607.9,764.5 L608.7,764.7 L609.4,764.9 L610.2,765.1 L610.9,765.3 L611.7,765.5 L612.5,765.6 L613.2,765.8 L614.0,766.0 L614.7,766.2 L615.5,766.4 L616.3,766.6 L617.0,766.7 L617.8,766.9 L618.5,767.1 L619.3,767.3 L620.1,767.5 L620.8,767.6 L621.6,767.8 L622.3,768.0 L623.1,768.2 L623.9,768.4 L624.6,768.5 L625.4,768.7 L626.1,768.9 L626.9,769.1 L627.7,769.2 L628.4,769.4 L629.2,769.6 L629.9,769.8 L630.7,770.0 L631.5,770.1 L632.2,770.3 L633.0,770.5 L633.7,770.7 L634.5,770.8 L635.3,771.0 L636.0,771.2 L636.8,771.4 L637.6,771.5 L638.3,771.7 L639.1,771.9 L639.8,772.1 L640.6,772.3 L641.4,772.4 L642.1,772.6 L642.9,772.8 L643.6,773.0 L644.4,773.2 L645.2,773.3 L645.9,773.5 L646.7,773.7 L647.4,773.9 L648.2,774.1 L649.0,774.3 L649.7,774.5 L650.5,774.6 L651.2,774.8 L652.0,775.0 L652.8,775.2 L653.5,775.4 L654.3,775.5 L655.0,775.7 L655.8,775.9 L656.6,776.1 L657.3,776.3 L658.1,776.4 L658.8,776.6 L659.6,776.8 L660.4,777.0 L661.1,777.2 L661.9,777.3 L662.6,777.5 L663.4,777.7 L664.2,777.8 L664.9,778.0 L665.7,778.2 L666.4,778.3 L667.2,778.5 L668.0,778.7 L668.7,778.8 L669.5,779.0 L670.2,779.1 L671.0,779.3 L671.8,779.4 L672.5,779.6 L673.3,779.7 L674.0,779.9 L674.8,780.0 L675.6,780.2 L676.3,780.3 L677.1,780.4 L677.8,780.6 L678.6,780.7 L679.4,780.8 L680.1,781.0 L680.9,781.1 L681.6,781.2 L682.4,781.4 L683.2,781.5 L683.9,781.6 L684.7,781.8 L685.4,781.9 L686.2,782.0 L687.0,782.1 L687.7,782.2 L688.5,782.4 L689.3,782.5 L690.0,782.6 L690.8,782.7 L691.5,782.8 L692.3,783.0 L693.1,783.1 L693.8,783.2 L694.6,783.3 L695.3,783.4 L696.1,783.5 L696.9,783.7 L697.6,783.8 L698.4,783.9 L699.1,784.0 L699.9,784.1 L700.7,784.2 L701.4,784.3 L702.2,784.4 L702.9,784.5 L703.7,784.6 L704.5,784.7 L705.2,784.8 L706.0,784.9 L706.7,785.0 L707.5,785.1 L708.3,785.2 L709.0,785.3 L709.8,785.4 L710.5,785.5 L711.3,785.6 L712.1,785.7 L712.8,785.8 L713.6,785.9 L714.3,786.0 L715.1,786.1 L715.9,786.2 L716.6,786.3 L717.4,786.3 L718.1,786.4 L718.9,786.5 L719.7,786.6 L720.4,786.7 L721.2,786.8 L721.9,786.9 L722.7,787.0 L723.5,787.0 L724.2,787.1 L725.0,787.2 L725.7,787.3 L726.5,787.4 L727.3,787.5 L728.0,787.6 L728.8,787.6 L729.5,787.7 L730.3,787.8 L731.1,787.9 L731.8,788.0 L732.6,788.0 L733.3,788.1 L734.1,788.2 L734.9,788.3 L735.6,788.4 L736.4,788.4 L737.1,788.5 L737.9,788.6 L738.7,788.7 L739.4,788.7 L740.2,788.8 L741.0,788.9 L741.7,788.9 L742.5,789.0 L743.2,789.1 L744.0,789.1 L744.8,789.2 L745.5,789.3 L746.3,789.3 L747.0,789.4 L747.8,789.4 L748.6,789.5 L749.3,789.6 L750.1,789.6 L750.8,789.7 L751.6,789.7 L752.4,789.8 L753.1,789.8 L753.9,789.9 L754.6,789.9 L755.4,790.0 L756.2,790.0 L756.9,790.1 L757.7,790.1 L758.4,790.2 L759.2,790.2 L760.0,790.2 L760.7,790.3 L761.5,790.3 L762.2,790.4 L763.0,790.4 L763.8,790.5 L764.5,790.5 L765.3,790.5 L766.0,790.6 L766.8,790.6 L767.6,790.7 L768.3,790.7 L769.1,790.7 L769.8,790.8 L770.6,790.8 L771.4,790.8 L772.1,790.9 L772.9,790.9 L773.6,791.0 L774.4,791.0 L775.2,791.0 L775.9,791.1 L776.7,791.1 L777.4,791.1 L778.2,791.2 L779.0,791.2 L779.7,791.2 L780.5,791.3 L781.2,791.3 L782.0,791.3 L782.8,791.4 L783.5,791.4 L784.3,791.4 L785.0,791.5 L785.8,791.5 L786.6,791.5 L787.3,791.6 L788.1,791.6 L788.8,791.6 L789.6,791.6 L790.4,791.7 L791.1,791.7 L791.9,791.7 L792.7,791.8 L793.4,791.8 L794.2,791.8 L794.9,791.9 L795.7,791.9 L796.5,791.9 L797.2,792.0 L798.0,792.0 L798.7,792.0 L799.5,792.0 L800.3,792.1 L801.0,792.1 L801.8,792.1 L802.5,792.2 L803.3,792.2 L804.1,792.2 L804.8,792.2 L805.6,792.3 L806.3,792.3 L807.1,792.3 L807.9,792.4 L808.6,792.4 L809.4,792.4 L810.1,792.4 L810.9,792.5 L811.7,792.5 L812.4,792.5 L813.2,792.5 L813.9,792.6 L814.7,792.6 L815.5,792.6 L816.2,792.6 L817.0,792.7 L817.7,792.7 L818.5,792.7" fill="none" stroke="#000" stroke-width="2.25"/>
<path d="M135.0,803.1 L135.8,803.1 L136.5,803.1 L137.3,803.1 L138.0,803.1 L138.8,803.1 L139.6,803.1 L140.3,803.1 L141.1,803.1 L141.8,803.1 L142.6,803.1 L143.4,803.1 L144.1,803.1 L144.9,803.0 L145.6,803.0 L146.4,803.0 L147.2,803.0 L147.9,803.0 L148.7,803.0 L149.4,803.0 L150.2,803.0 L151.0,803.0 L151.7,802.9 L152.5,802.9 L153.2,802.9 L154.0,802.9 L154.8,802.9 L155.5,802.9 L156.3,802.9 L157.0,802.8 L157.8,802.8 L158.6,802.8 L159.3,802.8 L160.1,802.8 L160.8,802.8 L161.6,802.7 L162.4,802.7 L163.1,802.7 L163.9,802.7 L164.7,802.7 L165.4,802.6 L166.2,802.6 L166.9,802.6 L167.7,802.6 L168.5,802.5 L169.2,802.5 L170.0,802.5 L170.7,802.5 L171.5,802.5 L172.3,802.4 L173.0,802.4 L173.8,802.4 L174.5,802.4 L175.3,802.3 L176.1,802.3 L176.8,802.3 L177.6,802.3 L178.3,802.2 L179.1,802.2 L179.9,802.2 L180.6,802.2 L181.4,802.1 L182.1,802.1 L182.9,802.1 L183.7,802.0 L184.4,802.0 L185.2,802.0 L185.9,802.0 L186.7,801.9 L187.5,801.9 L188.2,801.9 L189.0,801.9 L189.7,801.8 L190.5,801.8 L191.3,801.8 L192.0,801.7 L192.8,801.7 L193.5,801.7 L194.3,801.6 L195.1,801.6 L195.8,801.6 L196.6,801.6 L197.3,801.5 L198.1,801.5 L198.9,801.5 L199.6,801.4 L200.4,801.4 L201.1,801.4 L201.9,801.4 L202.7,801.3 L203.4,801.3 L204.2,801.2 L204.9,801.2 L205.7,801.2 L206.5,801.1 L207.2,801.1 L208.0,801.1 L208.7,801.0 L209.5,801.0 L210.3,800.9 L211.0,800.9 L211.8,800.8 L212.5,800.8 L213.3,800.7 L214.1,800.7 L214.8,800.6 L215.6,800.6 L216.4,800.5 L217.1,800.5 L217.9,800.4 L218.6,800.4 L219.4,800.3 L220.2,800.2 L220.9,800.2 L221.7,800.1 L222.4,800.1 L223.2,800.0 L224.0,799.9 L224.7,799.9 L225.5,799.8 L226.2,799.8 L227.0,799.7 L227.8,799.6 L228.5,799.6 L229.3,799.5 L230.0,799.4 L230.8,799.4 L231.6,799.3 L232.3,799.2 L233.1,799.2 L233.8,799.1 L234.6,799.0 L235.4,799.0 L236.1,798.9 L236.9,798.8 L237.6,798.7 L238.4,798.7 L239.2,798.6 L239.9,798.5 L240.7,798.5 L241.4,798.4 L242.2,798.3 L243.0,798.2 L243.7,798.2 L244.5,798.1 L245.2,798.0 L246.0,797.9 L246.8,797.9 L247.5,797.8 L248.3,797.7 L249.0,797.7 L249.8,797.6 L250.6,797.5 L251.3,797.4 L252.1,797.4 L252.8,797.3 L253.6,797.2 L254.4,797.1 L255.1,797.1 L255.9,797.0 L256.6,796.9 L257.4,796.9 L258.2,796.8 L258.9,796.7 L259.7,796.6 L260.4,796.6 L261.2,796.5 L262.0,796.4 L262.7,796.4 L263.5,796.3 L264.2,796.2 L265.0,796.2 L265.8,796.1 L266.5,796.0 L267.3,795.9 L268.1,795.9 L268.8,795.8 L269.6,795.8 L270.3,795.7 L271.1,795.6 L271.9,795.6 L272.6,795.5 L273.4,795.4 L274.1,795.4 L274.9,795.3 L275.7,795.2 L276.4,795.2 L277.2,795.1 L277.9,795.1 L278.7,795.0 L279.5,794.9 L280.2,794.9 L281.0,794.8 L281.7,794.8 L282.5,794.7 L283.3,794.6 L284.0,794.6 L284.8,794.5 L285.5,794.4 L286.3,794.4 L287.1,794.3 L287.8,794.3 L288.6,794.2 L289.3,794.1 L290.1,794.1 L290.9,794.0 L291.6,793.9 L292.4,793.9 L293.1,793.8 L293.9,793.8 L294.7,793.7 L295.4,793.6 L296.2,793.6 L296.9,793.5 L297.7,793.4 L298.5,793.4 L299.2,793.3 L300.0,793.3 L300.7,793.2 L301.5,793.1 L302.3,793.1 L303.0,793.0 L303.8,793.0 L304.5,792.9 L305.3,792.8 L306.1,792.8 L306.8,792.7 L307.6,792.6 L308.3,792.6 L309.1,792.5 L309.9,792.5 L310.6,792.4 L311.4,792.3 L312.1,792.3 L312.9,792.2 L313.7,792.1 L314.4,792.1 L315.2,792.0 L315.9,791.9 L316.7,791.9 L317.5,791.8 L318.2,791.8 L319.0,791.7 L319.8,791.6 L320.5,791.6 L321.3,791.5 L322.0,791.4 L322.8,791.4 L323.6,791.3 L324.3,791.2 L325.1,791.2 L325.8,791.1 L326.6,791.0 L327.4,791.0 L328.1,790.9 L328.9,790.9 L329.6,790.8 L330.4,790.7 L331.2,790.7 L331.9,790.6 L332.7,790.5 L333.4,790.5 L334.2,790.4 L335.0,790.3 L335.7,790.3 L336.5,790.2 L337.2,790.1 L338.0,790.1 L338.8,790.0 L339.5,789.9 L340.3,789.9 L341.0,789.8 L341.8,789.7 L342.6,789.6 L343.3,789.6 L344.1,789.5 L344.8,789.4 L345.6,789.4 L346.4,789.3 L347.1,789.2 L347.9,789.2 L348.6,789.1 L349.4,789.0 L350.2,788.9 L350.9,788.9 L351.7,788.8 L352.4,788.7 L353.2,788.6 L354.0,788.5 L354.7,788.5 L355.5,788.4 L356.2,788.3 L357.0,788.2 L357.8,788.2 L358.5,788.1 L359.3,788.0 L360.0,787.9 L360.8,787.8 L361.6,787.8 L362.3,787.7 L363.1,787.6 L363.8,787.5 L364.6,787.4 L365.4,787.4 L366.1,787.3 L366.9,787.2 L367.6,787.1 L368.4,787.0 L369.2,787.0 L369.9,786.9 L370.7,786.8 L371.4,786.7 L372.2,786.6 L373.0,786.6 L373.7,786.5 L374.5,786.4 L375.3,786.3 L376.0,786.3 L376.8,786.2 L377.5,786.1 L378.3,786.0 L379.1,786.0 L379.8,785.9 L380.6,785.8 L381.3,785.7 L382.1,785.7 L382.9,785.6 L383.6,785.5 L384.4,785.5 L385.1,785.4 L385.9,785.3 L386.7,785.3 L387.4,785.2 L388.2,785.1 L388.9,785.1 L389.7,785.0 L390.5,784.9 L391.2,784.9 L392.0,784.8 L392.7,784.8 L393.5,784.7 L394.3,784.7 L395.0,784.6 L395.8,784.5 L396.5,784.5 L397.3,784.4 L398.1,784.4 L398.8,784.4 L399.6,784.3 L400.3,784.3 L401.1,784.2 L401.9,784.2 L402.6,784.2 L403.4,784.1 L404.1,784.1 L404.9,784.1 L405.7,784.0 L406.4,784.0 L407.2,784.0 L407.9,783.9 L408.7,783.9 L409.5,783.9 L410.2,783.8 L411.0,783.8 L411.7,783.7 L412.5,783.7 L413.3,783.6 L414.0,783.6 L414.8,783.5 L415.5,783.5 L416.3,783.4 L417.1,783.4 L417.8,783.3 L418.6,783.2 L419.3,783.2 L420.1,783.1 L420.9,783.0 L421.6,782.9 L422.4,782.8 L423.1,782.6 L423.9,782.4 L424.7,782.3 L425.4,782.1 L426.2,781.9 L427.0,781.7 L427.7,781.5 L428.5,781.2 L429.2,781.0 L430.0,780.8 L430.8,780.5 L431.5,780.3 L432.3,780.1 L433.0,779.8 L433.8,779.6 L434.6,779.4 L435.3,779.2 L436.1,778.9 L436.8,778.7 L437.6,778.5 L438.4,778.3 L439.1,778.0 L439.9,777.7 L440.6,777.4 L441.4,777.1 L442.2,776.8 L442.9,776.4 L443.7,776.0 L444.4,775.6 L445.2,775.1 L446.0,774.4 L446.7,773.6 L447.5,772.7 L448.2,771.8 L449.0,770.9 L449.8,769.9 L450.5,768.8 L451.3,767.7 L452.0,766.7 L452.8,765.6 L453.6,764.5 L454.3,763.4 L455.1,762.4 L455.8,761.3 L456.6,760.4 L457.4,759.3 L458.1,758.2 L458.9,757.1 L459.6,756.4 L460.4,756.1 L461.2,756.3 L461.9,756.7 L462.7,757.4 L463.4,758.0 L464.2,758.7 L465.0,759.3 L465.7,760.0 L466.5,760.8 L467.2,761.5 L468.0,762.4 L468.8,763.3 L469.5,764.2 L470.3,765.2 L471.0,766.2 L471.8,767.2 L472.6,768.1 L473.3,769.0 L474.1,769.8 L474.8,770.6 L475.6,771.4 L476.4,772.2 L477.1,773.0 L477.9,773.7 L478.7,774.4 L479.4,775.0 L480.2,775.5 L480.9,775.9 L481.7,776.2 L482.5,776.5 L483.2,776.8 L484.0,777.1 L484.7,777.4 L485.5,777.6 L486.3,777.9 L487.0,778.1 L487.8,778.3 L488.5,778.5 L489.3,778.7 L490.1,778.9 L490.8,779.0 L491.6,779.2 L492.3,779.4 L493.1,779.5 L493.9,779.7 L494.6,779.8 L495.4,779.9 L496.1,780.1 L496.9,780.2 L497.7,780.3 L498.4,780.5 L499.2,780.6 L499.9,780.7 L500.7,780.8 L501.5,780.9 L502.2,781.0 L503.0,781.1 L503.7,781.2 L504.5,781.4 L505.3,781.5 L506.0,781.5 L506.8,781.6 L507.5,781.7 L508.3,781.8 L509.1,781.9 L509.8,782.0 L510.6,782.1 L511.3,782.2 L512.1,782.3 L512.9,782.4 L513.6,782.4 L514.4,782.5 L515.1,782.6 L515.9,782.7 L516.7,782.8 L517.4,782.9 L518.2,782.9 L518.9,783.0 L519.7,783.1 L520.5,783.2 L521.2,783.3 L522.0,783.3 L522.7,783.4 L523.5,783.5 L524.3,783.6 L525.0,783.7 L525.8,783.7 L526.5,783.8 L527.3,783.9 L528.1,784.0 L528.8,784.0 L529.6,784.1 L530.4,784.2 L531.1,784.3 L531.9,784.3 L532.6,784.4 L533.4,784.5 L534.2,784.5 L534.9,784.6 L535.7,784.7 L536.4,784.7 L537.2,784.8 L538.0,784.9 L538.7,784.9 L539.5,785.0 L540.2,785.1 L541.0,785.1 L541.8,785.2 L542.5,785.3 L543.3,785.3 L544.0,785.4 L544.8,785.5 L545.6,785.5 L546.3,785.6 L547.1,785.7 L547.8,785.7 L548.6,785.8 L549.4,785.8 L550.1,785.9 L550.9,786.0 L551.6,786.0 L552.4,786.1 L553.2,786.2 L553.9,786.2 L554.7,786.3 L555.4,786.4 L556.2,786.4 L557.0,786.5 L557.7,786.6 L558.5,786.6 L559.2,786.7 L560.0,786.8 L560.8,786.9 L561.5,786.9 L562.3,787.0 L563.0,787.1 L563.8,787.1 L564.6,787.2 L565.3,787.3 L566.1,787.4 L566.8,787.5 L567.6,787.5 L568.4,787.6 L569.1,787.7 L569.9,787.8 L570.6,787.8 L571.4,787.9 L572.2,788.0 L572.9,788.1 L573.7,788.2 L574.4,788.2 L575.2,788.3 L576.0,788.4 L576.7,788.5 L577.5,788.6 L578.2,788.7 L579.0,788.7 L579.8,788.8 L580.5,788.9 L581.3,789.0 L582.1,789.1 L582.8,789.2 L583.6,789.2 L584.3,789.3 L585.1,789.4 L585.9,789.5 L586.6,789.6 L587.4,789.6 L588.1,789.7 L588.9,789.8 L589.7,789.9 L590.4,789.9 L591.2,790.0 L591.9,790.1 L592.7,790.2 L593.5,790.2 L594.2,790.3 L595.0,790.4 L595.7,790.4 L596.5,790.5 L597.3,790.6 L598.0,790.6 L598.8,790.7 L599.5,790.8 L600.3,790.8 L601.1,790.9 L601.8,790.9 L602.6,791.0 L603.3,791.1 L604.1,791.1 L604.9,791.2 L605.6,791.2 L606.4,791.3 L607.1,791.4 L607.9,791.4 L608.7,791.5 L609.4,791.5 L610.2,791.6 L610.9,791.6 L611.7,791.7 L612.5,791.8 L613.2,791.8 L614.0,791.9 L614.7,791.9 L615.5,792.0 L616.3,792.0 L617.0,792.1 L617.8,792.1 L618.5,792.2 L619.3,792.3 L620.1,792.3 L620.8,792.4 L621.6,792.4 L622.3,792.5 L623.1,792.5 L623.9,792.6 L624.6,792.6 L625.4,792.7 L626.1,792.7 L626.9,792.8 L627.7,792.8 L628.4,792.9 L629.2,792.9 L629.9,793.0 L630.7,793.0 L631.5,793.1 L632.2,793.1 L633.0,793.2 L633.7,793.2 L634.5,793.3 L635.3,793.3 L636.0,793.4 L636.8,793.4 L637.6,793.5 L638.3,793.5 L639.1,793.6 L639.8,793.6 L640.6,793.7 L641.4,793.7 L642.1,793.8 L642.9,793.8 L643.6,793.9 L644.4,793.9 L645.2,793.9 L645.9,794.0 L646.7,794.0 L647.4,794.1 L648.2,794.1 L649.0,794.2 L649.7,794.2 L650.5,794.3 L651.2,794.3 L652.0,794.3 L652.8,794.4 L653.5,794.4 L654.3,794.5 L655.0,794.5 L655.8,794.6 L656.6,794.6 L657.3,794.6 L658.1,794.7 L658.8,794.7 L659.6,794.8 L660.4,794.8 L661.1,794.8 L661.9,794.9 L662.6,794.9 L663.4,795.0 L664.2,795.0 L664.9,795.0 L665.7,795.1 L666.4,795.1 L667.2,795.2 L668.0,795.2 L668.7,795.2 L669.5,795.3 L670.2,795.3 L671.0,795.3 L671.8,795.4 L672.5,795.4 L673.3,795.5 L674.0,795.5 L674.8,795.5 L675.6,795.6 L676.3,795.6 L677.1,795.6 L677.8,795.7 L678.6,795.7 L679.4,795.7 L680.1,795.8 L680.9,795.8 L681.6,795.8 L682.4,795.9 L683.2,795.9 L683.9,795.9 L684.7,796.0 L685.4,796.0 L686.2,796.0 L687.0,796.1 L687.7,796.1 L688.5,796.1 L689.3,796.2 L690.0,796.2 L690.8,796.2 L691.5,796.3 L692.3,796.3 L693.1,796.3 L693.8,796.4 L694.6,796.4 L695.3,796.4 L696.1,796.4 L696.9,796.5 L697.6,796.5 L698.4,796.5 L699.1,796.6 L699.9,796.6 L700.7,796.6 L701.4,796.7 L702.2,796.7 L702.9,796.7 L703.7,796.7 L704.5,796.8 L705.2,796.8 L706.0,796.8 L706.7,796.9 L707.5,796.9 L708.3,796.9 L709.0,796.9 L709.8,797.0 L710.5,797.0 L711.3,797.0 L712.1,797.0 L712.8,797.1 L713.6,797.1 L714.3,797.1 L715.1,797.2 L715.9,797.2 L716.6,797.2 L717.4,797.2 L718.1,797.3 L718.9,797.3 L719.7,797.3 L720.4,797.3 L721.2,797.4 L721.9,797.4 L722.7,797.4 L723.5,797.4 L724.2,797.5 L725.0,797.5 L725.7,797.5 L726.5,797.5 L727.3,797.6 L728.0,797.6 L728.8,797.6 L729.5,797.6 L730.3,797.7 L731.1,797.7 L731.8,797.7 L732.6,797.7 L733.3,797.8 L734.1,797.8 L734.9,797.8 L735.6,797.8 L736.4,797.9 L737.1,797.9 L737.9,797.9 L738.7,797.9 L739.4,798.0 L740.2,798.0 L741.0,798.0 L741.7,798.0 L742.5,798.1 L743.2,798.1 L744.0,798.1 L744.8,798.1 L745.5,798.2 L746.3,798.2 L747.0,798.2 L747.8,798.2 L748.6,798.3 L749.3,798.3 L750.1,798.3 L750.8,798.3 L751.6,798.4 L752.4,798.4 L753.1,798.4 L753.9,798.4 L754.6,798.5 L755.4,798.5 L756.2,798.5 L756.9,798.5 L757.7,798.6 L758.4,798.6 L759.2,798.6 L760.0,798.6 L760.7,798.7 L761.5,798.7 L762.2,798.7 L763.0,798.7 L763.8,798.8 L764.5,798.8 L765.3,798.8 L766.0,798.8 L766.8,798.8 L767.6,798.9 L768.3,798.9 L769.1,798.9 L769.8,798.9 L770.6,799.0 L771.4,799.0 L772.1,799.0 L772.9,799.0 L773.6,799.1 L774.4,799.1 L775.2,799.1 L775.9,799.1 L776.7,799.1 L777.4,799.2 L778.2,799.2 L779.0,799.2 L779.7,799.2 L780.5,799.3 L781.2,799.3 L782.0,799.3 L782.8,799.3 L783.5,799.3 L784.3,799.4 L785.0,799.4 L785.8,799.4 L786.6,799.4 L787.3,799.5 L788.1,799.5 L788.8,799.5 L789.6,799.5 L790.4,799.5 L791.1,799.6 L791.9,799.6 L792.7,799.6 L793.4,799.6 L794.2,799.7 L794.9,799.7 L795.7,799.7 L796.5,799.7 L797.2,799.7 L798.0,799.8 L798.7,799.8 L799.5,799.8 L800.3,799.8 L801.0,799.8 L801.8,799.9 L802.5,799.9 L803.3,799.9 L804.1,799.9 L804.8,799.9 L805.6,800.0 L806.3,800.0 L807.1,800.0 L807.9,800.0 L808.6,800.0 L809.4,800.1 L810.1,800.1 L810.9,800.1 L811.7,800.1 L812.4,800.1 L813.2,800.2 L813.9,800.2 L814.7,800.2 L815.5,800.2 L816.2,800.2 L817.0,800.3 L817.7,800.3 L818.5,800.3" fill="none" stroke="#000" stroke-width="2.25"/>
<line x1="135" y1="475.3" x2="135" y2="806.6" stroke="#111" stroke-width="2.1"/>
<line x1="134" y1="805.6" x2="819.1" y2="805.6" stroke="#111" stroke-width="2.1"/>
<line x1="135" y1="475.8" x2="142.7" y2="475.8" stroke="#111" stroke-width="2"/>
<line x1="135" y1="607.8" x2="142.7" y2="607.8" stroke="#111" stroke-width="2"/>
<line x1="135" y1="739.7" x2="142.7" y2="739.7" stroke="#111" stroke-width="2"/>
<line x1="232.5" y1="805.6" x2="232.5" y2="797.6" stroke="#111" stroke-width="2"/>
<line x1="330.0" y1="805.6" x2="330.0" y2="797.6" stroke="#111" stroke-width="2"/>
<line x1="427.5" y1="805.6" x2="427.5" y2="797.6" stroke="#111" stroke-width="2"/>
<line x1="525.0" y1="805.6" x2="525.0" y2="797.6" stroke="#111" stroke-width="2"/>
<line x1="622.5" y1="805.6" x2="622.5" y2="797.6" stroke="#111" stroke-width="2"/>
<line x1="720.0" y1="805.6" x2="720.0" y2="797.6" stroke="#111" stroke-width="2"/>
<line x1="817.5" y1="805.6" x2="817.5" y2="797.6" stroke="#111" stroke-width="2"/>
<line x1="581.9" y1="478.9" x2="657.2" y2="478.9" stroke="#5e1f7a" stroke-width="4.2"/>
<line x1="583.2" y1="524.6" x2="659" y2="524.6" stroke="#ae9a22" stroke-width="4.2"/>
<line x1="582.2" y1="570.5" x2="657.9" y2="570.5" stroke="#ae1e1e" stroke-width="4.2"/>
<line x1="585" y1="615.8" x2="660.6" y2="615.8" stroke="#6a88c8" stroke-width="4.2"/>
<path d="M1012.5,792.1 L1014.8,791.7 L1017.1,791.4 L1019.4,791.0 L1021.6,790.6 L1023.9,790.3 L1026.2,789.9 L1028.5,789.5 L1030.8,789.1 L1033.1,788.7 L1035.4,788.3 L1037.6,787.9 L1039.9,787.5 L1042.2,787.1 L1044.5,786.7 L1046.8,786.3 L1049.1,785.9 L1051.4,785.4 L1053.6,785.0 L1055.9,784.6 L1058.2,784.1 L1060.5,783.7 L1062.8,783.2 L1065.1,782.8 L1067.4,782.3 L1069.6,781.9 L1071.9,781.4 L1074.2,780.9 L1076.5,780.5 L1078.8,780.0 L1081.1,779.5 L1083.4,779.0 L1085.7,778.5 L1087.9,778.0 L1090.2,777.5 L1092.5,777.0 L1094.8,776.5 L1097.1,776.0 L1099.4,775.5 L1101.7,775.0 L1103.9,774.5 L1106.2,773.9 L1108.5,773.4 L1110.8,772.9 L1113.1,772.3 L1115.4,771.8 L1117.7,771.2 L1119.9,770.7 L1122.2,770.1 L1124.5,769.5 L1126.8,769.0 L1129.1,768.4 L1131.4,767.8 L1133.7,767.2 L1135.9,766.7 L1138.2,766.1 L1140.5,765.5 L1142.8,764.9 L1145.1,764.3 L1147.4,763.7 L1149.7,763.1 L1151.9,762.4 L1154.2,761.8 L1156.5,761.2 L1158.8,760.6 L1161.1,759.9 L1163.4,759.3 L1165.7,758.7 L1167.9,758.0 L1170.2,757.4 L1172.5,756.7 L1174.8,756.0 L1177.1,755.4 L1179.4,754.7 L1181.7,754.0 L1183.9,753.4 L1186.2,752.7 L1188.5,752.0 L1190.8,751.3 L1193.1,750.6 L1195.4,749.9 L1197.7,749.2 L1199.9,748.5 L1202.2,747.8 L1204.5,747.1 L1206.8,746.4 L1209.1,745.7 L1211.4,744.9 L1213.7,744.2 L1215.9,743.5 L1218.2,742.7 L1220.5,742.0 L1222.8,741.2 L1225.1,740.5 L1227.4,739.7 L1229.7,739.0 L1232.0,738.2 L1234.2,737.4 L1236.5,736.6 L1238.8,735.9 L1241.1,735.1 L1243.4,734.3 L1245.7,733.5 L1248.0,732.7 L1250.2,731.9 L1252.5,731.1 L1254.8,730.3 L1257.1,729.5 L1259.4,728.7 L1261.7,727.8 L1264.0,727.0 L1266.2,726.2 L1268.5,725.3 L1270.8,724.5 L1273.1,723.7 L1275.4,722.8 L1277.7,722.0 L1280.0,721.1 L1282.2,720.2 L1284.5,719.4 L1286.8,718.5 L1289.1,717.6 L1291.4,716.7 L1293.7,715.9 L1296.0,715.0 L1298.2,714.1 L1300.5,713.2 L1302.8,712.3 L1305.1,711.4 L1307.4,710.5 L1309.7,709.6 L1312.0,708.6 L1314.2,707.7 L1316.5,706.8 L1318.8,705.9 L1321.1,704.9 L1323.4,704.0 L1325.7,703.1 L1328.0,702.1 L1330.2,701.2 L1332.5,700.2 L1334.8,699.2 L1337.1,698.3 L1339.4,697.3 L1341.7,696.3 L1344.0,695.4 L1346.2,694.4 L1348.5,693.4 L1350.8,692.4 L1353.1,691.4 L1355.4,690.4 L1357.7,689.4 L1360.0,688.4 L1362.3,687.4 L1364.5,686.4 L1366.8,685.3 L1369.1,684.3 L1371.4,683.3 L1373.7,682.3 L1376.0,681.2 L1378.3,680.2 L1380.5,679.1 L1382.8,678.1 L1385.1,677.0 L1387.4,676.0 L1389.7,674.9 L1392.0,673.8 L1394.3,672.8 L1396.5,671.7 L1398.8,670.6 L1401.1,669.5 L1403.4,668.4 L1405.7,667.3 L1408.0,666.2 L1410.3,665.1 L1412.5,664.0 L1414.8,662.9 L1417.1,661.8 L1419.4,660.7 L1421.7,659.5 L1424.0,658.4 L1426.3,657.3 L1428.5,656.1 L1430.8,655.0 L1433.1,653.9 L1435.4,652.7 L1437.7,651.6 L1440.0,650.4 L1442.3,649.2 L1444.5,648.1 L1446.8,646.9 L1449.1,645.7 L1451.4,644.5 L1453.7,643.4 L1456.0,642.2 L1458.3,641.0 L1460.5,639.8 L1462.8,638.6 L1465.1,637.4 L1467.4,636.2 L1469.7,634.9 L1472.0,633.7 L1474.3,632.5 L1476.5,631.3 L1478.8,630.0 L1481.1,628.8 L1483.4,627.6 L1485.7,626.3 L1488.0,625.1 L1490.3,623.8 L1492.6,622.6 L1494.8,621.3 L1497.1,620.0 L1499.4,618.8 L1501.7,617.5 L1504.0,616.2 L1506.3,614.9 L1508.6,613.6 L1510.8,612.3 L1513.1,611.0 L1515.4,609.7 L1517.7,608.4 L1520.0,607.1 L1522.3,605.8 L1524.6,604.5 L1526.8,603.2 L1529.1,601.8 L1531.4,600.5 L1533.7,599.2 L1536.0,597.8 L1538.3,596.5 L1540.6,595.1 L1542.8,593.8 L1545.1,592.4 L1547.4,591.1 L1549.7,589.7 L1552.0,588.3 L1554.3,587.0 L1556.6,585.6 L1558.8,584.2 L1561.1,582.8 L1563.4,581.4 L1565.7,580.0 L1568.0,578.6 L1570.3,577.2 L1572.6,575.8 L1574.8,574.4 L1577.1,573.0 L1579.4,571.6 L1581.7,570.1 L1584.0,568.7 L1586.3,567.3 L1588.6,565.8 L1590.8,564.4 L1593.1,562.9 L1595.4,561.5 L1597.7,560.0 L1600.0,558.6 L1602.3,557.1 L1604.6,555.6 L1606.8,554.2 L1609.1,552.7 L1611.4,551.2 L1613.7,549.7 L1616.0,548.2 L1618.3,546.7 L1620.6,545.2 L1622.8,543.7 L1625.1,542.2 L1627.4,540.7 L1629.7,539.2 L1632.0,537.7 L1634.3,536.1 L1636.6,534.6 L1638.9,533.1 L1641.1,531.5 L1643.4,530.0 L1645.7,528.5 L1648.0,526.9 L1650.3,525.3 L1652.6,523.8 L1654.9,522.2 L1657.1,520.7 L1659.4,519.1 L1661.7,517.5 L1664.0,515.9 L1666.3,514.3 L1668.6,512.8 L1670.9,511.2 L1673.1,509.6 L1675.4,508.0 L1677.7,506.3 L1680.0,504.7 L1682.3,503.1 L1684.6,501.5 L1686.9,499.9 L1689.1,498.2 L1691.4,496.6 L1693.7,495.0 L1696.0,493.3" fill="none" stroke="#b41c24" stroke-width="4.3"/>
<g stroke="#000" stroke-width="2.3"><line x1="1053.2" y1="786.6" x2="1053.2" y2="787.8000000000001"/><line x1="1047.2" y1="786.6" x2="1059.2" y2="786.6"/><line x1="1047.2" y1="787.8000000000001" x2="1059.2" y2="787.8000000000001"/><line x1="1254.2" y1="724.9000000000001" x2="1254.2" y2="731.5"/><line x1="1248.2" y1="724.9000000000001" x2="1260.2" y2="724.9000000000001"/><line x1="1248.2" y1="731.5" x2="1260.2" y2="731.5"/><line x1="1294.7" y1="712.3" x2="1294.7" y2="717.5"/><line x1="1288.7" y1="712.3" x2="1300.7" y2="712.3"/><line x1="1288.7" y1="717.5" x2="1300.7" y2="717.5"/><line x1="1335" y1="687.9000000000001" x2="1335" y2="693.5"/><line x1="1329" y1="687.9000000000001" x2="1341" y2="687.9000000000001"/><line x1="1329" y1="693.5" x2="1341" y2="693.5"/><line x1="1367" y1="695.25" x2="1367" y2="700.95"/><line x1="1361" y1="695.25" x2="1373" y2="695.25"/><line x1="1361" y1="700.95" x2="1373" y2="700.95"/><line x1="1447.4" y1="611.9" x2="1447.4" y2="622.1"/><line x1="1441.4" y1="611.9" x2="1453.4" y2="611.9"/><line x1="1441.4" y1="622.1" x2="1453.4" y2="622.1"/><line x1="1535.8" y1="619.1" x2="1535.8" y2="631.9"/><line x1="1529.8" y1="619.1" x2="1541.8" y2="619.1"/><line x1="1529.8" y1="631.9" x2="1541.8" y2="631.9"/><line x1="1576" y1="575.25" x2="1576" y2="591.3499999999999"/><line x1="1570" y1="575.25" x2="1582" y2="575.25"/><line x1="1570" y1="591.3499999999999" x2="1582" y2="591.3499999999999"/><line x1="1656" y1="495.0" x2="1656" y2="518.0"/><line x1="1650" y1="495.0" x2="1662" y2="495.0"/><line x1="1650" y1="518.0" x2="1662" y2="518.0"/></g>
<g fill="#000"><circle cx="1053.2" cy="787.2" r="3"/><circle cx="1254.2" cy="728.2" r="3"/><circle cx="1294.7" cy="714.9" r="3"/><circle cx="1335" cy="690.7" r="3"/><circle cx="1367" cy="698.1" r="3"/><circle cx="1447.4" cy="617" r="3"/><circle cx="1535.8" cy="625.5" r="3"/><circle cx="1576" cy="583.3" r="3"/><circle cx="1656" cy="506.5" r="3"/></g>
<line x1="1013.5" y1="472.4" x2="1013.5" y2="803.8" stroke="#111" stroke-width="2.2"/>
<line x1="1012.4" y1="802.8" x2="1697.6" y2="802.8" stroke="#111" stroke-width="2.2"/>
<line x1="1013.5" y1="472.9" x2="1021" y2="472.9" stroke="#111" stroke-width="2"/>
<line x1="1013.5" y1="551" x2="1021" y2="551" stroke="#111" stroke-width="2"/>
<line x1="1013.5" y1="629.4" x2="1021" y2="629.4" stroke="#111" stroke-width="2"/>
<line x1="1013.5" y1="707.9" x2="1021" y2="707.9" stroke="#111" stroke-width="2"/>
<line x1="1013.5" y1="787" x2="1021" y2="787" stroke="#111" stroke-width="2"/>
<line x1="1053.2" y1="802.8" x2="1053.2" y2="795.3" stroke="#111" stroke-width="2"/>
<line x1="1214" y1="802.8" x2="1214" y2="795.3" stroke="#111" stroke-width="2"/>
<line x1="1374.8" y1="802.8" x2="1374.8" y2="795.3" stroke="#111" stroke-width="2"/>
<line x1="1535.6" y1="802.8" x2="1535.6" y2="795.3" stroke="#111" stroke-width="2"/>
<line x1="1696.4" y1="802.8" x2="1696.4" y2="795.3" stroke="#111" stroke-width="2"/>
<text x="0.77" y="33.60" font-size="34.5" textLength="39.95" lengthAdjust="spacingAndGlyphs" fill="#000">(a)</text>
<text x="56.38" y="34.54" font-size="36" textLength="59.82" lengthAdjust="spacingAndGlyphs" fill="#000">400</text>
<text x="56.71" y="196.14" font-size="36" textLength="59.49" lengthAdjust="spacingAndGlyphs" fill="#000">200</text>
<text transform="rotate(-90)" x="-244.51" y="26.00" font-size="36" textLength="113.00" lengthAdjust="spacingAndGlyphs" fill="#000">Counts</text>
<text x="103.28" y="389.14" font-size="36" textLength="59.10" lengthAdjust="spacingAndGlyphs" fill="#000">730</text>
<text x="308.18" y="389.14" font-size="36" textLength="59.21" lengthAdjust="spacingAndGlyphs" fill="#000">740</text>
<text x="505.70" y="389.14" font-size="36" textLength="58.68" lengthAdjust="spacingAndGlyphs" fill="#000">750</text>
<text x="707.21" y="389.14" font-size="36" textLength="58.15" lengthAdjust="spacingAndGlyphs" fill="#000">760</text>
<text x="412.03" y="429.70" font-size="38.6" textLength="21.51" lengthAdjust="spacingAndGlyphs" fill="#000" style="font-family:'Liberation Serif', serif;stroke-width:0">λ</text>
<text x="438.96" y="425.10" font-size="35" textLength="74.39" lengthAdjust="spacingAndGlyphs" fill="#000">(nm)</text>
<text x="859.89" y="26.20" font-size="34.5" textLength="43.52" lengthAdjust="spacingAndGlyphs" fill="#000">(b)</text>
<text x="938.05" y="34.94" font-size="36" textLength="59.44" lengthAdjust="spacingAndGlyphs" fill="#000">800</text>
<text x="937.78" y="114.14" font-size="36" textLength="59.93" lengthAdjust="spacingAndGlyphs" fill="#000">600</text>
<text x="937.57" y="191.44" font-size="36" textLength="60.34" lengthAdjust="spacingAndGlyphs" fill="#000">400</text>
<text x="937.79" y="277.04" font-size="36" textLength="60.12" lengthAdjust="spacingAndGlyphs" fill="#000">200</text>
<text transform="rotate(-90)" x="-206.51" y="920.00" font-size="36" textLength="113.10" lengthAdjust="spacingAndGlyphs" fill="#000">Counts</text>
<text x="986.33" y="383.44" font-size="36" textLength="57.73" lengthAdjust="spacingAndGlyphs" fill="#000">730</text>
<text x="1191.43" y="383.44" font-size="36" textLength="57.73" lengthAdjust="spacingAndGlyphs" fill="#000">740</text>
<text x="1387.90" y="383.44" font-size="36" textLength="58.68" lengthAdjust="spacingAndGlyphs" fill="#000">750</text>
<text x="1589.20" y="383.44" font-size="36" textLength="58.68" lengthAdjust="spacingAndGlyphs" fill="#000">760</text>
<text x="1551.10" y="70.92" font-size="48.3" textLength="27.11" lengthAdjust="spacingAndGlyphs" fill="#000">0</text>
<text x="1574.60" y="61.91" font-size="46" textLength="18.12" lengthAdjust="spacingAndGlyphs" fill="#000">°</text>
<text x="1549.57" y="136.22" font-size="48.3" textLength="52.99" lengthAdjust="spacingAndGlyphs" fill="#000">90</text>
<text x="1601.86" y="129.41" font-size="46" textLength="18.41" lengthAdjust="spacingAndGlyphs" fill="#000">°</text>
<text x="0.73" y="446.80" font-size="34.5" textLength="38.94" lengthAdjust="spacingAndGlyphs" fill="#000">(c)</text>
<text x="42.02" y="490.84" font-size="36" textLength="78.87" lengthAdjust="spacingAndGlyphs" fill="#000">2500</text>
<text x="38.86" y="620.94" font-size="36" textLength="80.05" lengthAdjust="spacingAndGlyphs" fill="#000">1500</text>
<text x="56.47" y="751.14" font-size="36" textLength="59.63" lengthAdjust="spacingAndGlyphs" fill="#000">500</text>
<text transform="rotate(-90)" x="-688.33" y="26.00" font-size="36" textLength="113.93" lengthAdjust="spacingAndGlyphs" fill="#000">Counts</text>
<text x="103.19" y="842.84" font-size="36" textLength="58.99" lengthAdjust="spacingAndGlyphs" fill="#000">730</text>
<text x="308.17" y="842.84" font-size="36" textLength="59.52" lengthAdjust="spacingAndGlyphs" fill="#000">740</text>
<text x="506.74" y="842.84" font-size="36" textLength="57.41" lengthAdjust="spacingAndGlyphs" fill="#000">750</text>
<text x="708.12" y="842.84" font-size="36" textLength="58.04" lengthAdjust="spacingAndGlyphs" fill="#000">760</text>
<text x="403.21" y="882.00" font-size="38.2" textLength="21.94" lengthAdjust="spacingAndGlyphs" fill="#000" style="font-family:'Liberation Serif', serif;stroke-width:0">λ</text>
<text x="430.03" y="877.60" font-size="35" textLength="75.24" lengthAdjust="spacingAndGlyphs" fill="#000">(nm)</text>
<text x="660.77" y="489.84" font-size="36" textLength="57.68" lengthAdjust="spacingAndGlyphs" fill="#000">150</text>
<text x="722.20" y="488.60" font-size="38" textLength="24.47" lengthAdjust="spacingAndGlyphs" fill="#000" style="font-family:'Liberation Serif', serif;stroke-width:0">μ</text>
<text x="746.65" y="489.90" font-size="37.4" textLength="32.07" lengthAdjust="spacingAndGlyphs" fill="#000">W</text>
<text x="661.37" y="539.04" font-size="36" textLength="57.58" lengthAdjust="spacingAndGlyphs" fill="#000">120</text>
<text x="722.20" y="537.80" font-size="38" textLength="24.47" lengthAdjust="spacingAndGlyphs" fill="#000" style="font-family:'Liberation Serif', serif;stroke-width:0">μ</text>
<text x="746.65" y="539.10" font-size="37.4" textLength="32.07" lengthAdjust="spacingAndGlyphs" fill="#000">W</text>
<text x="673.13" y="582.34" font-size="36" textLength="38.37" lengthAdjust="spacingAndGlyphs" fill="#000">78</text>
<text x="722.20" y="581.10" font-size="38" textLength="24.47" lengthAdjust="spacingAndGlyphs" fill="#000" style="font-family:'Liberation Serif', serif;stroke-width:0">μ</text>
<text x="746.65" y="582.40" font-size="37.4" textLength="32.07" lengthAdjust="spacingAndGlyphs" fill="#000">W</text>
<text x="672.50" y="627.14" font-size="36" textLength="38.86" lengthAdjust="spacingAndGlyphs" fill="#000">50</text>
<text x="722.90" y="625.90" font-size="38" textLength="24.47" lengthAdjust="spacingAndGlyphs" fill="#000" style="font-family:'Liberation Serif', serif;stroke-width:0">μ</text>
<text x="747.35" y="627.20" font-size="37.4" textLength="31.36" lengthAdjust="spacingAndGlyphs" fill="#000">W</text>
<text x="865.69" y="446.60" font-size="34.5" textLength="43.63" lengthAdjust="spacingAndGlyphs" fill="#000">(d)</text>
<text x="921.32" y="488.14" font-size="36" textLength="78.87" lengthAdjust="spacingAndGlyphs" fill="#000">2000</text>
<text x="919.90" y="565.84" font-size="36" textLength="78.89" lengthAdjust="spacingAndGlyphs" fill="#000">1500</text>
<text x="920.50" y="641.54" font-size="36" textLength="78.78" lengthAdjust="spacingAndGlyphs" fill="#000">1000</text>
<text x="938.95" y="719.74" font-size="36" textLength="60.36" lengthAdjust="spacingAndGlyphs" fill="#000">500</text>
<text x="978.32" y="797.54" font-size="36" textLength="21.06" lengthAdjust="spacingAndGlyphs" fill="#000">0</text>
<text transform="rotate(-90)" x="-775.95" y="903.20" font-size="36" textLength="288.15" lengthAdjust="spacingAndGlyphs" fill="#000">Integrated Counts</text>
<text x="1045.96" y="842.44" font-size="36" textLength="20.48" lengthAdjust="spacingAndGlyphs" fill="#000">0</text>
<text x="1195.48" y="842.44" font-size="36" textLength="39.71" lengthAdjust="spacingAndGlyphs" fill="#000">40</text>
<text x="1357.10" y="842.44" font-size="36" textLength="40.83" lengthAdjust="spacingAndGlyphs" fill="#000">80</text>
<text x="1510.15" y="842.44" font-size="36" textLength="58.01" lengthAdjust="spacingAndGlyphs" fill="#000">120</text>
<text x="1663.57" y="842.44" font-size="36" textLength="59.83" lengthAdjust="spacingAndGlyphs" fill="#000">160</text>
<text x="1228.40" y="882.60" font-size="37" textLength="198.03" lengthAdjust="spacingAndGlyphs" fill="#000">Input power</text>
<text x="1428.68" y="880.90" font-size="38" textLength="12.43" lengthAdjust="spacingAndGlyphs" fill="#000">(</text>
<text x="1441.42" y="880.40" font-size="38" textLength="24.34" lengthAdjust="spacingAndGlyphs" fill="#000" style="font-family:'Liberation Serif', serif;stroke-width:0">μ</text>
<text x="1465.95" y="881.80" font-size="37.4" textLength="32.07" lengthAdjust="spacingAndGlyphs" fill="#000">W</text>
<text x="1500.72" y="879.90" font-size="38" textLength="10.17" lengthAdjust="spacingAndGlyphs" fill="#000">)</text>
</svg>
</body></html>
